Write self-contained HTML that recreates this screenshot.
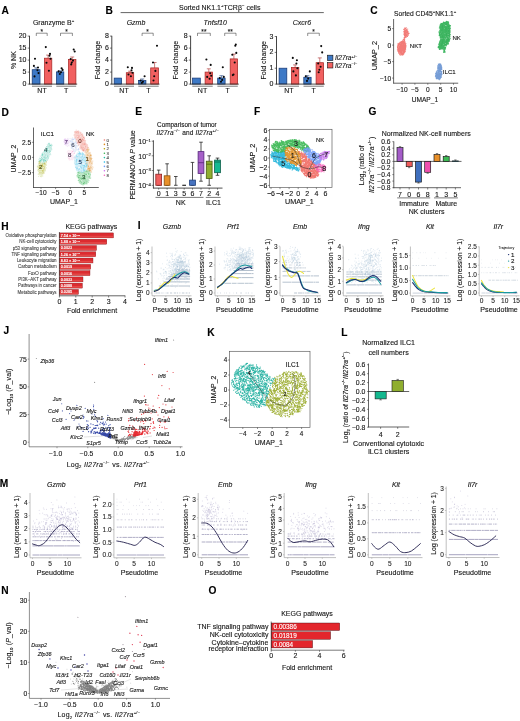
<!DOCTYPE html>
<html lang="en"><head><meta charset="utf-8"><title>Figure</title>
<style>
html,body{margin:0;padding:0;background:#fff;}
body{width:520px;height:721px;overflow:hidden;}
svg{display:block;font-family:"Liberation Sans",sans-serif;filter:blur(0.4px);}
svg text{white-space:pre;}
</style></head><body>
<svg width="520" height="721" viewBox="0 0 520 721">
<rect width="520" height="721" fill="#fff"/>
<g>
<text x="1.5" y="14.2" font-size="10.2" text-anchor="start" fill="#000" stroke="#000" stroke-width="0.12" font-weight="bold">A</text>
<path d="M29.5 35.8L29.5 84.4" stroke="#222" stroke-width="0.85" fill="none"/>
<path d="M27.7 84.1L29.5 84.1" stroke="#222" stroke-width="0.6" fill="none"/>
<text x="26.5" y="86.1" font-size="7.0" text-anchor="end" fill="#161616" stroke="#161616" stroke-width="0.12">0</text>
<path d="M27.7 72.1L29.5 72.1" stroke="#222" stroke-width="0.6" fill="none"/>
<text x="26.5" y="74.1" font-size="7.0" text-anchor="end" fill="#161616" stroke="#161616" stroke-width="0.12">5</text>
<path d="M27.7 60.1L29.5 60.1" stroke="#222" stroke-width="0.6" fill="none"/>
<text x="26.5" y="62.1" font-size="7.0" text-anchor="end" fill="#161616" stroke="#161616" stroke-width="0.12">10</text>
<path d="M27.7 48.1L29.5 48.1" stroke="#222" stroke-width="0.6" fill="none"/>
<text x="26.5" y="50.1" font-size="7.0" text-anchor="end" fill="#161616" stroke="#161616" stroke-width="0.12">15</text>
<path d="M27.7 36.1L29.5 36.1" stroke="#222" stroke-width="0.6" fill="none"/>
<text x="26.5" y="38.1" font-size="7.0" text-anchor="end" fill="#161616" stroke="#161616" stroke-width="0.12">20</text>
<rect x="32.2" y="69.7" width="7.8" height="14.4" fill="#3d79c6" stroke="#173a78" stroke-width="0.75"/>
<path d="M36.1 69.7L36.1 67.8" stroke="#173a78" stroke-width="0.6" fill="none"/>
<path d="M34.1 67.8L38.1 67.8" stroke="#173a78" stroke-width="0.6" fill="none"/>
<path d="M34.5 76.4h0M38.5 73.1h0M37.5 70.2h0M38 67.5h0M33.9 65.9h0M35 58.7h0" stroke="#0a0a0a" stroke-width="2.1" stroke-linecap="round" fill="none"/>
<rect x="44.5" y="58.2" width="7.3" height="25.9" fill="#f16060" stroke="#a82826" stroke-width="0.75"/>
<path d="M48.1 58.2L48.1 55.1" stroke="#a82826" stroke-width="0.6" fill="none"/>
<path d="M46.1 55.1L50.1 55.1" stroke="#a82826" stroke-width="0.6" fill="none"/>
<path d="M48.9 70.7h0M46.5 62.7h0M50.5 58.7h0M49.5 55.8h0M50 53.9h0M45.8 47.1h0" stroke="#0a0a0a" stroke-width="2.1" stroke-linecap="round" fill="none"/>
<rect x="56.5" y="71.9" width="7.3" height="12.2" fill="#3d79c6" stroke="#173a78" stroke-width="0.75"/>
<path d="M60.2 71.9L60.2 70.9" stroke="#173a78" stroke-width="0.6" fill="none"/>
<path d="M58.2 70.9L62.2 70.9" stroke="#173a78" stroke-width="0.6" fill="none"/>
<path d="M59.8 74h0M61 72.3h0M58.6 71.4h0M62.6 69.9h0M61.6 68.3h0" stroke="#0a0a0a" stroke-width="2.1" stroke-linecap="round" fill="none"/>
<rect x="68.5" y="59.6" width="7.4" height="24.5" fill="#f16060" stroke="#a82826" stroke-width="0.75"/>
<path d="M72.2 59.6L72.2 57" stroke="#a82826" stroke-width="0.6" fill="none"/>
<path d="M70.2 57L74.2 57" stroke="#a82826" stroke-width="0.6" fill="none"/>
<path d="M71.2 64.4h0M71.8 62.5h0M73 60.6h0M70.7 59.1h0M74.7 51.5h0M73.7 49.5h0" stroke="#0a0a0a" stroke-width="2.1" stroke-linecap="round" fill="none"/>
<path d="M29.3 84.1L77.2 84.1" stroke="#222" stroke-width="0.8" fill="none"/>
<text x="53.6" y="24.8" font-size="7.0" text-anchor="middle" fill="#161616" stroke="#161616" stroke-width="0.12">Granzyme B<tspan font-size="4.3" dy="-2.6">+</tspan><tspan dy="2.6" font-size="4.3">​</tspan></text>
<text x="13.9" y="62.6" font-size="7.0" text-anchor="middle" fill="#161616" stroke="#161616" stroke-width="0.12" transform="rotate(-90 13.9 60.1)">% NK</text>
<path d="M32 86.2L52 86.2" stroke="#222" stroke-width="0.6" fill="none"/>
<text x="42" y="93" font-size="7.0" text-anchor="middle" fill="#161616" stroke="#161616" stroke-width="0.12">NT</text>
<path d="M56.3 86.2L76.2 86.2" stroke="#222" stroke-width="0.6" fill="none"/>
<text x="66.2" y="93" font-size="7.0" text-anchor="middle" fill="#161616" stroke="#161616" stroke-width="0.12">T</text>
<path d="M36.3 35.6L36.3 33.2L47.2 33.2L47.2 35.6" stroke="#222" stroke-width="0.5" fill="none" stroke-linejoin="round" stroke-linecap="round"/>
<text x="41.8" y="33.9" font-size="6.5" text-anchor="middle" fill="#161616" stroke="#161616" stroke-width="0.12">*</text>
<path d="M60.5 35.6L60.5 33.2L72.4 33.2L72.4 35.6" stroke="#222" stroke-width="0.5" fill="none" stroke-linejoin="round" stroke-linecap="round"/>
<text x="66.5" y="33.9" font-size="6.5" text-anchor="middle" fill="#161616" stroke="#161616" stroke-width="0.12">*</text>
</g>
<g>
<text x="105.4" y="14" font-size="10.2" text-anchor="start" fill="#000" stroke="#000" stroke-width="0.12" font-weight="bold">B</text>
<path d="M120.6 12.6L323.8 12.6" stroke="#222" stroke-width="0.7" fill="none"/>
<text x="219.7" y="9.7" font-size="7.0" text-anchor="middle" fill="#161616" stroke="#161616" stroke-width="0.12">Sorted NK1.1<tspan font-size="4.3" dy="-2.6">+</tspan><tspan dy="2.6" font-size="4.3">​</tspan>TCRβ<tspan font-size="4.3" dy="-2.6">−</tspan><tspan dy="2.6" font-size="4.3">​</tspan> cells</text>
<path d="M111.8 35.8L111.8 84.4" stroke="#222" stroke-width="0.85" fill="none"/>
<path d="M110 84.1L111.8 84.1" stroke="#222" stroke-width="0.6" fill="none"/>
<text x="108.8" y="86.1" font-size="7.0" text-anchor="end" fill="#161616" stroke="#161616" stroke-width="0.12">0</text>
<path d="M110 72.1L111.8 72.1" stroke="#222" stroke-width="0.6" fill="none"/>
<text x="108.8" y="74.1" font-size="7.0" text-anchor="end" fill="#161616" stroke="#161616" stroke-width="0.12">2</text>
<path d="M110 60.1L111.8 60.1" stroke="#222" stroke-width="0.6" fill="none"/>
<text x="108.8" y="62.1" font-size="7.0" text-anchor="end" fill="#161616" stroke="#161616" stroke-width="0.12">4</text>
<path d="M110 48.1L111.8 48.1" stroke="#222" stroke-width="0.6" fill="none"/>
<text x="108.8" y="50.1" font-size="7.0" text-anchor="end" fill="#161616" stroke="#161616" stroke-width="0.12">6</text>
<path d="M110 36.1L111.8 36.1" stroke="#222" stroke-width="0.6" fill="none"/>
<text x="108.8" y="38.1" font-size="7.0" text-anchor="end" fill="#161616" stroke="#161616" stroke-width="0.12">8</text>
<rect x="114.2" y="78.1" width="7.4" height="6" fill="#3d79c6" stroke="#173a78" stroke-width="0.75"/>
<rect x="126.3" y="72.7" width="7.4" height="11.4" fill="#f16060" stroke="#a82826" stroke-width="0.75"/>
<path d="M130.1 72.7L130.1 71.2" stroke="#a82826" stroke-width="0.6" fill="none"/>
<path d="M128.1 71.2L132.1 71.2" stroke="#a82826" stroke-width="0.6" fill="none"/>
<path d="M130.9 76.3h0M128.5 74.5h0M132.5 72.7h0M131.5 70.3h0M132 67.9h0M127.8 67.3h0" stroke="#0a0a0a" stroke-width="2.1" stroke-linecap="round" fill="none"/>
<rect x="138.6" y="80.5" width="7.3" height="3.6" fill="#3d79c6" stroke="#173a78" stroke-width="0.75"/>
<path d="M142.2 80.5L142.2 79" stroke="#173a78" stroke-width="0.6" fill="none"/>
<path d="M140.2 79L144.2 79" stroke="#173a78" stroke-width="0.6" fill="none"/>
<path d="M141.8 82.9h0M143 81.7h0M140.6 80.5h0M144.6 76.3h0" stroke="#0a0a0a" stroke-width="2.1" stroke-linecap="round" fill="none"/>
<rect x="150.7" y="67.9" width="7.8" height="16.2" fill="#f16060" stroke="#a82826" stroke-width="0.75"/>
<path d="M154.6 67.9L154.6 62.5" stroke="#a82826" stroke-width="0.6" fill="none"/>
<path d="M152.6 62.5L156.6 62.5" stroke="#a82826" stroke-width="0.6" fill="none"/>
<path d="M153.5 80.5h0M154.2 76.3h0M155.4 70.9h0M153 62.5h0M157 45.7h0" stroke="#0a0a0a" stroke-width="2.1" stroke-linecap="round" fill="none"/>
<path d="M111.6 84.1L159.5 84.1" stroke="#222" stroke-width="0.8" fill="none"/>
<text x="136" y="24.8" font-size="7.0" text-anchor="middle" fill="#161616" stroke="#161616" stroke-width="0.12" font-style="italic">Gzmb</text>
<text x="97.3" y="62.6" font-size="7.0" text-anchor="middle" fill="#161616" stroke="#161616" stroke-width="0.12" transform="rotate(-90 97.3 60.1)">Fold change</text>
<path d="M114 86.2L134 86.2" stroke="#222" stroke-width="0.6" fill="none"/>
<text x="124" y="93" font-size="7.0" text-anchor="middle" fill="#161616" stroke="#161616" stroke-width="0.12">NT</text>
<path d="M138.3 86.2L158.7 86.2" stroke="#222" stroke-width="0.6" fill="none"/>
<text x="148.5" y="93" font-size="7.0" text-anchor="middle" fill="#161616" stroke="#161616" stroke-width="0.12">T</text>
<path d="M142.1 35.6L142.1 33.2L153.2 33.2L153.2 35.6" stroke="#222" stroke-width="0.5" fill="none" stroke-linejoin="round" stroke-linecap="round"/>
<text x="147.6" y="33.9" font-size="6.5" text-anchor="middle" fill="#161616" stroke="#161616" stroke-width="0.12">*</text>
<path d="M190.6 35.8L190.6 84.4" stroke="#222" stroke-width="0.85" fill="none"/>
<path d="M188.8 84.1L190.6 84.1" stroke="#222" stroke-width="0.6" fill="none"/>
<text x="187.6" y="86.1" font-size="7.0" text-anchor="end" fill="#161616" stroke="#161616" stroke-width="0.12">0</text>
<path d="M188.8 72.1L190.6 72.1" stroke="#222" stroke-width="0.6" fill="none"/>
<text x="187.6" y="74.1" font-size="7.0" text-anchor="end" fill="#161616" stroke="#161616" stroke-width="0.12">2</text>
<path d="M188.8 60.1L190.6 60.1" stroke="#222" stroke-width="0.6" fill="none"/>
<text x="187.6" y="62.1" font-size="7.0" text-anchor="end" fill="#161616" stroke="#161616" stroke-width="0.12">4</text>
<path d="M188.8 48.1L190.6 48.1" stroke="#222" stroke-width="0.6" fill="none"/>
<text x="187.6" y="50.1" font-size="7.0" text-anchor="end" fill="#161616" stroke="#161616" stroke-width="0.12">6</text>
<path d="M188.8 36.1L190.6 36.1" stroke="#222" stroke-width="0.6" fill="none"/>
<text x="187.6" y="38.1" font-size="7.0" text-anchor="end" fill="#161616" stroke="#161616" stroke-width="0.12">8</text>
<rect x="192.6" y="78.1" width="7.7" height="6" fill="#3d79c6" stroke="#173a78" stroke-width="0.75"/>
<rect x="205.1" y="72.1" width="7.4" height="12" fill="#f16060" stroke="#a82826" stroke-width="0.75"/>
<path d="M208.8 72.1L208.8 68.8" stroke="#a82826" stroke-width="0.6" fill="none"/>
<path d="M206.8 68.8L210.8 68.8" stroke="#a82826" stroke-width="0.6" fill="none"/>
<path d="M209.6 78.7h0M207.2 76.9h0M211.2 75.7h0M210.2 73.3h0M210.7 64.9h0M206.4 59.5h0" stroke="#0a0a0a" stroke-width="2.1" stroke-linecap="round" fill="none"/>
<rect x="217.7" y="78.1" width="7.4" height="6" fill="#3d79c6" stroke="#173a78" stroke-width="0.75"/>
<path d="M221.4 78.1L221.4 75.7" stroke="#173a78" stroke-width="0.6" fill="none"/>
<path d="M219.4 75.7L223.4 75.7" stroke="#173a78" stroke-width="0.6" fill="none"/>
<path d="M221 81.7h0M222.2 79.9h0M219.8 78.1h0M223.8 76.9h0M222.8 67.3h0" stroke="#0a0a0a" stroke-width="2.1" stroke-linecap="round" fill="none"/>
<rect x="230.2" y="58.9" width="7.4" height="25.2" fill="#f16060" stroke="#a82826" stroke-width="0.75"/>
<path d="M233.9 58.9L233.9 54.1" stroke="#a82826" stroke-width="0.6" fill="none"/>
<path d="M231.9 54.1L235.9 54.1" stroke="#a82826" stroke-width="0.6" fill="none"/>
<path d="M232.8 75.1h0M233.5 74.5h0M234.7 62.5h0M232.3 54.7h0M236.3 52.9h0M235.3 45.7h0M235.8 44.5h0" stroke="#0a0a0a" stroke-width="2.1" stroke-linecap="round" fill="none"/>
<path d="M190.4 84.1L238.8 84.1" stroke="#222" stroke-width="0.8" fill="none"/>
<text x="215.2" y="24.8" font-size="7.0" text-anchor="middle" fill="#161616" stroke="#161616" stroke-width="0.12" font-style="italic">Tnfsf10</text>
<text x="175.9" y="62.6" font-size="7.0" text-anchor="middle" fill="#161616" stroke="#161616" stroke-width="0.12" transform="rotate(-90 175.9 60.1)">Fold change</text>
<path d="M192.3 86.2L212.7 86.2" stroke="#222" stroke-width="0.6" fill="none"/>
<text x="202.5" y="93" font-size="7.0" text-anchor="middle" fill="#161616" stroke="#161616" stroke-width="0.12">NT</text>
<path d="M217.4 86.2L237.8 86.2" stroke="#222" stroke-width="0.6" fill="none"/>
<text x="227.6" y="93" font-size="7.0" text-anchor="middle" fill="#161616" stroke="#161616" stroke-width="0.12">T</text>
<path d="M197.5 35.6L197.5 33.2L210.3 33.2L210.3 35.6" stroke="#222" stroke-width="0.5" fill="none" stroke-linejoin="round" stroke-linecap="round"/>
<text x="203.9" y="33.9" font-size="6.5" text-anchor="middle" fill="#161616" stroke="#161616" stroke-width="0.12">**</text>
<path d="M224.7 35.6L224.7 33.2L236 33.2L236 35.6" stroke="#222" stroke-width="0.5" fill="none" stroke-linejoin="round" stroke-linecap="round"/>
<text x="230.3" y="33.9" font-size="6.5" text-anchor="middle" fill="#161616" stroke="#161616" stroke-width="0.12">**</text>
<path d="M276.5 36.2L276.5 84.4" stroke="#222" stroke-width="0.85" fill="none"/>
<path d="M274.7 84.1L276.5 84.1" stroke="#222" stroke-width="0.6" fill="none"/>
<text x="273.5" y="86.1" font-size="7.0" text-anchor="end" fill="#161616" stroke="#161616" stroke-width="0.12">0</text>
<path d="M274.7 68.2L276.5 68.2" stroke="#222" stroke-width="0.6" fill="none"/>
<text x="273.5" y="70.3" font-size="7.0" text-anchor="end" fill="#161616" stroke="#161616" stroke-width="0.12">1</text>
<path d="M274.7 52.4L276.5 52.4" stroke="#222" stroke-width="0.6" fill="none"/>
<text x="273.5" y="54.4" font-size="7.0" text-anchor="end" fill="#161616" stroke="#161616" stroke-width="0.12">2</text>
<path d="M274.7 36.5L276.5 36.5" stroke="#222" stroke-width="0.6" fill="none"/>
<text x="273.5" y="38.6" font-size="7.0" text-anchor="end" fill="#161616" stroke="#161616" stroke-width="0.12">3</text>
<rect x="279.1" y="68.2" width="7.7" height="15.8" fill="#3d79c6" stroke="#173a78" stroke-width="0.75"/>
<rect x="291.4" y="67.5" width="7.4" height="16.6" fill="#f16060" stroke="#a82826" stroke-width="0.75"/>
<path d="M295.1 67.5L295.1 64.9" stroke="#a82826" stroke-width="0.6" fill="none"/>
<path d="M293.1 64.9L297.1 64.9" stroke="#a82826" stroke-width="0.6" fill="none"/>
<path d="M295.9 75.4h0M293.4 71.4h0M297.4 68.2h0M296.4 63.5h0M296.9 60.3h0M292.8 57.9h0" stroke="#0a0a0a" stroke-width="2.1" stroke-linecap="round" fill="none"/>
<rect x="303.8" y="77.3" width="7.3" height="6.8" fill="#3d79c6" stroke="#173a78" stroke-width="0.75"/>
<path d="M307.4 77.3L307.4 75.7" stroke="#173a78" stroke-width="0.6" fill="none"/>
<path d="M305.4 75.7L309.4 75.7" stroke="#173a78" stroke-width="0.6" fill="none"/>
<path d="M307 80.9h0M308.2 78.6h0M305.8 76.2h0M309.8 71.4h0" stroke="#0a0a0a" stroke-width="2.1" stroke-linecap="round" fill="none"/>
<rect x="316.1" y="62.7" width="7.5" height="21.4" fill="#f16060" stroke="#a82826" stroke-width="0.75"/>
<path d="M319.8 62.7L319.8 57.9" stroke="#a82826" stroke-width="0.6" fill="none"/>
<path d="M317.8 57.9L321.8 57.9" stroke="#a82826" stroke-width="0.6" fill="none"/>
<path d="M318.7 72.2h0M319.4 69.8h0M320.6 66.7h0M318.2 63.5h0M322.2 52.4h0M321.2 46.1h0" stroke="#0a0a0a" stroke-width="2.1" stroke-linecap="round" fill="none"/>
<path d="M276.3 84.1L324.8 84.1" stroke="#222" stroke-width="0.8" fill="none"/>
<text x="301.9" y="24.8" font-size="7.0" text-anchor="middle" fill="#161616" stroke="#161616" stroke-width="0.12" font-style="italic">Cxcr6</text>
<text x="263.8" y="62.8" font-size="7.0" text-anchor="middle" fill="#161616" stroke="#161616" stroke-width="0.12" transform="rotate(-90 263.8 60.3)">Fold change</text>
<path d="M278.8 86.2L299 86.2" stroke="#222" stroke-width="0.6" fill="none"/>
<text x="288.9" y="93" font-size="7.0" text-anchor="middle" fill="#161616" stroke="#161616" stroke-width="0.12">NT</text>
<path d="M303.5 86.2L323.8 86.2" stroke="#222" stroke-width="0.6" fill="none"/>
<text x="313.6" y="93" font-size="7.0" text-anchor="middle" fill="#161616" stroke="#161616" stroke-width="0.12">T</text>
<path d="M307.7 35.6L307.7 33.2L319.3 33.2L319.3 35.6" stroke="#222" stroke-width="0.5" fill="none" stroke-linejoin="round" stroke-linecap="round"/>
<text x="313.5" y="33.9" font-size="6.5" text-anchor="middle" fill="#161616" stroke="#161616" stroke-width="0.12">*</text>
<rect x="327.5" y="55.2" width="5.4" height="5.4" fill="#3d79c6" stroke="#111" stroke-width="0.6"/>
<rect x="327.5" y="62.6" width="5.4" height="5.4" fill="#f16060" stroke="#111" stroke-width="0.6"/>
<text x="335" y="60.3" font-size="6.6" text-anchor="start" fill="#161616" stroke="#161616" stroke-width="0.12"><tspan font-style="italic">Il27ra</tspan><tspan font-size="4.1" dy="-2.8">+/−</tspan><tspan dy="2.8" font-size="4.1">​</tspan></text>
<text x="335" y="67.7" font-size="6.6" text-anchor="start" fill="#161616" stroke="#161616" stroke-width="0.12"><tspan font-style="italic">Il27ra</tspan><tspan font-size="4.1" dy="-2.8">−/−</tspan><tspan dy="2.8" font-size="4.1">​</tspan></text>
</g>
<g>
<text x="370.3" y="14.1" font-size="10.2" text-anchor="start" fill="#000" stroke="#000" stroke-width="0.12" font-weight="bold">C</text>
<text x="425.2" y="15.6" font-size="6.7" text-anchor="middle" fill="#161616" stroke="#161616" stroke-width="0.12">Sorted CD45<tspan font-size="4.3" dy="-2.6">+</tspan><tspan dy="2.6" font-size="4.3">​</tspan>NK1.1<tspan font-size="4.3" dy="-2.6">+</tspan><tspan dy="2.6" font-size="4.3">​</tspan></text>
<path d="M393.6 19L393.6 83.5" stroke="#222" stroke-width="0.7" fill="none"/>
<path d="M393.3 83.2L458.2 83.2" stroke="#222" stroke-width="0.7" fill="none"/>
<path d="M392 28.6L393.6 28.6" stroke="#222" stroke-width="0.5" fill="none"/>
<text x="391.2" y="31" font-size="6.6" text-anchor="end" fill="#161616" stroke="#161616" stroke-width="0.12">5</text>
<path d="M392 45.1L393.6 45.1" stroke="#222" stroke-width="0.5" fill="none"/>
<text x="391.2" y="47.5" font-size="6.6" text-anchor="end" fill="#161616" stroke="#161616" stroke-width="0.12">0</text>
<path d="M392 61.6L393.6 61.6" stroke="#222" stroke-width="0.5" fill="none"/>
<text x="391.2" y="64" font-size="6.6" text-anchor="end" fill="#161616" stroke="#161616" stroke-width="0.12">−5</text>
<path d="M392 78.1L393.6 78.1" stroke="#222" stroke-width="0.5" fill="none"/>
<text x="391.2" y="80.5" font-size="6.6" text-anchor="end" fill="#161616" stroke="#161616" stroke-width="0.12">−10</text>
<path d="M402.1 83.2L402.1 84.8" stroke="#222" stroke-width="0.5" fill="none"/>
<text x="402.1" y="91.9" font-size="6.6" text-anchor="middle" fill="#161616" stroke="#161616" stroke-width="0.12">−10</text>
<path d="M414.9 83.2L414.9 84.8" stroke="#222" stroke-width="0.5" fill="none"/>
<text x="414.9" y="91.9" font-size="6.6" text-anchor="middle" fill="#161616" stroke="#161616" stroke-width="0.12">−5</text>
<path d="M427.8 83.2L427.8 84.8" stroke="#222" stroke-width="0.5" fill="none"/>
<text x="427.8" y="91.9" font-size="6.6" text-anchor="middle" fill="#161616" stroke="#161616" stroke-width="0.12">0</text>
<path d="M440.7 83.2L440.7 84.8" stroke="#222" stroke-width="0.5" fill="none"/>
<text x="440.7" y="91.9" font-size="6.6" text-anchor="middle" fill="#161616" stroke="#161616" stroke-width="0.12">5</text>
<path d="M453.5 83.2L453.5 84.8" stroke="#222" stroke-width="0.5" fill="none"/>
<text x="453.5" y="91.9" font-size="6.6" text-anchor="middle" fill="#161616" stroke="#161616" stroke-width="0.12">10</text>
<text x="424.9" y="101.6" font-size="6.6" text-anchor="middle" fill="#161616" stroke="#161616" stroke-width="0.12">UMAP_1</text>
<text x="374.6" y="58.2" font-size="7.3" text-anchor="middle" fill="#161616" stroke="#161616" stroke-width="0.12" transform="rotate(-90 374.6 55.6)">UMAP_2</text>
<path d="M402.1 51.1h0M399.9 48.7h0M398.2 43.9h0M397.8 47.5h0M397.5 47.5h0M402.9 45h0M403.3 49.3h0M397.4 49.2h0M399.5 46.8h0M399.9 51.2h0M401.3 43.4h0M402 52.3h0M400 44.2h0M400.2 54.5h0M400.7 42.4h0M403 49h0M400 43.8h0M400.1 47.7h0M400 45.6h0M401 53.6h0M402.8 45h0M399.2 47.9h0M399 43.8h0M402.2 42.4h0M401.8 46.6h0M403.5 51.5h0M403.6 50.9h0M400.7 50.7h0M400.1 49.3h0M400.1 47.3h0M403.4 50.5h0M403.8 47.5h0M402.7 41.6h0M398.9 48.8h0M403.3 49.1h0M403.5 44.5h0M403.4 48h0M404.9 51.9h0M403.2 54.1h0M403 46.6h0M402 44.7h0M398.8 51.8h0M405.3 49.1h0M398.1 48.2h0M401.9 46.9h0M399.3 43.4h0M402.8 43.1h0M401 41.8h0M399 51.8h0M402.5 47.7h0M399.4 50.4h0M405.7 47.4h0M401.9 53.4h0M398.9 44.6h0M403 53.6h0M399.9 42.2h0M405.1 44.9h0M404.3 43.2h0M402.9 53.4h0M404 46.2h0M403.5 43.3h0M399.9 47h0M405.2 43.3h0M405.8 46h0M399.2 43.9h0M403.6 48h0M399.9 52.9h0M405.1 42.5h0M398.9 53h0M404.9 45.2h0M399.5 47.6h0M402.3 42.2h0M404.9 48.8h0M404.5 44.6h0M399.7 54.6h0M403.8 53.5h0M403.7 45.1h0M401.9 43.1h0M404.6 41.8h0M401.7 42h0M405.2 47.1h0M401.6 41.7h0M399 46.8h0M401.8 49.8h0M402.6 46.3h0M403 43.5h0M399.5 52.5h0M398.6 44.1h0M399.5 48h0M401.7 42.9h0M403.6 52.7h0M402.4 51.1h0M401.4 46.4h0M402.5 43h0M399.1 52.4h0M399.4 46.7h0M405.6 45.2h0M398.6 51.5h0M402.3 49.6h0M397.4 46.8h0M403.5 42.2h0M405.5 48.1h0M403.8 50.3h0M401.3 53.5h0M398.6 53.1h0M402.8 47.5h0M403.4 47.2h0M404.4 42.3h0M402 53.6h0M405.7 44.3h0M403.3 47.4h0M404.1 47.6h0M401.9 47.1h0M399.7 53.7h0M403.5 52.3h0M405.5 45.1h0M401.9 49h0M398.5 51.6h0M398.6 49.4h0M402.5 48.2h0M403 52.4h0M402.9 48.7h0M402.9 49h0M402.4 53.6h0M401 48.8h0M403.3 42.1h0M401.1 43h0M398.9 44.4h0M401.9 48.8h0M404.4 48h0M405.1 46.8h0M403.6 48.7h0M403.1 44.9h0M398.3 48.7h0M400.4 51.5h0M402 51.8h0M402.6 54.9h0M400 48.8h0M398 48.9h0M401.1 55.1h0M399.4 51.5h0M402 48.7h0M404.3 49.3h0M401 49.4h0M398.8 45.4h0M399.9 46.8h0M399 49.8h0M402.4 50.6h0M400 45.1h0M404 46.3h0M399.3 47h0M405.8 47.2h0M403.3 47.3h0M405.3 51.3h0M401.5 42.2h0M400.8 47.6h0M399.9 48.5h0M399 47.9h0M402 50.4h0M403.7 51.6h0M400.9 47.4h0M405.1 46.2h0M405.4 48.9h0M399.7 50.2h0M403.1 48.2h0M400.4 47.2h0M397.7 45.1h0M398.7 50.5h0M400.3 48.2h0M403.5 49.6h0M400.5 50.2h0M401.1 48.2h0M400.5 54.9h0M402.5 42.7h0M405.1 49.1h0M401.2 46.3h0M403.9 42.2h0M404.7 48.8h0M400.7 42.6h0M398.8 52.5h0M404.2 41.8h0M401.3 52h0M401.7 53.2h0M400.4 50.3h0M399.5 53.1h0M404.6 49.2h0M400 45.5h0M402.5 42.3h0M401.9 45.1h0M400.3 45.2h0M404.5 43.6h0M399.7 43.5h0M397.4 46.8h0M401.7 47.1h0M404.9 48.9h0M401.9 50.8h0M398 48.5h0M405.5 48.5h0M400.1 51.5h0M404.8 49.6h0M404.9 43.1h0M402.2 51h0M398.7 44.5h0M398 45.2h0M403.8 50.8h0M403.6 50.3h0M404.6 43.4h0M402.1 41.3h0M401.5 52.9h0M401 45.6h0M399.4 46.7h0M404.4 45h0M401.1 51.5h0M403.5 50.8h0M401.5 43.3h0M406.1 46.1h0M400.9 44.4h0M403.3 50.3h0M401.6 51h0M402.1 50.8h0M402.4 44.9h0M405.2 44.9h0M404.5 47.6h0M398.5 52.8h0M402.2 53.8h0M404.3 46.9h0M398.2 45.1h0M399.3 46.7h0M403.6 47.7h0M401.5 42.6h0M400.6 44h0M402.4 51.2h0M402 41.4h0M399.9 44.4h0M399.6 45h0M405.2 51.6h0M400.3 54.7h0M401.6 43.7h0M403.9 44.8h0M404.5 51.9h0M399.8 47.9h0M403.8 50.6h0M401.7 44.1h0M400.5 51h0M401.5 51.3h0M403.3 45.9h0M397.6 50.9h0M400.4 49.1h0M401.2 50.4h0M398.7 51.8h0M404.9 50.4h0M403.9 44.7h0M397.7 45.8h0M398.4 47h0M404.1 45.2h0M405 47.6h0M398.9 50.4h0M401.1 45.4h0M404.1 45.1h0M405.9 43.5h0M400.6 46.6h0M402.8 47.9h0M398.9 49.9h0M404.8 51.8h0M400.4 53.3h0M401.8 42.1h0M403.8 49.1h0M401.4 50.6h0M401.1 41.5h0M405.9 45.3h0M403.8 53.7h0M401 52.6h0M400.1 46.6h0M400.5 44.9h0M402.1 45.8h0M400 46.9h0M403 46.9h0M402.3 46.2h0M402.1 54.3h0M405.1 45.5h0M403.2 43.8h0M400.4 50.7h0M402.7 42.2h0M403.3 49.8h0M398.9 52.4h0M402.7 42.8h0M398.2 49.9h0M399.8 51.5h0M398.8 50.2h0M401.4 48h0M405.2 51.1h0M400.1 50.6h0M399.1 50.8h0M402.4 49.7h0M398.9 50.6h0M401.7 51.5h0M405.7 49.7h0M402.5 44.7h0M403 53.3h0M398.5 49h0M403.1 54.1h0M397.7 47.9h0M403.8 50.1h0M404.9 50.2h0M402.6 49.8h0M402 41.3h0M404.6 51.1h0M403.4 42h0M403.6 46.3h0M404.4 43.4h0M399.9 43.1h0M403.4 47.1h0M400.3 43.7h0M403.4 48.8h0M400.4 45.7h0M397.9 46.9h0M401.9 44.4h0M399.4 49.6h0M405.3 49.3h0M400.4 53.3h0M401.8 49.5h0M403.9 45.3h0M403.1 44.5h0M402.8 44.6h0M404.3 46h0M403.3 53.3h0M404.8 48.2h0M401.7 44.9h0M404.7 52h0M401.9 48.2h0M405.5 48.8h0M404.3 48.7h0M402.3 47.1h0M400.6 47.5h0M400.8 42.8h0M400.3 54.7h0M401.6 54.4h0M400.5 48h0M404.6 50.6h0M399.9 47h0M403.3 47.1h0M399.3 44.2h0M403.6 44h0M398.9 44.8h0M401.4 44.3h0M401.6 53.9h0M402.3 53.6h0M405.6 48.4h0M398.9 52.2h0M402.8 55.1h0M399.5 49.6h0M404.2 49.4h0M403.2 46.5h0M402.3 45.9h0M399.8 43.7h0M398.9 50.2h0M400.2 45.9h0M405.1 41.9h0M405.7 47.3h0M404.4 52.7h0M403.3 41.2h0M403.1 47.7h0M400.2 48.8h0M403.2 46.6h0M400.8 43.9h0M398.4 49.8h0M403.1 49.5h0M403.9 45.6h0M399.7 45h0M404 44.8h0M401.1 45.3h0M403.3 44.3h0M403.8 52.3h0M402 43.7h0M399.9 49.1h0M403.7 43.8h0M403 54.4h0M403.6 54.3h0M405.9 45.2h0M400.5 42.4h0M402.7 47.9h0M404.8 45.4h0M405.1 48.1h0M403.7 42.6h0M399.5 50.7h0M398.3 44.5h0M402.6 46.5h0M400.1 45.8h0M399.9 49h0M402.8 53.1h0M400.5 55h0M400.8 47.5h0M400.5 52.1h0M404.1 47.2h0M400.2 42.2h0M400.2 43.8h0M403.1 52h0M401.7 48h0M400.3 55h0M404.6 46.6h0M402.4 46.5h0M405.6 49.8h0M405.2 49.7h0M398.3 45.5h0M402.6 54.5h0M403 46.1h0M403.4 50.7h0M398.6 46.6h0M403.4 47.1h0M401 45.7h0M404.1 46.4h0M398.1 43.4h0M399.7 44h0M403.1 45.2h0M404.5 51.1h0M402.1 47.8h0M400.5 47.7h0M403.6 41.6h0M399.1 51.5h0M403.3 49.2h0M399.6 43.9h0M401.8 44.3h0M403.6 52.2h0M403.7 49.6h0M405.6 48.6h0M399.5 44.8h0M398.2 49.9h0M404.4 49.8h0M398.5 51h0M403.8 46.3h0M403.4 41.2h0M403.8 39.2h0M404.5 38h0M403.7 41.6h0M404.1 38.5h0M404.6 40.4h0M403.4 41.5h0M403.8 39.3h0M404.8 36.6h0M402.9 40.5h0M404.7 38.3h0M404.2 37.4h0M404.4 38h0M403.8 41.1h0M405.4 36.4h0M402.8 41.3h0M404.2 40.1h0M402.8 40.9h0M404.6 37.1h0M404.7 37.1h0M402.8 41.1h0M404.9 36.9h0M404.7 39.5h0M405.3 37.5h0M404.3 41.4h0M403.1 39.8h0M403.9 39.5h0M404.7 36.9h0M406.1 35.8h0M407.9 32.9h0M406.7 32.2h0M406.2 30.1h0M404.3 29.7h0M405 33.3h0M405.4 32.4h0M408 31.2h0M409.2 33.3h0M405.1 31h0M406.7 34h0M406.1 36.2h0M406.1 35.2h0M408.2 35.3h0M407.7 31h0M408 32.6h0M405.9 30.6h0M406.9 35.5h0M404.7 34.7h0M404.9 33.1h0M407.7 29.1h0M404.5 35.6h0M406.4 34.4h0M405 29h0M405.2 32.4h0M406.2 35.7h0M405.9 30.8h0M406.4 35.3h0M406.1 33.7h0M406.9 32.9h0M405.7 33.2h0M405.2 34.2h0M404.8 31.4h0M404.5 33.7h0M407.1 31.3h0M405.5 36.3h0M406.8 30.4h0M405.9 31.3h0M407.7 35.1h0M408.4 33.1h0M404.6 33.5h0M407.5 32h0M404.8 32.9h0M405.7 31.1h0M404.7 35.4h0M405.2 30.7h0M407.8 34.6h0M406.3 37h0M406 36.8h0M404.3 34.9h0M405.3 29.1h0M407.2 32.5h0M405.4 30.6h0M407.5 35.3h0M408.4 35h0M404.9 29.6h0M406.4 32.5h0M403.9 34.2h0M408.3 33.3h0M408.4 35.1h0M404.2 33.1h0M407.2 30.2h0M407.5 36.5h0M404.7 34.1h0M405.5 34.9h0M405.2 30.2h0M406.7 32.5h0M405.8 34.8h0M403.6 29.3h0M405.3 30.3h0M404.9 31.3h0M406.3 27.7h0M406.6 33.7h0M404.1 32.3h0M405.5 31.8h0M405.9 32.1h0M408 31.8h0M405.6 31.8h0M406.1 37.3h0M404.5 34.7h0M408.1 34h0M404.6 28.5h0M406.9 35.9h0M405.2 31.7h0M407.3 30.9h0M405.1 28.3h0M405.9 28.8h0M404.7 31h0M406.1 34.1h0M405.7 28.2h0M408.6 33.4h0M405.1 32.7h0M406.9 30.1h0M404.6 30.3h0M405 34.2h0M403.7 31.3h0M407.4 31.1h0M406.3 35.8h0M406.5 29.5h0M404.1 33.9h0M406.8 31.3h0M407.1 30.5h0M405.2 29.1h0M405.1 34.1h0M404.9 27.8h0M407.3 35h0M404.2 32.1h0M405.5 35.6h0M405.1 31.9h0M407.1 33.7h0" stroke="#f0645f" stroke-width="1.1" stroke-linecap="round" fill="none" opacity="0.85"/>
<path d="M438.9 45.1h0M440.7 44.5h0M448.5 28.3h0M447.6 32.3h0M439.3 45.5h0M443.7 50.1h0M445.3 40h0M442.4 25.6h0M445.6 32.5h0M446.4 33.4h0M442.5 46.8h0M440.7 27.1h0M440 48.4h0M442.7 29.5h0M445.7 31.7h0M441.2 24.3h0M440.5 32.4h0M444 33.2h0M440.7 27.1h0M442.4 30.1h0M443.2 38.5h0M449.2 30.2h0M440.6 45h0M444.9 24.4h0M449.4 31.3h0M446.9 42.1h0M445.1 33.6h0M440.4 27h0M440 40.8h0M444.7 31h0M441.1 41.2h0M441.4 44.6h0M441.1 39.4h0M446.8 23.5h0M440.6 42.1h0M449.8 26.7h0M442.7 43.5h0M443.5 29.7h0M443.5 43.4h0M442.9 30.2h0M449.1 41.5h0M444.6 43.3h0M443.7 52.4h0M448.7 40.3h0M449.4 25.7h0M440.3 40.7h0M449.7 26.6h0M446.9 40.7h0M447.5 37.4h0M442 41h0M440.6 33h0M440.1 31.4h0M445.7 32.2h0M449 34.7h0M442.9 36.6h0M449.2 29h0M442.1 29.8h0M441.2 31.3h0M449.8 32.4h0M443.5 49.9h0M448.8 36.2h0M445.2 41.2h0M444.7 50h0M443.8 36.2h0M445.8 35.5h0M447.8 41.5h0M439.7 46h0M442.9 35.8h0M440.5 25.5h0M449.3 40.1h0M442.8 32.5h0M441.8 39.7h0M440 48.1h0M440.3 41.1h0M440.9 40h0M444.4 22.6h0M442 42.5h0M449.9 30.6h0M440.5 35.3h0M442.7 26.1h0M443.8 26.9h0M441.2 45.9h0M442.5 36.4h0M442.7 41.5h0M443 48.6h0M441.4 34.2h0M442.4 39.4h0M446.4 42.7h0M443.6 42.1h0M444.5 23.7h0M442.4 43.4h0M442.1 42.7h0M444.5 51.5h0M439.9 46.6h0M441.6 39.4h0M441.8 47h0M439.5 33.4h0M440.1 32.3h0M444 44.2h0M441.1 48.8h0M446.9 41.9h0M446.4 40.5h0M443.3 38.8h0M440.7 32.2h0M446.2 33.5h0M447.8 37.9h0M448.2 30.2h0M443.4 46.9h0M445 52.2h0M448.2 26.8h0M445.3 31.9h0M442.4 39.4h0M446.4 31.9h0M440.5 45.8h0M443.8 45.7h0M446.6 22.1h0M442.7 25.9h0M448.2 42.3h0M450 31h0M449.3 40.7h0M441.7 44.1h0M438.6 47.3h0M446.7 37.1h0M449.1 33.6h0M445.1 36.5h0M447.8 28.7h0M441.5 40.5h0M448.8 36h0M448.1 30.9h0M448.8 24.8h0M448.6 35.1h0M444.1 40.5h0M439.7 43.9h0M445.1 24.4h0M442.8 37.9h0M442.4 36h0M439.7 44.7h0M440.8 46.6h0M449.1 34.3h0M448.9 24.9h0M448.7 23.1h0M440.8 25.9h0M446.4 21.4h0M445.8 33.7h0M445 25.2h0M442.8 27.2h0M450.3 34.6h0M447.5 35.5h0M445.1 28.8h0M439.4 45.1h0M440.3 46.6h0M447.3 27.9h0M442 27.3h0M442.4 40.4h0M440.5 47.7h0M441.4 40.3h0M440.4 41.5h0M447.2 39.4h0M446.8 36.6h0M450.2 38.3h0M444.7 40.4h0M442.8 38.7h0M446.8 25.8h0M440.3 49.2h0M441.5 30.7h0M441.4 39.8h0M446.5 28.5h0M443.7 42.2h0M441 30.1h0M440.4 40.8h0M446.7 34.7h0M445 35.6h0M443 45.7h0M445.3 48.7h0M442.2 26.6h0M447.2 33.9h0M442.2 32.2h0M439.8 30.3h0M443.9 42.5h0M441.6 28.7h0M448 23.6h0M443.3 35.7h0M448.4 21.9h0M448.8 33.7h0M443.9 25.1h0M441.9 25.7h0M440.9 44.7h0M450 30.4h0M440.1 27.2h0M442.5 48.1h0M444.6 37.2h0M446.5 31.7h0M440.6 29.1h0M443.1 26.3h0M447.5 27.7h0M443.6 23.2h0M447.4 23.2h0M440.6 32.4h0M443.4 34.1h0M441.3 44.9h0M444.5 22.5h0M449.3 39.8h0M439.6 46.9h0M445.2 27.6h0M441.2 24.6h0M444.7 25.4h0M444 51.8h0M448.7 33.4h0M446.9 23.4h0M445.6 30.3h0M442.4 23.9h0M446.7 23.8h0M440.8 32.5h0M448 28.5h0M441.6 45.6h0M448.1 23.5h0M443.3 33h0M445.3 34.7h0M440.6 26.6h0M438.8 46.8h0M447.6 39.9h0M447.8 39.1h0M444.7 37.3h0M442.5 26.7h0M447.3 27.7h0M447.2 28.5h0M445.5 32.6h0M447.7 39.8h0M442.8 37.7h0M446.5 22.6h0M444.6 44.8h0M445.1 35.5h0M444.4 24.9h0M444.4 36.9h0M441.2 47.3h0M441 45.8h0M441.5 23.5h0M447.2 39.9h0M443.7 22.5h0M444.2 27.2h0M441.4 40.2h0M445.8 34.4h0M447.1 36.8h0M447.6 37.9h0M443.8 47.4h0M444.1 34.2h0M440.1 34.7h0M439.9 25.8h0M441.8 47.9h0M446.2 34.5h0M448 43h0M443.7 45.5h0M445.4 49h0M444.9 26.6h0M440.3 26.7h0M446.2 29.4h0M444.2 31.6h0M440.7 27.3h0M450.3 25.7h0M443.5 35.7h0M443.7 32.5h0M440.1 27.2h0M448.1 24.9h0M441.4 34.7h0M440.5 29.7h0M446.4 43.5h0M443.4 24.9h0M444.9 48.2h0M440.6 29.4h0M448.8 32.9h0M440.6 39h0M442.2 37.6h0M441.8 37.8h0M446.9 36.5h0M446.4 24h0M443.5 27.6h0M439.8 45.7h0M443.5 36.3h0M446.1 21.9h0M440.4 30.3h0M447.3 25.5h0M445.5 31.3h0M445.2 35.3h0M444.6 24.9h0M448.4 31.1h0M447.2 37.3h0M444.4 48.7h0M449.7 27.3h0M445.7 27.9h0M447.4 32.5h0M443.2 38.2h0M444.3 45.5h0M444.5 25.2h0M442.6 45.3h0M445.1 38.5h0M445.1 38.6h0M441.6 39.1h0M445.6 28.6h0M442.4 27.7h0M442.1 41.6h0M440.7 37.7h0M442 37.2h0M448.3 31.8h0M445.8 24.3h0M445.2 22.9h0M448.4 28.2h0M439.6 48.4h0M443.3 26.6h0M440.7 44.4h0M442.7 37.7h0M443.6 41.3h0M444.6 44.8h0M447.2 22.6h0M447.5 27.5h0M443 42.4h0M444.3 51.3h0M439.1 45.2h0M444.2 38.6h0M444.4 44.9h0M442.2 33.1h0M443.4 40.1h0M443.4 39.9h0M439.9 41.8h0M443 29.4h0M444.9 42.8h0M449.1 40.7h0M442.7 44.3h0M442.3 36h0M444.7 37.3h0M443.7 26.7h0M439.8 42.2h0M447.9 37.2h0M443 35h0M440.6 30.9h0M440.3 29.4h0M446.3 37h0M446.5 37h0M444.6 32.4h0M445.7 37.7h0M444.1 31.9h0M441.6 25.6h0M439.8 34.7h0M448.3 24h0M440 34.8h0M444.8 26h0M442.6 45.4h0M444.2 31.9h0M442 42.8h0M439.9 31.5h0M444.9 45.4h0M439.9 32.6h0M442.2 40.9h0M446.9 44.4h0M449.8 35.8h0M449.3 32.7h0M445.7 32.9h0M448.6 35.3h0M439.7 42.7h0M439.1 32.8h0M442 40.6h0M445.6 30.8h0M440 41h0M441.2 40.6h0M441 37.1h0M442.8 37.5h0M442.1 33.8h0M443.3 23.7h0M443.6 31.9h0M448.5 26.3h0M445.8 23h0M442.7 39.7h0M442.4 40.9h0M439.6 35.3h0M442.7 40.5h0M442.4 45.9h0M445.5 47.3h0M444.7 52.1h0M447.7 40.7h0M442.6 36.5h0M442.1 27h0M444.9 29.9h0M446 29.6h0M446.3 39.1h0M446.8 43.6h0M446.7 37.2h0M443.7 34.3h0M443 43h0M442.7 28.8h0M448.1 43.7h0M440.9 46.1h0M449.8 30h0M449.4 28h0M446.3 31.7h0M443.1 36.1h0M442.6 46.4h0M440 27.5h0M444.9 43.5h0M440.7 28.9h0M444 39.6h0M441 33.2h0M439.3 45.1h0M442.6 43.5h0M445.5 34.7h0M444.1 34.9h0M445.4 31h0M447.5 27.5h0M445.9 23.4h0M443.8 27.4h0M443.7 38.8h0M448 40.3h0M445.2 40.1h0M441.8 30.2h0M443.7 25.8h0M444.1 29.2h0M444.2 30.1h0M448.7 35.6h0M448.5 25.5h0M440.7 43.5h0M444 47.7h0M440.8 48.3h0M438.8 46.6h0M444.5 23.5h0M441.4 40.3h0M449.4 36.5h0M448.8 33.3h0M441.1 42.4h0M447.7 33.2h0M443.3 37.3h0M441.6 37.1h0M441.5 23.9h0M450 31h0M440.1 37.8h0M448.7 31h0M443.8 40.8h0M448.8 41.3h0M445.9 39.9h0M445.8 29.9h0M444 46.9h0M444 40.8h0M441.5 46.7h0M443.9 47.6h0M447.7 22h0M441.1 27h0M447.3 30.4h0M441.6 37.2h0M439.2 43.8h0M449.6 28.5h0M449 24.5h0M443.9 29.9h0M448.9 25.5h0M441.3 32.9h0M446.2 34.9h0M446 28.9h0M443.6 51.8h0M445.1 33.8h0M446.2 35.9h0M440.9 32.8h0M439.1 46.3h0M439.1 48.2h0M443.2 47.4h0M449.6 39.4h0M442 32.4h0M449.2 36.5h0M446.2 43h0M445.9 37.1h0M447.2 24.6h0M446.7 27.8h0M443.8 48.4h0M445.4 28.4h0M450 31.4h0M445.9 26.8h0M447.4 30.1h0M443.8 45.2h0M441 37.1h0M447.9 35.5h0M440.1 31.5h0M441.1 47.9h0M446.6 34.9h0M447.6 33.3h0M444 43.3h0M445.5 44.4h0M440.4 49.2h0M447.6 25.5h0M439.8 46.7h0M443.7 24.8h0M446.5 23.5h0M446.5 45.2h0M443.2 39.7h0M442.7 41.9h0M441.2 42.8h0M442 39.4h0M442.3 42.7h0M444.3 40.7h0M439.4 27.9h0M447.5 21.7h0M450.3 28.6h0M439.8 30.6h0M449.1 35.6h0M445.1 22.3h0M441.5 26.1h0M445.8 27.1h0M448.6 26.9h0M444.7 41.4h0M446.1 33h0M442.2 28.7h0M447.6 27.2h0M443.5 31.8h0M446.7 27h0M439 44.9h0M439.9 35.1h0M446.5 29.3h0M443.3 23.3h0M441.7 33.1h0M445.2 28.2h0M444.2 43.1h0M444.1 46.1h0M449.9 30.2h0M444 25.8h0M447.5 25.1h0M445.5 33.8h0M439.1 45h0M446.2 23.2h0M442.8 31.2h0M446.4 35.7h0M447 36.2h0M444.6 36.3h0M443.6 22.2h0M443.6 42.2h0M440.5 40h0M446.5 29.5h0M440.2 42h0M441.7 45.5h0M440.3 45.6h0M447.5 31.5h0M445.5 42.2h0M441.7 48.3h0M444.4 42h0M440.2 44.4h0M446 27.7h0M441 43.1h0M443.9 22.7h0M440.6 37.5h0M443.3 30.4h0M447.4 34.8h0M443.1 29h0M448 25.2h0M449.1 26.6h0M442.3 34.2h0M441 44.2h0M449 35.8h0M441 36.6h0M448 23.6h0M444.9 45.1h0M445 37.2h0M441.9 33h0M448.4 25.5h0M447.5 25.5h0M441.7 36.4h0M443.4 39h0M442.2 46.2h0M444.1 34.2h0M442.3 40.6h0M447.5 32.3h0M446 27.6h0M444.2 29.5h0M442.5 23.4h0M447.1 31.1h0M445.7 32.9h0M439.8 34.6h0M439.2 47.5h0M444.6 44.1h0M446.4 34.6h0M444.5 50.9h0M446.6 29.6h0M441.2 26.5h0M441 33.9h0M444.8 42.4h0M441.5 46.4h0M444.4 37.4h0M444.3 37.1h0M441.1 39.6h0M449 39.1h0M447.6 28.6h0M439.4 46.1h0M441.8 29h0M441.4 33.2h0M441.5 30.4h0M439.5 41.9h0M441.1 46.9h0M444.4 44.2h0M440.7 36.6h0M447.7 42.4h0M448.7 31.6h0M443.1 43h0M440.2 35.7h0M441.5 23.6h0M441.4 46.8h0M446.6 36h0M440.5 40.1h0M445.1 35.1h0M440.2 29.1h0M445.6 45h0M441.1 24.8h0M440.1 44.1h0M445.3 23.5h0M439.8 26.6h0M447.2 33.5h0M449.3 33.2h0M440.9 42.3h0M442.5 40.7h0M446.6 30.5h0M442.3 31.3h0M443 39.1h0M440.2 29.4h0M442.4 43.3h0M450.1 28.9h0M445 40.8h0M444 27.6h0M449.2 40.6h0M446.9 24.2h0M448.9 28.5h0M445.5 42.4h0M440.9 42.6h0M445.6 47.8h0M447.4 35.5h0M444.9 51.4h0M439.1 43.5h0M441.3 48h0M447.4 33.5h0M449.3 35.6h0M441.8 25.4h0M445 31.9h0M447.8 22.6h0M441.4 37.3h0M448.4 43.9h0M444.6 43.6h0M442 39.4h0M444.8 41.3h0M448 22h0M439 44.8h0M442.2 33.5h0M441.6 40h0M440.8 46.3h0M450.2 25.7h0M440.9 29h0M442.4 41.1h0M444.1 22.4h0M444.2 46.3h0M444.1 30.7h0M445 34.5h0M449.9 36.5h0M444.1 34.7h0M444.5 25.8h0M441.5 43.2h0M443.8 46.7h0M441.3 47.6h0M448.9 38.1h0M444.3 34.5h0M440.4 45.8h0M440.4 34.9h0M442.2 31.6h0M441.5 25.1h0M449.4 37h0M443.3 25.7h0M449.9 32.9h0M445.5 28.7h0M441.8 36.1h0M442.5 44.9h0M441.8 27.5h0M440.7 48.8h0M446 46.1h0M443.9 25.7h0M443.5 34.3h0M439.4 47h0M450.1 32.1h0M440.3 41.4h0M440.7 26.4h0M450.2 28.7h0M449.3 32.8h0M444.5 26.3h0M440.5 27.2h0M444.6 39.7h0M443.9 47.2h0M448 31.2h0M443.5 27.9h0M440.9 36h0M443.6 45.3h0M440.2 41.8h0M442.6 47.2h0M447.1 29.3h0M440.5 34.9h0M447.8 23.5h0M447.5 41.6h0M446.2 26.8h0M439.9 33.3h0M441 37.2h0M440.8 34.6h0M445 30.8h0M448.7 30.7h0M439.9 48.5h0M441.7 45.4h0M439 31.8h0M446.2 44.3h0M443.9 45h0M441.9 48.7h0M447.3 34h0M446.5 27.8h0M444.4 39.7h0M449.6 31h0M444.9 30.8h0M443 33.9h0M441.7 44.4h0M445.6 23.9h0M444.7 31.5h0M447.8 41.8h0M440.4 35h0M442 42.7h0M444.3 31.9h0M441.8 39.6h0M440.1 44h0M448.7 30.6h0M446.1 31.2h0M441.7 38.1h0M449.7 25.4h0M450.1 28h0M441.4 30.3h0M446.8 24.7h0M447 41.2h0M449.2 32.1h0M442.6 23.6h0M449.5 33.7h0M443.4 28.7h0M445.8 27.5h0M448.4 25.2h0M443.8 33h0M446.7 24.3h0M445.7 27.7h0M444.4 51.7h0M443.9 35.8h0M442.5 34.1h0M446.1 22.7h0M444.2 31.4h0M447.8 43.8h0M441.2 34.6h0M440.9 39h0M443.9 32.1h0M443 35.9h0M439.7 47.7h0M444.2 46.3h0M447.8 25h0M440 31.7h0M439.7 42.7h0M441.4 42.3h0M447 32.5h0M444 46.5h0M443.3 30.1h0M444.1 27.8h0M443.3 25h0M446.2 24.4h0M448.8 30.3h0M447.5 26.7h0M442.8 34.2h0M440.7 31.8h0M444.8 48.9h0M440.7 40.7h0M440.2 30.6h0M449.5 30h0M439.6 34.4h0M446.1 42.1h0M441.8 29.7h0M441 48.9h0M439.8 47.5h0M447.3 22.1h0M442.6 28h0M443 23.2h0M443.7 36.8h0M447.8 33.3h0M446.9 35.1h0M440.8 35.9h0M447.9 26.7h0M449.8 36.8h0M449.6 39.2h0M441.5 35.1h0M447.2 44h0M441.5 37.2h0M449.1 35.1h0M440.2 28.2h0M447 30h0M442.1 45.8h0M444.6 49.1h0M444.1 41.7h0M450 26.2h0M443.3 32.3h0M442.2 45.2h0M445.6 35.1h0M441.2 32.7h0M441.8 41h0M445.6 38.1h0M439.7 47.8h0M448.1 22.8h0M441.1 29.6h0M444.7 39.6h0M439.5 44.6h0M446.6 28h0M439.4 49.4h0M447.5 25.3h0M441.8 26.8h0M441.7 34.6h0M449.7 32.7h0M442.9 27.6h0M447.2 32.6h0M443.3 36.5h0M447.8 40h0M446.4 40.5h0M447.1 38.6h0M444.2 44.7h0M446.5 34.3h0M440.4 43.5h0M442.1 28.9h0M446.3 31.5h0M449.6 39.7h0M444.6 29.4h0M447 42.2h0M444.2 48.6h0M445.4 26.5h0M440.2 29.6h0M447.3 36.9h0M438.7 44.5h0M449.2 30.4h0M441.4 33h0M448.8 31.4h0M442.6 35.3h0M447 27h0M446 45.1h0M446.9 33.2h0M441.7 43.1h0M443.1 29.4h0M438.1 47.6h0M445.7 42.5h0M444.8 32.5h0M440.9 46.3h0M443 39.4h0M450.4 28.3h0M440.6 45.3h0M442 42.6h0M440.1 46.7h0M446.7 38.8h0M441 29h0M440.2 48h0M440.1 36.6h0M448.6 31.7h0M448.2 27.7h0M443.5 37.3h0M444.6 30.2h0M444.7 49.4h0M439.2 35.3h0M446.7 41.3h0M443.6 37.5h0M449.2 37.6h0M447 36h0M441.9 34.1h0M441.6 46.4h0M443.5 25.8h0M443.5 25.6h0M441.9 25.2h0M442 43.4h0M441.2 34.1h0M448.3 43.2h0M440.3 27.2h0M447.6 24h0M439.5 47.3h0M448.1 35.1h0M446.9 39.3h0M448.2 23.3h0M447.3 35.5h0M450.3 28h0M441.2 37.4h0M442.4 24.9h0M443.9 47.2h0M449.8 32.3h0M440.6 35.5h0M440.3 24.5h0M441.7 34.9h0M443.2 23.4h0M440.3 26.3h0M444.9 31.3h0M442.1 49.1h0M446.9 30.2h0M447.6 29.4h0M441.8 30.5h0M447.9 31.1h0M443.1 41.2h0M448 43.6h0M444 30.4h0M446.9 33.1h0M443.1 35.4h0M446.2 27.7h0M446.8 30.1h0M447 26.6h0M442.6 24.3h0M448.5 28.9h0M447.2 35.9h0M444.5 26.9h0M441.1 47.7h0M444.5 42.5h0M442.3 31.5h0M441.2 24.6h0M442.1 41h0M447.4 29.6h0M444.6 47.2h0M447.3 36.8h0M440.2 26.8h0M447 43.1h0M447.8 33.4h0M448.8 31.7h0M441.5 39.4h0M440.7 47.9h0M440.7 28h0M441.3 27.8h0M443.8 48.6h0M441 23.4h0M446.9 33.5h0M439.3 43.2h0M443.1 26.5h0M443.2 45.1h0M441.1 29h0M447.6 42.3h0M445.8 26.4h0M444.8 30.2h0M443.8 36h0M441 25.8h0M440 40.8h0M443.3 39.5h0M440.3 33h0M446.9 30.1h0M444.7 39.2h0M446.1 41.2h0M448.2 38.1h0M442.1 46h0M442 28.8h0M438.3 46.5h0M446.8 36.1h0M444.6 34.3h0M446.9 28.1h0M443.2 46.6h0M450.2 25.6h0M448.4 39.5h0M440.5 35h0M449.8 34.6h0M439.4 34.7h0" stroke="#25ad4d" stroke-width="1.2" stroke-linecap="round" fill="none" opacity="0.88"/>
<path d="M442.7 25.1C442.5 26.3 441.9 29.9 441.9 32.3C442 34.7 443.2 37.2 443.1 39.5C443 41.8 441.5 44.9 441.2 46" stroke="#1f9a45" stroke-width="0.5" fill="none" stroke-linecap="round" opacity="0.45"/>
<path d="M446.3 23.7C446.2 24.9 445.9 28.5 446 30.9C446.1 33.3 447.1 35.8 447 38.1C446.9 40.4 445.8 43.5 445.6 44.6" stroke="#1f9a45" stroke-width="0.5" fill="none" stroke-linecap="round" opacity="0.45"/>
<path d="M448.4 26.5C448.5 27.7 448.9 31.4 448.9 33.8C448.8 36.2 448.2 39.8 448 41" stroke="#1f9a45" stroke-width="0.5" fill="none" stroke-linecap="round" opacity="0.45"/>
<path d="M439.1 64.4h0M441.2 66.5h0M439.9 69.3h0M437.7 70.5h0M438.9 67h0M438.5 75.2h0M440 67.1h0M441.3 76.2h0M440 70.4h0M440.2 68.5h0M440.3 64h0M436.9 73.7h0M440.4 68.2h0M439.2 64.9h0M441 71.2h0M437 70.7h0M438.7 75.3h0M439.8 65.9h0M438 69.1h0M440.3 73.5h0M439.9 71.5h0M439.5 75.2h0M440.8 67.9h0M436 74h0M437.6 65.7h0M440.3 77.1h0M440.7 64h0M438.9 70.3h0M440.8 72.9h0M439.6 76.3h0M441.9 67.7h0M441.7 73h0M440.5 74.3h0M440.3 78.2h0M438.2 79.1h0M436.5 77.3h0M441.3 77.5h0M437 78.5h0M440.9 72.1h0M438.9 71.1h0M439.3 70.6h0M438.2 74h0M436.4 74.8h0M438.5 65.5h0M437.3 77.7h0M439.7 63.7h0M437.9 76.4h0M436.2 72.1h0M441.3 69.8h0M436.4 78.7h0M439.3 76.1h0M441.3 65.4h0M438.9 68.8h0M441.4 73.9h0M439.1 69h0M440.6 65h0M439.2 78.1h0M439.8 69.6h0M437.1 76h0M438.7 66.8h0M440.2 65.4h0M438.8 66.6h0M441.9 74.4h0M438.9 67.7h0M439.7 75.9h0M441.6 72.3h0M439.5 72.1h0M436.9 78.3h0M441.8 67.8h0M438.1 68.2h0M440.5 70.1h0M439.7 71.1h0M438.2 74.7h0M439.1 71.6h0M438.4 70.7h0M438.1 70.8h0M437.8 66.9h0M439 73.6h0M439.8 68.2h0M440.1 70.7h0M439.7 69h0M440.4 74.8h0M438.8 77.1h0M439.9 76h0M437.4 77.7h0M436.6 71.6h0M441.5 68.6h0M439.5 70.5h0M439.9 75.3h0M440.9 66.9h0M437.2 73.6h0M438.8 75.1h0M435.9 74.5h0M437.1 72.8h0M435.8 76.4h0M438.1 78h0M438.2 75.8h0M439.1 77.4h0M437.6 77.9h0M440.6 69.2h0M438.3 72.5h0M437.6 74.3h0M438.3 67.5h0M438.6 76.2h0M435.8 74.1h0M438.4 70.9h0M436.5 77.5h0M441.2 68.8h0M436.3 76.7h0M437.2 76.2h0M441 72h0M440.6 67.7h0M436.7 73.7h0M436.9 75.8h0M437.7 72h0M439.8 68.5h0M441 74.1h0M439.2 64.4h0M437.7 68.5h0M439 71h0M440.5 65.2h0M439.5 64.6h0M439.4 72.8h0M440.1 69.2h0M438.1 79h0M442 73.9h0M435.6 73.6h0M439.2 75.5h0M440.1 66.3h0M437.8 75.6h0M438.7 78.2h0M440.5 78.1h0M439.5 74.1h0M440.6 70h0M438.5 76.4h0M436.7 78.8h0M438.7 74.2h0M437.9 71.9h0M440.8 73.2h0M440.2 66.6h0M438.5 64.6h0M438.2 67.6h0M439.2 65.3h0M441.3 67.1h0M439.3 79.8h0M436.4 74.9h0M437.5 76.1h0M438.8 71.9h0M438.1 66h0M440.6 72.8h0M439.1 65.7h0M438.1 78.7h0M440.1 76.5h0M438.3 68.5h0M438.2 78.6h0M438.6 64.5h0M438.7 74.1h0M439.5 76.3h0M438.1 76.4h0M440 75.3h0M441.9 71.6h0M441 66.9h0M438.9 76.6h0M439.8 73.6h0M438.6 76.8h0M439.9 76.4h0M438.6 68.5h0M438.1 69.2h0M440.4 71.4h0M438.3 73.8h0M440.2 67.7h0M440.5 77.3h0M441.7 69.4h0M440.1 64h0M439.8 65.1h0M435.8 74.7h0M440.7 75.6h0M439.4 78.7h0M439.6 68.1h0M435.4 76.2h0M440.6 71.1h0M440.6 69.4h0M436.3 77.9h0M438.4 76.4h0M441 64.9h0M435.9 77.8h0M437.8 69.7h0M438 74.3h0M440.4 66.7h0M436.9 78h0M439.1 65.9h0M439.6 65.4h0M441.9 69.8h0M440.4 71h0M438.6 71.5h0M437.7 74h0M440.6 65.9h0M439.5 67.2h0M439.3 76.4h0M438.2 68.7h0M438.6 75.8h0M440.2 73.8h0M438.5 70h0M437.4 75.3h0M440.1 67h0M437.7 67.9h0M438.8 71.7h0M440.5 68h0M436.1 74.9h0M439.3 67.3h0M437.3 74.8h0M441.1 76.4h0M440.4 65h0M439.8 64.9h0M437 77.7h0M441.1 69.6h0M441.2 69.1h0M439.9 76.1h0M438.2 71.9h0M438.3 74.2h0M438.2 71.6h0M438.6 68.3h0M437.4 75.4h0M437.3 78.1h0M441.8 71.6h0M436.7 71.6h0M437.6 75.1h0M440.4 64.2h0M438.2 77.8h0M441.1 74.4h0M438.3 64.1h0M439 72.7h0M438.9 73.7h0M439.6 67h0M438.6 78.5h0M440.1 74.5h0M439.4 69.5h0M439.5 74.3h0M439.7 73.3h0M439.6 78.7h0M439.3 68.1h0M438.8 77.8h0M438.9 73.4h0M439.9 64.3h0M440.4 70.5h0M438.1 67.1h0M440.9 67.3h0M439.2 77.4h0M438.1 76.1h0M440 71.1h0M440 66.2h0M440.5 74.6h0M439.3 70.3h0M435.9 75.4h0M437.7 73.7h0M440.2 65.1h0M441.2 75.7h0M435.8 75.7h0M439.1 72.1h0M438.6 71.3h0M439 64.4h0M440.2 67.6h0M440.2 77.5h0M439.4 73.5h0M441 74.5h0M437.9 78.2h0M439.1 70h0M439.3 79.2h0M440 74h0M436.8 72.5h0M440 78.9h0M439.5 67.2h0M436.9 78.6h0M435.7 73.2h0M438.3 74.3h0M437.4 76.7h0M438.1 75.5h0M441.6 66.6h0M438.5 76.3h0M437.3 74.5h0M439.5 69.1h0M438.1 65.7h0M437.8 66.8h0M439.8 65.7h0M441.6 68.6h0M436.9 71.9h0M441.7 68.4h0M437.5 72h0M440 66.4h0M440.2 77.5h0M436.5 74.2h0M438.5 78.5h0M440.5 74.2h0M440.3 73.1h0M436.9 72.2h0M439.9 75.4h0M438.9 71.6h0M441.6 72h0M441.1 66.1h0M436.1 75.2h0M440.9 67.4h0M436.6 73h0M437.8 66.1h0M439.2 71.6h0M441 67.7h0M441 65.9h0M440.2 67.5h0M439.5 75.4h0M436.9 71.7h0M438.7 71.3h0M435.5 75.6h0M440.6 70.4h0M436.3 75h0M439.3 71.1h0M436.3 76.8h0M439.8 75.8h0M441.4 67.8h0M438.3 77h0M438.8 70.5h0M439.7 78.7h0M441.4 75.2h0M438 73.6h0M439.7 78.1h0M437.9 74.3h0M438.9 75.6h0M440.7 67.2h0M439 68.6h0M435.9 75.7h0M441 72.2h0M437.9 76.9h0" stroke="#6390d0" stroke-width="1.1" stroke-linecap="round" fill="none" opacity="0.88"/>
<text x="409.8" y="47.8" font-size="6.1" text-anchor="start" fill="#161616" stroke="#161616" stroke-width="0.12">NKT</text>
<text x="452.4" y="40.4" font-size="6.1" text-anchor="start" fill="#161616" stroke="#161616" stroke-width="0.12">NK</text>
<text x="442.8" y="74.3" font-size="6.1" text-anchor="start" fill="#161616" stroke="#161616" stroke-width="0.12">ILC1</text>
</g>
<g>
<text x="1.4" y="116.1" font-size="10.2" text-anchor="start" fill="#000" stroke="#000" stroke-width="0.12" font-weight="bold">D</text>
<path d="M33.5 127.5L33.5 187.8" stroke="#222" stroke-width="0.7" fill="none"/>
<path d="M33.2 187.5L98.8 187.5" stroke="#222" stroke-width="0.7" fill="none"/>
<path d="M31.9 142.3L33.5 142.3" stroke="#222" stroke-width="0.5" fill="none"/>
<text x="31.1" y="144.7" font-size="6.6" text-anchor="end" fill="#161616" stroke="#161616" stroke-width="0.12">2.5</text>
<path d="M31.9 157.4L33.5 157.4" stroke="#222" stroke-width="0.5" fill="none"/>
<text x="31.1" y="159.8" font-size="6.6" text-anchor="end" fill="#161616" stroke="#161616" stroke-width="0.12">0.0</text>
<path d="M31.9 172.6L33.5 172.6" stroke="#222" stroke-width="0.5" fill="none"/>
<text x="31.1" y="175" font-size="6.6" text-anchor="end" fill="#161616" stroke="#161616" stroke-width="0.12">−2.5</text>
<path d="M41 187.5L41 189.1" stroke="#222" stroke-width="0.5" fill="none"/>
<text x="41" y="195.4" font-size="6.6" text-anchor="middle" fill="#161616" stroke="#161616" stroke-width="0.12">−10</text>
<path d="M55.6 187.5L55.6 189.1" stroke="#222" stroke-width="0.5" fill="none"/>
<text x="55.6" y="195.4" font-size="6.6" text-anchor="middle" fill="#161616" stroke="#161616" stroke-width="0.12">−5</text>
<path d="M70.4 187.5L70.4 189.1" stroke="#222" stroke-width="0.5" fill="none"/>
<text x="70.4" y="195.4" font-size="6.6" text-anchor="middle" fill="#161616" stroke="#161616" stroke-width="0.12">0</text>
<path d="M84.4 187.5L84.4 189.1" stroke="#222" stroke-width="0.5" fill="none"/>
<text x="84.4" y="195.4" font-size="6.6" text-anchor="middle" fill="#161616" stroke="#161616" stroke-width="0.12">5</text>
<text x="64" y="204.1" font-size="7.0" text-anchor="middle" fill="#161616" stroke="#161616" stroke-width="0.12">UMAP_1</text>
<text x="13.9" y="161" font-size="7.0" text-anchor="middle" fill="#161616" stroke="#161616" stroke-width="0.12" transform="rotate(-90 13.9 158.5)">UMAP_2</text>
<path d="M44.5 157.6h0M44.8 152.8h0M48.6 144.6h0M49 154.8h0M44.3 160.5h0M48.2 155.6h0M42.3 160.1h0M49.5 154.6h0M46.6 150.5h0M49 144.3h0M42.5 156.9h0M47.3 159.5h0M42.7 158.9h0M51.1 149.7h0M46.7 150.3h0M45.9 155.1h0M48.3 150.9h0M47.1 157.9h0M41.3 158.4h0M42.3 154.3h0M47.6 154.4h0M49.7 149.4h0M43.8 157.3h0M42.2 155.5h0M47.9 159h0M48.6 152.8h0M45.1 156.6h0M44.5 154.8h0M49.3 145.6h0M46.8 149.8h0M51.8 149.7h0M49.8 148.4h0M46.9 147.3h0M48.1 153.7h0M40 162h0M46.6 157.7h0M42.7 158.4h0M38.9 159.3h0M48.5 152.4h0M45.4 161.2h0M46.4 148.8h0M40.7 159.4h0M49.2 147.2h0M42.7 158.6h0M48.4 148.1h0M47.5 154.3h0M47.3 154.9h0M50.2 150.5h0M49.7 146.6h0M46.8 150.4h0M50.7 147.8h0M44.5 156.3h0M43.9 151.4h0M42.3 163.2h0M49 151.8h0M51.5 148.7h0M46.5 154.8h0M43.7 156.7h0M50.1 154.4h0M45.4 159h0M45.3 149.8h0M49.5 146.3h0M50.2 145.6h0M43.1 153.6h0M47.3 144.3h0M49.3 154.5h0M45 150.1h0M43.4 160.8h0M41.3 157.2h0M46.1 160.6h0M47.7 156.3h0M47.6 145.4h0M49.6 151.9h0M44.8 157.4h0M49.8 152.2h0M48.6 155.8h0M44.3 157.4h0M45 161.4h0M49.1 155.8h0M47.5 159.4h0M47.3 160.4h0M51.1 149.5h0M48.1 153.9h0M49.2 152.8h0M48.7 146.3h0M45.6 151.5h0M40.3 161.8h0M41.6 161h0M47.4 149h0M49 156.6h0M48.8 151.1h0M44.3 154.8h0M40.6 161.2h0M52.1 145.5h0M43.5 161.1h0M44.6 151.4h0M47.1 150.7h0M49.9 144.1h0M50.1 145.1h0M48.9 152.2h0M48.8 152.4h0M46.9 147.1h0M46.7 146.9h0M44 155.2h0M45 159.5h0M46.2 159.6h0M42.6 156.5h0M49.8 147.9h0M47.6 158.2h0M47.4 152.8h0M43.9 155.8h0M45.7 151.6h0M48.5 143.4h0M44.4 157.4h0M47 157.4h0M51.2 146.7h0M43.9 160.4h0M46.4 157.8h0M50.8 148.2h0M44.8 159.3h0M47.2 157.8h0M41.5 159.8h0M44.8 160h0M43.9 152.4h0M44.6 159.9h0M39.9 160.7h0M47.8 147.2h0M50.7 147.3h0M47.5 158.5h0M44.8 149.6h0M43.4 163.7h0M44.9 152.1h0M42 161.6h0M49.5 146h0M44.3 154.7h0M46.6 147.1h0M40.6 159h0M48.7 157h0M43.4 159.9h0M49.9 154h0M49.6 146h0M46.1 150.2h0M44.3 158.6h0M43.3 156h0M46.6 152.8h0M50.6 147.8h0M48 151.1h0M39.5 158.2h0M42.8 160.1h0M50.8 150.7h0M50.7 154.7h0M47.4 159.2h0M40.2 156.1h0M43.4 159.5h0M42.2 155.9h0M49.5 152.7h0M49.3 152.1h0M45.9 149.8h0M41.5 161.2h0M47.2 147.9h0M46.6 151.1h0M43.5 162.4h0M51.7 144.4h0M44.9 154.2h0M49.9 148.5h0M41.6 159.8h0M49.5 144.5h0M49.3 150.2h0M47.9 148.1h0M49.4 144.9h0M45.8 156.9h0M44.8 155.8h0M45.9 158.1h0M47.4 146.6h0M43.1 163h0M44.8 157h0M41.4 157.2h0M48.6 145.5h0M42.9 156.7h0M45.5 156h0M50.1 147.2h0M44.6 156.2h0M49.9 145.3h0M47.4 153.6h0M44.9 151.4h0M43.3 159.7h0M48.7 153.9h0M48.5 144h0M43.7 158.9h0M45.7 152.4h0M47.3 154h0M51.6 148.7h0M50.4 153.6h0M44.9 161.6h0M42 161.4h0M48.8 148.2h0M44.8 159.3h0M44.5 162.8h0M48 157.5h0M39.7 161.4h0M48.9 147h0M47.5 152.8h0M43.2 156.1h0M45.9 152.1h0M48.7 146.3h0M49.3 147.3h0M48.6 151.7h0M49.1 150.2h0M45.5 152.4h0M42.7 156.8h0M50.3 146.8h0M49 144.1h0M41.6 158.6h0M46.5 157.9h0M49.4 151.4h0M41.6 157.9h0M42.6 159.6h0M46.4 159.9h0M46.2 161.4h0M44.6 162.7h0M50.7 148.1h0M46.8 151.3h0M44.7 149.7h0M50.5 150.4h0M46.1 155.6h0M49.2 143.2h0M45.3 149.4h0M46.6 152.7h0M47.8 148.8h0M51 148.3h0M43.5 156.8h0M48.4 151h0M50.2 149.2h0M45.5 160.5h0M49.8 145.9h0M46.7 157.4h0M48.3 147.5h0M45.9 158h0M42.5 155.2h0M44.4 160h0M44.5 158.4h0M43.5 156.1h0M50.5 148.2h0M46.9 150.9h0M41.3 160.9h0M40 161.9h0M48.8 156.1h0M44 160.8h0M47 153.4h0M47.8 146.3h0M47.4 151.9h0M46.1 153.7h0M52.2 145.6h0M47.3 153.3h0M51.6 145.2h0M46.8 152.7h0M50.8 147.1h0M39.1 160.9h0M42.3 156.9h0M44.3 151.4h0M48.6 150.8h0M42.8 152.8h0M47 147.2h0M45.7 149.2h0M46.5 153h0M45 158.6h0M47.7 154.9h0M48.6 152.4h0M45.9 155.3h0M45.9 154.4h0M49.2 143.8h0M41.9 155.2h0M48.2 155.4h0M45.2 150.3h0M47.5 149.1h0M43.4 160h0M51.2 144.4h0M46.5 148.6h0M47.8 151h0M43.7 155.7h0M42.9 162.6h0M45.7 151h0M42.1 153.4h0M45.6 161.1h0M44.5 163.1h0M46.7 150.5h0M50.4 145.3h0M44.8 157.6h0M45.7 151.1h0M45.6 150.6h0M44.1 159.3h0M50.8 150.2h0M40.1 159.1h0M44 151.6h0M46.2 155.9h0M45.8 147.6h0M46.4 151.9h0M43.5 161.4h0M44.4 161.9h0M50.5 150h0" stroke="#86d2c4" stroke-width="1.2" stroke-linecap="round" fill="none" opacity="0.42"/>
<path d="M45.4 166.1h0M40.9 164.6h0M46.2 165.5h0M46.5 161.9h0M39.3 161.9h0M44.8 168.5h0M42.3 166.7h0M45.4 166.9h0M44.3 162.9h0M46.5 162.1h0M42 165h0M40.9 168.3h0M38.8 166.2h0M39.1 173.3h0M44.2 170.2h0M43.7 168.5h0M38.3 174.1h0M41.9 168.1h0M41 174.1h0M45 166.6h0M42.3 166.9h0M41.4 174.6h0M39 163.6h0M43.6 168.3h0M45 163.9h0M42.1 170.7h0M39.4 166.8h0M40.3 171.4h0M43.8 170.1h0M45.2 168.9h0M38.4 171.3h0M39.5 162.2h0M40.4 162.8h0M40.4 165.5h0M40.5 169.3h0M38.5 162.1h0M44.6 167.4h0M39.6 172.9h0M42.1 164.7h0M46.2 164.7h0M40.9 170.9h0M45.5 163.8h0M38.3 167.6h0M43.1 167.3h0M41 168.7h0M44.7 162.6h0M42.8 163.9h0M45.2 169.3h0M44.4 167.8h0M42.1 164.1h0M38.4 163.9h0M42 164.3h0M41.1 172.9h0M44.9 163.7h0M40.8 176.3h0M42.7 166.7h0M38.5 163.5h0M45.8 162.9h0M39.1 167h0M42 164.4h0M45.3 164.7h0M40.7 171.7h0M42.4 172.7h0M38.8 171.1h0M38.4 171.6h0M39.2 170.6h0M38.3 171h0M39.4 171.8h0M44.9 164h0M39.6 163.3h0M41.1 169.8h0M41.8 171h0M43.2 172.8h0M42.7 164.4h0M39 166.9h0M42.7 171.1h0M43.6 170.1h0M39.7 174.5h0M40.3 172.3h0M43.5 170.3h0M42.9 167.7h0M40.4 169h0M41.3 173.8h0M41 172.1h0M42.6 170.5h0M39.2 173.5h0M42.5 170.8h0M42.4 173.1h0M42 170h0M43.7 168.7h0M44 165.4h0M40.1 161.7h0M43.4 171.5h0M44.7 166.8h0M39 168.8h0M41.6 167.2h0M41 168.2h0M39.6 163.9h0M45.5 163.1h0M41.1 164.6h0M40.4 168.8h0M41.2 168.9h0M40.9 171.7h0M38 169.2h0M38.9 171.8h0M40.4 169.1h0M41.5 174.8h0M45.9 164.4h0M41 164h0M45.2 163.4h0M39.6 174.8h0M42.5 169.7h0M40.7 164.5h0M45.1 170.9h0M44.6 164.3h0M39.4 171h0M42.2 167.9h0M41.2 176.7h0M42.6 171.1h0M40.8 171.3h0M42.5 163.5h0M42.6 172.5h0M45.2 164.4h0M38.9 165h0M38.6 169.8h0M40.6 162.8h0M38.7 168.1h0M42.2 171.6h0M44.7 165.2h0M42.1 170.4h0M41.7 166.3h0M45 165.1h0M42.2 165.2h0M39.6 162.6h0M43.7 167.9h0M41.2 166.6h0M40.1 171.5h0M42.1 175.8h0M41.6 167.4h0M46 163.9h0M41.2 171h0M39.9 171.5h0M37.9 166h0M41.2 173.6h0M41.7 166.9h0M42.1 169.4h0M42.2 164.5h0M42.6 164.3h0M41.3 169.4h0M38.7 166.1h0M41.3 172.3h0M42.6 163.7h0M43.4 172.9h0M41.4 167h0M38.5 169.8h0M41.1 166.2h0M40.1 168.2h0M44.6 164.3h0M41.3 171.2h0M39.3 173h0M42.9 170.7h0M38.3 169h0M42.7 175.9h0M41 165.6h0M43.5 168.8h0M43.6 171h0M43.5 171.1h0M37.4 166.7h0M40.8 172.6h0M42.3 167.7h0M42.8 165.9h0M40.1 163h0M40.4 168.1h0M39.7 168.1h0M39.9 173.7h0M43.2 166.6h0M39 167.2h0M45.9 162.6h0M38.1 165.3h0M38.8 170.1h0M42.4 174.2h0M43 171.6h0M44.5 165.2h0M41.6 167.5h0M44 171.3h0M42.3 165.6h0M44.9 170.7h0M40.7 167.1h0M38.4 171.3h0M39.8 165.9h0M40.6 172.3h0M38.7 176.3h0M44 172.3h0M44.4 165.8h0M43.6 173.6h0M46.3 167.8h0M44.5 163.2h0M40.5 170.7h0M43.2 166.2h0M40 163.8h0M37.9 170.4h0M39.3 169.7h0M39.7 173.9h0M41.4 175.9h0M40.9 172.1h0M44.1 172.4h0M40 174.3h0M43.3 173.7h0M41.8 162.8h0M42.9 165h0M44 171.6h0M39.7 166.1h0M39.7 162.9h0M40.1 174.9h0M40.2 173.4h0M41.5 171.5h0M40.9 166.4h0M43.4 164.3h0M41.4 172.3h0M43.5 166.2h0M41.1 172.6h0M40.5 166.9h0M43 168.2h0M39.5 162h0M40.5 176.4h0M42.1 173.7h0M42.7 168.1h0M39.5 166.1h0M38.3 170.5h0M41.2 170.5h0M41 168.4h0M41.3 171.3h0M44 170.5h0M42.9 173.6h0M42.6 168.5h0M45.3 166.9h0M39.7 162.8h0M41.1 170h0M41.8 163.5h0M41.2 169.6h0M40.8 173.4h0M43.4 168.7h0M45.5 170.5h0M41.8 173.4h0M38.4 174.4h0M38.2 174h0M40.1 164.2h0M40.1 170.8h0M44.1 168.7h0M41.2 167.4h0M40.3 172.3h0M44.1 164.6h0M39.1 171.5h0M39.9 162h0M39.7 166.8h0M41.2 172.8h0M42.7 173.9h0M40.1 163.3h0M41.6 163.2h0M45.8 164.2h0" stroke="#cdd98a" stroke-width="1.2" stroke-linecap="round" fill="none" opacity="0.5"/>
<path d="M82.1 145.5h0M76.7 135.4h0M81.6 134h0M75.6 132.2h0M79.6 139.4h0M85.5 146h0M81.2 146.9h0M83.1 148.9h0M83.7 143.5h0M82.7 138.2h0M82.6 135.3h0M76.1 135.6h0M83.8 137.6h0M78.3 131.2h0M77.6 134.8h0M82.4 147.4h0M84.4 149.6h0M84.6 139.8h0M76.1 133.1h0M81 132.6h0M77.3 133.1h0M85.7 146.1h0M80 137.6h0M81.3 139.5h0M82.6 134.2h0M83.8 140h0M79.7 142.7h0M85.2 147.8h0M81 136.5h0M83.5 139.6h0M85.3 143.4h0M80.9 134.3h0M75.8 134.1h0M75.7 138.7h0M77.9 139.1h0M76.1 137.3h0M85.3 148.3h0M85.7 151.7h0M81.2 139.5h0M81.6 137.4h0M80.7 135.1h0M83.1 144.6h0M75.7 133.2h0M80 148.9h0M76.6 139.7h0M79 142h0M81.2 147.2h0M86.8 147.3h0M79.5 143.9h0M79.5 135.9h0M77.3 141.1h0M83.5 147.4h0M75.9 131.6h0M76.3 137.6h0M81.4 140.9h0M84.5 147.1h0M80.4 142.8h0M87.7 148h0M83.8 142.3h0M84.2 141.3h0M74.9 136.4h0M82.2 137.6h0M83.7 147.5h0M77.8 140.7h0M86.8 146.6h0M81.4 142.1h0M77.6 142.1h0M80.4 137.9h0M81.5 146.2h0M87.6 145.8h0M83.8 149.4h0M77.3 140.7h0M76.9 139.1h0M77.8 143.2h0M84 144.2h0M82.1 140.1h0M80 139.1h0M85.6 146.7h0M81.6 136h0M82.7 149.9h0M81.8 138.7h0M83.5 149.2h0M83.4 144.2h0M79.5 143.8h0M78.7 145.5h0M82.9 144.2h0M76.6 137.8h0M85.1 146.8h0M85.1 141.3h0M81.2 145.6h0M86.9 147.4h0M82.1 137.9h0M83.7 147.8h0M79.8 147.2h0M82.8 142.5h0M85.4 150.5h0M83.9 150.7h0M78.7 136.1h0M86.2 146.9h0M80.6 140.7h0M87.1 148.3h0M79.5 140.9h0M81.1 138.9h0M78.6 145h0M84.1 141.8h0M77 132.2h0M85.8 149h0M85.6 148.3h0M80.2 134.1h0M75 131.5h0M82.5 136.6h0M86 143.9h0M82.4 148h0M74.4 135.3h0M80.6 132.3h0M83.4 149.7h0M75.9 133.1h0M84.7 140.6h0M85.6 150.8h0M78 142.6h0M80.2 133h0M78.1 131.5h0M79.1 142.8h0M81.3 144.5h0M86.9 145.7h0M81.2 146.3h0M83.3 142.5h0M83 149h0M76 135.6h0M84.9 141.8h0M81.2 145.4h0M82.7 143.5h0M79.4 141h0M82 138.8h0M77.4 133.5h0M74.6 137h0M82.9 142h0M79.4 138.1h0M85.4 147.7h0M78.3 136.9h0M76.1 137.2h0M80.1 143.7h0M83.7 146.9h0M77.4 138.8h0M77.5 135.4h0M84.1 141.5h0M84.1 143h0M82.5 141.6h0M78 138.2h0M76.2 130.2h0M84.5 147.3h0M76.2 131.8h0M82.3 144.1h0M82.6 143.1h0M81.9 142.5h0M75.5 132.8h0M77 132.5h0M78.9 135.6h0M78.2 134.9h0M87.9 147.2h0M80.9 147.8h0M82.2 149.9h0M86.7 149.2h0M76.1 132.5h0M75.6 132.9h0M84.5 142.5h0M77.8 131.5h0M82.5 142.9h0M82.4 146.5h0M77.1 134.1h0M78.2 135.7h0M75.7 132.9h0M80.4 141.7h0M86.1 146.7h0M81 134.2h0M84.5 144.1h0M76.7 133.9h0M79.2 141.7h0M77.6 137.2h0M87.2 148.3h0M84 150.3h0M80.1 137.7h0M78.2 138.7h0M81.5 137.8h0M82.6 139.9h0M82.4 137.6h0M87.3 148.1h0M80.6 148.4h0M77.7 137.7h0M82.5 147.5h0M84.2 147.1h0M76.8 135.5h0M79.6 141.9h0M76.3 141.1h0M82.3 146.7h0M81 139.3h0M84.7 143.2h0M75.3 135.6h0M84.2 141.9h0M78 138.7h0M79.6 143.1h0M76 136.1h0M83 143.8h0M80.7 138.1h0M74.5 131.9h0M77.5 132.7h0M81.3 143.3h0M83.5 151.1h0M78.7 135h0M83.2 140.5h0M80.3 133.9h0M81.8 134.3h0M81.9 142.3h0M74.7 135.5h0M82.8 146.8h0M82.8 135.2h0M80.7 134.9h0M80.2 137.9h0M81.8 146.3h0M81.6 137.1h0M75.7 136.9h0M82.7 148.9h0M82 144.5h0M85 145.8h0M82.2 141.2h0M78 131h0M79.5 140.9h0M81.8 134.6h0M83.9 142.4h0M81.6 145.4h0M87.9 147.8h0M81.5 147.7h0M76.7 137.9h0M82.9 136.1h0M81.6 137.1h0M84 140.9h0M85.1 151.1h0M75.3 133.8h0M85.4 149.9h0M76.5 139.4h0M83.9 144.8h0M81.2 137.8h0M75.5 137.3h0M82.2 149.6h0M79.9 132.1h0M83.7 140.6h0M82.2 134.8h0M83.8 146.7h0M83.7 148.5h0M81.1 141.8h0M80.3 140.1h0M83.8 139h0M78 135.7h0M75.5 136.3h0M77.3 143.3h0M79.1 144.6h0M84.1 150.3h0M76.3 131.8h0M83.4 144.8h0M83 139.6h0M74.7 134.7h0M82.2 140.7h0M86.8 148h0M80.3 139.6h0M80.2 133.1h0M78.8 145.2h0M77.8 140.5h0M82.4 143.3h0M80.5 140.9h0M77.2 140.7h0M75.1 131.8h0M79.7 134.1h0M80.3 139.2h0M75.8 135.6h0M80 139.1h0M86.7 149.1h0M80.9 147.8h0M86.5 145.6h0M75.5 136h0M82.6 137.1h0M84.7 150.8h0M79.2 136.7h0M82.3 140.8h0M81.7 149h0M87.2 147.3h0M81.2 145.8h0M83.9 143.1h0M78.3 137.9h0M83.7 145.7h0M82.6 142.5h0M81.7 148.3h0M82.1 142h0M86.9 149.3h0M83.3 140.4h0M75.9 138h0M80.5 138.6h0M81.5 139.8h0M86.9 148.4h0M83 142.7h0M85.1 140.8h0M77.1 139.6h0M77.7 131.8h0M83.1 149.8h0M78.6 132.8h0M79.3 134.8h0M76.5 133.5h0M81.3 148.9h0M73.9 135h0M79.6 135.3h0M77.6 131.4h0M79.3 143h0M83.9 141.7h0M81.7 142.7h0M78.8 133.7h0M82.9 144.9h0M79.5 136.3h0M80.4 132.6h0M86.8 146.8h0M86.9 147.7h0M77.6 138.9h0M76.8 138.6h0M79 133.9h0M79.2 141.8h0M78.8 140.5h0M78.4 143h0M83.1 145.9h0M75.6 135.3h0M84.3 148.1h0M77.8 140.5h0M81.2 137.3h0M76.3 136h0M79.3 141.2h0M81.9 138.1h0M86.2 147.9h0M82.6 134.8h0M78.1 134.8h0M83.1 137.2h0M78 137h0M80.6 148.3h0M81.3 136.3h0M74.4 134.7h0M85 144.2h0M81 144.5h0M82.2 140.3h0M83.2 145.5h0M82 142.6h0M75.2 135.3h0M76.8 135.8h0M81.2 135.3h0M80.6 138.3h0M75.5 135.5h0M75.1 137.1h0M77.4 138.5h0M80.8 147.4h0M83.8 137.1h0M78.6 132.9h0M77.7 138.2h0M80.2 143.8h0M87.1 148.2h0M82.8 143.2h0M79.6 144h0M78.4 135.6h0M74.7 132.9h0M76.3 136.2h0M82.5 150.6h0M86 143.3h0M78.3 137.1h0M79.1 132.2h0M84.2 137.2h0M85.4 144.3h0M74.9 131.7h0M80.1 135.7h0M86.7 145.2h0M75.3 135.9h0M76.4 133.8h0M81.1 139.3h0M78.6 135.2h0M82.5 139.8h0M81.9 142.1h0M88.3 147.3h0M79.2 143.2h0M80.2 141.4h0M82.5 144.5h0M86.2 150h0M81.1 140.7h0M83.1 140.3h0M78.1 140h0M80.9 137.7h0M82.8 142.5h0M82.2 148.5h0M85.6 140.6h0M81.9 136.7h0M86.8 148.2h0M84.5 138.4h0M87.3 146.9h0M81.3 142.2h0M82.9 136.6h0M80.6 146.9h0M84.8 141.3h0M76.4 136.3h0M83.5 147.4h0M79 133.7h0M85.2 148.2h0M82.9 141h0M75 136.7h0M87.1 144.7h0M84.3 147.9h0M80 142.6h0M80.4 138.6h0M78.5 138.4h0M75.4 134.3h0M78.5 135.3h0M76.9 137.2h0M79.8 135.9h0M77.7 139.5h0M81 141.7h0M84.7 149.3h0M82 141.2h0M82.3 137.8h0M79.6 143.1h0" stroke="#f4a89e" stroke-width="1.2" stroke-linecap="round" fill="none" opacity="0.5"/>
<path d="M91.4 167.7h0M89 152.6h0M88.6 152.5h0M89.1 165.2h0M90 153.5h0M91.1 169.8h0M89.7 152.7h0M86.5 154.8h0M91 165.4h0M88.1 148.7h0M86.6 156.2h0M92.5 162.9h0M88.2 169.9h0M87 158.3h0M91.8 161.7h0M92.7 166.8h0M89 167.2h0M87.4 152.3h0M88.9 163h0M89.6 153.5h0M87.5 161.8h0M90.7 167.1h0M88.7 166.2h0M88.1 150.1h0M86.7 157.7h0M92.1 158.5h0M90.4 163.7h0M89.5 155.6h0M90.4 160.5h0M89.2 159.8h0M87.4 154.4h0M90.9 161.5h0M91.2 156.3h0M91 155.6h0M90.7 163.8h0M88.2 171.4h0M90.1 162.5h0M88.7 170.5h0M90.8 169.7h0M90 154.8h0M86.3 151.6h0M90.9 158.1h0M89 169.5h0M87.9 161h0M89.6 162.4h0M87.9 159.1h0M91.9 161.5h0M91.3 158.7h0M89 170.7h0M90.9 164h0M91.6 172.2h0M88.1 158.5h0M89.1 155.9h0M87.8 165.3h0M90.7 171.4h0M88.3 150.1h0M87.9 149.5h0M88.1 163.4h0M87.8 153.6h0M86.6 150.7h0M86.5 160.6h0M88.1 165.5h0M85.8 155.3h0M90.1 158.2h0M89.5 161.9h0M90.4 165.1h0M86 150.7h0M86.8 160.3h0M89.4 168h0M90 163.6h0M87.5 163h0M88.2 149.1h0M88.6 151.2h0M89.8 168.9h0M89.5 155.6h0M88.1 164.3h0M87 160.2h0M88.7 164h0M88.4 168.5h0M87.5 158.2h0M90.8 170.9h0M91.9 165.9h0M89.5 167.8h0M88.8 168.5h0M90.3 170.6h0M90.7 158.2h0M90.9 155.5h0M87 163.1h0M87.8 163.3h0M89.6 168.3h0M88.5 157.3h0M86.6 153.3h0M87.2 151.9h0M88.1 148.2h0M89.1 161.8h0M86 152.3h0M89.2 164.7h0M89.5 153.4h0M89.1 166.8h0M89.5 160.2h0M88 164.6h0M88.5 166.2h0M90 171.2h0M87.3 150.9h0M89.6 163h0M89.6 159.7h0M87.4 158.3h0M89.9 159.4h0M90.5 163.4h0M90.3 158.3h0M89.5 161.7h0M88.6 168.6h0M86.4 153.3h0M91.2 167.2h0M88.7 155.2h0M89.5 166.8h0M91.1 168.4h0M89.2 149.2h0M89.4 155h0M88.6 151.9h0M88.3 153.7h0M89.4 169.8h0M87.3 153.8h0M90.6 159.8h0M91.4 161.7h0M90.3 160.3h0M88.4 167.6h0M85.3 153.9h0M88.6 163.4h0M91.1 160.6h0M88.4 158.8h0M90.7 162.7h0M87.6 159h0M88.6 149.2h0M90 162h0M90.5 152.9h0M86 150.7h0M89.1 155.7h0M88 157h0M89.4 163.6h0M91.5 165h0M87.8 153h0M91.5 170.9h0M87.9 166.4h0M86.5 155.7h0M90.1 153.5h0M89.7 160.5h0M89.8 161.7h0M89 156.4h0M85.1 152.4h0M88.9 165.3h0M90.2 160h0M92.6 168.2h0M89.1 152.8h0M86.3 161.9h0M88 162.3h0M91.2 158h0M86 157.3h0M89 156.6h0M88.5 161.9h0M87.7 155.9h0M91.8 166h0M91.1 156.5h0M88.7 162.3h0M91.8 163.6h0M86.2 156h0M89.2 154.3h0M89.7 152.9h0M89.7 161.2h0M88 166.5h0M87.7 161.9h0M90.3 155.3h0M90.3 157.3h0M88.3 170.6h0M87.6 162.4h0M88.8 158.2h0M90.9 170.4h0M88.7 158.3h0M87.5 149.7h0M89.4 158.6h0M89.9 167.2h0M86.8 151h0M88.6 168.6h0M89.1 171.1h0M88.9 160.4h0M88.2 147.7h0M88.7 161.2h0M87.8 154.8h0M89.9 169.7h0M88.7 166.9h0M88.1 162.4h0M92.2 168.7h0M91.5 160.8h0M86.7 151.8h0M90.3 158.8h0M89.1 153.8h0M87 163.7h0M88.6 154h0M89.1 159.5h0M90.7 154.7h0M88.4 164.8h0M90.9 157.8h0M87.1 152.8h0M90.6 165.1h0M90.5 155.9h0M91.1 164.7h0M90.5 157.5h0M87.9 170.4h0M90.4 164.7h0M89.2 163.6h0M92.3 164.2h0M90.1 152.4h0M90.6 170.7h0M90.3 156.1h0M90.8 159.3h0M85.8 150.5h0M91.2 165.5h0M88.8 165.8h0M87.7 159.6h0M91 157h0M90.1 170.6h0M86.3 150.1h0M89.1 159.8h0M90.4 155.7h0M87.9 167.3h0M87.8 153.2h0M90.6 161.1h0M88.2 164.2h0M88.1 166.7h0M92 161.1h0M86.3 152.5h0M89.6 163.3h0M86.2 151.9h0M90.7 158.1h0M90.1 154.9h0M86.8 151.1h0M90.2 154.3h0M90.6 165.7h0M87.5 159.1h0M93.1 167.2h0M89 153.1h0M86.6 157h0M90.1 156.5h0M88.1 158.3h0M88.3 159.6h0M88.1 158h0M91.1 162.2h0M90.9 172.1h0M91.2 155.8h0M89.8 157h0M89.7 169.1h0M88.5 159.7h0M92.9 161h0M86.4 154.8h0M87.6 169h0M90 160.8h0M90.8 168h0M90.1 152.9h0M88.3 155.6h0M90.4 160.8h0M88.9 155.8h0M87.9 158.8h0M86.4 152.2h0M87.2 156.2h0M91.2 160.9h0M90.4 162.9h0M90.1 160.7h0M87.4 149.6h0M90.7 157.7h0M89 157.8h0M87.5 149.6h0M87.4 153.2h0M91.3 162.3h0M90.4 168.4h0M88.9 162.6h0M86.9 162.8h0M87.9 152.9h0M88 158.1h0M88 150.5h0M89.7 154.9h0M87 149.6h0M89.9 158.6h0M88.1 166.2h0M89.8 168.1h0M91.1 159.7h0M88 152.6h0M92.2 161.3h0M89.2 149.9h0M91.5 165.7h0M91 156.8h0M86.7 165.5h0M88.6 161.8h0M88 169.9h0M88.3 157.1h0M88 150.2h0M89.3 154.7h0M85 152.4h0M90.9 163.5h0M89 169.1h0M91.5 161.3h0M88.5 157.1h0M92.2 163.3h0M88.5 170.2h0M86.5 154.9h0M87.2 164.4h0M86.2 152.1h0M87.5 149.6h0M87.8 168.4h0M92.4 164.1h0M85.3 155h0M91.1 157.1h0M89.4 153.7h0M89.4 161.6h0M90.2 160.4h0M89.2 159.9h0M91 169.3h0M89.4 152.7h0M90.7 165.4h0M90.3 166.4h0M87.8 163.5h0M90.1 167h0M87.4 169.9h0M91.3 167.2h0M90.9 160.3h0M87.7 167.2h0M88.5 166.6h0M88.1 170.6h0M87.1 149.7h0M87.8 159.1h0M89.1 161.4h0" stroke="#eebf8e" stroke-width="1.2" stroke-linecap="round" fill="none" opacity="0.5"/>
<path d="M82.9 169.1h0M78.2 153.9h0M84.1 169.4h0M79.6 157h0M84.7 161.1h0M80.4 153.7h0M81.9 171.5h0M74 157.6h0M83 165.8h0M78.4 157.1h0M77.3 168.6h0M84.5 161.4h0M85.5 164.8h0M80.8 168.6h0M84.2 167h0M81.1 167.7h0M79.6 158.7h0M76.9 154h0M85.7 157.1h0M84.5 165.6h0M87.1 162h0M84.9 166.5h0M78.1 156.3h0M83.4 168.3h0M86.3 167.5h0M83.1 158.7h0M77.1 158.3h0M74.9 163.6h0M75.1 163.2h0M78.2 170.8h0M75.9 156.9h0M77.6 156.9h0M82.6 166.2h0M83 156.9h0M84.6 165.2h0M76.6 155.6h0M84.2 157.4h0M85.1 169.2h0M81.9 161.3h0M77.5 159.4h0M79.1 159.5h0M85.1 163.4h0M76.4 155h0M80.3 167.6h0M80.3 160h0M74.4 161.1h0M82.1 168.2h0M79.9 159.5h0M82.4 155.9h0M76.8 168.9h0M76.1 162.3h0M75 159.5h0M80.4 156h0M82.5 154.2h0M75.4 156.1h0M74.5 163.1h0M78.4 169h0M80.7 171.9h0M78.5 155.3h0M81.5 154.5h0M78 156.8h0M81.1 154.8h0M76.9 156.7h0M81.9 159.7h0M84.1 166.8h0M84.4 166.1h0M85.2 167.5h0M81 160.8h0M77.3 158.6h0M79.6 157.8h0M82.7 171.1h0M78.3 157.9h0M76.4 169.6h0M74.8 156.3h0M75.3 157.5h0M85.1 160.5h0M76.9 166.2h0M80.8 159.2h0M85.7 163.2h0M82.7 170.4h0M75.1 158.8h0M76.3 160.2h0M82.4 161.9h0M83.7 171.3h0M79.8 161.6h0M81.4 172.1h0M84.6 168.3h0M79.2 166.2h0M81.8 170.4h0M85.3 162.6h0M84.5 162.8h0M74.5 160.1h0M81.4 166.2h0M76.7 167.2h0M83.4 170.6h0M77.8 160.7h0M85.8 158.2h0M79.4 162.3h0M78.6 159.7h0M80 155.7h0M76.4 166h0M77.3 171.1h0M84.6 158.7h0M82.7 154.8h0M78 156.5h0M76.6 157h0M78.5 157.8h0M81.1 155.1h0M81.8 162.7h0M80.6 166.5h0M83.9 162.8h0M83.8 165.7h0M86.3 163.8h0M78.7 159.8h0M75.9 164.2h0M84.4 157h0M84.3 159.6h0M83.2 162.5h0M76.8 162.7h0M81.9 157h0M85.8 158.5h0M85.8 159.9h0M80.3 154.1h0M81.2 165.6h0M86.9 160.5h0M77.7 161.1h0M77.9 160.3h0M77.7 153.1h0M80.3 159.3h0M78 164.6h0M79.8 166.5h0M79 165.9h0M75.3 161.2h0M82.1 160.4h0M84.9 161h0M78.3 170.2h0M83.3 172.1h0M83 158.5h0M83 171.3h0M79.1 170h0M78.9 153.4h0M78.5 164.8h0M82.6 169.3h0M80.4 171.2h0M81 156.6h0M81.7 162.4h0M85.1 159.5h0M83 169.5h0M85 158.3h0M86 159.7h0M85.2 160h0M79 157h0M84 169.1h0M85.7 160.7h0M77.3 158.6h0M76.4 157.1h0M82 160.4h0M80.9 167.9h0M79.6 153.6h0M85.5 158.9h0M86.6 169h0M84.9 170.8h0M84.9 167.9h0M75.4 164.3h0M77.7 166.8h0M83.9 160.4h0M75.6 156.6h0M78.5 169.3h0M83.2 164.5h0M76.3 164.1h0M84.2 168.6h0M79.3 156.5h0M79.1 172.3h0M78.2 158.6h0M80.4 164.7h0M84.4 154.6h0M83.7 162.1h0M85.2 162h0M78.5 159.7h0M87.2 163.1h0M75.9 158.2h0M79.9 171.6h0M82.4 156.3h0M77.4 158.7h0M81.8 164.9h0M74.8 159.8h0M85.5 162.3h0M79.5 159.3h0M81.8 160.4h0M75.3 162.5h0M82.4 167.4h0M82.8 155.2h0M77.2 167.7h0M76.6 170.2h0M76.4 169.8h0M85.5 156.5h0M79.3 157.3h0M83.8 162.6h0M84.9 155.4h0M77.6 170.5h0M86.7 164.3h0M82.1 162.9h0M76.2 160h0M77.2 163.9h0M86 170.4h0M77.3 169.2h0M80.4 159.6h0M78.3 166.4h0M77.1 154.6h0M77.9 166.4h0M78.2 160h0M77.2 155.5h0M81.9 156.8h0M84.7 169.4h0M81.9 168.9h0M84.8 171.6h0M81 167.3h0M75.9 162h0M77.5 167.1h0M75.3 163.9h0M84 158.5h0M84.3 158.8h0M83.8 155.5h0M80 161.1h0M80.7 169.5h0M77.8 158h0M84.2 158.4h0M81.2 164.5h0M81.8 153.3h0M79.7 169.3h0M83.6 163h0M79.1 155.2h0M84.1 168.7h0M79.6 164.8h0M82.5 156.2h0M76.1 161.9h0M78.5 168.4h0M81.8 157.2h0M80 166.5h0M87.3 163.8h0M79.8 155.4h0M77.8 164.8h0M84.7 159h0M78.8 159.6h0M81.6 153.4h0M77.9 168h0M80.6 163.4h0M79.7 157.2h0M77.8 169h0M75.1 159.8h0M80.6 157.1h0M86.8 170.3h0M80.2 156.4h0M86 161.8h0M80.1 157.1h0M83.1 157.3h0M77.1 155.9h0M86.7 166.2h0M80.5 167.3h0M82.1 166.1h0M81.6 170.9h0M82.9 161.6h0M83.2 162.6h0M81.1 161.4h0M79.3 160h0M77.1 166.4h0M80.9 162.2h0M79.7 156.1h0M74.8 164h0M83.7 158.7h0M78 154.4h0M80.3 171h0M81.9 172h0M83.6 158.4h0M79.7 154.1h0M77.4 166.5h0M80.9 170.2h0M77.1 165.3h0M82.4 161.9h0M77.8 165.2h0M76.8 169.6h0M80.2 170.3h0M76.9 158.1h0M78.3 154.7h0M83.5 172h0M82.1 158.5h0M79 165.9h0M84.1 154.5h0M83.8 157.4h0M75.7 166.5h0M80.2 161.5h0M82.1 162.6h0M83.8 172.8h0M83 164.7h0M82.1 172.6h0M77.8 167.4h0M75.8 161.1h0M80.1 163h0M75.7 166.5h0M77 168.7h0M78.5 154.1h0M85.4 157h0M79.5 152.7h0M81.2 170.7h0M79.7 165.7h0M80.7 167.2h0M82.3 155.6h0M76.6 157h0M84.3 158.9h0M84.2 169.4h0M77.5 164.4h0M74.8 159.9h0M75.2 163.7h0M80 158.8h0M86 162.1h0M81.4 161h0M78.8 170h0M82.8 159.2h0M86.4 166.9h0M78.4 156.8h0M76.5 167.5h0M80.8 162.9h0M77.8 170.2h0M82.4 164.6h0M83.3 165.9h0M80.4 156.4h0M85.5 171.5h0M83.8 170h0M78.5 166.1h0M85.4 166.4h0M80.2 164.2h0M81.5 157.6h0M87 167.3h0M78.7 153.7h0M77.2 167.2h0M86.4 163.9h0M82.3 169.6h0M82.5 153h0M82.5 162.7h0M76.4 158h0M85.8 164.8h0M84.4 159.4h0M83.8 156.4h0M78.7 157.2h0M76.7 162.1h0M81.9 166h0M83.4 153.8h0M80.5 165.5h0M76.8 157.1h0M76.6 168.4h0M76 165.8h0M81.2 167.7h0M82.8 168.9h0M84.5 170.4h0M74.5 162.6h0M83.1 161.8h0M78.7 154.7h0M74.4 162.9h0M78 154.4h0M75.1 160.8h0M77.3 155.9h0M84.3 160.5h0M79.5 165.9h0M85.8 161.3h0M78.2 161.6h0M79.2 166.2h0M83.7 167.4h0M84.6 166.8h0M82.6 161.5h0M82.1 168.8h0M82.2 161.1h0M81.9 154.1h0M77.1 166.1h0M75.7 167.2h0M79.9 157.1h0M77.1 157.2h0M86.2 158.2h0M74.9 163.3h0M80.2 152.6h0M79.8 156.6h0M78.4 158.4h0M81.9 169.5h0M82.7 169.9h0M81 157.8h0M80.4 166.1h0M81.7 169h0M85.9 163.7h0M79 163.2h0M76.4 165.6h0M75.2 165.8h0M76.8 155.9h0M75.7 157.6h0M80.1 163.3h0M78.3 162.9h0M79.2 158.1h0M78.3 158.4h0M81.5 158.9h0M87.1 161.2h0M78 163.8h0M74.8 158.2h0M83.1 160.1h0M86.6 166.8h0M78.2 157.8h0M75 159.1h0M75.2 157.3h0M80.9 170.1h0M77.9 153.4h0M82.3 172.6h0M76.4 158.4h0M80.9 154.6h0M78.9 171.6h0M79 169.7h0M81.1 155.1h0M81.5 165.9h0M83.1 160.3h0M79.3 156.2h0M82.8 159.2h0M80.4 164.5h0M80.4 162.4h0M76.9 167.8h0" stroke="#9fdcf0" stroke-width="1.2" stroke-linecap="round" fill="none" opacity="0.5"/>
<path d="M84.2 172.9h0M84.8 173.9h0M84.7 174.3h0M82.7 183.2h0M83.1 174.5h0M81.2 172.9h0M87.2 175.5h0M84.9 178h0M87.5 181.4h0M87.9 177.7h0M90.2 178.4h0M80 174.9h0M87.4 180.6h0M87.9 172.8h0M85.2 174.8h0M88.8 180.2h0M83 179h0M78.8 177.5h0M89 178.1h0M84.8 179.9h0M83.7 173.3h0M81.5 179.5h0M83.8 174.9h0M87 179.4h0M89.5 175.8h0M86 176.9h0M80.3 173.9h0M77.2 173h0M90.3 175.8h0M85.7 183.2h0M84.7 178.7h0M85.9 174.1h0M85.5 174.9h0M85.1 180.6h0M79 180.4h0M86.9 181.1h0M84.9 183h0M78.3 180.5h0M82 180.4h0M88 178.3h0M80.1 174.8h0M77.9 174.6h0M82.8 175h0M82.4 179.4h0M78.4 174.7h0M86.3 175.5h0M86.9 176h0M85.5 181.6h0M88.8 173.3h0M87.8 177.2h0M79 180.2h0M88.6 172.8h0M87.9 177.1h0M89.1 172.9h0M85.6 175.2h0M80 172.9h0M79.2 182.3h0M83.3 177h0M86.4 180.2h0M82 173.4h0M84.9 173.8h0M85.7 182.5h0M85.1 173.4h0M79.8 178.1h0M83.7 178.5h0M82.9 183.2h0M85 178.4h0M82.4 178.5h0M88.1 179.4h0M85.4 182.4h0M83.7 182.4h0M86.5 181.1h0M80.1 175.3h0M79.7 180.8h0M86 182.4h0M90 172.9h0M83.4 183.2h0M84.9 178.1h0M77.8 176.9h0M83.9 181.6h0M80.9 172.7h0M85.9 183.5h0M84.7 171.6h0M89 180.7h0M80.3 177.2h0M89.9 175.2h0M79.8 179.3h0M86.2 176.2h0M85.8 171.6h0M87.9 179h0M89.1 176.9h0M80.5 180h0M83.9 175.3h0M87.1 171h0M86.3 178h0M82.5 182.9h0M81.6 175.3h0M86.9 183.5h0M83.2 183.5h0M79 180.1h0M84.8 180.9h0M79.6 172.3h0M86.7 170.8h0M81.4 178.2h0M90.2 174.5h0M86 180.2h0M84.4 182h0M85.1 172.1h0M83.9 179h0M88.5 177.8h0M80.2 178.4h0M83.5 181.7h0M77 175.4h0M81.1 175.1h0M85.5 178.7h0M82.4 182.9h0M82.2 183.3h0M89.2 173.9h0M87.8 176.5h0M87.8 172.7h0M81.4 175.8h0M87 171.3h0M82.6 182h0M89.8 174.2h0M88.6 180.8h0M89 173h0M82 179.4h0M88.3 182.4h0M84.9 181.5h0M89.5 173.9h0M80.4 178.6h0M82.3 175.2h0M79.2 176.9h0M89.1 172h0M79.9 177.2h0M84.5 182.1h0M83.1 177.2h0M86.6 180.5h0M87.3 170.8h0M83.7 179.1h0M80.3 172.6h0M82.6 180.1h0M79.8 175.8h0M84.4 179.4h0M78.1 172.5h0M81.3 176.5h0M84.3 184h0M81.1 175h0M79.3 172.7h0M87.6 172h0M79.1 171.4h0M85.6 176.3h0M80.5 181.4h0M82.4 174.4h0M79.2 175.6h0M85.6 178.7h0M86.1 175.4h0M89 177.3h0M83 175.1h0M79.7 176.2h0M78.3 177.9h0M87.5 176.9h0M83.8 180.5h0M87.5 179.9h0M85.3 178.6h0M78.3 173.7h0M83.2 176.1h0M83.1 173.1h0M86.2 180.4h0M87.7 171h0M85.4 174.9h0M82.5 174.7h0M85.4 173.3h0M87.1 171.4h0M84.2 179.7h0M83.5 172.4h0M89.7 175h0M80.4 172.3h0M86 173.7h0M86.3 176.1h0M81.7 173.9h0M84 175.9h0M81.4 183.2h0M86.9 175.2h0M80.5 182.6h0M84.1 173h0M80.8 182.5h0M89.6 171.4h0M85.1 184h0M78.4 174.9h0M77.3 176.9h0M84.4 180.8h0M87.1 179.2h0M86.6 182.3h0M83.9 174h0M89.2 175.2h0M86.3 182.2h0M83.1 175.7h0M81.2 184.2h0M85.6 179.9h0M87.1 171.6h0M85.3 176.5h0M85.5 171.6h0M80.1 174.5h0M81.9 182.6h0M83.4 178.2h0M83.7 179.5h0M83.4 180.1h0M78.2 175.1h0M78.5 175.8h0M83 183.7h0M89.6 174h0M77.4 176.6h0M84.7 180.5h0M80.2 176h0M82.3 177.9h0M89.6 170.9h0M87 171.1h0M86 182.8h0M88.8 172.1h0M85.3 182.5h0M82.1 179.2h0M80.6 173.6h0M85.1 179.1h0M79.7 182.4h0M86.9 176.6h0M81.9 181.3h0M81.2 182.9h0M80.2 172.5h0M84.7 183.9h0M86.6 174.4h0M78.9 176.9h0M88.7 176.9h0M80.6 175.3h0M78.9 172h0M82.3 181.8h0M82.1 182.8h0M80.1 182.9h0M87.9 175.9h0M85.7 171.3h0M85.1 183.8h0M86.2 172.6h0M82.6 182.8h0M83.5 176.6h0M77.4 176.6h0M86.4 176.7h0M83 182.9h0M86.9 173h0M82.8 174.1h0M86 170.8h0M82.5 184.3h0M85.4 180.7h0M80.5 174.1h0M80.2 181h0M88.7 171.4h0M86.6 171.8h0M89.8 174.2h0M81.2 176.6h0M81.6 184.5h0M84.1 172.4h0M87.3 175h0M83.7 176.2h0M79.8 181h0M89.7 177.1h0M85 181.8h0M88.5 177.4h0M82.5 184.7h0M77.6 174.3h0M86.9 184h0M81.6 179.3h0M86.2 177.9h0M87.5 181.2h0M81.2 175.4h0M83 175.9h0M82.2 172.7h0M81.9 175.8h0M83.6 180.2h0M83.7 177.6h0M89.8 176.9h0M86 179.4h0M78.8 176.6h0M87.5 182h0M87 179.2h0M78.5 177.6h0M88.2 173.7h0M78.3 174.2h0M77.5 175.2h0M83.8 182.9h0M83.6 175.6h0M84.5 183.1h0M85 179.7h0M85.4 172.7h0M87.7 181.1h0M79 181.1h0M80.9 172.8h0M85 180.8h0M87.4 181.1h0M81.4 173.6h0M86.5 173.3h0M79.1 179.2h0M82.1 183.5h0M77.5 174.7h0M80.9 178.7h0M79.9 173.7h0M80.1 174.5h0M84.4 182.3h0M86.7 180.6h0M82.9 182.8h0M85.1 179.5h0M80.6 179.4h0M84.7 174.9h0M79.7 182.7h0M80.2 183.5h0M83.2 185h0M79.7 178.6h0M81.7 182.2h0M86.3 179.9h0M83.7 184.5h0M84.8 183.3h0M87 177.1h0M81.9 182.5h0M85.4 181.8h0M88.1 180h0M85.9 174.2h0M83.7 183.8h0M77.8 174.9h0M86.6 173.6h0M85.1 177.9h0M90.3 172.8h0M84.4 173.3h0" stroke="#7fcf95" stroke-width="1.2" stroke-linecap="round" fill="none" opacity="0.55"/>
<path d="M73.7 150.7h0M71.4 138.9h0M73.2 144.3h0M76 148.4h0M73.9 144.6h0M75.5 139.5h0M72 147.3h0M75.9 142.3h0M75.3 145.6h0M74.5 142.5h0M73.7 143.9h0M73.2 142h0M75.8 144.7h0M75.5 149.6h0M75.5 148.4h0M76.3 150.1h0M71.5 143.9h0M73 139.5h0M74.7 151.6h0M76 142.3h0M72 148.5h0M77 146.4h0M74 149.2h0M72.6 140.3h0M72.1 140.2h0M71.6 144h0M73.8 151.8h0M76.1 145.3h0M75.3 149.9h0M75.3 147h0M72.8 140.2h0M75.4 151.4h0M74 149.6h0M75 146.9h0M76.5 149h0M72.7 138.8h0M75.5 140.5h0M75.6 145h0M71.9 146.6h0M71.1 145.8h0M73.2 148.6h0M76.6 150h0M74.1 142.4h0M78.6 149h0M72.9 138.5h0M73.3 142.9h0M78.3 150.3h0M72.2 139.4h0M76.3 150h0M78.2 149.8h0M75.4 151.6h0M77.4 142.4h0M72.7 140.8h0M70.4 144.5h0M75.2 146.9h0M73.6 148.7h0M72.4 146.8h0M76.7 146.8h0M77.3 145.9h0M71.1 147.8h0M72.1 143.8h0M76.7 149.5h0M75.4 144.3h0M70 138.6h0M72.5 139.6h0M71.8 147.5h0M74.5 142.9h0M75.7 146.9h0M73.9 143.2h0M75.3 141.1h0M77.7 142.3h0M75 145.6h0M71.4 140.2h0M75.6 144.1h0M73.6 146.1h0M75 145.3h0M73 149.3h0M72.9 138.2h0M75.2 150.6h0M72.1 139.9h0M71.4 142.9h0M75.3 147.2h0M74.2 143.9h0M74.9 144.1h0M72.4 139.2h0M72.2 142h0M71.6 140.6h0M73.9 142.8h0M71.8 148.5h0M76.6 147.9h0M77.7 149.7h0M70.1 144h0M73.6 144.8h0M74.3 149.9h0M76.1 150.2h0M76.1 150h0M78.3 149.5h0M71.5 144.5h0M72 145.5h0M75.4 149.8h0M75.5 140.8h0M72.6 148.3h0M72.1 142.8h0M77.9 145.3h0M76.2 143.7h0M72.5 137.8h0M70.7 141.9h0M74.4 139h0M71.1 140.8h0M70.7 141.2h0" stroke="#a9bde6" stroke-width="1.2" stroke-linecap="round" fill="none" opacity="0.28"/>
<path d="M69.7 157.1h0M71.7 151h0M70.9 154.5h0M73.3 155.2h0M69.1 158.4h0M68.5 152.5h0M69.4 158.2h0M71.8 159.1h0M72.6 156.9h0M70.1 160h0M69.9 154.9h0M69.7 150.8h0M71 154.6h0M68.4 152.3h0M73.3 158.9h0M70.9 154.9h0M72.8 156.6h0M72.7 158.6h0M70.5 154.7h0M69.5 158.7h0M71.7 158h0M72.1 155.7h0M72.9 154.4h0M67.8 151.3h0M70.9 157.5h0M71.2 158.4h0M67.9 153h0M69.7 154h0M69 154.2h0M72.6 157.6h0M69.3 159.9h0M72.4 151.3h0M68.6 154.5h0M73.7 157.1h0M72.1 158.6h0M72.4 159.8h0M73.4 158.5h0M70.6 151.1h0M70.4 154.8h0M69 159.4h0M68 156.3h0M72.9 155.6h0M71.7 152.1h0M74.5 152.6h0M69.4 154.6h0M74 153.7h0M71.4 150.5h0M70.9 159.4h0M73.1 153.7h0M69.7 158.8h0M71.3 159.2h0M68.1 157.4h0M74 157.1h0M72.2 159.7h0M67.6 154h0M75.5 157.5h0M71.7 158.6h0M71 157.8h0M72.6 154h0M69.8 159.6h0M68.5 153.8h0M68.4 156.6h0M69.3 154.1h0M71.2 156.2h0M71.9 157.6h0M74.7 157.5h0M72.5 157.7h0M71.4 159.1h0M69.8 151.4h0M69.8 157.1h0M71.9 159.7h0M71.8 152.4h0M68.4 150.6h0M73.6 151.1h0M67.1 152h0M73.1 149.9h0M70.3 150.5h0M68.8 153.1h0M68.9 158.6h0M73 150.9h0" stroke="#f3a0cf" stroke-width="1.2" stroke-linecap="round" fill="none" opacity="0.22"/>
<path d="M66.6 141.6h0M64.3 142.4h0M67.4 146.2h0M65.6 143.5h0M67 140.6h0M67.4 139.2h0M67.5 141h0M68 140.5h0M66.3 144h0M64.7 139.1h0M66.1 145.6h0M66.1 144.7h0M68.3 139.7h0M66.6 140.1h0M67 139.7h0M68 138.3h0M68.4 145.1h0M66 140.7h0M65.3 143.8h0M67.8 139.2h0M65.2 144.5h0M67.6 140.9h0M66.3 144h0M67.5 142.1h0M65 141h0M68.5 141.1h0M66.7 140.9h0M65.9 139.6h0M65.2 142.3h0M68.2 141.6h0M69.3 142.2h0M64.5 139.9h0M66.4 141h0M68 143.4h0M66.4 142h0M64.5 144.5h0M65.1 142.9h0M69.1 145.8h0M64.2 139.5h0M67.7 141h0M64.8 143.2h0M67.6 143.5h0M66.4 139.7h0M65.6 138.8h0M65 143.4h0M68.1 140.1h0M68 142.5h0M65 139.9h0M66.2 140.5h0M65.9 140.2h0M68.3 143.4h0M67.9 139.2h0M64.4 141.9h0M65.4 140.9h0M64.2 139.9h0M65.7 140.1h0M68.8 142.1h0M63.9 141.5h0M67 144.2h0M67.8 143.7h0" stroke="#d1a5e6" stroke-width="1.2" stroke-linecap="round" fill="none" opacity="0.3"/>
<path d="M82.8 136h0M78.1 132.3h0M78.1 137.6h0M77.9 135.2h0M83.9 140.4h0M80 138.7h0M78.2 144.6h0M82.8 143.4h0M76.7 132.1h0M76.2 131.9h0M82.4 135.9h0M82.9 147.9h0M79.7 139.3h0M78.8 131.2h0M80.4 133.1h0M78.6 142.2h0M81.9 133.9h0M75.6 132.1h0M76.9 132.2h0M86.9 144.6h0M82.4 141.5h0M79.9 135.7h0M84.8 144.4h0M84.7 144.1h0M81.4 134.7h0M82.6 139.4h0M78.1 133.5h0M84.8 145.5h0M83.8 149.5h0M84 143.4h0M80.6 145.3h0M83.3 150.2h0M84.1 149.1h0M82 140.4h0M82.8 139.3h0M81.9 144h0M84.6 144.2h0M76.8 139.5h0M84.2 150.9h0M82.2 148.7h0M86.8 149.4h0M76.8 135.9h0M82.2 149.7h0M77.2 142.3h0M80.9 146.7h0M77.9 137.5h0M85.5 147.9h0M81.2 147.5h0M82.8 139.5h0M84.3 148.6h0M83.8 144.9h0M80.9 138.2h0M85.5 146.4h0M80.1 141.7h0M79.1 137.1h0M83.9 137.1h0M81.8 148h0M83.6 137.5h0M78.4 132.6h0M83.4 150.6h0M78.9 136.7h0M83.4 137.7h0M82.7 138.7h0M85.3 144.6h0M80.5 142.6h0M83.6 140.2h0M77.7 143h0M76.2 134.2h0M85.3 142.2h0M85.8 146h0M77.4 131.4h0M87.6 147.9h0M80.6 139h0M83.3 147.4h0M84.2 138.3h0M85.2 143.3h0M82.7 140h0M80.4 140h0M80.8 145.9h0M82 145.2h0M82 146.9h0M83.6 150.5h0M75.1 137.7h0M78.7 142.8h0M78.2 135.8h0M86.6 150h0M78.1 138.2h0M82.8 149.9h0M79.1 142.4h0M83.1 144.6h0" stroke="#f0766b" stroke-width="0.80" stroke-linecap="round" fill="none" opacity="0.42"/>
<path d="M88.3 168.6h0M90.4 161.2h0M88.3 149.7h0M90.5 155.7h0M89.5 156.9h0M89 153.4h0M87.1 155.8h0M90 157h0M91.3 167.7h0M87.8 159.3h0M87.1 157.7h0M87.8 149.3h0M88.1 155.5h0M89.9 155.3h0M89.4 162.1h0M90.9 158.7h0M90.6 155.2h0M87.7 169.1h0M89 157.9h0M86.7 152.8h0M89.2 160.3h0M91.4 159.3h0M86.6 163.4h0M89.6 163h0M87.7 158.3h0M88.1 166.4h0M90.4 160.8h0M89.3 168.8h0M87.1 154.5h0M88.1 166.7h0M89.6 169.2h0M89.6 170.6h0M87.8 155.4h0M91 157.3h0M88 154.7h0M90 158h0M90.7 166.6h0M86.6 160.3h0M91 158.5h0M89 169.1h0M90 170.7h0M90.5 159.7h0M87.4 151.2h0M90.7 167.5h0M89 160.3h0M88.7 165.7h0M88.2 168.9h0M91.4 163.4h0M87.8 150h0M91.9 162.8h0M90.2 168.5h0M88 167.8h0M90.3 162.1h0M90.9 154.9h0M87.7 151.7h0M88.4 166.7h0M88.1 150.4h0M90.3 170.6h0M91.1 159.2h0M87.1 170h0M90 169.7h0M89.3 168.3h0M89.5 168h0M89.8 170.3h0M92.3 169.6h0M90.9 158.3h0M89.4 158.9h0M91.1 155.3h0M91.1 155.4h0M88.4 168.7h0" stroke="#de8c1d" stroke-width="0.80" stroke-linecap="round" fill="none" opacity="0.42"/>
<path d="M76.8 159.4h0M84.5 170.7h0M81.4 168h0M83.9 167.5h0M87 164.7h0M76.6 168h0M85.6 163.7h0M77 156.7h0M83.5 165.7h0M76.2 161.3h0M79.6 153.6h0M85.1 166.9h0M80.1 153.7h0M82.5 159.8h0M76.3 155.4h0M80.3 153.5h0M81.9 156.8h0M85.9 157.6h0M85.7 168.9h0M79.7 160.1h0M78.5 169.9h0M82.1 172.5h0M82.9 159.8h0M86.8 165.9h0M83.7 169.7h0M75.8 164.2h0M87 164.1h0M85.8 164h0M84.8 156.3h0M83.6 168.1h0M80.2 157.8h0M85 161h0M81.3 171.2h0M81.9 168h0M82 162.9h0M86.5 166.7h0M84.5 165.7h0M76.2 164.4h0M82.3 154.9h0M83.1 154.4h0M84.2 165.9h0M83.7 169.1h0M84.6 165.1h0M83.4 158.1h0M75.6 167.7h0M79.8 152.9h0M81.7 164.4h0M77.1 160.2h0M82.9 165.5h0M85.2 166.2h0M76.4 159.5h0M80.6 166.4h0M80.3 161.8h0M86.3 165.6h0M78.5 153.3h0M79.1 154.4h0M81.9 166.1h0M76.3 160.5h0M81 167.3h0M85.5 161.4h0M82.6 156.1h0M87.3 165.5h0M77 156.6h0M84.1 160.1h0M83.6 171.1h0M79.5 152h0M78.1 163.5h0M79.8 159.7h0M79 156.1h0M82.9 153.2h0M80.1 162.1h0M82.1 157.3h0M78.9 151.6h0M76.6 163.7h0M80.8 154.5h0M79.6 168.4h0M76.3 161.2h0M76.9 162.2h0M81.9 159h0M77.3 164.3h0M79.4 169.2h0M77 168.8h0M84.7 157.5h0M83.2 154h0M78.3 163.6h0M84 166.8h0M77.4 168.1h0M82.2 152.9h0M84 170.5h0M84.8 169.9h0" stroke="#19b6e6" stroke-width="0.80" stroke-linecap="round" fill="none" opacity="0.42"/>
<path d="M82.7 177.7h0M82.1 181.1h0M88.1 173.7h0M86.9 181.4h0M80 175.6h0M80.9 178.5h0M77.9 172.5h0M81.3 182.8h0M90.2 173.9h0M86.1 183.7h0M84.9 178.7h0M90.4 174.8h0M81.6 177.6h0M86 174.4h0M85.1 177.7h0M88.5 174.5h0M79.7 177.6h0M83.4 183.4h0M79.3 179.7h0M81.8 179.1h0M83.4 177.9h0M86.1 182.1h0M84.4 176.9h0M81.9 179.2h0M84.4 178.6h0M78.3 172.5h0M78.1 175.6h0M87.4 171.7h0M79.7 175.7h0M84.4 182.4h0M86.4 171.2h0M83.4 179.3h0M84.8 178.1h0M79.5 175.5h0M79.2 173.5h0M85.2 179h0M78 174.7h0M78.8 178.1h0M78.7 173h0M80.5 177.8h0M88.3 173.3h0M81.4 182.1h0M81 178.4h0M88.4 174.2h0M85.9 180.7h0M77.1 176.3h0M80.4 180.9h0M86.4 174.5h0M84.8 174.2h0M85.5 174.2h0M89.3 178h0M82 177.8h0M83.4 176.8h0M83.3 183.8h0M81.9 178.7h0M87 182.9h0M88.5 176.2h0M84.3 173.3h0M78.9 178.1h0M80.1 181.2h0M83.8 181.4h0M80 181.2h0M84.2 182.9h0M78.3 180.4h0M89.4 176.5h0M86.3 171.6h0M86.4 174.3h0M78.3 177.6h0M90.8 177.9h0M84 183.8h0M78.6 177.1h0M85.5 176.1h0M84.3 182.7h0M89.8 177.2h0M82.5 176.5h0M83.8 179.7h0M84.9 179.6h0M78.6 177.2h0M88.8 170.4h0M83.7 183.4h0" stroke="#32b34c" stroke-width="0.80" stroke-linecap="round" fill="none" opacity="0.42"/>
<path d="M38.9 161.5h0M51.4 145.9h0M47.8 150.5h0M40 160.6h0M41.8 159.5h0M48.1 157.3h0M42.4 154h0M40.1 160.6h0M41.4 159.6h0M43.5 154.3h0M44.1 161.1h0M45.5 155.2h0M46.4 158.1h0M50.5 145.4h0M45.3 160.7h0M44.8 158h0M43.8 160.2h0M50.6 145.6h0M50.5 151.3h0M47.6 149h0M42.1 155h0M41.7 157.5h0M47.5 152h0M44.8 156.9h0M44.8 153.5h0M48.4 158.6h0M43.8 159.9h0M43.6 161.2h0M45.5 158.1h0M43.9 157.5h0M40.8 160.8h0M49 146.7h0M42.5 154.7h0M43.1 159.8h0M47.6 156.2h0M44.1 159.4h0M44.6 151.3h0M49.2 150.7h0M40.4 160.7h0M40.7 162.1h0M44.8 151.3h0M51.2 147.7h0M40.3 158.6h0M47.5 149h0M42.1 154.7h0M49.8 145.5h0M41 160.5h0M50.2 151.7h0M47.7 155.9h0M42.1 155.5h0M45.7 151.4h0M48 150h0M49.6 152.1h0M45.4 160.6h0M44.9 160.2h0M47.6 148.7h0M42.3 158.6h0M49.5 144h0M48.7 143.8h0M46.8 146.5h0" stroke="#1fbf9f" stroke-width="0.80" stroke-linecap="round" fill="none" opacity="0.42"/>
<path d="M43.6 169.8h0M39.4 167.7h0M38 166.9h0M42.8 171.3h0M42.1 164.9h0M40.1 167.8h0M42.3 166.6h0M44.6 167.3h0M39.8 172.8h0M44.1 173.3h0M43.8 170.8h0M45 169h0M46.2 161.9h0M45 164.7h0M42.3 170.7h0M43.3 172.5h0M44.2 163.4h0M44.2 163.9h0M41 170.4h0M43.1 171.1h0M42.4 164.9h0M44.2 163.4h0M39.4 167h0M39.3 163.9h0M43.6 168.7h0M42.5 167h0M39.7 166h0M39.2 167.1h0M42.7 165.9h0M42.2 173.4h0M39.7 170.7h0M40.5 166.9h0M39.8 168.4h0M39.3 163.3h0M41 165.9h0M40.4 167.4h0M39.5 161.4h0M39.4 162.2h0M42.6 170.7h0M42.9 163.3h0M40.3 164.2h0M44.3 168.9h0M41.2 165.5h0M41.9 172.6h0M40.5 168.4h0M40.1 172.8h0M42.5 165.1h0M38.6 169.5h0M41.1 168.1h0M43.4 166.4h0M39.1 167.9h0M41.8 165.2h0M45.1 163.9h0M44.1 166.7h0M42.4 165.6h0" stroke="#b3a100" stroke-width="0.80" stroke-linecap="round" fill="none" opacity="0.42"/>
<path d="M76.4 143.1h0M72.8 139.5h0M70.5 141h0M72 145.3h0M74.8 138.6h0M78.5 149h0M73.5 139.5h0M72.8 142.3h0M75.3 147.4h0M75.4 142.2h0M76.1 145.7h0M78.3 149h0M72.1 147.6h0M71.9 141.6h0" stroke="#6e9bf8" stroke-width="0.80" stroke-linecap="round" fill="none" opacity="0.42"/>
<path d="M69 158.4h0M71.1 156h0M74.3 153.4h0M70.9 153.5h0M72.7 151.6h0M72.4 151.9h0M71.4 152.9h0M69.8 152.8h0" stroke="#f763b9" stroke-width="0.80" stroke-linecap="round" fill="none" opacity="0.42"/>
<path d="M67.5 143.5h0M64.9 139.2h0M65.5 141.8h0M67.2 140.7h0M64.6 142.1h0M65.2 144.4h0M65 139.8h0M69.4 140.7h0" stroke="#d06ff0" stroke-width="0.80" stroke-linecap="round" fill="none" opacity="0.42"/>
<text x="47.4" y="135.6" font-size="6.2" text-anchor="middle" fill="#161616" stroke="#161616" stroke-width="0.12">ILC1</text>
<text x="90.2" y="136" font-size="6.2" text-anchor="middle" fill="#161616" stroke="#161616" stroke-width="0.12">NK</text>
<text x="45.6" y="151.5" font-size="6.1" text-anchor="middle" fill="#1f4a48" stroke="#1f4a48" stroke-width="0.12">4</text>
<text x="40.8" y="169.2" font-size="6.1" text-anchor="middle" fill="#4a4f1a" stroke="#4a4f1a" stroke-width="0.12">2</text>
<text x="66.2" y="144.1" font-size="6.1" text-anchor="middle" fill="#5a3575" stroke="#5a3575" stroke-width="0.12">7</text>
<text x="72.9" y="146.7" font-size="6.1" text-anchor="middle" fill="#39435c" stroke="#39435c" stroke-width="0.12">6</text>
<text x="80" y="143.3" font-size="6.1" text-anchor="middle" fill="#6a2a22" stroke="#6a2a22" stroke-width="0.12">0</text>
<text x="69.6" y="156.7" font-size="6.1" text-anchor="middle" fill="#4a3550" stroke="#4a3550" stroke-width="0.12">8</text>
<text x="87.3" y="160.6" font-size="6.1" text-anchor="middle" fill="#5a4210" stroke="#5a4210" stroke-width="0.12">1</text>
<text x="80.2" y="164.4" font-size="6.1" text-anchor="middle" fill="#1f3560" stroke="#1f3560" stroke-width="0.12">5</text>
<text x="83.8" y="179.2" font-size="6.1" text-anchor="middle" fill="#1a4a25" stroke="#1a4a25" stroke-width="0.12">3</text>
<path d="M104.4 140h0" stroke="#f0766b" stroke-width="1.6" stroke-linecap="round" fill="none" opacity="1"/>
<text x="106.4" y="141.6" font-size="4.4" text-anchor="start" fill="#333" stroke="#333" stroke-width="0.06">0</text>
<path d="M104.4 144.4h0" stroke="#de8c1d" stroke-width="1.6" stroke-linecap="round" fill="none" opacity="1"/>
<text x="106.4" y="146" font-size="4.4" text-anchor="start" fill="#333" stroke="#333" stroke-width="0.06">1</text>
<path d="M104.4 148.8h0" stroke="#b3a100" stroke-width="1.6" stroke-linecap="round" fill="none" opacity="1"/>
<text x="106.4" y="150.4" font-size="4.4" text-anchor="start" fill="#333" stroke="#333" stroke-width="0.06">2</text>
<path d="M104.4 153.2h0" stroke="#32b34c" stroke-width="1.6" stroke-linecap="round" fill="none" opacity="1"/>
<text x="106.4" y="154.8" font-size="4.4" text-anchor="start" fill="#333" stroke="#333" stroke-width="0.06">3</text>
<path d="M104.4 157.6h0" stroke="#1fbf9f" stroke-width="1.6" stroke-linecap="round" fill="none" opacity="1"/>
<text x="106.4" y="159.2" font-size="4.4" text-anchor="start" fill="#333" stroke="#333" stroke-width="0.06">4</text>
<path d="M104.4 162h0" stroke="#19b6e6" stroke-width="1.6" stroke-linecap="round" fill="none" opacity="1"/>
<text x="106.4" y="163.6" font-size="4.4" text-anchor="start" fill="#333" stroke="#333" stroke-width="0.06">5</text>
<path d="M104.4 166.4h0" stroke="#6e9bf8" stroke-width="1.6" stroke-linecap="round" fill="none" opacity="1"/>
<text x="106.4" y="168" font-size="4.4" text-anchor="start" fill="#333" stroke="#333" stroke-width="0.06">6</text>
<path d="M104.4 170.8h0" stroke="#d06ff0" stroke-width="1.6" stroke-linecap="round" fill="none" opacity="1"/>
<text x="106.4" y="172.4" font-size="4.4" text-anchor="start" fill="#333" stroke="#333" stroke-width="0.06">7</text>
<path d="M104.4 175.2h0" stroke="#f763b9" stroke-width="1.6" stroke-linecap="round" fill="none" opacity="1"/>
<text x="106.4" y="176.8" font-size="4.4" text-anchor="start" fill="#333" stroke="#333" stroke-width="0.06">8</text>
</g>
<g>
<text x="135.3" y="114.9" font-size="10.2" text-anchor="start" fill="#000" stroke="#000" stroke-width="0.12" font-weight="bold">E</text>
<text x="186.9" y="126.9" font-size="6.4" text-anchor="middle" fill="#161616" stroke="#161616" stroke-width="0.12">Comparison of tumor</text>
<text x="187.8" y="134.5" font-size="6.5" text-anchor="middle" fill="#161616" stroke="#161616" stroke-width="0.12" textLength="62.5" lengthAdjust="spacing"><tspan font-style="italic">Il27ra</tspan><tspan font-size="4.2" dy="-2.7">−/−</tspan><tspan dy="2.7" font-size="4.2">​</tspan> and <tspan font-style="italic">Il27ra</tspan><tspan font-size="4.2" dy="-2.7">+/−</tspan><tspan dy="2.7" font-size="4.2">​</tspan></text>
<path d="M153.4 140.3L153.4 188.4" stroke="#222" stroke-width="0.8" fill="none"/>
<path d="M153.1 188.1L222.5 188.1" stroke="#222" stroke-width="0.8" fill="none"/>
<path d="M151.7 141.2L153.4 141.2" stroke="#222" stroke-width="0.55" fill="none"/>
<text x="151" y="144.3" font-size="7.0" text-anchor="end" fill="#161616" stroke="#161616" stroke-width="0.12">10<tspan font-size="4.3" dy="-2.8">−1</tspan><tspan dy="2.8" font-size="4.3">​</tspan></text>
<path d="M151.7 155.8L153.4 155.8" stroke="#222" stroke-width="0.55" fill="none"/>
<text x="151" y="158.9" font-size="7.0" text-anchor="end" fill="#161616" stroke="#161616" stroke-width="0.12">10<tspan font-size="4.3" dy="-2.8">−2</tspan><tspan dy="2.8" font-size="4.3">​</tspan></text>
<path d="M151.7 170.5L153.4 170.5" stroke="#222" stroke-width="0.55" fill="none"/>
<text x="151" y="173.6" font-size="7.0" text-anchor="end" fill="#161616" stroke="#161616" stroke-width="0.12">10<tspan font-size="4.3" dy="-2.8">−3</tspan><tspan dy="2.8" font-size="4.3">​</tspan></text>
<path d="M151.7 185.3L153.4 185.3" stroke="#222" stroke-width="0.55" fill="none"/>
<text x="151" y="188.4" font-size="7.0" text-anchor="end" fill="#161616" stroke="#161616" stroke-width="0.12">10<tspan font-size="4.3" dy="-2.8">−4</tspan><tspan dy="2.8" font-size="4.3">​</tspan></text>
<text x="132" y="167.5" font-size="7.0" text-anchor="middle" fill="#161616" stroke="#161616" stroke-width="0.12" transform="rotate(-90 132 165)">PERMANOVA <tspan font-style="italic">P</tspan> value</text>
<path d="M158.7 185.3L158.7 170.1" stroke="#1a1a1a" stroke-width="0.75" fill="none"/>
<path d="M156.9 170.1L160.5 170.1" stroke="#1a1a1a" stroke-width="0.75" fill="none"/>
<path d="M156.9 185.3L160.5 185.3" stroke="#1a1a1a" stroke-width="0.75" fill="none"/>
<rect x="155.8" y="174.2" width="5.8" height="11.1" fill="#f0605f" stroke="#8c2322" stroke-width="0.8"/>
<path d="M167.1 185.3L167.1 163.8" stroke="#1a1a1a" stroke-width="0.75" fill="none"/>
<path d="M165.3 163.8L168.9 163.8" stroke="#1a1a1a" stroke-width="0.75" fill="none"/>
<path d="M165.3 185.3L168.9 185.3" stroke="#1a1a1a" stroke-width="0.75" fill="none"/>
<rect x="164.2" y="175.8" width="5.8" height="9.5" fill="#e8902a" stroke="#8a4f0c" stroke-width="0.8"/>
<path d="M175.8 185.3L175.8 176.5" stroke="#1a1a1a" stroke-width="0.75" fill="none"/>
<path d="M174 176.5L177.6 176.5" stroke="#1a1a1a" stroke-width="0.75" fill="none"/>
<path d="M174 185.3L177.6 185.3" stroke="#1a1a1a" stroke-width="0.75" fill="none"/>
<path d="M184.2 185.3L184.2 185.3" stroke="#1a1a1a" stroke-width="0.75" fill="none"/>
<path d="M182.4 185.3L186 185.3" stroke="#1a1a1a" stroke-width="0.75" fill="none"/>
<path d="M182.4 185.3L186 185.3" stroke="#1a1a1a" stroke-width="0.75" fill="none"/>
<path d="M192.5 185.3L192.5 162.4" stroke="#1a1a1a" stroke-width="0.75" fill="none"/>
<path d="M190.7 162.4L194.3 162.4" stroke="#1a1a1a" stroke-width="0.75" fill="none"/>
<path d="M190.7 185.3L194.3 185.3" stroke="#1a1a1a" stroke-width="0.75" fill="none"/>
<rect x="189.6" y="180.1" width="5.8" height="5.2" fill="#4673c0" stroke="#1f3f7a" stroke-width="0.8"/>
<path d="M201 181.2L201 142.2" stroke="#1a1a1a" stroke-width="0.75" fill="none"/>
<path d="M199.2 142.2L202.8 142.2" stroke="#1a1a1a" stroke-width="0.75" fill="none"/>
<path d="M199.2 181.2L202.8 181.2" stroke="#1a1a1a" stroke-width="0.75" fill="none"/>
<rect x="198.1" y="151.6" width="5.8" height="21.9" fill="#a660c8" stroke="#55277a" stroke-width="0.8"/>
<path d="M198.1 162.7L203.9 162.7" stroke="#55277a" stroke-width="0.8" fill="none"/>
<path d="M209.2 185.3L209.2 155.8" stroke="#1a1a1a" stroke-width="0.75" fill="none"/>
<path d="M207.4 155.8L211 155.8" stroke="#1a1a1a" stroke-width="0.75" fill="none"/>
<path d="M207.4 185.3L211 185.3" stroke="#1a1a1a" stroke-width="0.75" fill="none"/>
<rect x="206.3" y="161.2" width="5.8" height="17.3" fill="#8fae2f" stroke="#4b5e12" stroke-width="0.8"/>
<path d="M206.3 164.2L212.1 164.2" stroke="#4b5e12" stroke-width="0.8" fill="none"/>
<path d="M217.5 175.3L217.5 158.1" stroke="#1a1a1a" stroke-width="0.75" fill="none"/>
<path d="M215.7 158.1L219.3 158.1" stroke="#1a1a1a" stroke-width="0.75" fill="none"/>
<path d="M215.7 175.3L219.3 175.3" stroke="#1a1a1a" stroke-width="0.75" fill="none"/>
<rect x="214.6" y="160.1" width="5.8" height="12.6" fill="#16b992" stroke="#0a5e49" stroke-width="0.8"/>
<path d="M214.6 162L220.4 162" stroke="#0a5e49" stroke-width="0.8" fill="none"/>
<path d="M158.7 188.1L158.7 189.7" stroke="#222" stroke-width="0.55" fill="none"/>
<text x="158.7" y="196.1" font-size="7.0" text-anchor="middle" fill="#161616" stroke="#161616" stroke-width="0.12">0</text>
<path d="M167.1 188.1L167.1 189.7" stroke="#222" stroke-width="0.55" fill="none"/>
<text x="167.1" y="196.1" font-size="7.0" text-anchor="middle" fill="#161616" stroke="#161616" stroke-width="0.12">1</text>
<path d="M175.8 188.1L175.8 189.7" stroke="#222" stroke-width="0.55" fill="none"/>
<text x="175.8" y="196.1" font-size="7.0" text-anchor="middle" fill="#161616" stroke="#161616" stroke-width="0.12">3</text>
<path d="M184.2 188.1L184.2 189.7" stroke="#222" stroke-width="0.55" fill="none"/>
<text x="184.2" y="196.1" font-size="7.0" text-anchor="middle" fill="#161616" stroke="#161616" stroke-width="0.12">5</text>
<path d="M192.5 188.1L192.5 189.7" stroke="#222" stroke-width="0.55" fill="none"/>
<text x="192.5" y="196.1" font-size="7.0" text-anchor="middle" fill="#161616" stroke="#161616" stroke-width="0.12">6</text>
<path d="M201 188.1L201 189.7" stroke="#222" stroke-width="0.55" fill="none"/>
<text x="201" y="196.1" font-size="7.0" text-anchor="middle" fill="#161616" stroke="#161616" stroke-width="0.12">7</text>
<path d="M209.2 188.1L209.2 189.7" stroke="#222" stroke-width="0.55" fill="none"/>
<text x="209.2" y="196.1" font-size="7.0" text-anchor="middle" fill="#161616" stroke="#161616" stroke-width="0.12">2</text>
<path d="M217.5 188.1L217.5 189.7" stroke="#222" stroke-width="0.55" fill="none"/>
<text x="217.5" y="196.1" font-size="7.0" text-anchor="middle" fill="#161616" stroke="#161616" stroke-width="0.12">4</text>
<path d="M155.5 197.4L203.5 197.4" stroke="#222" stroke-width="0.6" fill="none"/>
<path d="M205.8 197.4L220.7 197.4" stroke="#222" stroke-width="0.6" fill="none"/>
<text x="180.7" y="205.4" font-size="7.0" text-anchor="middle" fill="#161616" stroke="#161616" stroke-width="0.12">NK</text>
<text x="213.5" y="205.4" font-size="7.0" text-anchor="middle" fill="#161616" stroke="#161616" stroke-width="0.12">ILC1</text>
</g>
<g>
<text x="254" y="114.9" font-size="10.2" text-anchor="start" fill="#000" stroke="#000" stroke-width="0.12" font-weight="bold">F</text>
<rect x="269.5" y="129.3" width="62.5" height="58.3" fill="none" stroke="#555" stroke-width="0.65"/>
<path d="M268 130.6L269.5 130.6" stroke="#222" stroke-width="0.5" fill="none"/>
<text x="267.3" y="133.2" font-size="7.0" text-anchor="end" fill="#161616" stroke="#161616" stroke-width="0.12">6</text>
<path d="M325.4 187.6L325.4 189.1" stroke="#222" stroke-width="0.5" fill="none"/>
<text x="325.4" y="195.7" font-size="7.0" text-anchor="middle" fill="#161616" stroke="#161616" stroke-width="0.12">6</text>
<path d="M268 139.8L269.5 139.8" stroke="#222" stroke-width="0.5" fill="none"/>
<text x="267.3" y="142.3" font-size="7.0" text-anchor="end" fill="#161616" stroke="#161616" stroke-width="0.12">4</text>
<path d="M316.4 187.6L316.4 189.1" stroke="#222" stroke-width="0.5" fill="none"/>
<text x="316.4" y="195.7" font-size="7.0" text-anchor="middle" fill="#161616" stroke="#161616" stroke-width="0.12">4</text>
<path d="M268 148.9L269.5 148.9" stroke="#222" stroke-width="0.5" fill="none"/>
<text x="267.3" y="151.4" font-size="7.0" text-anchor="end" fill="#161616" stroke="#161616" stroke-width="0.12">2</text>
<path d="M307.3 187.6L307.3 189.1" stroke="#222" stroke-width="0.5" fill="none"/>
<text x="307.3" y="195.7" font-size="7.0" text-anchor="middle" fill="#161616" stroke="#161616" stroke-width="0.12">2</text>
<path d="M268 158L269.5 158" stroke="#222" stroke-width="0.5" fill="none"/>
<text x="267.3" y="160.5" font-size="7.0" text-anchor="end" fill="#161616" stroke="#161616" stroke-width="0.12">0</text>
<path d="M298.2 187.6L298.2 189.1" stroke="#222" stroke-width="0.5" fill="none"/>
<text x="298.2" y="195.7" font-size="7.0" text-anchor="middle" fill="#161616" stroke="#161616" stroke-width="0.12">0</text>
<path d="M268 167.1L269.5 167.1" stroke="#222" stroke-width="0.5" fill="none"/>
<text x="267.3" y="169.6" font-size="7.0" text-anchor="end" fill="#161616" stroke="#161616" stroke-width="0.12">−2</text>
<path d="M289.1 187.6L289.1 189.1" stroke="#222" stroke-width="0.5" fill="none"/>
<text x="289.1" y="195.7" font-size="7.0" text-anchor="middle" fill="#161616" stroke="#161616" stroke-width="0.12">−2</text>
<path d="M268 176.2L269.5 176.2" stroke="#222" stroke-width="0.5" fill="none"/>
<text x="267.3" y="178.8" font-size="7.0" text-anchor="end" fill="#161616" stroke="#161616" stroke-width="0.12">−4</text>
<path d="M280 187.6L280 189.1" stroke="#222" stroke-width="0.5" fill="none"/>
<text x="280" y="195.7" font-size="7.0" text-anchor="middle" fill="#161616" stroke="#161616" stroke-width="0.12">−4</text>
<path d="M268 185.4L269.5 185.4" stroke="#222" stroke-width="0.5" fill="none"/>
<text x="267.3" y="187.9" font-size="7.0" text-anchor="end" fill="#161616" stroke="#161616" stroke-width="0.12">−6</text>
<path d="M271 187.6L271 189.1" stroke="#222" stroke-width="0.5" fill="none"/>
<text x="271" y="195.7" font-size="7.0" text-anchor="middle" fill="#161616" stroke="#161616" stroke-width="0.12">−6</text>
<text x="299.5" y="204" font-size="7.2" text-anchor="middle" fill="#161616" stroke="#161616" stroke-width="0.12">UMAP_1</text>
<text x="252.6" y="160.6" font-size="7.2" text-anchor="middle" fill="#161616" stroke="#161616" stroke-width="0.12" transform="rotate(-90 252.6 158)">UMAP_2</text>
<path d="M285.4 163.3h0M279.9 154.3h0M283.5 154.4h0M282.4 157.3h0M290.2 162.7h0M279.6 156h0M280.7 154.5h0M271.8 155.5h0M291.3 166.9h0M295.6 169.3h0M271.8 153.1h0M274.5 156h0M290.2 167.7h0M298.3 169h0M281.1 152.2h0M286.4 167h0M272.3 155.1h0M281.5 156.5h0M273.4 159.5h0M272.9 155.5h0M283.8 165.3h0M280.9 158.5h0M298 170h0M280.2 152.7h0M286.7 164.6h0M297 169.8h0M293.2 166h0M291.4 166.4h0M282.3 153h0M277.8 155.7h0M272.8 156.2h0M275.4 155.8h0M294.2 167.2h0M284.6 159.2h0M287.9 165.6h0M277.1 159.7h0M284.1 157.9h0M282 160.9h0M274.6 157.5h0M275.2 157.5h0M287.2 164.4h0M287.3 162.9h0M281.2 165.7h0M278.1 153.1h0M275.5 151.9h0M278.8 158.7h0M288.1 166.4h0M285.5 164.3h0M275.1 159.2h0M288.3 166.6h0M282.5 160.8h0M281.3 166.7h0M273.9 155.9h0M284.1 154.5h0M281.4 155.5h0M291.5 167.4h0M279.5 159.8h0M280 158.5h0M275 155.3h0M277.3 158.4h0M279 152.7h0M292.4 167.6h0M275.1 158.3h0M298 170.2h0M281.8 158.1h0M276.8 152.3h0M274.6 157.3h0M284.1 157.4h0M298.6 171h0M293.9 165.6h0M290.1 166h0M285 152.9h0M293 167.6h0M281.8 156.1h0M281.7 164h0M280.5 161.7h0M284.4 152.1h0M279 154.8h0M280.9 156.3h0M297.6 170h0M293.4 168.5h0M282 162.5h0M285.8 164.4h0M279.5 154.7h0M271.3 157.7h0M285.1 160.6h0M291.3 167.9h0M277.6 155.4h0M278.7 151.3h0M279 156.1h0M280.5 164.4h0M286 163.6h0M272.4 155.2h0M273.1 158.1h0M278.5 158.4h0M282.1 164.1h0M285.9 166.5h0M274.3 159.8h0M293.6 166.3h0M286.2 165.4h0M298.6 170.3h0M285.4 154.9h0M282.9 162.6h0M297.3 169.5h0M287.3 167.7h0M283.7 165.7h0M292.8 165.3h0M276.2 158h0M276.9 158.7h0M281.1 156.3h0M287.9 166.3h0M275.8 161.7h0M273.6 153.7h0M283.6 162.6h0M273 158.4h0M288.6 165.5h0M280.9 155.3h0M275.7 161.8h0M281.5 153.8h0M276.2 161.3h0M296.8 169.8h0M293 166.6h0M283.1 153.4h0M280.9 165.1h0M284.2 165.6h0M275.5 159.2h0M283.3 154.9h0M279.7 162.1h0M278.9 164.8h0M281.2 164.8h0M289.4 166.7h0M284.2 153.8h0M273.4 154.3h0M281.6 153.9h0M278.8 164.3h0M279.3 161.5h0M279.5 159.6h0M282.4 163.4h0M275 152.8h0M271.1 155.9h0M294.5 165.5h0M289.6 167.6h0M278.7 161.1h0M277.3 157.5h0M281 163.9h0M282.3 160.9h0M275 156.6h0M284.7 152.2h0M294.1 165h0M289.4 163.1h0M288.6 163.7h0M278.3 159.7h0M289.2 168.1h0M282.9 166.5h0M282 159.6h0M272.7 152.6h0M278.4 153.5h0M288.3 167.6h0M281.6 161.4h0M287.4 167.9h0M279.7 164.3h0M283.2 157.3h0M284.3 159.5h0M276.1 157.7h0M282.6 151.5h0M283.9 162.5h0M283.9 158.7h0M276 159.3h0M272.4 157h0M270.8 154.5h0M278.5 158.1h0M290.5 163.3h0M278.5 152.7h0M280.6 165.5h0M274.6 155.7h0M281.2 155.7h0M278.9 161.9h0M278.3 153.5h0M275.3 152.5h0M287.7 166.5h0M282.2 161.7h0M275.9 155.3h0M284.2 160.4h0M272.2 153.7h0M289.3 164.4h0M276.2 161.8h0M277.1 157h0M284.1 159.3h0M292.8 165.6h0M284.1 156.5h0M283.9 155.5h0M288.5 166.7h0M291.3 167h0M285.4 167.4h0M281.6 154.5h0M276 153.2h0M283.8 155.4h0M294.5 165.9h0M282.9 160.9h0M278.2 162.7h0M288 167.6h0M272.4 153.6h0M276.2 158.5h0M282.9 153.8h0M272.5 153h0M272.4 155.6h0M286.8 161.4h0M276.5 153.9h0M284.7 163.9h0M284.9 162h0M297.7 168h0M287.5 165.6h0M283.4 152.1h0M290.7 168.2h0M271.9 151.7h0M285.8 161.1h0M282.7 160.6h0M282.3 161.2h0M275 154.1h0M290 163.7h0M295 168.1h0M282.7 158.4h0M276.6 152.5h0M273.6 161.1h0M299.7 169.7h0M285.2 165.5h0M273.8 160.3h0M296.3 167.5h0M279.5 152.4h0M295.5 167.6h0M288.5 161.9h0M275.6 155.3h0M291.4 163.5h0M290.1 165h0M282.5 165.7h0M289.4 167.4h0M282.5 155.8h0M299.4 168h0M282.9 160.1h0M278.9 156.9h0M276.8 157.3h0M279.7 156.8h0M273.5 161.1h0M284.9 155.8h0M285 153.5h0M280.1 153.9h0M283.4 152.5h0M289.6 167.2h0M279.7 165.8h0M287.9 167.9h0M279.3 160.5h0M276.5 157.7h0M284.9 161.4h0M288.2 167.2h0M288.1 167.5h0M287 168.2h0M285.3 161.2h0M287.1 166.8h0M284.9 155.1h0M275.2 156.2h0M282.4 154.4h0M293.3 166.3h0M297.1 167.8h0M292.8 168h0M282.4 162.4h0M295.4 167.9h0M281.6 162.5h0M283.6 156.1h0M274.6 161.3h0M290.9 165.7h0M293.9 166h0M284.2 154.5h0M288.7 167.4h0M279 164.1h0M298 168.9h0M278.6 154.8h0M290.2 167h0M286.7 166.8h0M284.5 153.1h0M280.8 153.3h0M271.5 155.1h0M283.2 154.9h0M280.4 161.3h0M284.3 156.4h0M287.6 166.1h0M298 170.8h0M284.4 154.2h0M285.7 166.7h0M280.1 155.6h0M285.9 164.1h0M278 153.1h0M283.6 165.2h0M287.3 165.7h0M278.7 153.6h0M280.9 164.2h0M281.6 154.9h0M278.2 163.7h0M282.3 165.2h0M283.7 159.7h0M282.3 161.9h0M272.8 154.6h0M282.5 160.1h0M275 161.2h0M271.8 156.4h0M282 164.6h0M279.1 164.7h0M294.7 167.4h0M278.3 160.6h0M276.6 153.7h0M281.1 165.6h0M281.5 159.8h0M283.2 163.8h0M274.5 152h0M287.2 162.5h0M288.8 165.5h0M276 154.1h0M278 162.8h0M296.6 167.2h0M289.8 164.8h0M278.1 156.6h0M292.2 169.9h0M292.8 169.2h0M283.8 153.5h0M289.7 164.7h0M294.9 165h0M278.5 160.3h0M277.5 152.4h0M278.6 159.7h0M280.4 163.8h0M288.4 165.5h0M281.6 152.7h0M290.3 168.2h0M286.3 162.1h0M275.6 153.1h0M279.4 157.7h0M287 161.6h0M287.1 166.3h0M283.8 153.2h0M281.4 166.2h0M282.3 164.5h0M283.2 152.7h0M293 166.1h0M280.3 156.2h0M293.1 166.9h0M295.4 167.7h0M295.5 167.9h0M289.6 166.1h0M275 152.6h0M290 168.9h0M283.6 163.5h0M277.9 155.1h0M299.2 167.9h0M282.4 167.3h0M275.2 151.4h0M285.9 157h0M282.7 156.7h0M276.8 155.9h0M282.9 157.3h0M287.2 167.8h0M279.1 163.1h0M282.7 162.4h0M285 164.7h0M279.9 158.7h0M281.3 156.1h0M280.8 159.7h0M283.3 156.7h0M281.2 162.6h0M276.8 154.1h0M282.7 154.6h0M296.6 168.2h0M279.5 155.9h0M284 158.4h0M283.4 155h0M284 151.5h0M292.7 168.6h0M282.3 163.7h0M295.3 169h0M285.4 159.8h0M285.5 157h0M280.8 153.7h0M281.4 163.8h0M296.3 167.5h0M292.4 168.3h0M273.3 153.6h0M294.6 168.4h0M284.6 166.3h0M288.9 167h0M284.3 158.1h0M277.2 159.1h0M289.7 165h0M274.5 156.6h0M290.3 166.5h0M278 155.1h0M284.5 158.3h0M278.6 154.3h0M275.2 155.9h0M271.1 155.4h0M273.5 157.1h0M295.2 168.1h0M282.2 160.2h0M275.9 152.5h0M281.9 154.9h0M276.3 161h0M284.2 161.6h0M274 152.2h0M283.3 159.7h0M278.1 162.8h0M283.7 153.1h0M273.8 155.6h0M276.8 156.2h0M279.9 156.9h0M275.8 152.7h0M272.5 155.6h0M283.8 157.3h0M282.7 160.4h0M283.3 152.5h0M283.1 166.6h0M272.7 154.1h0M271.8 153.7h0M280.6 163.8h0M283.8 156h0M281.8 152.3h0M276.9 162.8h0M284.3 165.2h0M296.7 169.2h0M282.6 152.3h0M297.2 168.9h0M289.5 165.6h0M288.6 163.9h0M284.1 152.8h0M281.1 164.8h0M278.3 160.7h0M277.9 152h0M275 156.6h0M277.9 153.2h0M295.2 167.6h0M273.8 154.3h0M296.3 170.3h0M291.7 164.7h0M294 168.3h0M282.3 163.7h0M280.7 161.1h0M271.7 155.9h0M293.4 164.8h0M280.8 152.9h0M277.9 153.9h0M275.5 160.4h0M293.9 168.7h0M292.1 164.6h0M275.8 159.9h0M273.9 158.2h0M275.4 161h0M283 158.1h0M276.9 155.4h0M279.6 156.6h0M287.6 167.8h0M274.6 156.1h0M280.9 156.6h0M273.4 154.6h0M285.3 163.1h0M281.2 163.2h0M284 158.2h0M274 154.3h0M285.5 161.1h0M283.2 155.9h0M275.8 161.1h0M291.3 166.1h0M277.1 158.9h0M285.2 155.6h0M276.8 162h0M282.1 159.5h0M273.8 153.5h0M297.9 167.9h0M271.7 157h0M282.5 157.1h0M287.5 163.9h0M279.1 155.4h0M275.6 155.7h0M294.2 168.8h0M281.8 158.7h0M294.1 168.1h0M284 166.9h0M282.7 159.5h0M274.1 153.2h0M288.5 168.2h0M273.3 154.8h0M285.8 161.9h0M285.9 161.1h0M283.5 157.4h0M281.3 156.3h0M286.6 167.5h0M288.6 166.7h0M289.9 162.8h0M277.9 157.1h0M273.3 157.3h0M277.8 156.2h0M278.1 163.3h0M275.7 152.8h0M287.2 167.3h0M280.1 163.7h0M294 165.7h0M280.2 159.5h0M283.4 166.5h0M282.4 167.2h0M281.5 152.9h0M293.6 168.1h0M274.6 161.4h0M283.6 165.6h0M271.4 155.1h0M298.1 169.5h0M280.5 163h0M295.3 167.6h0M291.4 164.5h0M286 154.7h0M276.9 152.4h0M272.8 156.3h0M280.2 163.1h0M279.3 153h0M274.3 158.5h0M275.5 159.8h0" stroke="#18b0d8" stroke-width="1.2" stroke-linecap="round" fill="none" opacity="0.88"/>
<path d="M280.2 145.6h0M300.2 144.4h0M273.6 147.9h0M277.1 150.3h0M282 151.3h0M308.3 146.2h0M294.2 144.6h0M282.8 148.1h0M307.7 147.2h0M293.3 145.4h0M305 143.7h0M283.4 146.9h0M291.7 143.7h0M293.7 144.5h0M282.3 151.2h0M307.4 146.1h0M281.1 150h0M282 141.5h0M289.3 143.4h0M290.8 142.7h0M286.2 143.7h0M292.9 146.1h0M275.1 150.1h0M302.9 144.6h0M278.9 148.4h0M281.5 140.8h0M301.5 150.1h0M297.6 143.3h0M290.4 141.3h0M274.5 148.4h0M278.2 151.8h0M288.7 143h0M278.7 143.9h0M286.3 142.2h0M278.6 144.2h0M283.2 143.4h0M278.2 151.7h0M294.5 146.1h0M296.2 146.7h0M283.4 150.4h0M283.2 148h0M295.8 145h0M277.2 147.1h0M287 144.8h0M278 144.9h0M289.1 140.5h0M281.8 141.7h0M297.5 147.6h0M301.2 148.2h0M287.2 148h0M297.2 143h0M277.9 145.4h0M283.9 148.8h0M292.7 140.5h0M290.5 140.2h0M307.7 147.7h0M306.1 151.8h0M280.2 147.8h0M284.3 142.4h0M303.8 150.5h0M293.6 142.3h0M296.8 142.3h0M296.9 140.3h0M286.4 146.8h0M279.1 143.8h0M288.1 145.6h0M294.4 139.9h0M271.8 146.2h0M308.8 147.8h0M305.2 148.6h0M302.4 142.8h0M286.5 148.1h0M297.1 146.7h0M281 150.1h0M286.6 148h0M301.2 148.1h0M283.2 146.8h0M274.1 149.2h0M296.1 145.2h0M299.9 141.1h0M289.6 145.1h0M273.5 147.6h0M282 150.6h0M287.4 142.4h0M294.8 139.9h0M279.8 143.2h0M277.4 142.1h0M289.8 141.2h0M289.1 145.2h0M276.6 145.2h0M285.8 146.5h0M303.7 149.9h0M276.5 145.9h0M284.4 144.7h0M297.1 145.1h0M275.9 145.3h0M279.5 145.5h0M300.9 147.8h0M282.1 145.8h0M283.2 147.2h0M286.1 141.1h0M302.3 148.4h0M273.3 146.5h0M282 149.8h0M276.3 151.3h0M308 150.8h0M285.8 142.9h0M302.2 143.8h0M289 146h0M299.6 144.2h0M283.1 151.2h0M304.4 142.9h0M273 149h0M277.3 143.2h0M282.5 150.4h0M274.9 150h0M308.2 147.7h0M291.2 145.6h0M309 150.7h0M284.3 145.1h0M277.6 151h0M291 140.7h0M299.4 146.5h0M278.7 152.2h0M275.9 150.5h0M290.8 143.4h0M301.6 142h0M296.5 140.6h0M287.2 141.5h0M272.2 146.6h0M277.6 147.3h0M306.5 145.1h0M303.9 149.6h0M295.5 141.4h0M308.6 148.2h0M282.7 147h0M274.7 144.7h0M283.2 142.4h0M292.7 144.2h0M284.4 143.6h0M302.4 149.7h0M275.6 146.2h0M288.5 141.6h0M281.8 151.2h0M284.6 147.6h0M276.8 141.9h0M278.3 147.4h0M308.6 150.6h0M287.3 145.8h0M298 145.1h0M279 145.9h0M300 147.3h0M282.2 141.6h0M306.5 147.2h0M306.7 147.2h0M286.1 142.7h0M290 145.4h0M293.9 142.8h0M273.2 143.5h0M281.3 150.5h0M287.4 146.3h0M274.6 143.9h0M307.4 145.6h0M274.1 147.1h0M308.1 146.4h0M289.3 145.2h0M281.5 145.4h0M290.2 146.6h0M301.3 144.5h0M284.1 149.2h0M305.5 144.3h0M289.2 146h0M279.1 144.7h0M280.7 143.6h0M303.6 146.9h0M280.9 143.1h0M292.1 144.7h0M289.5 143.5h0M284.1 142h0M283 142.8h0M292.1 141.8h0M276.1 142.1h0M298.8 144.6h0M281.3 149.2h0M293.6 146.3h0M284.9 149.8h0M278 150.4h0M299.4 143h0M292.8 145.5h0M293.8 144.2h0M281 148.7h0M281.2 150.5h0M299.9 141.8h0M286.5 146.6h0M294.1 142.1h0M296.9 140.6h0M278.7 145.7h0M300.4 144.3h0M276.2 149.8h0M288.6 142.6h0M278.2 144.3h0M274.8 144.2h0M277.7 150.5h0M302.4 143.5h0M281.9 144.6h0M297.6 144.1h0M287 143.4h0M275.3 149.7h0M304.6 150.4h0M289.6 143.1h0M273.7 150.6h0M294.7 139.9h0M277.7 148.9h0M288.7 142.1h0M307.5 147.5h0M286 143.9h0M277.7 144.4h0M289.2 146.3h0M273.7 144.8h0M303.4 142.9h0M294.1 141.6h0M285.8 143.9h0M275.9 143.6h0M296.2 144.2h0M294.4 146.7h0M303.7 149.9h0M297.3 143.2h0M304.2 150.5h0M290.1 145.5h0M304.7 144.2h0M284.3 144.1h0M299.1 140.9h0M280.5 143.2h0M297.4 147.3h0M279.1 150.9h0M291.6 144.8h0M292.6 142.9h0M293.8 141.3h0M299.1 140.2h0M284.5 151.4h0M298.2 144.3h0M300.9 147.6h0M277.6 151.8h0M293.5 144.3h0M299.1 141.3h0M284.4 148.6h0M303.2 148.5h0M295.8 145.1h0M275.5 141.3h0M304 142.4h0M283 144.7h0M309.7 149h0M294.9 143.9h0M301.2 148h0M273.2 148.7h0M302.8 149.2h0M278.4 148h0M285.4 150.3h0M305.6 150.3h0M307 151.3h0M294.5 144.6h0M275.7 149.3h0M285.4 144.7h0M296.4 146.3h0M299.5 144.1h0M277.8 143.5h0M285.9 142.5h0M277.2 143.4h0M279.4 147.3h0M291.7 144.1h0M308.9 149.1h0M304.4 148.1h0M282.8 141.9h0M307.4 150h0M309.1 148.8h0M287.9 146.4h0M308.1 148.9h0M298.1 141h0M272.7 148h0M304.7 147.9h0M282.1 144.4h0M281.5 151.9h0M280.4 148.6h0M298.9 144.6h0M293 142.2h0M306 144h0M290.8 142.9h0M299.1 145.6h0M298.7 143.6h0M289.9 146.3h0M295.2 142.2h0M299.7 146.7h0M307 145.9h0M282.5 142.4h0M295.3 146.2h0M301.1 145.7h0M281.5 142.6h0M283.3 144.3h0M279.4 150.3h0M287.5 143.6h0M297.7 145.2h0M301.3 142.6h0M293.4 145.1h0M298.7 143.7h0M278 149.8h0M303.4 142.7h0M280.2 145.5h0M302.1 145.5h0M277.5 145.6h0M276.4 143.6h0M284.7 149.4h0M282.8 143.9h0M274.1 150.6h0M279.9 143.4h0M297.3 146.6h0M285.9 144.4h0M305 144.1h0M274.1 147.5h0M279.2 146.1h0M274.3 144.7h0M278.6 146.9h0M293.6 142.6h0M302.6 146.9h0M284.7 150.3h0M275.3 144.2h0M280.2 145.2h0M297 147.8h0M276.7 150.4h0M278.8 145.1h0M307.2 150h0M277.8 150.8h0M308.6 147h0M301 142.5h0M304.2 144.1h0M282.6 144.2h0M281.2 149.1h0M295.9 140.8h0M282.5 142.5h0M283.4 149.7h0M293.8 141h0M295.8 139.8h0M296.5 145.7h0M283 144.6h0M296.8 140.5h0M304.8 147.5h0M288.2 142.2h0M282.9 149.4h0M282.8 142.9h0M300.1 146.2h0M276.9 141.4h0M283.7 150.3h0M289.9 140.5h0M281.8 143.3h0M298.6 146.8h0M280 145.3h0M292.9 139.7h0M278.4 149.6h0M303.1 150.8h0M292.4 141.5h0M277 144.7h0M282.9 147.3h0M284.2 142.1h0M279.8 146.8h0M283.3 147.2h0M287.4 141.9h0M275.5 147.7h0M273.4 148.3h0M301.5 144.1h0M277.1 149.3h0M289.1 142.9h0M290.9 142.3h0M278.5 150.2h0M275 149.5h0M283.4 146.4h0M274.6 146.5h0M289.2 142.8h0M285.6 141.6h0M289.1 144.5h0M286.4 142.7h0M291.4 146.1h0M298.7 148.2h0M294.5 143.8h0M288.7 143.2h0M280.5 143.8h0M281.8 151.6h0M278.1 144.8h0M295.2 143h0M294.3 146.5h0M287.2 143.7h0M278.9 145.2h0M306.6 145.7h0M294.9 139.8h0M275.7 144.3h0M286.9 145.7h0M291.9 139.8h0M274.5 148.3h0M272 147.6h0M284.2 145.3h0M294 142.9h0M277.7 149.9h0M285.4 149h0M281.9 149.7h0M294.6 141.6h0M298.6 142.2h0M290.6 144.6h0M284.2 149.2h0M282.6 144.7h0M303.1 145.4h0M295.8 144.9h0M291.2 141.8h0M302.8 147.8h0M293.6 142.5h0M289.6 142.9h0M303.1 143.7h0M307.2 150.8h0M283.3 147.1h0M276.2 145.1h0M273.3 150.5h0M300.3 149.3h0M286.5 147.6h0M283.5 148.4h0M281.1 151.1h0M290.9 142.9h0M307.2 147.2h0M306.3 150.4h0M277.8 150.5h0M307.9 150.1h0M275.3 142.2h0M307.5 149.6h0M275.2 145.4h0M289 141.9h0M282.9 144.6h0M303.5 147h0M293.8 141.5h0M292 140.3h0M284 143.8h0M274 148.6h0M295.8 146.8h0M305.6 148.2h0M293.4 140.8h0M282.5 147.5h0M279.9 143.4h0M282.5 149.7h0M273.1 147.1h0M295.4 140.7h0M285.8 146.8h0M300.8 145.8h0M299.4 147.3h0M303.4 147.9h0M285.5 147.9h0M290.1 139.8h0M282.5 143.4h0M279.9 144.5h0M307.7 146.7h0M296 142.8h0M281.2 140.5h0M281.8 146.3h0M307.3 146.1h0M307.8 147h0M293.6 144.7h0M291.9 146h0M281.3 147.6h0M307.1 146.9h0M294.7 140.6h0M276.6 145h0M309.1 147.5h0M304.6 145.4h0M303.9 145.6h0M285.4 146.9h0M302.6 149.1h0M278.8 145.1h0M289.1 143.1h0M274.3 150.5h0M295.5 142.4h0M304.6 148.9h0M301.9 149.7h0M302.1 143.7h0M303.5 145.5h0M307 148h0M290.7 143.1h0M285.2 149.5h0M285.1 149h0M278.2 146.5h0M290.6 143.7h0M296.7 142.8h0M305.2 144.6h0M298.3 147.1h0M299.8 143.3h0M304 142.8h0M284.1 146.5h0M297.4 145.9h0M303.2 141.6h0M286.9 141.4h0M274.5 145.7h0M278.2 143.5h0M292 144.8h0M298.6 146h0M274.5 144.4h0M274.3 144.5h0M302 146.5h0M282 141.2h0M276.2 149h0M307.3 145.2h0M285.3 145h0M302.4 147.1h0M281 150.6h0M308.8 151.6h0M287.7 140.6h0M285.1 145.1h0M281.4 150.2h0M293.1 142.4h0M304 151.1h0M298.3 142.8h0M294.9 143.4h0M284.8 147h0M273.4 144.6h0M273.9 144h0M306 144.8h0M282.8 144.2h0M304.4 148.2h0M309.2 151h0M271.6 145h0M282.3 151.5h0M279.4 142.2h0M276.8 147.2h0M274.2 145.6h0M276.6 142.2h0M280.3 143h0M298.2 144h0M303 147.6h0M304.1 147.1h0M297.6 141.1h0M279.8 149.3h0M306.6 146.7h0M300.8 143h0M283.7 147.4h0M278.1 146.4h0M276.9 142.1h0M288.2 140.4h0M299.4 141h0M272.6 147.8h0M280.6 152.1h0M294.3 144.1h0M303.1 148.2h0M275.3 149h0M273.8 145.5h0M281 142.1h0M304.7 144.6h0M287.4 144.7h0M286.1 144.4h0M302.7 143.5h0M281.9 151.9h0M299.8 146.1h0M274.7 150.9h0M280.7 143.6h0M290.8 140.8h0M297.1 146.9h0M283.3 151.3h0M280.8 145.3h0M299.8 147.5h0M292.5 142.7h0M278 142.3h0M280.9 144.6h0M286.8 148.6h0M280.6 144.7h0M276.8 149.5h0M289.2 141.8h0M299.3 141.7h0M282.5 143.4h0M293.2 144.8h0M299.2 143.9h0M286.7 146.7h0M293.7 146.5h0M280 149.7h0M307.7 147.1h0M282.2 147.9h0M282.3 143h0M286.1 147.9h0M302.2 143.3h0M300.4 148.3h0M296.4 146.6h0M275.6 148.9h0M288.1 141.8h0M279.7 146.7h0M282.3 142.1h0M275.1 142.5h0M277.4 142.3h0M277.2 141.8h0M306.6 148.6h0M295.5 147.3h0M286 141.1h0M306.2 147.7h0M300.9 147.6h0M298.4 142.3h0M301.4 147.6h0M297.6 142.7h0M306.7 151.4h0M284.8 146.3h0M274.3 148.6h0M303 148h0M282.5 149.7h0M302.1 143h0M302.1 147.8h0M295.5 142.1h0M296.3 140.5h0M277.8 150.2h0M281 143.2h0M283.2 149.7h0M282.2 150.9h0M308 147.1h0M283.5 143.6h0M301.6 143.8h0M276.8 151.5h0M296.1 142.7h0M280.5 151.5h0M285.5 142.1h0M299.9 144h0M283.7 144.9h0M286.1 147.3h0M272.8 145.3h0M277.4 142.8h0M296.2 139.8h0M293.4 145.9h0M292.5 140.6h0M305.9 151.3h0M274.6 144.8h0M290 141h0M300.1 141.1h0M288.2 145.3h0M291.5 141.1h0M292.4 144.8h0M284.8 150.4h0M283.4 141.7h0M290.3 141.5h0M272 145.9h0M304.2 146.9h0M300.1 142.8h0M303.2 146.6h0M276.7 146.7h0M276.9 144.1h0" stroke="#30b44a" stroke-width="1.2" stroke-linecap="round" fill="none" opacity="0.88"/>
<path d="M321.3 159.3h0M306.6 150.5h0M306.4 155.1h0M314.8 152.9h0M316.7 155.1h0M314.3 153.5h0M309.3 155h0M309.8 152h0M314.5 158.8h0M315.7 155.4h0M308.2 156.6h0M318.5 163.8h0M317.9 158.2h0M306.4 154.7h0M310 157.1h0M309.2 156.4h0M314.7 162.6h0M309.2 158.3h0M307 151.9h0M313 151.5h0M315.4 152.6h0M319.4 162.5h0M308.2 155.3h0M310.9 153.5h0M311.1 158.9h0M316.3 164.4h0M313.8 161.1h0M318.9 155.9h0M307.4 147.6h0M316.4 154.7h0M315.3 157.5h0M304.5 152.8h0M316.7 157.6h0M310.5 155.6h0M315.7 164.2h0M307.4 149.6h0M311.4 159h0M313 159h0M304.7 153.1h0M320.4 157.6h0M305.2 153.5h0M308.1 148.6h0M314.4 159h0M315 162.5h0M308.5 150.2h0M314 163.5h0M312.6 159.6h0M309.1 154.1h0M317.2 166.5h0M312.3 160h0M316.4 156.6h0M316.4 155.3h0M308.6 147.8h0M309.3 149h0M308.3 156.8h0M317.1 164.3h0M312 158.8h0M309.9 148.9h0M310.1 159.9h0M320 156.3h0M314.1 157.9h0M319.4 163.7h0M309 158.2h0M318.3 157.7h0M319.9 155.7h0M313.8 153.7h0M313.1 162.6h0M314.8 155.3h0M310.7 160.2h0M313.9 162.6h0M315.4 159.5h0M318 153.4h0M313.3 158.9h0M306.9 154.1h0M318.8 161h0M313.9 158.6h0M318.7 161.1h0M307.9 156.7h0M308.8 153.4h0M309 154.9h0M308.8 150.1h0M310.3 149.6h0M318.9 163.8h0M318.1 158h0M314 155.6h0M313.6 162.7h0M314.7 158.9h0M315 163.8h0M304.5 150.9h0M313.8 156.6h0M303.6 150.3h0M314.7 156.2h0M311.3 160.4h0M309.4 156.4h0M315.3 160.5h0M312.5 155.5h0M313.6 156.4h0M318.7 162.4h0M311.8 154.1h0M312.3 152.6h0M319.2 163.4h0M309.7 157.5h0M316.4 161.9h0M318.5 165.3h0M311.8 152.7h0M313.1 154.8h0M307.9 151.8h0M318.3 157.6h0M312.1 156.3h0M310.5 158h0M307 154.4h0M319.8 162.1h0M320.5 161.2h0M313.7 153h0M306.5 154.4h0M319 155.8h0M313.6 154.4h0M316.2 163.5h0M313.6 155.5h0M314.4 162.9h0M309 152.2h0M305.3 150.1h0M316.4 155.9h0M315.5 163.6h0M319 161h0M310 156.5h0M316.3 159.3h0M312.5 156.4h0M314.7 164.5h0M313.3 155.8h0M310.9 158.6h0M315.6 158.2h0M317.6 164h0M319.4 156h0M307.5 147.8h0M309.5 150.1h0M304.8 152.3h0M312.6 162.5h0M320.8 156.7h0M319.1 162.7h0M317.3 155.8h0M310.7 151.6h0M312.9 161.5h0M310.8 155.7h0M320.1 156h0M311.4 159.1h0M308.8 149.7h0M312 159.4h0M307 154.5h0M321.3 158.1h0M312.3 161.7h0M319.4 161.5h0M311.2 156.4h0M305.6 149.4h0M309.2 152.2h0M321.5 157.6h0M305.1 154.1h0M315.6 158.5h0M314.9 153.4h0M315 154.5h0M315.6 156.4h0M314.5 154.6h0M310.1 154.9h0M317 163.5h0M307.4 149.5h0M318.5 155h0M317.4 163.2h0M317 161.4h0M313 159.3h0M308.6 156.2h0M311 152.4h0M317.4 160.8h0M309.4 153.6h0M303.6 150.2h0M313.1 156.5h0M309.7 159.6h0M310.6 155h0M315.7 154.9h0M317.1 157.5h0M308.2 156.8h0M321 159.7h0M307.6 156.5h0M320.3 160.6h0M319.5 160.9h0M313.5 157.2h0M317.7 161.2h0M315.2 162.5h0M306.9 150.1h0M305.8 152.6h0M320.7 157.5h0M317.6 163.3h0M320.1 156.9h0M319.3 156.9h0M313.2 153h0M314.6 157.1h0M311.9 157.5h0M314.3 156.8h0M316 161.3h0M312.6 153.1h0M309.9 158.2h0M314.5 164.3h0M306.8 150.5h0M306.5 150.6h0M320.3 157.1h0M313.9 154.2h0M319.2 156.1h0M315.2 153.2h0M309.5 151.2h0M306.7 149.6h0M317.7 163h0M304.4 149.2h0M316 162.7h0M305 152.7h0M305.3 149.6h0M309.7 154.8h0M318.2 162.4h0M319 158.6h0M318.4 160.7h0M310.4 154h0M309.7 155.2h0M313.3 159.7h0M319.1 164.9h0M314.6 160.1h0M317.4 157.9h0M319.2 164.3h0M310 157.8h0M320.1 157.8h0M308 154h0M311.1 160.4h0M314.9 163.4h0M316.3 157.6h0M305.6 151.6h0M316 162.9h0M313.1 160.5h0M314.4 157h0M311.3 161.3h0M315.4 165.5h0M318.2 156.6h0M310.6 154.4h0M313.7 151.4h0M316.7 163.9h0M316 164.1h0M310.5 150.7h0M308.6 150.1h0M314.5 160.1h0M310.8 154.4h0M320.4 160.1h0M307.9 153.2h0M313.2 153.1h0M318.1 158.2h0M315.9 161.5h0M311.2 156h0M315.4 163h0M314.1 156.6h0M310.4 156.1h0M303.9 150.8h0M313.4 159.1h0M319.2 164.7h0M313.3 151.8h0M309.7 152.8h0M312.3 151.2h0M312.9 154.5h0M310.7 152h0M306.4 152.2h0M309.9 151.8h0M311.4 153.5h0M311.2 156.6h0M309 156.8h0M314.1 160.9h0M309.9 148.8h0M313 152.8h0M318.7 164h0M310.6 151.6h0M314.7 156h0M314.4 152h0M317.8 153.9h0M315.6 164.8h0M311.2 156.4h0M314.7 163.4h0M313.4 160.5h0M313.6 156h0M316.2 162.5h0M318.2 158.7h0M311.9 156.4h0M312.3 153.7h0M307.8 157.2h0M309.1 151.9h0M313.7 163.2h0M312 149.7h0M306.4 148.7h0M306.9 148.6h0M312.4 156.8h0M312.1 153.6h0M306.2 153.7h0M308.8 151.1h0M316.7 166h0M317.2 160.8h0M317.9 162.2h0M314.6 156.9h0M310.2 154.7h0M314.7 155.5h0M304.9 151.7h0M316.8 163.1h0M307.7 150.6h0M320.2 161.1h0M313.6 157.9h0M310.7 154.7h0M317.8 163.9h0M314 153.1h0M319.8 160.8h0M317 162.2h0M313.3 160.2h0M320.2 159.7h0M308.3 151.2h0M303.4 150.4h0M313.4 156h0M320.1 164.5h0M314.8 152.6h0M312.1 155.1h0M310.8 154.2h0M313.9 162.1h0M320.3 159.9h0M312.8 158.1h0M305.2 154.2h0M315.9 156.9h0M318.1 165.6h0M309.1 154.1h0M303.6 150.6h0M321 160.4h0M316.5 159.7h0M312.2 156.1h0M308 154.7h0M304.7 148.7h0M319.1 157.2h0M319.2 163.3h0M304.3 150.9h0M306 148.3h0M310.8 160.4h0M304.9 154h0M316.8 159.9h0M312.3 156.1h0M316.2 163.7h0M310.5 150.3h0M315.1 154.3h0M319.3 161.2h0M317.9 159h0M303.8 149.5h0M314.3 163.6h0M320.5 160.6h0M319.5 155h0M317.7 161.9h0M313.5 163.4h0M314 152h0M316.4 153.4h0M314.6 164.5h0M306.3 148.3h0M314.7 151.6h0M319.5 159.8h0M306 152.1h0M311 160.4h0M315.2 166.3h0M318.2 163.9h0M308.7 153.3h0M307.9 149.4h0M314.5 159.5h0M309 154.3h0M305.5 152.1h0M303.9 150.3h0M308.4 157.4h0M314.3 157.7h0M314.3 159.9h0M309.4 156.5h0M305.9 153.8h0M318.5 156.4h0M313.6 160.7h0M308.4 151.4h0M310.5 160.1h0M317.7 158.4h0M320.2 162.2h0M319.9 157.7h0" stroke="#6e9bf8" stroke-width="1.2" stroke-linecap="round" fill="none" opacity="0.88"/>
<path d="M311.3 170.8h0M300.1 159.5h0M305.1 164.1h0M304.3 164.9h0M314.7 169.2h0M308 167.7h0M317.8 170.1h0M307.9 164.4h0M303.5 173.6h0M307.7 173.1h0M308.3 172.8h0M308.8 163.6h0M304.4 165h0M304.7 167.9h0M303.1 156.7h0M299.9 166.2h0M316.8 175.2h0M299.9 153.3h0M308.5 172.5h0M310.8 162.8h0M304 164.8h0M307.7 162.5h0M304.9 171.4h0M310.3 176.3h0M303.6 159.9h0M316.6 172.9h0M314.9 171.3h0M308.4 170.8h0M299 153.2h0M315.1 174.7h0M313.5 168h0M310.6 173.7h0M304.2 166.8h0M305.2 161.7h0M305.4 161.9h0M316.6 169.6h0M311.9 175.6h0M306.1 162.8h0M301.8 171.3h0M308 174.6h0M315.9 168.7h0M317.7 176.3h0M310.9 177.9h0M301 170h0M306.7 175.7h0M304.9 156h0M307.8 163.9h0M307 168.1h0M313.6 173.9h0M307.9 167.7h0M310.9 163h0M304.3 167.3h0M312.3 171.1h0M310 166.6h0M302.9 153.1h0M313.3 166.4h0M312.4 162.8h0M300.5 155.1h0M302.2 155.2h0M306.7 170.6h0M317.8 175.7h0M301.7 171.2h0M311.2 173.3h0M300.2 163.5h0M308.5 175.3h0M317.6 169.7h0M302.5 153.8h0M312.9 174.9h0M306.5 170.5h0M311.2 175.2h0M317.6 169.9h0M303.8 155.4h0M306.6 160h0M319.1 171.2h0M306.2 171.3h0M309 170.9h0M312.8 176.3h0M309.9 177.1h0M313.2 168.1h0M311.3 176.1h0M311.9 166.5h0M316.2 170.2h0M311.9 170.9h0M305.2 175.7h0M304.1 170.3h0M314.3 166.1h0M311.3 167.2h0M305.1 163.3h0M304.7 155.7h0M302.4 172.1h0M316.2 174.1h0M304.1 157.3h0M301.7 168.7h0M316 172.9h0M314.1 168.3h0M305.9 162.8h0M309.4 163.4h0M311.1 175.4h0M308.1 172.2h0M310.9 163.4h0M306.6 175.4h0M302.5 171.7h0M317.1 167.4h0M310.8 177h0M301.6 170.2h0M301.1 156h0M311.8 171.3h0M312 170.2h0M310.5 172h0M314.3 173.6h0M307.5 173.8h0M314.7 175.4h0M302.2 161.4h0M305.4 165.4h0M316.5 172.9h0M314.5 168.3h0M305.2 164.5h0M306 167h0M309.1 174h0M304.6 154.2h0M310.1 164.6h0M312.2 173.9h0M313.2 168.5h0M305.5 166.2h0M300.5 155h0M310.9 175.4h0M303.4 161.1h0M315.8 177.3h0M312.9 169.5h0M301.5 170.5h0M301.5 169.6h0M314.4 172.4h0M307.8 166.4h0M303.3 154.8h0M306.2 159.2h0M317 171.3h0M314.6 175.3h0M311.7 175.4h0M301.2 154.8h0M313.8 165h0M316.5 170h0M307.3 174.5h0M308.3 171.6h0M312.9 166.6h0M314.3 171.6h0M307 173h0M309.5 164.4h0M312.6 173.9h0M305.5 170h0M311.4 176.9h0M300.9 160.3h0M306.4 163.9h0M310.5 163.3h0M314.1 165.2h0M315 174.3h0M304.2 159.2h0M303.5 167.8h0M309 176.7h0M309.8 162.7h0M304.7 156.5h0M305.2 169.2h0M308.9 173h0M308 172.1h0M310.3 169.3h0M300.4 156.5h0M300.2 165.8h0M304.3 161h0M313.7 175.5h0M312.2 163.4h0M317.7 172.9h0M310.1 171.4h0M299.8 165.5h0M305.3 166h0M301.9 165.5h0M304.2 156h0M305.2 162.1h0M310.5 167.8h0M308.4 170.2h0M306 157h0M305.3 167.6h0M307.9 168.6h0M302.3 158.6h0M308.4 176.3h0M316 173.3h0M313 166.4h0M308.5 164.3h0M300.2 163.5h0M306.6 164.5h0M313.9 173.1h0M301.1 160.8h0M304.9 175.5h0M303.1 168.6h0M305.2 170.4h0M300.2 163h0M304.1 160.6h0M301.1 168.1h0M305.2 168.7h0M318.7 174.6h0M304 166.7h0M301.2 158.7h0M306.2 164.8h0M317.5 175.6h0M308.4 162.3h0M303.7 165.1h0M302.2 166.3h0M303.7 161.2h0M302.2 170.6h0M313.7 165.3h0M303.6 157.1h0M301.4 170.4h0M300.6 160.8h0M313.6 176.7h0M312.1 164.6h0M308.6 163.6h0M311.5 177.4h0M317.4 167.3h0M303.5 160.6h0M304.1 168.7h0M306.3 158h0M307.1 174h0M300.7 165.1h0M303 161.1h0M314.6 176.4h0M301.4 168.1h0M301.7 163.8h0M311.2 164.2h0M300.3 158h0M309.8 175.4h0M303.2 154.8h0M310.7 169.7h0M304.5 167.7h0M302.8 168h0M307.3 170.7h0M315.2 166.2h0M306.7 169.8h0M315.3 174.7h0M307.5 165.4h0M300.7 155.2h0M311.2 161.9h0M307.3 162.6h0M313.6 178h0M306.6 173.9h0M306 175.3h0M304.8 160.1h0M301.7 153.8h0M311.2 166.1h0M307.8 169.1h0M306.7 159h0M306.5 172h0M315.4 166.9h0M309.1 165.5h0M300.9 155.8h0M307.8 175.5h0M304.4 157.2h0M316.3 175.8h0M306.6 160.1h0M309.1 161.7h0M302.5 157.4h0M305.1 156.2h0M313.3 171.8h0M308.9 160.2h0M301 154.5h0M301.2 158.3h0M308.6 159h0M306.1 168.4h0M314.5 172.3h0M313.9 173.6h0M300.1 161.2h0M312 176h0M303.4 165.3h0M310.5 175.3h0M314.3 173.5h0M304.3 165.1h0M301.2 165h0M306.6 167.6h0M315.9 173.6h0M305 165h0M307.2 165.9h0M309.7 173.7h0M315.2 170.3h0M304.3 165.6h0M308.1 165.5h0M304.7 169.9h0M314 167.9h0M306.6 166.7h0M309.9 163.6h0M308.1 173.3h0M314 170.5h0M306.8 172.5h0M300.9 155.3h0M309 175h0M305.6 156.3h0M311.8 161.9h0M317.8 172.8h0M314.7 164.7h0M302.4 154.6h0M315.5 175h0M300.8 160.5h0M304.5 166.7h0M314.7 174.2h0M307.4 171.6h0M315.7 171.1h0M299.2 153.3h0M303 168.7h0M306.4 174h0M308.1 161.1h0M300.8 157.7h0M310.7 163.6h0M306.1 168h0M318.1 169.9h0M301.1 163.1h0M305.9 171.8h0M299.3 152.7h0M315.8 166.1h0M307.8 163.1h0M302.1 157h0M316.2 173.9h0M309.5 164.4h0M317.4 172.3h0M305.9 160.6h0M307.5 161.4h0M314.1 169h0M314.8 170.9h0M308.4 159.5h0M313.2 166.7h0M305.1 172.8h0M304.7 172h0M309.4 172.5h0M311.6 177.9h0M305.7 164.2h0M309.1 161.2h0M314.4 173.6h0M309.7 165.2h0M317.3 169.2h0M308.4 167.4h0M314.7 164.6h0M302.4 160.7h0M314 164.7h0M307.8 162.4h0M315.8 175.9h0M312.5 166.8h0M305.6 173.5h0M309.6 170.8h0M315.1 177h0M301.4 166.7h0M317.4 169.9h0M303.1 161.8h0M313.2 167.1h0M310.3 164.1h0M308.8 160.7h0M304.9 156.9h0M306.3 160.8h0M307.6 175.5h0M299.6 153.1h0M316 168.3h0M304.8 171.2h0M304.3 174.4h0M306.7 176.7h0M310.1 176.2h0M313.5 173.2h0M312.7 173.4h0M309.4 171.9h0M300.7 166.3h0M304.6 161.6h0M317.6 167.1h0M303.3 165.7h0M309.3 164.1h0M301.6 161.5h0M304.3 171.8h0M310.2 174.3h0M310.9 165.1h0M307.9 169.3h0M312.9 173.3h0M316.6 168.1h0M302.9 165.3h0M311.5 167h0M304 164.1h0M303.8 173h0M316.4 171.5h0M304.6 154.3h0M301.5 167.5h0M301.2 151.9h0M316.7 168.1h0M300.6 154.6h0M304.1 173.8h0M302.3 155.9h0M315.5 166.2h0M307.4 166.2h0M302.8 154.8h0M305.6 161.7h0M305.5 158.6h0M308.7 165.9h0M304.2 155.5h0M317.7 171h0M314.1 165.1h0M317.6 168.3h0M311.8 175.9h0M311.2 167.2h0M313.5 165.9h0M304.1 159.5h0M312.7 176.9h0M302.4 157.1h0M307.8 166.4h0M310.3 163.6h0M314.6 170.6h0M309.9 161h0M313.3 168.8h0M306.6 156.4h0M312.4 169.7h0M308.5 159.2h0M308.5 171.6h0M311 163.5h0M306.6 158.5h0M306.8 168.6h0M308 173.4h0M313.7 167.5h0M305.1 167.5h0M310.2 174.3h0M313.1 171.3h0M311.5 161.4h0M314.2 169.3h0M303.4 156.5h0M312.4 175.3h0M305.3 153.8h0M312.2 166.9h0M318.7 171h0M310.4 166h0M301.4 169.3h0M300.7 153.6h0M303.3 154.2h0M300.9 167.5h0M303.4 169.3h0M307.5 162.8h0M306.5 176.1h0M307.9 167.4h0M313.7 176.4h0M306.6 157.5h0M314.5 172.8h0M316 171h0M313.6 164.8h0M313.8 177.6h0M311.4 167.8h0M308.3 159.6h0M314.4 175.7h0M310 163.4h0M311.7 173.4h0M314.3 177.6h0M313.5 171.3h0M300.4 167.8h0M312.8 174.2h0M302.9 153.6h0M314.7 174.3h0M309.6 162.3h0M306.8 159.2h0M315.2 172.8h0M305.5 158.5h0M312.6 171.5h0M307.1 172.9h0M313.7 163.7h0M317.1 175h0M312.9 164.4h0M301.3 158.5h0M299.8 163.9h0M318.4 175.6h0M306.6 158.7h0M306.4 165.7h0M308.8 172.1h0M305.1 155.2h0M308.4 172.1h0M309.4 172h0M306.9 163.2h0M311.8 171.7h0M309.9 159.9h0M315.6 176.2h0M313.6 173.5h0M302.1 154.1h0M308.6 175.5h0M311.2 170.3h0M309.1 169.7h0M318.1 171.7h0M309.1 162.7h0M313.3 165.5h0M305.5 175.4h0M301.2 170.1h0M310.1 173.6h0M316.7 172.4h0M308.8 173.7h0M302.9 154.5h0M307.2 172.1h0M307.3 167.7h0M301.4 165.4h0M310.5 161.5h0M309.2 173.5h0M301.9 162.9h0M304.2 155.4h0M314.5 177.6h0M311.4 163.5h0M303 154.4h0M314 177.5h0M310.8 171.9h0M307.9 165.3h0M310.4 178.1h0M314.8 177.1h0M304.7 173.3h0M305.6 161.3h0M315.5 176.9h0M310.6 176.5h0M301.8 154.1h0M306.5 168.6h0M301.8 154.9h0M304.7 170.4h0M313.7 172.1h0M308.9 165.2h0M304.3 164.7h0M302.9 165.8h0M306.1 165.8h0M299.4 151.7h0M314.3 175.7h0M304.3 166.6h0M305.8 159.2h0M311.3 174.5h0M304.3 161.6h0M300.7 154.9h0M313.4 164.8h0M301.2 156.1h0M310 164.6h0M314.7 164.8h0M305 159.1h0M301.6 161h0M307.7 161.3h0M307.8 166.3h0M301.2 165.4h0M300.3 164.7h0M314.1 172.4h0M311.7 176.5h0M303.5 169.2h0M305 155.1h0M309.1 177.1h0M318.2 172.3h0M311.7 178h0M311.2 170.3h0M310.7 171.3h0M306.6 172.6h0M302.3 170h0M313.2 172.9h0M307.1 169.2h0M309.7 175.5h0M300.4 165.7h0M317.3 168.9h0M313.9 164.4h0M307.9 165.6h0M309.4 174.2h0M309.1 174.4h0M298.3 151.5h0M302.6 155.3h0M312.7 175.7h0M302.5 168.2h0M313.7 167.8h0M314.3 165.4h0M310.9 163.2h0M303.5 165.5h0M311.2 174.6h0M306.2 159.7h0M299.8 164.1h0M302.1 155.3h0M309.8 165h0M304.6 164.3h0M317.9 174h0M302.9 170.4h0M306.7 162.9h0M308.6 162.3h0M312.9 169.4h0M315.8 175.2h0M309.3 174h0M308.1 163.9h0M307.3 165.9h0M306.5 170.5h0M301 153.4h0M312.6 174h0M315.2 170.4h0M303.5 168.8h0M314.5 173.6h0M310.1 166.2h0M302.4 160.7h0M309.4 163.2h0M316.9 169.5h0M314.3 169.5h0M311.5 162.3h0M315.8 171.7h0M302 156.3h0M299.8 165.5h0M304.4 155.1h0M307 169.8h0M308.7 175.9h0M314 165.7h0M316.4 165.9h0M309.2 172.3h0M316 171.5h0M305.4 157.6h0M301.1 164.7h0M308.7 175h0M300.8 164.4h0M315.7 167.6h0M306.3 161.9h0M305.5 164.5h0M308.9 165.1h0M303.7 167.8h0M308.2 173.5h0M308.7 175.9h0M312.5 164.2h0M302 164h0M311.5 173.5h0M302.6 157.6h0M305.7 160.2h0M318 171.6h0M312.4 177.9h0M318 173.4h0M308.8 177.2h0M314.3 172.4h0M312.7 172.5h0M302 155.1h0M314.8 176.6h0M303.8 171.6h0M310.8 165.1h0M305 167.2h0M307.7 168h0M312.7 169.4h0M312.1 171.2h0M305.1 174.9h0M308.5 176.5h0M312.9 174.6h0M305 172.1h0M310.1 171h0M311.7 170.2h0M300.5 154.9h0M315.7 177.2h0M310.8 174.3h0M313.7 170.5h0M314 177.8h0M298.8 153.2h0M306.7 156.1h0M309.2 160.1h0M313.1 167.2h0M303.2 152.9h0M307 158.3h0M300.1 162.7h0M305.2 153.9h0M304 161.5h0M317.8 171.6h0M304.4 169.9h0M315.8 173.4h0M308.6 171.3h0M300.3 163.8h0M313.4 168h0M306.7 169h0M309.1 165.8h0M306.6 169.4h0M313.3 172h0M308.2 161.3h0M305.9 160.4h0M306.1 172.7h0M317.8 171.9h0M310.5 163.1h0M307 173.4h0M308.2 168.1h0M305.7 160.7h0M305.7 156.7h0M317.8 173h0M317.3 174.1h0M306.7 166.3h0M304.8 154h0M307 171.2h0M304.9 165.4h0M304.9 171.4h0M310.3 167.9h0M308.9 176.2h0M302.2 155.3h0M309.9 165.8h0M317.4 173h0M299 154h0M309.5 159.1h0M310.7 164.9h0M309.3 164.9h0M309.1 168h0M311.8 168.1h0M308.2 159.9h0M304.3 155.2h0M308.4 165.2h0M312.8 174.2h0M312.8 169.6h0M309.3 173.1h0M312.1 166.1h0M303.4 157.5h0M306.2 173.8h0M305.8 161h0M302.5 166.8h0M313.4 168.2h0M306.3 165.7h0M309.7 173h0M318.2 171.9h0M302.4 160.4h0M301.6 161.5h0M303.1 159.8h0M301.9 161.9h0M312.7 173.4h0M304.6 169.3h0M304 170.9h0M315.8 173h0M307 173.7h0M310.3 163.8h0M314.4 177.2h0M302.7 157.9h0M315.2 176.4h0M305.7 160.5h0M306.6 166.1h0M310.7 169.7h0M309.8 160.6h0M301.8 161.9h0M308.6 166.6h0M306.2 162.6h0M305.1 173.5h0M302.7 157.4h0M318 168.3h0M304.7 167.1h0M302.8 167.6h0M318.1 172.3h0M305.8 163.2h0M307.2 160.9h0M300.2 161.9h0M311.5 160.9h0M299 153.4h0M312.5 164.5h0M310.4 170.9h0M312.4 169.4h0M307.8 167.7h0M309.2 172.1h0M305.7 157.2h0M300.9 153.4h0M303.9 164.2h0M308 167.5h0M316.2 171.2h0M301.6 153h0M318.1 167.4h0M308.6 160.8h0M302.2 166.7h0M303.7 166.6h0M303.1 153.2h0M304.5 174.2h0M306.5 160h0M309.7 177.5h0M302.3 169.9h0M313.2 171.8h0M306.7 166.8h0M308 169.2h0M303.4 163h0M302.6 169.3h0M313.2 170.6h0M305.5 166.7h0M303.8 160.2h0M307.4 174.3h0" stroke="#f0675f" stroke-width="1.2" stroke-linecap="round" fill="none" opacity="0.88"/>
<path d="M291.3 151.4h0M288.9 150.6h0M300.8 161.5h0M293 162.7h0M297.4 150.3h0M297 158.3h0M293.5 149.8h0M287.9 155.5h0M292.9 157.2h0M292.7 152.4h0M294.4 158.7h0M291.9 155.7h0M293.8 156.5h0M296.2 157h0M292.4 152.7h0M299.7 154.3h0M287.5 153.8h0M293.4 150.7h0M286.4 153.5h0M288.8 156.3h0M298.9 156.1h0M300 158h0M288.2 157.6h0M287.8 155.6h0M291.9 155.4h0M299.5 154.4h0M291.2 154.2h0M289.1 149.2h0M291.3 153.9h0M298.1 163.3h0M289.2 158h0M298.2 157.4h0M295.8 153.3h0M296.1 152.9h0M295.5 156.4h0M295.5 157h0M291 158.7h0M285.2 153.6h0M285.2 152.4h0M289.1 157.5h0M296.6 165.8h0M288 156.6h0M289.2 158h0M289.6 158.6h0M288.3 151.3h0M299.6 156.8h0M287.6 150h0M287.5 154.1h0M296.8 160.6h0M291.5 154h0M292.6 153.6h0M296.1 164.1h0M289.3 151.4h0M298.3 152.9h0M288.3 147.2h0M298.9 159.9h0M287.9 153.6h0M291.2 161.9h0M288.9 160.2h0M291.6 147.6h0M300.7 164.2h0M299.8 158.1h0M287.4 149.4h0M291.9 151.6h0M290.9 153.4h0M296.6 161.3h0M299.9 157.1h0M294 163.1h0M290.3 158h0M291.5 154.2h0M290.5 151.8h0M289.2 155.4h0M297.1 154.5h0M292 160.9h0M291 156.6h0M293.8 149.5h0M300.1 162.3h0M298.6 155h0M289.4 154.3h0M292.1 161.9h0M289.1 147.3h0M287.5 149.5h0M293.9 161.1h0M294.4 163.8h0M285.5 152.1h0M298.1 151.7h0M285.7 153.2h0M294 162.3h0M298.1 156.8h0M297.4 149.4h0M286.2 154.2h0M294.8 152h0M290.7 162.3h0M298.9 156.2h0M292.1 150.1h0M295.3 154.2h0M293.3 160.6h0M295.1 152.7h0M294.9 156.2h0M288.3 150.7h0M285.7 148.3h0M295.7 164.4h0M291.6 162.7h0M297.9 160.6h0M298.4 155.9h0M295.9 153.5h0M291.2 150.8h0M298 159.6h0M298.4 156h0M298.6 162.9h0M289.7 158.8h0M286 156h0M291.6 152.7h0M287 161h0M290.1 157.8h0M288.7 157.5h0M293 156.4h0M298.6 155h0M287.3 155.2h0M288.7 155.8h0M286.5 159.3h0M294.2 161.6h0M292 154.9h0M288.2 150.6h0M289.9 154.2h0M300.3 159.8h0M293.1 148.3h0M293.7 163.7h0M286.8 148.8h0M299.3 162.5h0M298.9 160.9h0M300 158h0M289.6 147.9h0M299.1 159.4h0M300.7 159.4h0M299.1 159h0M294.2 154.5h0M292.9 161.4h0M287.7 148.3h0M297.1 156.3h0M294.6 158.7h0M286.6 156h0M291.8 159h0M291.6 154.5h0M297.9 163.2h0M285.7 150.9h0M297.3 162h0M295.6 152h0M286.8 153.4h0M299.5 156.5h0M287.4 156.3h0M296.5 154.6h0M291 155.2h0M295.3 164.5h0M289.3 156.2h0M293.3 159.2h0M289.5 152.7h0M297.8 152.7h0M288.4 157.5h0M285.5 154.1h0M288.1 157.2h0M294.6 158.9h0M299.7 163.8h0M293.7 150.1h0M296 165.4h0M287.5 154.2h0M292.7 150.7h0M294.1 163.2h0M292.4 151.4h0M287.3 157.1h0M290 155.6h0M286 154.8h0M293.4 153.4h0M289.8 154.5h0M286 152.3h0M286.7 155.3h0M297 159.1h0M290.5 154.8h0M290.7 157.6h0M289.7 154.2h0M292.5 148.3h0M287.4 159.5h0M298.4 154.2h0M287.1 159h0M301.1 162.6h0M298.3 154.2h0M295 162.9h0M290.3 162.8h0M287.6 150.2h0M294.8 151.3h0M291.1 156h0M287 147.6h0M299.4 161.6h0M288.1 159.6h0M299.7 156.3h0M297.5 159.3h0M289 153.3h0M291.4 153.6h0M298 153.6h0M295.1 161.4h0M287 156h0M290.7 162h0M298.1 161.8h0M288.2 154.5h0M296.5 164.6h0M298.1 161.8h0M296.3 164.2h0M297.5 161.9h0M295.9 163.1h0M298.4 155h0M297.9 159.7h0M286.5 160.2h0M287.8 152.4h0M285.5 158.6h0M294.9 151.9h0M292.5 156.4h0M284.9 152.3h0M296.4 162.6h0M298.3 163.2h0M297.9 152.5h0M290.4 147h0M296.5 160.8h0M294.9 152.8h0M298.3 153.8h0M295.7 151.4h0M286.8 150.4h0M289 155.2h0M295.9 149.3h0M292.8 152.9h0M298.3 155.8h0M296.7 151.8h0M287.7 161.6h0M288.2 155.8h0M296.8 164.7h0M296.4 149.4h0M292.3 160.8h0M297.6 150.5h0M291.5 151.7h0M295.7 156.3h0M295.3 152.7h0M291.8 152.5h0M294.3 157.9h0M300.3 163.4h0M291.1 155h0M300.2 161.3h0M294.8 148.8h0M284.9 150.6h0M294.1 159.7h0M289 160.1h0M294 147.6h0M293.1 163.4h0M289 157.5h0M289.4 151.9h0M289.1 157.6h0M290.1 161.6h0M294 156.6h0M293.5 159.7h0M301.2 162.2h0M292.8 157.5h0M289 153.3h0M293.8 163h0M299 153.9h0M288.1 154.6h0M290.5 163.2h0M289.5 161.1h0M291.8 157.7h0M290.7 148.9h0M290.2 159.2h0M288.5 154.5h0M294.1 157.4h0M286.3 159.2h0M294.8 150.1h0M296.5 154.5h0M299.7 161.3h0M295.4 153.4h0M296.3 157.1h0M294.8 163.3h0M285.7 151.7h0M299.1 154.7h0M300.1 163.2h0M297.5 163.7h0M293.4 159.8h0M297.6 152h0M291 153.8h0M291.7 158.2h0M292.4 153h0M296.5 151.7h0M293.6 154.5h0M293.8 152.7h0M296.2 157.5h0M287.6 149.6h0M291.6 148.8h0M297 154h0M293.9 151.4h0M297.1 164.2h0M285.5 158.7h0M294.4 152.8h0M299.4 159.9h0M291.9 156.9h0M297.3 162.3h0M298.2 154.6h0M294.7 159.3h0M296 157.9h0M288.2 151.1h0M298.4 158h0M295 157.9h0M300.2 157.9h0M289.9 151.4h0M300.3 160.7h0M295.3 159.5h0M295.7 162.2h0M291.3 157.5h0M290.8 152.2h0M290.8 158.8h0M293.8 157.6h0M291.9 162h0M287.8 148.3h0M291.5 154.7h0M287.4 154.1h0M286.8 157.6h0M290.1 162.2h0M297.7 162.7h0M287.6 152.1h0M296.9 159.2h0M288.3 150.6h0M290.7 152h0M288.8 158.6h0M286.8 149.3h0M294.2 156h0M296.8 163h0M298.8 159.2h0M300 164.1h0M298.5 154.2h0M291.4 160.6h0M291.9 156.4h0M291.1 161.5h0M287.1 153h0M288.7 159.9h0M289.6 157.8h0M297.3 154.2h0M294.7 164.3h0M300.1 159.9h0M296.9 155.8h0M290.6 162.2h0M289.8 157.8h0M287.8 157.2h0M289.5 157.6h0M290.4 161h0M296.1 154.4h0M287.7 160.9h0M294.2 154.8h0M285.3 155.4h0M292.8 158.6h0M286.5 154.3h0M294.2 159.8h0M292.7 149.3h0M292.8 160.4h0M286.4 150.5h0M300.1 154.2h0M293.2 156.9h0M286.3 159.9h0M288.9 148.8h0M300.1 155.4h0M288 153.1h0M294.4 158.2h0M294.8 152.7h0M291.4 158.1h0M291.9 147.7h0M294.6 161.5h0M295.7 152.5h0M295.8 165.2h0M290.3 158.5h0M294.4 153.1h0M290.6 149.2h0M295.5 162.5h0M300.1 161.4h0M291.1 149h0M296.9 161.9h0M287.8 152.9h0M292.3 163.1h0M286.2 154.6h0M293.4 154.8h0M295.4 158.1h0M290.3 151.6h0M291.5 162.8h0M293.7 160.6h0M286.2 158.1h0M300 160.6h0M294.8 148h0M292.3 154.2h0M300 155.5h0M285.6 150.3h0M295.8 158.8h0M293.6 150.5h0M298.3 160h0M291.9 163.4h0M293.9 161.1h0M294 151.7h0M299.9 157.1h0M294.1 158.2h0M285.9 154.1h0M297.8 163.8h0M291.1 149.4h0M290.3 162.2h0M290.9 149.9h0M287 154.3h0M295.3 157.8h0M286 154.6h0M291.4 151.5h0M298.7 153.2h0M285.1 152.4h0M289.7 160.1h0M285.5 159.4h0M291.8 149.6h0M295.2 150h0M291.2 159.2h0M298.5 152.1h0M287.4 156h0M299.9 161.6h0M286.7 152.3h0M295.1 164.3h0M294.3 149h0M293.2 153.2h0M294.7 157.4h0M286.3 153.9h0M297.6 154.3h0M289.5 156.8h0M286.7 147.7h0M301.2 160.8h0M295.4 151h0" stroke="#de8c1d" stroke-width="1.2" stroke-linecap="round" fill="none" opacity="0.88"/>
<path d="M323.4 155.4h0M325.4 153.2h0M325.1 158.3h0M323 154.7h0M323.9 152.5h0M326.3 153.6h0M323 152.2h0M327.3 157.1h0M319.4 154.6h0M326.2 155.4h0M323.8 154.9h0M326.6 158.4h0M321.6 156.8h0M327.6 154.7h0M325.8 157h0M326 155.8h0M323.5 159.7h0M323.9 157h0M325.5 152.4h0M324.9 157.8h0M323.3 154.8h0M319.1 157.8h0M327.9 153h0M325.7 152.5h0M322.1 156.2h0M323.9 156.5h0M319.8 156.8h0M324.6 152.9h0M320.8 156.3h0M327.1 152.7h0M322.3 153.4h0M326.2 157.3h0M323.2 159.2h0M325.8 152.9h0M323.6 154.4h0M320.6 155.3h0M321.5 153.2h0M323.7 159.9h0M321.6 158h0M324.4 151.3h0M327.7 153h0M325.9 151.5h0M323.1 156.7h0M322.5 153.2h0M322.9 154.3h0M325.6 153.5h0M321.8 159.2h0M322.5 153.8h0M320.1 159.1h0M326.8 157.6h0M320.9 155.8h0M326.8 154.1h0M328.6 153.6h0M323.3 157.8h0M323.9 156.6h0M324.3 154.5h0M321.8 155.4h0M323.9 153.2h0M319.1 154.3h0M325.1 157.6h0M323.3 155.7h0M324.7 157.1h0M326.3 151.5h0M324 152.1h0M324.3 158.8h0M320.6 158.9h0M327.2 154.2h0M328.5 152.5h0M324.3 154.6h0M321.5 157.4h0M325.5 154.7h0M322.8 157.5h0M324.1 154.8h0M323.7 159.6h0M320.7 156.7h0M320.4 156.2h0M329.2 153.6h0M326.6 154.4h0M320.8 158.4h0M324.5 157.2h0M328.3 152.3h0M326 155.9h0M319.6 154.6h0M326.8 157.1h0M321.7 155.8h0M321.8 158.6h0M320.5 158h0M328.3 151.7h0M321.9 156.6h0M320.3 156h0M321.8 154.9h0M321.9 159.2h0M323.6 159.3h0M327.1 156.4h0M329.6 152h0M319.8 154.3h0M324.9 158.7h0M327.7 151.6h0M322.2 155.1h0M326.9 152.6h0M327 152.5h0M319.4 154.8h0M325.5 151.5h0M324.4 156.8h0M329.3 151.4h0M327.9 155.8h0M323 157.9h0M323.3 153.6h0M325.3 158.6h0M319.5 155.3h0M326.7 156.4h0M325.6 152.4h0M325.8 152.1h0M326.4 157.2h0M321.9 158.5h0M325.6 152.5h0M323 152.9h0M321.2 159h0M326.7 152.7h0M319.6 157.3h0M327.2 152.6h0M321 153.4h0M326.8 154.5h0M320.5 155.9h0M325.4 158.3h0M320.5 153.6h0M322.9 153.1h0M325.9 152.5h0M329 153.6h0M325.2 155.8h0" stroke="#c574ea" stroke-width="1.2" stroke-linecap="round" fill="none" opacity="0.88"/>
<path d="M315.9 166.5h0M317.8 167.6h0M322.7 171.3h0M316.8 167.3h0M319.9 164.9h0M317.3 166.4h0M319.1 169.9h0M316.6 168.1h0M317.1 170.1h0M324.2 170.2h0M316.8 167.7h0M316.4 167.1h0M318 169.6h0M325.2 169.5h0M323.5 165h0M319.9 169.5h0M324.5 165.4h0M322.3 168.3h0M324 171.8h0M319.8 165.7h0M320.6 166.4h0M319.8 171.7h0M322.3 169.7h0M324.7 166.3h0M322.4 167.3h0M323.9 166.5h0M320.8 166.2h0M324.8 168.2h0M321.7 171h0M324.1 166.4h0M319.5 167h0M318.7 166.3h0M324.3 166.6h0M323.4 170.3h0M323.1 167.7h0M319.4 168.8h0M322.2 167.7h0M320.4 166.1h0M322.5 170.7h0M324.2 166.9h0M318 167.8h0M317.8 169.4h0M321.8 169.9h0M315.4 167.2h0M318.5 166.2h0M317.8 168.2h0M321.4 166.8h0M322.9 168.7h0M322.9 165.6h0M314.6 166.5h0M324.4 165.9h0M325.2 168.4h0M322.4 168.4h0M323 166.6h0M320.9 168h0M322.2 168.7h0M320.6 165.1h0M320.9 164.2h0M316 169.5h0M325.2 169.1h0M325.3 166.4h0M320.3 165.7h0M317.2 164.9h0M317.9 166.8h0M322.7 169.4h0M318.2 166h0M321.2 171.8h0M320.5 165.9h0M318.8 166.6h0M316.9 168.2h0M317.1 170.3h0M315.5 165.1h0M322.6 168h0M321.6 170h0M320.1 169.8h0M317.4 170.7h0M322.7 168.7h0M318.6 164.2h0M321.6 168.4h0M319.9 164.2h0M325 169.7h0M321.7 170.7h0M322 166.2h0M321.3 169h0M318.4 169.6h0M316.5 167.9h0M318.1 169.7h0M322.7 168.8h0M317.2 169h0M320.9 170.8h0M322.9 164.6h0M325.1 166.2h0M323.7 169.9h0M325.3 169.7h0M315 166.7h0M317.5 168.1h0M322 169.4h0M321 166.8h0M324.5 168.9h0M318.8 171.7h0M315.3 165.7h0M321.2 169.4h0M325.8 167.7h0M322 169.7h0M325.6 167h0M321.8 165.4h0M319.3 169.1h0M323.6 167h0M318.4 170h0M322.4 166.2h0" stroke="#f763b9" stroke-width="1.2" stroke-linecap="round" fill="none" opacity="0.88"/>
<path d="M273.1 156.2C274.6 156.5 279.4 157.3 282.5 158C285.6 158.6 288.8 158.8 291.9 160.3C295.1 161.7 298.4 165.3 301.3 166.7C304.3 168.2 308.1 168.5 309.4 168.9" stroke="#222" stroke-width="0.5" fill="none" stroke-linecap="round"/>
<path d="M287.6 145.2C288.7 146 292.3 148.2 293.9 149.9C295.6 151.6 296.5 153.4 297.3 155.3C298.1 157.1 298.2 159.2 298.9 161.1C299.6 163 300.9 165.8 301.3 166.7" stroke="#222" stroke-width="0.5" fill="none" stroke-linecap="round"/>
<path d="M309.4 168.9C310.4 168.7 313.5 168.2 315.1 167.8C316.6 167.4 317.5 166.7 318.8 166.7C320.2 166.8 322.4 167.8 323.1 168.1" stroke="#222" stroke-width="0.5" fill="none" stroke-linecap="round"/>
<path d="M309.4 168.9C309.9 168 311.4 165.1 312.4 163.4C313.4 161.6 314.1 159.7 315.5 158.4C316.9 157 318.9 156.1 320.9 155.3C322.8 154.4 325.9 153.6 326.9 153.3" stroke="#222" stroke-width="0.5" fill="none" stroke-linecap="round"/>
<text x="320" y="142.3" font-size="5.9" text-anchor="middle" fill="#161616" stroke="#161616" stroke-width="0.12">NK</text>
<text x="296" y="145.8" font-size="7" text-anchor="middle" fill="#161616" stroke="#161616" stroke-width="0.12">3</text>
<text x="292.6" y="158.3" font-size="7" text-anchor="middle" fill="#161616" stroke="#161616" stroke-width="0.12">1</text>
<text x="283.2" y="165.9" font-size="7" text-anchor="middle" fill="#161616" stroke="#161616" stroke-width="0.12">5</text>
<text x="309.4" y="177.1" font-size="7" text-anchor="middle" fill="#161616" stroke="#161616" stroke-width="0.12">0</text>
<text x="314" y="157.5" font-size="7" text-anchor="middle" fill="#161616" stroke="#161616" stroke-width="0.12">6</text>
<text x="326.2" y="156.5" font-size="7" text-anchor="middle" fill="#161616" stroke="#161616" stroke-width="0.12">7</text>
<text x="324.2" y="171.3" font-size="7" text-anchor="middle" fill="#161616" stroke="#161616" stroke-width="0.12">8</text>
</g>
<g>
<text x="368.5" y="114.6" font-size="10.2" text-anchor="start" fill="#000" stroke="#000" stroke-width="0.12" font-weight="bold">G</text>
<text x="426.2" y="135.9" font-size="7.0" text-anchor="middle" fill="#161616" stroke="#161616" stroke-width="0.12">Normalized NK-cell numbers</text>
<path d="M393.8 141.4L393.8 188.2" stroke="#222" stroke-width="0.7" fill="none"/>
<path d="M392.3 141.7L393.8 141.7" stroke="#222" stroke-width="0.5" fill="none"/>
<text x="390.5" y="144.1" font-size="6.7" text-anchor="end" fill="#161616" stroke="#161616" stroke-width="0.12">0.6</text>
<path d="M392.3 148.2L393.8 148.2" stroke="#222" stroke-width="0.5" fill="none"/>
<text x="390.5" y="150.7" font-size="6.7" text-anchor="end" fill="#161616" stroke="#161616" stroke-width="0.12">0.4</text>
<path d="M392.3 154.8L393.8 154.8" stroke="#222" stroke-width="0.5" fill="none"/>
<text x="390.5" y="157.2" font-size="6.7" text-anchor="end" fill="#161616" stroke="#161616" stroke-width="0.12">0.2</text>
<path d="M392.3 161.4L393.8 161.4" stroke="#222" stroke-width="0.5" fill="none"/>
<text x="390.5" y="163.8" font-size="6.7" text-anchor="end" fill="#161616" stroke="#161616" stroke-width="0.12">0.0</text>
<path d="M392.3 168L393.8 168" stroke="#222" stroke-width="0.5" fill="none"/>
<text x="390.5" y="170.4" font-size="6.7" text-anchor="end" fill="#161616" stroke="#161616" stroke-width="0.12">−0.2</text>
<path d="M392.3 174.6L393.8 174.6" stroke="#222" stroke-width="0.5" fill="none"/>
<text x="390.5" y="177" font-size="6.7" text-anchor="end" fill="#161616" stroke="#161616" stroke-width="0.12">−0.4</text>
<path d="M392.3 181.1L393.8 181.1" stroke="#222" stroke-width="0.5" fill="none"/>
<text x="390.5" y="183.6" font-size="6.7" text-anchor="end" fill="#161616" stroke="#161616" stroke-width="0.12">−0.6</text>
<path d="M392.3 187.7L393.8 187.7" stroke="#222" stroke-width="0.5" fill="none"/>
<text x="390.5" y="190.1" font-size="6.7" text-anchor="end" fill="#161616" stroke="#161616" stroke-width="0.12">−0.8</text>
<path d="M393.8 161.4L461.5 161.4" stroke="#222" stroke-width="0.7" fill="none"/>
<rect x="397" y="147.6" width="6" height="13.8" fill="#a45cc8" stroke="#151515" stroke-width="0.65"/>
<path d="M400 147.6L400 146.6" stroke="#222" stroke-width="0.5" fill="none"/>
<path d="M398.8 146.6L401.2 146.6" stroke="#222" stroke-width="0.5" fill="none"/>
<text x="400" y="196.8" font-size="7.0" text-anchor="middle" fill="#161616" stroke="#161616" stroke-width="0.12">7</text>
<rect x="406.2" y="161.4" width="6" height="5.3" fill="#ee5b5b" stroke="#151515" stroke-width="0.65"/>
<path d="M409.2 166.7L409.2 167.7" stroke="#222" stroke-width="0.5" fill="none"/>
<path d="M408 167.7L410.4 167.7" stroke="#222" stroke-width="0.5" fill="none"/>
<text x="409.2" y="196.8" font-size="7.0" text-anchor="middle" fill="#161616" stroke="#161616" stroke-width="0.12">0</text>
<rect x="415.5" y="161.4" width="6" height="20.7" fill="#3f6fbe" stroke="#151515" stroke-width="0.65"/>
<path d="M418.5 182.1L418.5 183.1" stroke="#222" stroke-width="0.5" fill="none"/>
<path d="M417.3 183.1L419.7 183.1" stroke="#222" stroke-width="0.5" fill="none"/>
<text x="418.5" y="196.8" font-size="7.0" text-anchor="middle" fill="#161616" stroke="#161616" stroke-width="0.12">6</text>
<rect x="424.7" y="161.4" width="6" height="10.9" fill="#ee4fae" stroke="#151515" stroke-width="0.65"/>
<path d="M427.7 172.3L427.7 173.3" stroke="#222" stroke-width="0.5" fill="none"/>
<path d="M426.5 173.3L428.9 173.3" stroke="#222" stroke-width="0.5" fill="none"/>
<text x="427.7" y="196.8" font-size="7.0" text-anchor="middle" fill="#161616" stroke="#161616" stroke-width="0.12">8</text>
<rect x="434" y="154.5" width="6" height="6.9" fill="#e8902a" stroke="#151515" stroke-width="0.65"/>
<path d="M437 154.5L437 153.5" stroke="#222" stroke-width="0.5" fill="none"/>
<path d="M435.8 153.5L438.2 153.5" stroke="#222" stroke-width="0.5" fill="none"/>
<text x="437" y="196.8" font-size="7.0" text-anchor="middle" fill="#161616" stroke="#161616" stroke-width="0.12">1</text>
<rect x="443.2" y="156.5" width="6" height="4.9" fill="#3cba54" stroke="#151515" stroke-width="0.65"/>
<path d="M446.2 156.5L446.2 155.5" stroke="#222" stroke-width="0.5" fill="none"/>
<path d="M445 155.5L447.4 155.5" stroke="#222" stroke-width="0.5" fill="none"/>
<text x="446.2" y="196.8" font-size="7.0" text-anchor="middle" fill="#161616" stroke="#161616" stroke-width="0.12">3</text>
<rect x="452.4" y="160.9" width="6" height="0.5" fill="#18b0d8" stroke="#151515" stroke-width="0.65"/>
<path d="M455.4 160.9L455.4 159.9" stroke="#222" stroke-width="0.5" fill="none"/>
<path d="M454.2 159.9L456.6 159.9" stroke="#222" stroke-width="0.5" fill="none"/>
<text x="455.4" y="196.8" font-size="7.0" text-anchor="middle" fill="#161616" stroke="#161616" stroke-width="0.12">5</text>
<path d="M393.5 187.7L461 187.7" stroke="#222" stroke-width="0.7" fill="none"/>
<path d="M400 187.7L400 189.5" stroke="#222" stroke-width="0.55" fill="none"/>
<path d="M409.2 187.7L409.2 189.5" stroke="#222" stroke-width="0.55" fill="none"/>
<path d="M418.5 187.7L418.5 189.5" stroke="#222" stroke-width="0.55" fill="none"/>
<path d="M427.7 187.7L427.7 189.5" stroke="#222" stroke-width="0.55" fill="none"/>
<path d="M437 187.7L437 189.5" stroke="#222" stroke-width="0.55" fill="none"/>
<path d="M446.2 187.7L446.2 189.5" stroke="#222" stroke-width="0.55" fill="none"/>
<path d="M455.4 187.7L455.4 189.5" stroke="#222" stroke-width="0.55" fill="none"/>
<path d="M397.2 197.9L430.2 197.9" stroke="#222" stroke-width="0.6" fill="none"/>
<path d="M434 197.9L457.9 197.9" stroke="#222" stroke-width="0.6" fill="none"/>
<text x="414.1" y="205.7" font-size="7.0" text-anchor="middle" fill="#161616" stroke="#161616" stroke-width="0.12">Immature</text>
<text x="446.3" y="205.7" font-size="7.0" text-anchor="middle" fill="#161616" stroke="#161616" stroke-width="0.12">Mature</text>
<text x="426.6" y="213.7" font-size="7.0" text-anchor="middle" fill="#161616" stroke="#161616" stroke-width="0.12">NK clusters</text>
<text x="361.5" y="167.8" font-size="7.0" text-anchor="middle" fill="#161616" stroke="#161616" stroke-width="0.12" transform="rotate(-90 361.5 165.3)">Log<tspan font-size="4.4" dy="1.7">2</tspan><tspan dy="-1.7" font-size="4.4">​</tspan> (ratio of</text>
<text x="371.2" y="167.3" font-size="7.0" text-anchor="middle" fill="#161616" stroke="#161616" stroke-width="0.12" transform="rotate(-90 371.2 164.8)" textLength="56.5" lengthAdjust="spacing"><tspan font-style="italic">Il27ra</tspan><tspan font-size="4.4" dy="-2.9">−/−</tspan><tspan dy="2.9" font-size="4.4">​</tspan>/<tspan font-style="italic">Il27ra</tspan><tspan font-size="4.4" dy="-2.9">+/−</tspan><tspan dy="2.9" font-size="4.4">​</tspan>)</text>
</g>
<g>
<text x="1.3" y="229.9" font-size="10.2" text-anchor="start" fill="#000" stroke="#000" stroke-width="0.12" font-weight="bold">H</text>
<text x="91.3" y="228.8" font-size="7.0" text-anchor="middle" fill="#161616" stroke="#161616" stroke-width="0.12">KEGG pathways</text>
<rect x="59.4" y="232.9" width="54.1" height="5" fill="#dc2b30" stroke="#7a1518" stroke-width="0.35"/>
<rect x="59.7" y="235.8" width="53.5" height="1.8" fill="#ea5a55" opacity="0.6"/>
<text x="56.6" y="237" font-size="4.45" text-anchor="end" fill="#333" stroke="#333" stroke-width="0.06">Oxidative phosphorylation</text>
<text x="60.8" y="236.8" font-size="3.7" text-anchor="start" fill="#fff" stroke="#fff" stroke-width="0.06" font-weight="bold">7.54 × 10<tspan font-size="2.2" dy="-1.3">−22</tspan><tspan dy="1.3" font-size="2.2">​</tspan></text>
<rect x="59.4" y="239.2" width="47.4" height="5" fill="#dc2b30" stroke="#7a1518" stroke-width="0.35"/>
<rect x="59.7" y="242.1" width="46.8" height="1.8" fill="#ea5a55" opacity="0.6"/>
<text x="56.6" y="243.3" font-size="4.45" text-anchor="end" fill="#333" stroke="#333" stroke-width="0.06">NK-cell cytotoxicity</text>
<text x="60.8" y="243.1" font-size="3.7" text-anchor="start" fill="#fff" stroke="#fff" stroke-width="0.06" font-weight="bold">1.88 × 10<tspan font-size="2.2" dy="-1.3">−13</tspan><tspan dy="1.3" font-size="2.2">​</tspan></text>
<rect x="59.4" y="245.5" width="37.1" height="5" fill="#dc2b30" stroke="#7a1518" stroke-width="0.35"/>
<rect x="59.7" y="248.4" width="36.5" height="1.8" fill="#ea5a55" opacity="0.6"/>
<text x="56.6" y="249.6" font-size="4.45" text-anchor="end" fill="#333" stroke="#333" stroke-width="0.06">p53 signaling pathway</text>
<text x="60.8" y="249.4" font-size="3.7" text-anchor="start" fill="#fff" stroke="#fff" stroke-width="0.06" font-weight="bold">0.0023</text>
<rect x="59.4" y="251.7" width="36.4" height="5" fill="#dc2b30" stroke="#7a1518" stroke-width="0.35"/>
<rect x="59.7" y="254.6" width="35.8" height="1.8" fill="#ea5a55" opacity="0.6"/>
<text x="56.6" y="255.8" font-size="4.45" text-anchor="end" fill="#333" stroke="#333" stroke-width="0.06">TNF signaling pathway</text>
<text x="60.8" y="255.7" font-size="3.7" text-anchor="start" fill="#fff" stroke="#fff" stroke-width="0.06" font-weight="bold">1.26 × 10<tspan font-size="2.2" dy="-1.3">−11</tspan><tspan dy="1.3" font-size="2.2">​</tspan></text>
<rect x="59.4" y="258" width="33.6" height="5" fill="#dc2b30" stroke="#7a1518" stroke-width="0.35"/>
<rect x="59.7" y="260.9" width="33" height="1.8" fill="#ea5a55" opacity="0.6"/>
<text x="56.6" y="262.1" font-size="4.45" text-anchor="end" fill="#333" stroke="#333" stroke-width="0.06">Leukocyte migration</text>
<text x="60.8" y="262" font-size="3.7" text-anchor="start" fill="#fff" stroke="#fff" stroke-width="0.06" font-weight="bold">8.83 × 10<tspan font-size="2.2" dy="-1.3">−13</tspan><tspan dy="1.3" font-size="2.2">​</tspan></text>
<rect x="59.4" y="264.3" width="31.3" height="5" fill="#dc2b30" stroke="#7a1518" stroke-width="0.35"/>
<rect x="59.7" y="267.2" width="30.7" height="1.8" fill="#ea5a55" opacity="0.6"/>
<text x="56.6" y="268.4" font-size="4.45" text-anchor="end" fill="#333" stroke="#333" stroke-width="0.06">Carbon metabolism</text>
<text x="60.8" y="268.2" font-size="3.7" text-anchor="start" fill="#fff" stroke="#fff" stroke-width="0.06" font-weight="bold">0.0019</text>
<rect x="59.4" y="270.6" width="30.6" height="5" fill="#dc2b30" stroke="#7a1518" stroke-width="0.35"/>
<rect x="59.7" y="273.5" width="30" height="1.8" fill="#ea5a55" opacity="0.6"/>
<text x="56.6" y="274.7" font-size="4.45" text-anchor="end" fill="#333" stroke="#333" stroke-width="0.06">FoxO pathway</text>
<text x="60.8" y="274.5" font-size="3.7" text-anchor="start" fill="#fff" stroke="#fff" stroke-width="0.06" font-weight="bold">0.0016</text>
<rect x="59.4" y="276.9" width="23.6" height="5" fill="#dc2b30" stroke="#7a1518" stroke-width="0.35"/>
<rect x="59.7" y="279.8" width="23" height="1.8" fill="#ea5a55" opacity="0.6"/>
<text x="56.6" y="281" font-size="4.45" text-anchor="end" fill="#333" stroke="#333" stroke-width="0.06">PI3K–AKT pathway</text>
<text x="60.8" y="280.8" font-size="3.7" text-anchor="start" fill="#fff" stroke="#fff" stroke-width="0.06" font-weight="bold">0.0033</text>
<rect x="59.4" y="283.1" width="23" height="5" fill="#dc2b30" stroke="#7a1518" stroke-width="0.35"/>
<rect x="59.7" y="286" width="22.4" height="1.8" fill="#ea5a55" opacity="0.6"/>
<text x="56.6" y="287.2" font-size="4.45" text-anchor="end" fill="#333" stroke="#333" stroke-width="0.06">Pathways in cancer</text>
<text x="60.8" y="287.1" font-size="3.7" text-anchor="start" fill="#fff" stroke="#fff" stroke-width="0.06" font-weight="bold">0.0088</text>
<rect x="59.4" y="289.4" width="19.1" height="5" fill="#dc2b30" stroke="#7a1518" stroke-width="0.35"/>
<rect x="59.7" y="292.3" width="18.5" height="1.8" fill="#ea5a55" opacity="0.6"/>
<text x="56.6" y="293.5" font-size="4.45" text-anchor="end" fill="#333" stroke="#333" stroke-width="0.06">Metabolic pathways</text>
<text x="60.8" y="293.4" font-size="3.7" text-anchor="start" fill="#fff" stroke="#fff" stroke-width="0.06" font-weight="bold">0.0285</text>
<path d="M59.4 232L59.4 295.8" stroke="#222" stroke-width="0.6" fill="none"/>
<path d="M59.1 295.8L125.3 295.8" stroke="#222" stroke-width="0.7" fill="none"/>
<path d="M59.4 295.8L59.4 297.5" stroke="#222" stroke-width="0.55" fill="none"/>
<text x="59.4" y="304.1" font-size="7.0" text-anchor="middle" fill="#161616" stroke="#161616" stroke-width="0.12">0</text>
<path d="M75.8 295.8L75.8 297.5" stroke="#222" stroke-width="0.55" fill="none"/>
<text x="75.8" y="304.1" font-size="7.0" text-anchor="middle" fill="#161616" stroke="#161616" stroke-width="0.12">1</text>
<path d="M92.2 295.8L92.2 297.5" stroke="#222" stroke-width="0.55" fill="none"/>
<text x="92.2" y="304.1" font-size="7.0" text-anchor="middle" fill="#161616" stroke="#161616" stroke-width="0.12">2</text>
<path d="M108.6 295.8L108.6 297.5" stroke="#222" stroke-width="0.55" fill="none"/>
<text x="108.6" y="304.1" font-size="7.0" text-anchor="middle" fill="#161616" stroke="#161616" stroke-width="0.12">3</text>
<path d="M125 295.8L125 297.5" stroke="#222" stroke-width="0.55" fill="none"/>
<text x="125" y="304.1" font-size="7.0" text-anchor="middle" fill="#161616" stroke="#161616" stroke-width="0.12">4</text>
<text x="92" y="313.1" font-size="7.0" text-anchor="middle" fill="#161616" stroke="#161616" stroke-width="0.12">Fold enrichment</text>
</g>
<g>
<text x="137.8" y="229.1" font-size="10.2" text-anchor="start" fill="#000" stroke="#000" stroke-width="0.12" font-weight="bold">I</text>
<path d="M154.3 293H190" stroke="#8d9fb3" stroke-width="0.73" stroke-dasharray="0.5 0.7 2.1 0.3 0.9 0.3 1.1 1.2 1.1 1.1 0.6 1.5 0.7 0.5 1.6 1.5 2.2 1.6 2.2 0.8 1.3 1.3 1.0 1.5 2.5 1.3 1.6 0.5" opacity="0.75" fill="none"/>
<path d="M158.9 286H190" stroke="#8d9fb3" stroke-width="0.88" stroke-dasharray="5.0 0.3 5.4 0.3 8.7 0.3 12.7 0.3 13.4 0.3 9.8 0.3 6.3 0.3 12.8 0.3 14.2 0.3 13.1 0.4 12.5 0.4 11.1 0.3 5.1 0.4 2.5 0.3" opacity="0.75" fill="none"/>
<path d="M163.5 281.9H190" stroke="#8d9fb3" stroke-width="0.90" stroke-dasharray="5.6 0.3 20.2 0.3 18.4 0.3 15.3 0.3 18.7 0.3 16.9 0.3 19.7 0.3 4.2 0.3 19.4 0.3 8.9 0.3 14.6 0.3 20.5 0.3 19.6 0.3 8.8 0.3" opacity="0.75" fill="none"/>
<path d="M165.8 279H190" stroke="#8d9fb3" stroke-width="0.90" stroke-dasharray="13.2 0.3 12.2 0.3 21.3 0.3 5.1 0.3 7.2 0.3 21.1 0.3 17.9 0.3 11.8 0.3 15.9 0.3 1.5 0.3 13.9 0.3 3.8 0.3 3.8 0.3 22.3 0.3" opacity="0.75" fill="none"/>
<path d="M168.1 276.7H190" stroke="#8d9fb3" stroke-width="0.88" stroke-dasharray="11.0 0.3 14.5 0.3 0.4 0.3 9.3 0.3 7.1 0.3 4.8 0.3 11.4 0.3 12.1 0.3 11.7 0.3 5.5 0.3 14.2 0.4 9.9 0.3 2.5 0.3 2.2 0.3" opacity="0.75" fill="none"/>
<path d="M170.4 274.9H190" stroke="#8d9fb3" stroke-width="0.85" stroke-dasharray="2.9 0.3 2.2 0.3 6.9 0.3 5.5 0.3 1.3 0.3 2.8 0.3 1.0 0.5 5.2 0.3 8.2 0.3 2.3 0.3 6.9 0.3 3.0 0.5 5.6 0.5 9.1 0.3" opacity="0.75" fill="none"/>
<path d="M172.7 273.3H190" stroke="#8d9fb3" stroke-width="0.83" stroke-dasharray="4.0 0.3 6.9 0.6 4.8 0.3 6.9 0.3 3.2 0.7 2.5 0.6 6.9 0.6 2.4 0.7 3.1 0.7 1.3 0.7 5.5 0.3 4.8 0.4 3.9 0.5 1.1 0.6" opacity="0.75" fill="none"/>
<path d="M175 272H190" stroke="#8d9fb3" stroke-width="0.80" stroke-dasharray="5.1 0.6 2.4 0.7 2.3 0.6 2.5 0.4 4.6 0.5 0.9 0.3 2.6 0.3 3.8 0.3 0.4 0.3 4.3 0.7 4.6 0.8 1.5 0.6 3.0 0.4 2.2 0.4" opacity="0.75" fill="none"/>
<path d="M176.2 270.8H190" stroke="#8d9fb3" stroke-width="0.76" stroke-dasharray="0.7 1.1 2.7 0.3 1.1 0.5 2.9 0.8 1.8 0.5 2.3 1.2 3.5 0.3 2.0 0.3 3.0 0.9 1.6 0.6 0.6 1.2 3.2 1.3 3.3 0.3 3.1 0.3" opacity="0.75" fill="none"/>
<path d="M177.3 269.7H190" stroke="#8d9fb3" stroke-width="0.73" stroke-dasharray="2.7 1.3 2.5 1.3 2.5 1.3 2.5 0.3 2.0 1.5 2.5 0.3 1.5 1.1 0.9 0.9 2.3 1.7 2.0 1.6 0.7 0.9 0.6 0.5 1.6 1.2 1.0 1.2" opacity="0.75" fill="none"/>
<path d="M182.6 271.3h0M183.5 269.9h0M184 257.4h0M186.7 265.4h0M172.2 259.4h0M179.6 264.2h0M181.2 267.3h0M180.2 260.6h0M179.2 262.7h0M179 258.1h0M187.9 255.7h0M178.4 262.8h0M184.8 262.8h0M184.6 259.1h0M178.8 269.4h0M181.5 267.9h0M167.6 260h0M177.4 274.4h0M186.8 278.2h0M177.3 272.8h0M169.4 262h0M186.1 264.6h0M173.6 267h0M188.2 266.6h0M180.6 273.5h0M173.6 266.7h0M176.9 271.1h0M189.4 259.9h0M181.8 266.6h0M180.3 261.8h0M181.6 263.2h0M179.8 267.3h0M177.2 269.5h0M184.2 270.7h0M188.9 262.4h0M181.2 262.1h0M189.5 273.2h0M186.9 269h0M172.4 264.6h0M184.6 266.2h0M188.1 259.9h0M169.6 265.4h0M177.6 257.2h0M183.3 271.2h0M175.8 262.8h0M180.7 268.6h0M178.8 272.9h0M175.3 287.3h0M179.6 268.9h0M177.9 266.6h0M179.9 263.9h0M180 258.7h0M176.3 264.5h0M175.6 268.9h0M176.7 273.3h0M182.7 270.3h0M174.4 264.8h0M187.5 278.6h0M175.1 276h0M178.7 257.1h0M177.5 266.2h0M177.1 261.5h0M182.7 268.9h0M181 274.9h0M175.1 270.9h0M181.2 263.2h0M182.8 270.8h0M181.3 267h0M187.5 265.4h0M166.5 253.2h0M179.1 257.2h0M176.8 279.7h0M182.9 276h0M172.8 267.6h0M175.8 263.7h0M179.2 262.4h0M185.7 259.1h0M186.3 282.7h0M176.6 274.3h0M185.3 283.1h0M180.3 257h0M186.3 266.7h0M181.2 270h0M183.8 267h0M180.9 261.4h0M175.9 265.8h0M175.6 277.8h0M183.5 263.4h0M176.8 258.9h0M175.3 270h0M179.6 265.3h0M183.4 274.1h0M184.3 255.4h0M176.9 275.1h0M179.9 270.2h0M183.9 266.5h0M177.2 265.7h0M186.1 264h0M181.7 275.8h0M175.3 263.9h0M184.3 271.8h0M179.2 267.4h0M189.5 264.8h0M179.9 272.6h0M189.2 286.8h0M184.1 268.4h0M183.8 272.8h0M178.9 257.3h0M181.6 257.3h0M185.4 265.9h0M187.8 264.1h0M176.5 270.2h0M188.1 270h0M177.1 259.9h0M187.6 272.8h0M183.8 265.4h0M174.2 263.4h0M184.4 268.7h0M177.2 264h0M176.8 257.6h0M180.2 266.6h0M171.9 258.1h0M181.2 265.7h0M182.9 261.3h0M185.7 267.4h0M177.5 266.9h0M178.1 276.2h0M188.2 265h0M171.5 272.9h0M183.8 272.5h0M186.3 272.5h0M176.9 259.3h0M186.2 275.4h0M179.4 267h0M178.6 264.8h0M174 261.6h0M188.2 263.6h0M175.2 264.7h0M162.6 263.8h0M172.5 254.7h0M176.2 276.5h0M172.9 278h0M188.3 266.9h0M174.8 266.3h0M177.4 261h0M180.3 267.1h0M183.6 259.7h0M172.2 281h0M170 271.5h0M174.6 263.5h0M183 269.6h0M178.3 262.4h0M183.3 270h0M175.8 270.3h0M185.5 261.5h0M181.7 262.1h0M180.5 268.5h0M183.1 257h0M182.1 269.9h0M181.6 264.7h0M172.1 284.6h0M182.1 261.6h0M179.7 257h0M183 262.9h0M181.9 272h0M178.3 260h0M183.1 265.6h0M189.1 272.6h0M183.7 273.5h0M181 263.8h0M181.6 272.7h0M186.5 272h0M177.2 259.5h0M181 261.6h0M178.8 258.9h0M172.8 270.5h0M185 263.7h0M185.9 252.6h0M179.2 268.5h0M180.1 271h0M184.3 261.9h0M180.6 276.3h0M188.6 260.6h0M170.8 276.3h0M180.4 279h0M183.8 271.6h0M179.6 266.3h0M186.8 266.4h0M183 262.9h0M184 274h0M179.8 256.1h0M171.3 254h0M183 263.3h0M175.1 269.6h0M185.4 270.2h0M182.2 264.3h0M183 265.5h0M171.1 271.3h0M183.8 271.1h0M187.5 274.1h0M188.8 274.6h0M175.9 277.1h0M175.5 261.3h0M185.5 277.1h0M175.2 269.4h0M170.9 266.3h0M177.2 263.4h0M179.8 269.8h0M184.5 261.6h0M178.3 269.6h0M177.1 269.4h0M183.1 271h0M181.5 274.9h0M185.1 270.8h0M174 268.5h0M174.5 255.2h0M186.8 278.6h0M186 270.9h0M176.7 273.4h0M180.5 262.4h0M178.1 260.7h0M184.5 269.7h0M186.2 272.6h0M181 260.9h0M182.2 266.8h0M177.2 278.9h0M185 272h0M184.7 266.3h0M179.8 273.5h0M175.7 248.7h0M186.7 273.8h0M176 268.4h0M178.2 266.1h0M176.9 265.8h0M182.6 273.9h0M180.8 270.7h0M173.9 265.2h0M178.3 262.7h0M177.7 262.6h0M186 266.6h0M189.8 276.4h0M178.6 274.8h0M179.2 263.1h0M174.8 270.8h0M186.9 269.5h0M182.6 262.2h0M176.3 269.9h0M184.1 271.1h0M181.1 259h0M186.6 270.9h0M180.1 278.4h0M178 271.5h0M181.3 266.5h0M180.8 255.8h0M186.1 266.1h0M179.6 261.8h0M178.8 275.4h0M182 261.6h0M174.5 280.8h0M178.3 260.2h0M185.1 262.4h0M176 251.6h0M186.8 265.3h0M177.7 262.4h0M179.6 268.3h0M183.8 272h0M181.5 265.5h0M174 259.5h0M172.1 275.6h0M182 262.9h0M175.5 255h0M179 276.4h0M184.1 279.5h0M179.5 274.4h0M177.7 281.1h0M174.6 259.9h0M181.4 269h0M175.6 279.4h0M172.8 261.5h0M178.5 270.5h0M187.3 266.9h0M179.2 265.4h0M180.1 254.8h0M180.3 271h0M181.6 258.5h0M175.6 258.4h0M173.8 265.1h0M180.6 255.5h0M171.5 264.5h0M179.3 256.8h0M179.2 255.2h0M178.3 259.9h0M181.5 259.1h0M177.1 278.5h0M185.2 265.3h0M176.3 264.9h0M172.9 269.4h0M179.6 275.6h0M184 270.3h0M179.7 268.4h0M190 270.9h0M172.3 253.3h0M185.8 260.1h0M188.7 266.6h0M180.5 262h0M185.9 277.5h0M179.2 271.8h0M178.2 256.5h0M179.9 272.7h0M184.7 267.7h0M170.7 256.4h0M188.7 261.7h0M179.6 269.9h0M177.7 271.5h0M187.3 269.1h0M182.1 261.1h0M174.8 264.6h0M179.8 261.2h0M178.3 263.2h0M188.4 266.2h0M176.7 278.1h0M172.9 261.8h0M166.9 256.7h0M172.2 259.4h0M180.8 267h0M176.2 271.3h0M187.3 271.9h0M171.9 268.8h0M179.8 274.1h0M172.5 279.3h0M179.3 282.1h0M176 273.4h0M177.4 266.7h0M169.6 260.7h0M185.1 253h0M176.2 262h0M177.2 262.4h0M176.8 252.2h0M177.1 269.7h0M186.8 254.3h0M185.9 257.4h0M181 267.4h0M174.1 263h0M180.7 265.4h0M177.4 266.9h0M167.1 260.3h0M176.2 265.5h0M180.7 262.4h0M175.8 264.8h0M177.8 266.7h0M185.1 272.7h0M185.6 258.5h0M169.5 262.7h0M182 261.8h0M180.7 273.1h0M182.1 260.5h0M177 261.1h0M181.2 251.5h0M168.1 263.9h0M177.9 274.3h0M183.9 261.6h0M172.7 276.8h0M176.9 262.5h0M175.7 254h0M180.8 263.8h0M186 274.6h0M177.2 262.2h0M176.7 270.2h0M184.6 277.5h0M182.9 268.4h0M173.3 264.8h0M174.7 259.9h0M180.1 261.1h0M173.7 266.4h0M171.8 262.7h0M178.2 259.4h0M171.4 267.1h0M179 269.3h0M177.1 267.2h0M182.7 274.7h0M185.6 261.9h0M170.1 253.3h0M177.7 271.5h0M183.9 264.5h0M180 276.2h0M180.9 259.1h0M176.4 267.8h0M177.6 268.8h0M182.6 268.3h0M184.6 270h0M172.4 256.3h0M171.9 265.9h0M172.4 270.6h0M179.5 265.2h0M183.8 264.4h0M175.2 262.9h0M189.9 267.3h0M175.5 267.5h0M181.2 276.7h0M178.3 272.7h0M173.4 278.9h0M177.2 267.1h0M178.7 261.7h0M171.5 255.5h0M178.7 274.7h0M173.7 270.9h0M184.6 255.8h0M173 269.2h0M172.9 264.6h0M174 266h0M181.3 275.4h0M186.6 269.1h0M172.5 255.8h0M182.9 261.8h0M183.5 254h0M177.3 264.5h0M183.2 272.8h0M182.6 263.9h0M176.6 268.4h0M168.1 265.2h0M180 258.1h0M177.2 250.7h0M180.3 264.6h0M182.5 270.4h0M177.8 264.7h0M185.2 267.4h0M181 269.9h0M176.9 269.4h0M174.5 269.5h0M172.1 275.3h0M168.5 262.2h0M182.2 264.1h0M182.8 265.8h0M175.5 281.8h0M184.3 268.7h0M180.5 258.7h0M179.6 262.9h0M175.2 272.9h0M175.9 268.6h0M183.9 262.5h0M182.5 269.4h0M178.8 262.6h0M184.9 277.8h0M182.6 265.6h0M172.9 261.9h0M188.1 279.3h0M179.7 262.4h0M175.9 271h0M168.6 271.1h0M184 268.5h0M179.2 270h0M181.7 272.6h0M186.3 266.5h0M184.9 266.7h0M178 284.2h0M177 260.6h0M173.5 263.6h0M174.8 269.8h0M180.1 265.6h0M183.5 254.7h0M189.4 268.1h0M182.3 262h0M181.9 271.9h0M183.4 262.7h0M180.2 274.5h0M189.6 264h0M177.2 274h0M179.2 280.4h0M172.9 272.1h0M173.2 271.2h0M183.2 274.7h0M186.4 265.6h0M185.9 270.8h0M186.1 255.6h0M175.6 269.8h0M183.8 265h0M179 274.1h0M180.9 262.3h0M176.1 259.9h0M176.8 266.5h0M182.3 261h0M178.7 264.5h0M181.9 278.9h0M181.9 261.6h0M172 286.5h0M188 266.7h0M177 280.3h0M183.5 272.5h0M186.3 277h0M181 265.2h0M182.1 269.3h0M160.4 283.6h0M160.1 273.4h0M163.8 273.6h0M174.3 274.8h0M166.5 272h0M171.2 272.7h0M173 273.5h0M169.1 267.4h0M166.7 278h0M170.3 272.4h0M172.4 277.1h0M172.1 279.7h0M161.1 268.6h0M164 272.4h0M165.7 271.5h0M175.1 268.4h0M170.5 268.4h0M163.4 276.9h0M168.5 285.4h0M171.3 274.4h0M169.6 277.7h0M170.6 277.2h0M169.2 265.3h0M169.7 276h0M163 275.7h0M171.9 270.1h0M169.1 274.1h0M170.3 277.8h0M170.9 263.8h0M172.2 279.6h0M173.2 271.2h0M156.9 271.9h0M177 266.4h0M158.3 278.9h0M163.8 273.2h0M174.5 275.2h0M170.3 281.3h0M173.1 274.4h0M174.5 275.6h0M166.1 272.2h0M175.3 276h0M166.3 275.4h0M165.6 267.5h0M166.7 264.2h0M164 269.4h0M165.5 271.7h0M163.1 280.5h0M167 277.6h0M163.7 269.3h0M163.1 269.9h0M171.6 274.1h0M169 268.3h0M163 278.7h0M178.9 279.2h0M165.9 279.7h0M170 270.8h0M175.1 274.4h0M165.8 273.6h0M156.5 271.1h0M174.6 271h0M181.2 282.2h0M171.9 273h0M161.1 267.8h0M173.5 273.1h0M168.9 273.2h0M170.4 262.1h0M164.6 278.2h0M160.9 274.2h0M164.6 275.6h0M165.9 272.1h0M169.4 277.1h0M160.8 274h0M161.3 275.8h0M167.1 268.8h0M170.4 270.5h0M169.9 266.6h0M165.1 271.2h0M167.7 277.3h0M169.3 273.6h0M166.7 273.8h0" stroke="#a9c2d6" stroke-width="0.80" stroke-linecap="round" fill="none" opacity="0.5"/>
<path d="M152 246.5L152 295.8" stroke="#8c8c8c" stroke-width="0.55" fill="none"/>
<path d="M152 295.8L191.5 295.8" stroke="#8c8c8c" stroke-width="0.55" fill="none"/>
<path d="M150.7 293L152 293" stroke="#8c8c8c" stroke-width="0.45" fill="none"/>
<text x="149.7" y="295.3" font-size="6.5" text-anchor="end" fill="#222" stroke="#222" stroke-width="0.08">0</text>
<path d="M150.7 282.9L152 282.9" stroke="#8c8c8c" stroke-width="0.45" fill="none"/>
<text x="149.7" y="285.2" font-size="6.5" text-anchor="end" fill="#222" stroke="#222" stroke-width="0.08">1</text>
<path d="M150.7 272.8L152 272.8" stroke="#8c8c8c" stroke-width="0.45" fill="none"/>
<text x="149.7" y="275.1" font-size="6.5" text-anchor="end" fill="#222" stroke="#222" stroke-width="0.08">2</text>
<path d="M150.7 262.7L152 262.7" stroke="#8c8c8c" stroke-width="0.45" fill="none"/>
<text x="149.7" y="265" font-size="6.5" text-anchor="end" fill="#222" stroke="#222" stroke-width="0.08">3</text>
<path d="M150.7 252.6L152 252.6" stroke="#8c8c8c" stroke-width="0.45" fill="none"/>
<text x="149.7" y="254.9" font-size="6.5" text-anchor="end" fill="#222" stroke="#222" stroke-width="0.08">4</text>
<path d="M154.3 295.8L154.3 297.1" stroke="#8c8c8c" stroke-width="0.45" fill="none"/>
<text x="154.3" y="302.6" font-size="6.6" text-anchor="middle" fill="#222" stroke="#222" stroke-width="0.08">0</text>
<path d="M165.8 295.8L165.8 297.1" stroke="#8c8c8c" stroke-width="0.45" fill="none"/>
<text x="165.8" y="302.6" font-size="6.6" text-anchor="middle" fill="#222" stroke="#222" stroke-width="0.08">5</text>
<path d="M177.3 295.8L177.3 297.1" stroke="#8c8c8c" stroke-width="0.45" fill="none"/>
<text x="177.3" y="302.6" font-size="6.6" text-anchor="middle" fill="#222" stroke="#222" stroke-width="0.08">10</text>
<path d="M188.8 295.8L188.8 297.1" stroke="#8c8c8c" stroke-width="0.45" fill="none"/>
<text x="188.8" y="302.6" font-size="6.6" text-anchor="middle" fill="#222" stroke="#222" stroke-width="0.08">15</text>
<text x="172" y="228.8" font-size="6.9" text-anchor="middle" fill="#161616" stroke="#161616" stroke-width="0.12" font-style="italic">Gzmb</text>
<text x="171.5" y="312.2" font-size="7.1" text-anchor="middle" fill="#161616" stroke="#161616" stroke-width="0.12">Pseudotime</text>
<text x="139" y="272.4" font-size="6.85" text-anchor="middle" fill="#161616" stroke="#161616" stroke-width="0.12" transform="rotate(-90 139 269.9)">Log (expression + 1)</text>
<path d="M154.3 290.5C155.1 290.3 157.4 289.9 158.9 289.2C160.4 288.4 162 287.1 163.5 285.9C165 284.8 166.6 283.7 168.1 282.4C169.6 281.1 171.2 279.6 172.7 278.4C174.2 277.1 175.8 275.8 177.3 274.8C178.8 273.8 180.6 272.8 181.9 272.3C183.2 271.8 184.2 271.5 185.4 271.8C186.5 272 188.2 273.5 188.8 273.8" stroke="#1a9aa0" stroke-width="1.05" fill="none" stroke-linecap="round"/>
<path d="M154.3 291.2C154.9 291 156.6 290.8 157.8 290C158.9 289.1 160.1 287.2 161.2 285.9C162.4 284.7 163.5 282.8 164.7 282.4C165.8 282 167 284 168.1 283.4C169.3 282.8 170.4 280.4 171.6 278.9C172.7 277.3 174.4 275.1 175 274.3" stroke="#ece43c" stroke-width="1.05" fill="none" stroke-linecap="round"/>
<path d="M154.3 291.5C155.1 291.1 157.4 290.5 158.9 289.5C160.4 288.5 162 286.7 163.5 285.4C165 284.2 166.6 283.2 168.1 281.9C169.6 280.6 171.5 278.6 172.7 277.9C173.9 277.1 174.6 277.6 175.5 277.6C176.3 277.6 177.1 278.3 178 277.9C178.9 277.4 179.7 275.7 180.8 274.8C181.8 274 182.9 272.9 184.2 272.8C185.5 272.7 188 274.1 188.8 274.3" stroke="#1d2f6f" stroke-width="1.05" fill="none" stroke-linecap="round"/>
<path d="M217.5 293H253.5" stroke="#8d9fb3" stroke-width="0.64" stroke-dasharray="0.6 2.0 0.8 3.3 0.5 1.5 0.6 2.7 0.6 3.2 0.4 2.3 1.1 2.9 0.6 0.3 1.0 3.7 1.0 1.3 1.0 2.7 0.7 2.5 0.8 2.3 1.0 0.7" opacity="0.75" fill="none"/>
<path d="M224.4 283.3H253.5" stroke="#8d9fb3" stroke-width="0.83" stroke-dasharray="6.6 0.7 4.9 0.6 0.6 0.3 6.3 0.6 3.8 0.3 3.6 0.5 2.5 0.3 3.3 0.3 0.7 0.6 6.1 0.3 1.3 0.5 1.7 0.6 4.5 0.4 7.0 0.6" opacity="0.75" fill="none"/>
<path d="M228.9 277.6H253.5" stroke="#8d9fb3" stroke-width="0.88" stroke-dasharray="3.8 0.3 8.7 0.3 14.4 0.3 5.2 0.3 11.7 0.4 11.8 0.3 13.6 0.3 5.9 0.4 14.8 0.3 10.7 0.3 9.1 0.3 2.8 0.3 9.2 0.3 8.2 0.3" opacity="0.75" fill="none"/>
<path d="M231.2 273.6H253.5" stroke="#8d9fb3" stroke-width="0.90" stroke-dasharray="20.2 0.3 19.7 0.3 16.0 0.3 15.1 0.3 11.7 0.3 10.3 0.3 18.4 0.3 1.7 0.3 10.5 0.3 8.5 0.3 19.9 0.3 19.0 0.3 16.2 0.3 9.3 0.3" opacity="0.75" fill="none"/>
<path d="M233.5 270.5H253.5" stroke="#8d9fb3" stroke-width="0.90" stroke-dasharray="4.2 0.3 16.8 0.3 6.4 0.3 10.1 0.3 13.1 0.3 19.9 0.3 12.5 0.3 1.5 0.3 5.1 0.3 9.3 0.3 15.0 0.3 14.1 0.3 3.0 0.3 10.5 0.3" opacity="0.75" fill="none"/>
<path d="M233.5 267.9H253.5" stroke="#8d9fb3" stroke-width="0.88" stroke-dasharray="13.6 0.3 12.9 0.3 7.4 0.3 13.2 0.3 0.8 0.3 14.3 0.3 7.6 0.3 8.7 0.3 1.2 0.4 7.0 0.4 6.2 0.3 4.6 0.3 8.2 0.4 8.2 0.3" opacity="0.75" fill="none"/>
<path d="M235.8 265.8H253.5" stroke="#8d9fb3" stroke-width="0.84" stroke-dasharray="1.9 0.3 4.8 0.4 7.3 0.4 2.5 0.6 6.8 0.3 2.9 0.3 6.4 0.3 3.2 0.5 7.1 0.5 3.6 0.5 3.5 0.5 1.9 0.6 7.1 0.4 2.2 0.3" opacity="0.75" fill="none"/>
<path d="M235.8 263.9H253.5" stroke="#8d9fb3" stroke-width="0.80" stroke-dasharray="3.0 0.6 0.6 0.6 5.2 0.8 3.3 0.8 4.2 0.5 2.3 0.7 0.9 0.4 0.8 0.9 4.3 0.5 1.3 0.3 3.7 0.5 5.0 0.6 1.1 0.7 0.6 0.6" opacity="0.75" fill="none"/>
<path d="M241 254.2h0M251.3 264.1h0M248.4 253.5h0M242.3 253.8h0M245.8 262.6h0M243.6 250.8h0M241 259.9h0M248.9 256.1h0M239.9 263.5h0M235.3 252.4h0M236.1 249.6h0M244.9 253h0M246.8 258.3h0M241.6 263.2h0M246.8 260h0M233.2 252.9h0M246.5 255.8h0M231.7 259.7h0M247.7 262.4h0M249.7 258.7h0M246 252.8h0M252.6 263.5h0M245.1 258.9h0M237.3 258.9h0M240.5 262.3h0M251.3 263.7h0M228.2 256h0M245 252.4h0M234.2 259.7h0M232.2 258.3h0M226.6 260.3h0M249 257.1h0M248.5 264.7h0M237 254.3h0M240.8 261.6h0M232.3 252.8h0M240.4 259.2h0M247.6 261.7h0M243.8 260.2h0M241.3 256h0M237.5 256.1h0M249.8 253.4h0M252.6 262.5h0M233.3 260h0M244.1 270.4h0M237 260.9h0M240.5 256h0M246 262.3h0M245.4 261.8h0M243.3 258.8h0M239.7 264.3h0M247.5 252.8h0M231.7 253.7h0M248.4 257h0M249.7 248.2h0M236.7 255.6h0M237.9 263.9h0M249.1 254.5h0M240 249.5h0M238.5 261h0M249.4 253.4h0M245.9 262.1h0M234.2 259.7h0M232.6 261.7h0M244.9 260.3h0M233.2 260.8h0M234.2 256.5h0M241.5 264.7h0M239.9 249.1h0M246.1 254.3h0M234.4 266.4h0M233.5 263.9h0M243.7 254.9h0M251 263.7h0M231.4 266.8h0M242.8 255.5h0M244.6 260.1h0M247.4 259.8h0M246.4 254.9h0M239.2 247.1h0M237.9 259.5h0M227.6 255.3h0M232.1 252.8h0M250.9 266h0M230.9 260.6h0M234.3 266.7h0M239 254.3h0M238 263.7h0M236.7 249.6h0M235.7 252.6h0M238.7 263h0M253.4 255.3h0M248.2 256.6h0M244.1 261.1h0M238.1 258.7h0M244 257.3h0M245.1 268.1h0M237 251.2h0M235 261.4h0M244.9 262.4h0M237.8 254.3h0M237.5 263.4h0M242.7 248.6h0M242.4 251.3h0M235.8 257.5h0M245.1 248.7h0M241.6 259.7h0M248.1 268h0M252.8 266.2h0M243 261.3h0M224.6 252.8h0M234.1 253.8h0M242.3 257.5h0M252.9 258.3h0M246.5 253.2h0M240.9 263.5h0M248.8 260.8h0M238.4 256.8h0M249.9 251.4h0M231.8 270.2h0M241.8 263.4h0M249 251.5h0M241.3 258.4h0M233 265.1h0M241.4 262.2h0M244.6 258.2h0M243.8 260.1h0M245.8 265.8h0M238.9 263.6h0M230.9 250.3h0M239.7 248.8h0M241.5 254.6h0M240.8 260h0M243.3 263.9h0M239.1 249.5h0M247.3 260.3h0M247 265.4h0M247.8 259.6h0M245.6 258.4h0M248.3 251.4h0M249.6 258.7h0M243.7 250h0M227.5 253h0M238.6 256.7h0M227.7 270.3h0M243.9 257.5h0M238.9 253.9h0M245.9 267.6h0M241.2 253.9h0M243.3 254.4h0M231.3 252.1h0M248.3 258.8h0M236.8 258h0M239.2 255.6h0M247.2 251.4h0M238.4 262.7h0M237.3 260.8h0M249.3 262.7h0M242.4 257.7h0M246.2 272.6h0M249.9 250h0M237.6 257.3h0M250 259.5h0M236.1 260.3h0M234.3 261.9h0M244.3 259h0M241.6 269.9h0M241.9 257.4h0M241 256.7h0M246.1 265.3h0M237.9 258.9h0M243.2 267.8h0M239.4 265.5h0M243.1 253.6h0M240.7 254.7h0M253.1 254.2h0M250.3 254.5h0M239.5 264.4h0M253 254.8h0M238.8 260.5h0M244.6 253.3h0M247.7 260h0M241.1 255.1h0M238.4 263.1h0M245.9 250.6h0M249.3 259h0M242.6 256.7h0M248.6 250.6h0M239.9 253.2h0M248.8 249.6h0M241.5 263.7h0M246.9 255.2h0M248.3 258.9h0M247.3 260.3h0M245.1 261h0M247.2 251.6h0M241.7 265.4h0M233.2 263.7h0M239.6 263.4h0M244.4 254.8h0M225.6 264.5h0M245.7 268.6h0M246.2 257.4h0M251.2 252.4h0M246.1 263.1h0M251.1 257.5h0M243.4 261.9h0M240.3 257.8h0M247.1 256.7h0M236.1 270.1h0M252.6 249.5h0M235.1 260.1h0M253.4 253.6h0M239.2 254.2h0M239.8 265.3h0M235.7 250.1h0M241.6 261.5h0M243.8 264.5h0M232.6 256.2h0M242.7 250.1h0M232.6 272.6h0M247.2 261.2h0M251 258.4h0M239.1 262h0M242.6 262.4h0M235.3 265.3h0M246 257.9h0M239.2 265h0M242.4 257.9h0M252.5 250.4h0M242.6 252.4h0M235.4 266.1h0M239 261h0M243.1 258.3h0M245.2 266.1h0M245.3 250h0M240.5 252.4h0M241.9 258.9h0M228.1 267.4h0M241.7 248.3h0M230.5 258.6h0M237.4 267.3h0M243.2 251h0M238.5 257.5h0M227 251.3h0M239.8 256.4h0M243.9 267.9h0M242.8 267.9h0M245.6 259.4h0M237.8 267.4h0M247.4 257.7h0M238.8 252.3h0M240.8 255.6h0M249.7 249.8h0M252.8 252.7h0M248.6 255.7h0M235 260.6h0M240.5 262.9h0M239.4 260.1h0M243.4 258.3h0M250.8 260h0M234.5 263.7h0M245.2 264.3h0M244.6 264.7h0M238.2 263.7h0M240.2 247.2h0M251 251.9h0M241.8 257.1h0M241.8 255.2h0M239.8 259.9h0M219.4 264.2h0M243.7 266.3h0M249.3 257.4h0M236.2 261.8h0M243 255.1h0M239.3 265.1h0M245.1 256.8h0M235.7 260.3h0M245 256.2h0M247.6 267.7h0M247.4 258h0M245.8 259.1h0M250.2 261.1h0M241.5 252.5h0M240.1 255.2h0M242.6 254.1h0M241 249.3h0M245.7 263.7h0M250.4 253.5h0M242.2 268.7h0M231 259.3h0M231.4 265.3h0M245.9 263.1h0M247.1 256h0M246.6 252.7h0M224.7 254.9h0M248.4 252.6h0M242.8 259h0M241.4 254.9h0M250.8 259.5h0M238 263.9h0M235.7 252.4h0M251.3 260.3h0M236.4 268h0M247.7 267.5h0M239.3 256.4h0M240.8 258.8h0M236.7 260.4h0M246.5 256.8h0M242.6 260.7h0M241.9 261h0M239.9 265.1h0M239 256.3h0M250.6 250.9h0M248.7 263.7h0M249.7 263h0M234.9 255.3h0M245.9 255.1h0M231.3 254.4h0M252.7 261.9h0M246.3 257h0M246.9 265.5h0M241.8 257.1h0M237.2 266.7h0M249 247.5h0M250.1 267.2h0M239.9 258.1h0M233.1 251.4h0M238.9 259.5h0M239.8 255.2h0M237.8 264.6h0M229.7 253.4h0M232.1 251.3h0M242.6 251.8h0M232.3 250.3h0M243.5 256.2h0M240.1 257.9h0M244.6 262h0M242.8 254h0M250.1 255.4h0M242.7 261.3h0M237.6 262.8h0M243.8 258.2h0M243.1 266.5h0M248.2 253h0M246.4 253.5h0M246.5 252.2h0M242.6 260.4h0M240.5 255.7h0M243.8 249.7h0M250.8 253.8h0M252.9 252h0M238.2 262.3h0M241.1 250.3h0M242.3 260.6h0M236.5 258.9h0M243.2 249.7h0M226.3 253.5h0M245.1 256.2h0M236.1 264.1h0M242.5 251.6h0M249 256.2h0M233.1 262.5h0M226.4 254.4h0M245.4 261.2h0M238.2 263.7h0M246.2 257.3h0M253 256.5h0M235.7 264.6h0M233.4 248.2h0M236.4 261.6h0M230.4 255.7h0M236.8 261.4h0M250 261.9h0M236.7 260.3h0M232 263h0M245.3 259.5h0M246.2 256.6h0M227.8 265.4h0M243.1 255.1h0M239 254.4h0M245.3 259.8h0M237 254.9h0M239.4 255.5h0M234.7 253h0M246.6 260.6h0M248 261.8h0M247.9 259.5h0M243.8 258.9h0M252.1 254.3h0M246.9 262.2h0M249.4 260.5h0M239.3 263.5h0M240 265.5h0M232.8 266.5h0M239.4 258h0M239.6 256.9h0M235.1 256.7h0M248.7 259.7h0M239 257.3h0M243.8 255.8h0M241.4 258h0M237.6 254.4h0M237.7 260.6h0M250.3 257.1h0M245.8 256.7h0M236.5 262.9h0M248.4 259.7h0M237.6 262.8h0M241.6 256.2h0M252.7 257.7h0M251.8 264.3h0M243.3 257.1h0M242.8 257h0M244.8 258.1h0M241.8 260.2h0M243.3 254.1h0M251.7 257.4h0M245.9 257.4h0M244.9 257.5h0M241.9 261.3h0M249.7 259.1h0M239.9 258.1h0M246.5 261.8h0M235.5 254.4h0M240.8 264.7h0M245.2 254.6h0M238.8 261.4h0M244.8 262.6h0M243.7 258.5h0M239.7 259.7h0M247.5 254h0M244.8 263.4h0M240 263.9h0M244.1 257.5h0M248.9 248.8h0M235.9 264.5h0M234.3 251.8h0M235.9 260.8h0M238.6 251.2h0M227.1 258.5h0M240.4 260.7h0M243.8 260h0M232.3 260h0M244.6 263.5h0M233.2 258.4h0M239.2 261.5h0M250.1 247.6h0M253 250.5h0M241.1 258.4h0M250.9 258.5h0M237.6 252.8h0M231.1 248.9h0M245.3 253.9h0M240.3 248.3h0M235 266.9h0M240.6 266.7h0M239.7 255.7h0M241.1 262.4h0M246.7 257.7h0M236.7 259.1h0M236.9 256.9h0M241.8 256.1h0M238.3 259.8h0M241.6 260.2h0M233.5 253h0M230.9 262.4h0M229.9 266.7h0M229.8 255.9h0M227.6 264.1h0M226.3 261.6h0M237.8 267.2h0M225.4 267.3h0M232 268.3h0M231 269.8h0M230.4 260.4h0M233.1 262.2h0M243.4 268h0M239.3 264.7h0M230 264.7h0M224 268.2h0M232.4 265.2h0M230.5 269.2h0M227.2 265.4h0M234.7 262.8h0M229.8 266.5h0M229.1 260.7h0M239.3 262.8h0M235.8 271.5h0M230.2 264.4h0M238.2 266.3h0M232.4 266.9h0M229.1 271h0M228.8 262.3h0M229.5 269.5h0M229.8 262.5h0M227.1 263.2h0M229.1 260.8h0M224.8 267.4h0M224.6 261.1h0M232.6 269.1h0M233.9 259.1h0M230.4 264h0M225.7 265.6h0M229.6 264.9h0M224.5 262h0M225 268.9h0M227.7 265.1h0M232.7 267.8h0M240 265.4h0M233.6 268.5h0M228.6 265.1h0M226.1 261.8h0M233.1 268.9h0M234.8 265.5h0M228.9 261.1h0M234.9 263.9h0M235.6 260.8h0M230.3 270.6h0M230.5 268.8h0M226.8 265.1h0M224 260.8h0M229.7 267.5h0M230.7 261.3h0M227.7 269h0M227.9 259.2h0" stroke="#a9c2d6" stroke-width="0.80" stroke-linecap="round" fill="none" opacity="0.5"/>
<path d="M215 246.5L215 295.8" stroke="#8c8c8c" stroke-width="0.55" fill="none"/>
<path d="M215 295.8L255 295.8" stroke="#8c8c8c" stroke-width="0.55" fill="none"/>
<path d="M213.7 293L215 293" stroke="#8c8c8c" stroke-width="0.45" fill="none"/>
<text x="212.7" y="295.3" font-size="6.5" text-anchor="end" fill="#222" stroke="#222" stroke-width="0.08">0</text>
<path d="M213.7 279L215 279" stroke="#8c8c8c" stroke-width="0.45" fill="none"/>
<text x="212.7" y="281.3" font-size="6.5" text-anchor="end" fill="#222" stroke="#222" stroke-width="0.08">1</text>
<path d="M213.7 265L215 265" stroke="#8c8c8c" stroke-width="0.45" fill="none"/>
<text x="212.7" y="267.3" font-size="6.5" text-anchor="end" fill="#222" stroke="#222" stroke-width="0.08">2</text>
<path d="M213.7 251L215 251" stroke="#8c8c8c" stroke-width="0.45" fill="none"/>
<text x="212.7" y="253.3" font-size="6.5" text-anchor="end" fill="#222" stroke="#222" stroke-width="0.08">3</text>
<path d="M217.5 295.8L217.5 297.1" stroke="#8c8c8c" stroke-width="0.45" fill="none"/>
<text x="217.5" y="302.6" font-size="6.6" text-anchor="middle" fill="#222" stroke="#222" stroke-width="0.08">0</text>
<path d="M228.9 295.8L228.9 297.1" stroke="#8c8c8c" stroke-width="0.45" fill="none"/>
<text x="228.9" y="302.6" font-size="6.6" text-anchor="middle" fill="#222" stroke="#222" stroke-width="0.08">5</text>
<path d="M240.4 295.8L240.4 297.1" stroke="#8c8c8c" stroke-width="0.45" fill="none"/>
<text x="240.4" y="302.6" font-size="6.6" text-anchor="middle" fill="#222" stroke="#222" stroke-width="0.08">10</text>
<path d="M251.8 295.8L251.8 297.1" stroke="#8c8c8c" stroke-width="0.45" fill="none"/>
<text x="251.8" y="302.6" font-size="6.6" text-anchor="middle" fill="#222" stroke="#222" stroke-width="0.08">15</text>
<text x="233.3" y="228.8" font-size="6.9" text-anchor="middle" fill="#161616" stroke="#161616" stroke-width="0.12" font-style="italic">Prf1</text>
<text x="234.8" y="312.2" font-size="7.1" text-anchor="middle" fill="#161616" stroke="#161616" stroke-width="0.12">Pseudotime</text>
<text x="202" y="272.4" font-size="6.85" text-anchor="middle" fill="#161616" stroke="#161616" stroke-width="0.12" transform="rotate(-90 202 269.9)">Log (expression + 1)</text>
<path d="M217.5 287.1C218.3 286.7 220.6 285.6 222.1 284.3C223.6 283 225.1 280.9 226.7 279.3C228.2 277.7 229.7 276.2 231.2 274.8C232.8 273.4 234.3 272 235.8 270.6C237.3 269.2 238.9 267.3 240.4 266.4C241.9 265.5 243.6 265.1 245 265C246.3 264.9 247.3 265.5 248.4 265.7C249.6 265.9 251.3 266.3 251.8 266.4" stroke="#1a9aa0" stroke-width="1.05" fill="none" stroke-linecap="round"/>
<path d="M217.5 288.1C218.1 287.5 219.8 285.8 220.9 284.6C222.1 283.4 223 282.5 224.4 281.1C225.7 279.7 227.4 276.9 228.9 276.2C230.5 275.5 232 276.5 233.5 276.9C235.1 277.2 237.3 278.1 238.1 278.3" stroke="#ece43c" stroke-width="1.05" fill="none" stroke-linecap="round"/>
<path d="M217.5 287.4C218.3 286.8 220.6 285.3 222.1 283.9C223.6 282.5 225.1 280.5 226.7 279C228.2 277.5 229.7 276.1 231.2 274.8C232.8 273.5 234.3 272.4 235.8 271.3C237.3 270.2 239.3 268.9 240.4 268.5C241.5 268.1 241.7 269.3 242.7 269.2C243.6 269.1 245 268.1 246.1 267.8C247.3 267.5 248.6 267 249.6 267.1C250.5 267.2 251.5 268.3 251.8 268.5" stroke="#1d2f6f" stroke-width="1.05" fill="none" stroke-linecap="round"/>
<path d="M294.1 293H319" stroke="#8d9fb3" stroke-width="0.80" stroke-dasharray="2.9 0.9 4.1 0.4 1.5 0.7 1.2 0.5 3.4 0.5 0.4 0.8 4.7 0.4 3.3 0.9 4.5 0.3 1.8 0.4 4.4 0.7 0.9 0.3 5.0 0.3 2.4 0.5" opacity="0.75" fill="none"/>
<path d="M282.5 282.2H319" stroke="#8d9fb3" stroke-width="0.85" stroke-dasharray="8.8 0.4 8.4 0.4 1.6 0.4 1.7 0.3 8.5 0.4 2.0 0.4 6.1 0.5 6.8 0.4 2.1 0.3 5.3 0.4 5.1 0.5 9.1 0.4 8.4 0.5 2.6 0.3" opacity="0.75" fill="none"/>
<path d="M282.5 275.9H319" stroke="#8d9fb3" stroke-width="0.84" stroke-dasharray="4.1 0.6 1.6 0.3 7.7 0.3 7.7 0.3 5.3 0.6 2.4 0.4 8.2 0.3 2.0 0.5 7.2 0.4 1.2 0.5 1.1 0.3 3.2 0.6 6.8 0.4 1.1 0.3" opacity="0.75" fill="none"/>
<path d="M282.5 271.4H310.5" stroke="#8d9fb3" stroke-width="0.81" stroke-dasharray="3.4 0.5 3.3 0.3 4.9 0.6 4.7 0.5 0.8 0.6 2.9 0.3 0.7 0.5 5.4 0.5 4.1 0.6 1.8 0.4 0.4 0.3 3.4 0.6 1.2 0.6 3.8 0.8" opacity="0.75" fill="none"/>
<path d="M282.5 267.9H305.8" stroke="#8d9fb3" stroke-width="0.76" stroke-dasharray="3.0 0.8 2.3 0.3 3.4 1.2 2.1 0.6 2.4 0.7 2.4 0.7 1.3 0.7 3.0 1.1 1.3 0.6 1.9 0.7 1.4 0.8 0.7 0.3 1.0 1.3 2.8 0.8" opacity="0.75" fill="none"/>
<path d="M282.5 265H303.5" stroke="#8d9fb3" stroke-width="0.70" stroke-dasharray="0.6 2.2 1.9 2.1 1.4 0.8 0.7 1.7 0.7 1.4 1.7 1.3 1.8 2.0 0.5 0.5 0.6 0.8 1.3 1.1 1.2 1.6 0.7 0.5 0.6 1.9 1.0 1.4" opacity="0.75" fill="none"/>
<path d="M282.5 262.6H301.1" stroke="#8d9fb3" stroke-width="0.67" stroke-dasharray="1.5 0.7 0.5 0.9 0.9 1.6 0.7 2.2 1.2 2.3 0.6 0.9 1.2 1.3 1.6 2.2 0.6 0.6 0.8 2.3 1.1 0.8 0.4 1.6 1.6 1.7 1.6 1.5" opacity="0.75" fill="none"/>
<path d="M295.3 258.9h0M296.1 263.7h0M293.7 260.5h0M297.7 251.4h0M295.8 255h0M294.4 258.9h0M295.9 257.8h0M294.6 263h0M294.7 252.4h0M296.9 261.3h0M298 265.4h0M290.4 261.6h0M294.7 257.8h0M295.6 247.4h0M291.9 258.1h0M296.6 260.8h0M293.7 258h0M290 248.6h0M290.9 254.5h0M295.6 253.2h0M300.7 265.7h0M294.1 255.3h0M289 261.2h0M299.1 265.7h0M295.8 255.3h0M298.9 259.2h0M293.4 257.3h0M297.9 251.1h0M296.4 273.6h0M291.5 256.2h0M294.2 269.2h0M295.7 270.2h0M292.7 258.5h0M298.9 261.8h0M294.1 274.4h0M298 259.3h0M294.6 257.4h0M297.3 250.1h0M297 251.5h0M289.5 259h0M294.6 269.3h0M297.5 260h0M294.3 255.6h0M299.9 253.8h0M299.3 251.9h0M293 257.3h0M295.9 255.5h0M297.1 261.9h0M293.3 260.6h0M300.4 254.4h0M297.8 251.7h0M295.6 266.4h0M293 261.2h0M292.8 259.5h0M293.1 253.4h0M297.8 257.8h0M298.1 256.5h0M302.4 262.6h0M291.3 259h0M293.4 261.2h0M298.8 258.5h0M296.2 255.4h0M292.7 247.4h0M295.2 247.9h0M295.2 253.6h0M297.6 264.8h0M292.7 254.2h0M294.5 263h0M294.9 258.3h0M296.4 254.3h0M294.7 257.8h0M291.4 257.4h0M299 259.9h0M293.9 259.2h0M295.7 251.1h0M295.4 268.9h0M296.5 260.9h0M299.5 265.5h0M295.5 259.8h0M297.8 270.1h0M296.9 260.1h0M296.2 251.8h0M292 263.4h0M294 250.7h0M298.2 263h0M294.4 259.4h0M294.3 266.3h0M294.5 254.5h0M291.7 254.9h0M292.9 257.1h0M296 251.8h0M292.7 261.4h0M297.5 256.9h0M297.8 263.7h0M295.1 260.1h0M292.3 258.4h0M298.3 266.3h0M296.6 265.4h0M290.6 246.7h0M292.4 254.4h0M290.9 251h0M299.1 252.8h0M299.6 263h0M288.8 251.6h0M296.9 262.4h0M294.7 249.3h0M296 252.9h0M297.6 249.3h0M297.7 263.1h0M295.1 269.5h0M293.4 255h0M297 252h0M300.5 256.8h0M291.2 259.9h0M292.8 259.8h0M283.8 259.7h0M286.1 250.1h0M284.1 254.2h0M286.2 252.5h0M284.7 264.4h0M283.6 256.2h0M283.7 260.1h0M285.7 250.5h0M286.5 275.9h0M289.7 267h0M285.6 260.3h0M284.6 256.5h0M282.9 259.8h0M286.4 253.2h0M285.6 264.6h0M284.1 267.8h0M288.8 256.8h0M287.2 258.5h0M283.5 267.5h0M283.5 265.4h0M286.1 262.8h0M284.4 269.3h0M287.1 269.5h0M286.4 260.2h0M283.6 250.9h0M284.8 253h0M283 250.8h0M286.1 260.9h0M285.3 261.8h0M284.5 256.9h0M286.2 251.6h0M284.9 264.1h0M286 261h0M284.3 261.3h0M284.9 270.7h0M284.5 255.8h0M283.6 262.3h0M283.4 262.3h0M285.1 260.8h0M284.6 263.9h0M288.2 260.7h0M282.7 251.1h0M288.2 260.1h0M287.2 256.8h0" stroke="#a9c2d6" stroke-width="0.80" stroke-linecap="round" fill="none" opacity="0.5"/>
<path d="M280 246.5L280 295.8" stroke="#8c8c8c" stroke-width="0.55" fill="none"/>
<path d="M280 295.8L320.5 295.8" stroke="#8c8c8c" stroke-width="0.55" fill="none"/>
<path d="M278.7 293L280 293" stroke="#8c8c8c" stroke-width="0.45" fill="none"/>
<text x="277.7" y="295.3" font-size="6.5" text-anchor="end" fill="#222" stroke="#222" stroke-width="0.08">0</text>
<path d="M278.7 277.4L280 277.4" stroke="#8c8c8c" stroke-width="0.45" fill="none"/>
<text x="277.7" y="279.7" font-size="6.5" text-anchor="end" fill="#222" stroke="#222" stroke-width="0.08">1</text>
<path d="M278.7 261.8L280 261.8" stroke="#8c8c8c" stroke-width="0.45" fill="none"/>
<text x="277.7" y="264.1" font-size="6.5" text-anchor="end" fill="#222" stroke="#222" stroke-width="0.08">2</text>
<path d="M278.7 246.2L280 246.2" stroke="#8c8c8c" stroke-width="0.45" fill="none"/>
<text x="277.7" y="248.5" font-size="6.5" text-anchor="end" fill="#222" stroke="#222" stroke-width="0.08">3</text>
<path d="M282.5 295.8L282.5 297.1" stroke="#8c8c8c" stroke-width="0.45" fill="none"/>
<text x="282.5" y="302.6" font-size="6.6" text-anchor="middle" fill="#222" stroke="#222" stroke-width="0.08">0</text>
<path d="M294.1 295.8L294.1 297.1" stroke="#8c8c8c" stroke-width="0.45" fill="none"/>
<text x="294.1" y="302.6" font-size="6.6" text-anchor="middle" fill="#222" stroke="#222" stroke-width="0.08">5</text>
<path d="M305.8 295.8L305.8 297.1" stroke="#8c8c8c" stroke-width="0.45" fill="none"/>
<text x="305.8" y="302.6" font-size="6.6" text-anchor="middle" fill="#222" stroke="#222" stroke-width="0.08">10</text>
<path d="M317.4 295.8L317.4 297.1" stroke="#8c8c8c" stroke-width="0.45" fill="none"/>
<text x="317.4" y="302.6" font-size="6.6" text-anchor="middle" fill="#222" stroke="#222" stroke-width="0.08">15</text>
<text x="300" y="228.8" font-size="6.9" text-anchor="middle" fill="#161616" stroke="#161616" stroke-width="0.12" font-style="italic">Emb</text>
<text x="300" y="312.2" font-size="7.1" text-anchor="middle" fill="#161616" stroke="#161616" stroke-width="0.12">Pseudotime</text>
<text x="267.7" y="272.4" font-size="6.85" text-anchor="middle" fill="#161616" stroke="#161616" stroke-width="0.12" transform="rotate(-90 267.7 269.9)">Log (expression + 1)</text>
<path d="M282.5 265.7C282.9 266 283.7 266.5 284.8 267.3C286 268 287.9 269.5 289.5 270.4C291 271.2 292.8 272 294.1 272.4C295.5 272.8 296.5 271.1 297.6 272.7C298.8 274.3 300.2 279.6 301.1 282.1C302.1 284.5 302.3 286.1 303.5 287.5C304.6 289 306.6 290 308.1 290.7C309.7 291.4 311.2 291.4 312.8 291.8C314.3 292.1 316.7 292.4 317.4 292.5" stroke="#1a9aa0" stroke-width="1.05" fill="none" stroke-linecap="round"/>
<path d="M282.5 256.3C282.9 257.8 283.9 261.9 284.8 264.9C285.8 267.9 287.2 272.2 288.3 274.3C289.5 276.4 290.5 277.7 291.8 277.4C293.2 277.1 295.1 273.8 296.5 272.7C297.8 271.7 298.8 271 300 271.2C301.1 271.3 302.9 273.1 303.5 273.5" stroke="#ece43c" stroke-width="1.05" fill="none" stroke-linecap="round"/>
<path d="M282.5 264.9C282.9 265.4 283.7 267 284.8 268C286 269.1 287.9 270.4 289.5 271.2C291 271.9 292.8 272.3 294.1 272.7C295.5 273.1 296.5 271.7 297.6 273.5C298.8 275.3 300.2 281.2 301.1 283.6C302.1 286.1 302.3 287.3 303.5 288.3C304.6 289.4 306.6 289.4 308.1 289.9C309.7 290.4 311.2 291.1 312.8 291.4C314.3 291.8 316.7 292.1 317.4 292.2" stroke="#1d2f6f" stroke-width="1.05" fill="none" stroke-linecap="round"/>
<path d="M346.3 293H382" stroke="#8d9fb3" stroke-width="0.90" stroke-dasharray="21.9 0.3 22.8 0.3 8.5 0.3 22.7 0.3 3.5 0.3 7.6 0.3 16.3 0.3 12.4 0.3 15.4 0.3 12.5 0.3 19.3 0.3 14.5 0.3 22.1 0.3 21.5 0.3" opacity="0.75" fill="none"/>
<path d="M346.3 284.9H382" stroke="#8d9fb3" stroke-width="0.88" stroke-dasharray="9.8 0.3 7.9 0.4 13.3 0.3 12.0 0.3 13.4 0.3 13.6 0.3 6.6 0.3 2.6 0.3 6.8 0.3 14.8 0.3 11.7 0.4 14.5 0.3 15.3 0.4 11.1 0.3" opacity="0.75" fill="none"/>
<path d="M346.3 280.1H382" stroke="#8d9fb3" stroke-width="0.88" stroke-dasharray="9.2 0.4 9.0 0.3 8.7 0.4 2.1 0.3 15.0 0.3 7.2 0.3 9.6 0.3 4.6 0.4 14.0 0.3 10.5 0.4 12.6 0.3 12.4 0.4 6.0 0.3 5.7 0.3" opacity="0.75" fill="none"/>
<path d="M346.3 276.8H382" stroke="#8d9fb3" stroke-width="0.85" stroke-dasharray="2.0 0.4 1.0 0.5 1.3 0.3 5.0 0.4 7.8 0.3 7.0 0.3 6.3 0.4 2.4 0.3 7.9 0.4 5.4 0.5 6.6 0.4 4.9 0.3 2.9 0.3 9.4 0.4" opacity="0.75" fill="none"/>
<path d="M346.3 274.2H382" stroke="#8d9fb3" stroke-width="0.80" stroke-dasharray="3.5 0.5 0.9 0.5 2.7 0.3 4.4 0.4 3.6 0.4 3.0 0.7 3.9 0.7 3.2 0.5 4.1 0.3 4.8 0.5 3.5 0.8 1.3 0.6 3.1 0.9 4.4 0.7" opacity="0.75" fill="none"/>
<path d="M346.3 272H382" stroke="#8d9fb3" stroke-width="0.74" stroke-dasharray="2.3 0.6 2.8 0.3 1.5 1.2 2.9 0.4 1.9 0.8 2.4 1.3 0.5 0.9 2.0 0.3 0.5 1.0 2.4 0.3 3.0 0.3 1.9 0.4 1.3 0.7 1.4 0.7" opacity="0.75" fill="none"/>
<path d="M374.9 254h0M367.1 259.8h0M375.8 281.5h0M373.6 274.6h0M381.4 267.8h0M375.6 259.5h0M375.9 254.7h0M368.2 261.2h0M361.1 267.5h0M375.1 254.8h0M378.1 248.4h0M369.1 274.9h0M368.4 267.9h0M369.1 262.5h0M367.4 263.3h0M378.2 261.2h0M370.6 254.7h0M375.8 263.6h0M373.4 271.6h0M366.4 254.6h0M370.3 257.1h0M367 281.3h0M379.7 269.8h0M369.5 276h0M365.7 279.6h0M363 263.8h0M365.9 255.1h0M373.9 275.4h0M366.3 266.2h0M377.4 262.2h0M369 263.7h0M376.4 257.3h0M372.4 260.8h0M372.1 264.2h0M370.7 248.9h0M371.5 252.3h0M368.7 267.7h0M370.6 262.8h0M372.9 251.2h0M379.6 255.7h0M379.8 264.9h0M374.8 259.2h0M378.7 271.8h0M374.4 266.1h0M371.8 255.4h0M370.2 265.2h0M367.8 259.8h0M366.7 254.2h0M371.7 248.5h0M371.9 281.2h0M377 271.1h0M355.1 254.2h0M373.6 254.6h0M373.1 270h0M372.2 278.7h0M368.3 257.9h0M369.3 261.3h0M377.9 271.3h0M379.8 261.8h0M375.6 256.5h0M372.7 274.3h0M372.2 276.7h0M370.4 260.8h0M365.1 257.6h0M367 267.5h0M361.4 250.4h0M370.8 260.1h0M368.9 260.2h0M369.8 258.3h0M369.8 255.9h0M364.1 267.3h0M368.2 262.4h0M367.8 262.6h0M362 278.5h0M373.4 249.5h0M376.2 260.9h0M370.2 274.2h0M370.1 259.4h0M370.9 277.1h0M372.6 270.4h0M364.7 264.6h0M370.9 255.4h0M368.6 255.3h0M365.2 262.4h0M370.1 261.7h0M365.9 265.7h0M368.9 253.6h0M375.8 260.3h0M381.1 260.9h0M368.4 264.4h0M364.1 266.1h0M378.1 255.7h0M365.3 260.5h0M373.2 265.2h0M371.7 276h0M372.5 260.2h0M369.7 255.8h0M363.8 273.7h0M375.4 283.7h0M370.1 260.9h0M365.8 264.1h0M372.3 262.9h0M367 259.1h0M374.6 272.2h0M366.2 269.1h0M370.5 276.4h0M367.6 260.3h0M366.1 265.7h0M366.3 268.8h0M369.6 263h0M373 280.7h0M371.2 260.8h0M369.4 259.6h0M373.4 254.3h0M377.2 249.5h0M368.4 258.2h0M379.2 270h0M379.9 268.2h0M365.9 252.1h0M372.1 281.6h0M370.3 258.8h0M374.5 262.5h0M380.6 264.8h0M376.9 277.8h0M367.2 282.5h0M374.9 250.8h0M372.3 256.8h0M369.7 272.8h0M372.6 268h0M371.5 263.3h0M365 263.9h0M368.4 268.6h0M367.1 272.8h0M365.6 273.5h0M364.9 254.4h0M372.6 257h0M372.1 255.5h0M379.4 255.4h0M366.3 252.3h0M368.2 269.4h0M368.8 254.5h0M381 270.1h0M370.3 263.2h0M379.5 253h0M355.5 258.2h0M366.4 265.3h0M368.3 256.8h0M377 274.2h0M366.8 265.1h0M363.8 280.8h0M374.4 276h0M372.7 266.7h0M372.4 271.7h0M367.4 254.3h0M371 268.7h0M378.7 264h0M379.3 250.4h0M368 251h0M375.5 264.3h0M372.9 257.4h0M365 261.3h0M370.4 250.2h0M370 263.5h0M370.2 259.9h0M375.7 262.9h0M361.1 262.5h0M372.8 270.3h0M368 273.4h0M363.8 267h0M368.4 259h0M370.4 276h0M371.4 271.9h0M365.3 266.6h0M372.6 275.7h0M370 253.8h0M363.5 258.1h0M371.1 257.2h0M373 270.7h0M365.4 273.2h0M379.2 269.7h0M381.3 260.6h0M357.5 270.8h0M370.9 257h0M364.6 261.8h0M363.1 256.4h0M376.5 265h0M370 256.9h0M369.2 256.2h0M374.3 253h0M369.6 272.9h0M362.8 276.7h0M368.8 270.8h0M378.7 252.7h0M371.4 265.7h0M375.4 253.9h0M370.4 261.2h0M362.1 256.5h0M363.4 253.3h0M374.9 269.7h0M374.3 265.6h0M377.6 258.2h0M371 274.3h0M378.3 255.2h0M358.6 279h0M367 264.5h0M367.9 264.9h0M358.2 255.1h0M371.8 255.5h0M365 261.3h0M370.9 252.7h0M376.5 261.4h0M365.9 274.7h0M368.6 269.8h0M375.5 255.4h0M364.3 258.9h0M378.9 259h0M371.3 254.9h0M361.9 261.1h0M369.6 275.3h0M378.3 254.3h0M376.5 253h0M367.6 271h0M365.8 270.1h0M372.1 275.5h0M378 258.8h0M366.2 261.2h0M361.8 271.2h0M374.1 258.9h0M375.5 268.7h0M373.4 260.7h0M375.9 256.1h0M370.8 275.6h0M369.5 276.8h0M380.4 266.5h0M370.1 255.5h0M372.6 271.9h0M374.8 270.2h0M377.4 255h0M366.6 260.7h0M369.5 269.9h0M366.9 269.2h0M380.6 252.7h0M368.8 250.1h0M378 278.7h0M369.9 267.8h0M373.8 282.2h0M381 271.8h0M378.9 266.8h0M381.5 258.1h0M367.6 249.7h0M368.5 273.1h0M372.8 270.2h0M374.1 264.9h0M363.7 250.8h0M371 275.5h0M380.5 271.7h0M372.3 261.3h0M369.4 271.7h0M363.8 256.8h0M378.2 270.7h0M376.1 255h0M361.5 269.7h0M375.8 264.2h0M376.5 267.9h0M378.5 257h0M361.8 265h0M379.5 250.9h0M378.7 260h0M372 272h0M370 256.9h0M366.6 276.9h0M360.4 270.7h0M376.9 264.9h0M355.4 281.4h0M370.9 259.9h0M375.6 272.1h0M371.8 265.3h0M376.1 274.7h0M371 252.2h0M366.8 271.4h0M367.8 274h0M364.8 255.5h0M369.9 269.8h0M366.3 277h0M377.5 267.2h0M364.5 255h0M370.7 265.9h0M373.8 270h0M373.1 267h0M377.5 269.5h0M362.6 275.8h0M364.8 250.8h0M365.8 266.3h0M376.9 255.8h0M371.1 257.2h0M369.5 273.1h0M376.3 263.8h0M373.6 266.4h0M362.3 267.9h0M371.2 262h0M373 272.1h0M380.6 281.3h0M374.7 257h0M373.5 266.5h0M373.1 268.3h0M365.5 274.5h0M362.4 269.5h0M365.7 253.8h0M379.5 273.9h0M371 255.6h0M370.6 257.7h0M369.5 263.6h0M369 260h0M364.4 280.8h0M366.6 260.8h0M375.5 255.9h0M369.8 253.4h0M363.3 251.8h0M368.8 262.9h0M370.4 258.6h0M367.9 274.9h0M372.1 273.7h0M361.6 267.4h0M358.7 264h0M360.9 271.6h0M362 272.8h0M353.5 268.3h0M364.1 266h0M350.2 271.1h0M359.6 267.6h0M363.5 278.5h0M351.2 272.2h0M352.3 266h0M358.4 266h0M355.9 263h0M373 280.9h0M368.1 274.1h0M350.1 273.6h0M367.3 271.7h0M357.3 272.1h0M361.8 263.5h0M355.2 268.1h0M363.2 268.2h0M378.4 262.8h0M355.6 266.2h0M360.1 266.9h0M353.5 274.1h0M361.6 264.1h0M360.6 272.3h0M356.2 275.7h0M359.1 264.4h0M373.1 260.9h0M358.3 285.8h0M348.8 259.7h0M361.3 278h0M354.9 274.3h0M357.1 268.4h0M351.2 267.8h0M366.9 272.2h0M361.5 271.7h0M350.2 272h0M360.3 268.6h0M354.9 261.1h0M357.7 272.8h0M356 268.7h0M349.1 270h0M362.4 273.9h0M356.1 268.1h0M356 258.3h0M364.4 274.2h0M363.5 264.6h0M349.6 268.8h0M365.4 271.3h0M372.9 277h0M352.2 271.6h0M362.6 278.5h0M371.7 270.9h0M353.2 273.7h0M356.7 270.9h0M358.9 261.1h0M354.9 264.7h0M364.4 277.6h0M354.5 284.2h0M365.6 273.6h0M359.1 263.5h0M358.4 258.3h0M366.1 257.1h0M354.2 267.3h0M365.3 273.2h0M362.6 258.3h0M363 269.3h0M352.6 271.7h0M369.1 266h0M350.9 275.1h0M348.1 282.3h0M348.1 271.7h0M361.1 269.6h0M365.5 273.8h0M364.8 271h0M360.1 277h0M356.4 267.6h0M351.5 282.6h0M365.5 272.3h0M366.2 271.8h0M357.8 264h0M357.1 280.4h0M357.3 275.2h0M359.3 274.1h0M366.1 268.9h0M354.8 273.6h0M355.9 269.7h0M351.5 265.3h0M365.3 275.2h0M356.5 262.2h0M359.1 271.8h0M373.9 260h0M359.9 273.8h0M362.2 283.6h0M366.9 275h0M357.2 265.9h0M364.4 268.3h0M368 261.7h0M355.5 265.5h0M359.9 263.2h0M361 269.9h0M367.8 263h0M359.3 281.3h0M371.5 265.3h0M361.2 272.6h0M372.8 260.1h0M352.7 269.3h0M360.5 267.1h0M352.7 281.8h0M362.8 265.3h0M357.2 267.4h0M371.2 273.1h0" stroke="#a9c2d6" stroke-width="0.80" stroke-linecap="round" fill="none" opacity="0.5"/>
<path d="M343.3 246.5L343.3 295.8" stroke="#8c8c8c" stroke-width="0.55" fill="none"/>
<path d="M343.3 295.8L383.5 295.8" stroke="#8c8c8c" stroke-width="0.55" fill="none"/>
<path d="M342 293L343.3 293" stroke="#8c8c8c" stroke-width="0.45" fill="none"/>
<text x="341" y="295.3" font-size="6.5" text-anchor="end" fill="#222" stroke="#222" stroke-width="0.08">0</text>
<path d="M342 281.3L343.3 281.3" stroke="#8c8c8c" stroke-width="0.45" fill="none"/>
<text x="341" y="283.6" font-size="6.5" text-anchor="end" fill="#222" stroke="#222" stroke-width="0.08">1</text>
<path d="M342 269.6L343.3 269.6" stroke="#8c8c8c" stroke-width="0.45" fill="none"/>
<text x="341" y="271.9" font-size="6.5" text-anchor="end" fill="#222" stroke="#222" stroke-width="0.08">2</text>
<path d="M342 257.9L343.3 257.9" stroke="#8c8c8c" stroke-width="0.45" fill="none"/>
<text x="341" y="260.2" font-size="6.5" text-anchor="end" fill="#222" stroke="#222" stroke-width="0.08">3</text>
<path d="M342 246.2L343.3 246.2" stroke="#8c8c8c" stroke-width="0.45" fill="none"/>
<text x="341" y="248.5" font-size="6.5" text-anchor="end" fill="#222" stroke="#222" stroke-width="0.08">4</text>
<path d="M346.3 295.8L346.3 297.1" stroke="#8c8c8c" stroke-width="0.45" fill="none"/>
<text x="346.3" y="302.6" font-size="6.6" text-anchor="middle" fill="#222" stroke="#222" stroke-width="0.08">0</text>
<path d="M357.8 295.8L357.8 297.1" stroke="#8c8c8c" stroke-width="0.45" fill="none"/>
<text x="357.8" y="302.6" font-size="6.6" text-anchor="middle" fill="#222" stroke="#222" stroke-width="0.08">5</text>
<path d="M369.3 295.8L369.3 297.1" stroke="#8c8c8c" stroke-width="0.45" fill="none"/>
<text x="369.3" y="302.6" font-size="6.6" text-anchor="middle" fill="#222" stroke="#222" stroke-width="0.08">10</text>
<path d="M380.8 295.8L380.8 297.1" stroke="#8c8c8c" stroke-width="0.45" fill="none"/>
<text x="380.8" y="302.6" font-size="6.6" text-anchor="middle" fill="#222" stroke="#222" stroke-width="0.08">15</text>
<text x="363.8" y="228.8" font-size="6.9" text-anchor="middle" fill="#161616" stroke="#161616" stroke-width="0.12" font-style="italic">Ifng</text>
<text x="363.1" y="312.2" font-size="7.1" text-anchor="middle" fill="#161616" stroke="#161616" stroke-width="0.12">Pseudotime</text>
<text x="330.2" y="272.4" font-size="6.85" text-anchor="middle" fill="#161616" stroke="#161616" stroke-width="0.12" transform="rotate(-90 330.2 269.9)">Log (expression + 1)</text>
<path d="M346.3 283.1C347.1 282.7 349.4 281.4 350.9 280.7C352.4 280 354 278.9 355.5 279C357 279.1 358.6 280.9 360.1 281.3C361.6 281.7 363.2 281.8 364.7 281.3C366.2 280.8 367.8 279.1 369.3 278.4C370.8 277.7 372.6 277 373.9 277.2C375.2 277.4 376.2 278.4 377.4 279.5C378.5 280.7 380.2 283.4 380.8 284.2" stroke="#1a9aa0" stroke-width="1.05" fill="none" stroke-linecap="round"/>
<path d="M346.3 280.1C347.1 279.8 349.4 278.6 350.9 278.4C352.4 278.2 354 278.7 355.5 279C357 279.3 358.6 280 360.1 280.1C361.6 280.2 363.4 279.9 364.7 279.5C366 279.2 367.6 278.1 368.2 277.8" stroke="#ece43c" stroke-width="1.05" fill="none" stroke-linecap="round"/>
<path d="M346.3 282.5C347.1 282.1 349.4 280.6 350.9 280.1C352.4 279.6 354 279.4 355.5 279.5C357 279.7 358.6 281.1 360.1 281.3C361.6 281.5 363.2 281.4 364.7 280.7C366.2 280 368 278.1 369.3 277.2C370.6 276.3 371.6 275.5 372.8 275.4C373.9 275.4 374.9 275.6 376.2 276.6C377.5 277.6 380 280.5 380.8 281.3" stroke="#1d2f6f" stroke-width="1.05" fill="none" stroke-linecap="round"/>
<path d="M412.6 293.1H448.8" stroke="#8d9fb3" stroke-width="0.87" stroke-dasharray="10.8 0.4 3.7 0.3 5.3 0.3 8.6 0.3 7.1 0.3 5.2 0.3 5.8 0.4 2.3 0.4 4.3 0.4 4.8 0.4 6.2 0.4 5.0 0.4 6.6 0.4 0.8 0.4" opacity="0.55" fill="none"/>
<path d="M412.6 275.7H448.8" stroke="#8d9fb3" stroke-width="0.80" stroke-dasharray="2.4 0.5 1.8 0.8 3.7 0.5 1.8 0.6 3.1 0.7 4.4 0.8 0.8 0.7 1.9 0.6 5.1 0.8 1.8 0.6 0.8 0.7 1.0 0.8 0.8 0.5 3.7 0.6" opacity="0.55" fill="none"/>
<path d="M412.6 265.5H435.7" stroke="#8d9fb3" stroke-width="0.67" stroke-dasharray="1.2 1.8 1.3 1.3 0.9 2.4 1.3 0.5 1.4 1.4 0.9 2.6 1.1 0.9 0.4 0.8 1.1 0.7 1.4 2.3 0.6 2.2 0.8 1.5 0.7 2.6 1.3 2.0" opacity="0.55" fill="none"/>
<path d="M412.6 258.3H448.8" stroke="#8d9fb3" stroke-width="0.59" stroke-dasharray="0.4 5.7 0.4 7.0 0.4 4.9 0.4 6.7 0.4 6.8 0.6 4.3 0.4 7.9 0.4 4.1 0.6 1.0 0.5 7.6 0.5 1.8 0.5 6.5 0.6 6.5 0.5 6.7" opacity="0.55" fill="none"/>
<path d="M412.6 252.7H448.8" stroke="#8d9fb3" stroke-width="0.57" stroke-dasharray="0.5 3.5 0.5 2.7 0.4 0.3 0.4 2.4 0.4 1.5 0.4 8.5 0.4 0.4 0.5 10.4 0.5 3.7 0.5 1.9 0.5 1.6 0.4 6.1 0.4 9.1 0.5 6.2" opacity="0.55" fill="none"/>
<path d="M410.4 246.5L410.4 295.9" stroke="#8c8c8c" stroke-width="0.55" fill="none"/>
<path d="M410.4 295.9L450.3 295.9" stroke="#8c8c8c" stroke-width="0.55" fill="none"/>
<path d="M409.1 293.1L410.4 293.1" stroke="#8c8c8c" stroke-width="0.45" fill="none"/>
<text x="408.1" y="295.4" font-size="6.5" text-anchor="end" fill="#222" stroke="#222" stroke-width="0.08">0.0</text>
<path d="M409.1 280.6L410.4 280.6" stroke="#8c8c8c" stroke-width="0.45" fill="none"/>
<text x="408.1" y="282.9" font-size="6.5" text-anchor="end" fill="#222" stroke="#222" stroke-width="0.08">0.5</text>
<path d="M409.1 268L410.4 268" stroke="#8c8c8c" stroke-width="0.45" fill="none"/>
<text x="408.1" y="270.3" font-size="6.5" text-anchor="end" fill="#222" stroke="#222" stroke-width="0.08">1.0</text>
<path d="M409.1 255.5L410.4 255.5" stroke="#8c8c8c" stroke-width="0.45" fill="none"/>
<text x="408.1" y="257.8" font-size="6.5" text-anchor="end" fill="#222" stroke="#222" stroke-width="0.08">1.5</text>
<path d="M412.6 295.9L412.6 297.2" stroke="#8c8c8c" stroke-width="0.45" fill="none"/>
<text x="412.6" y="302.6" font-size="6.6" text-anchor="middle" fill="#222" stroke="#222" stroke-width="0.08">0</text>
<path d="M424.2 295.9L424.2 297.2" stroke="#8c8c8c" stroke-width="0.45" fill="none"/>
<text x="424.2" y="302.6" font-size="6.6" text-anchor="middle" fill="#222" stroke="#222" stroke-width="0.08">5</text>
<path d="M435.7 295.9L435.7 297.2" stroke="#8c8c8c" stroke-width="0.45" fill="none"/>
<text x="435.7" y="302.6" font-size="6.6" text-anchor="middle" fill="#222" stroke="#222" stroke-width="0.08">10</text>
<path d="M447.2 295.9L447.2 297.2" stroke="#8c8c8c" stroke-width="0.45" fill="none"/>
<text x="447.2" y="302.6" font-size="6.6" text-anchor="middle" fill="#222" stroke="#222" stroke-width="0.08">15</text>
<text x="430" y="228.8" font-size="6.9" text-anchor="middle" fill="#161616" stroke="#161616" stroke-width="0.12" font-style="italic">Kit</text>
<text x="430.1" y="312.2" font-size="7.1" text-anchor="middle" fill="#161616" stroke="#161616" stroke-width="0.12">Pseudotime</text>
<text x="394" y="272.5" font-size="6.85" text-anchor="middle" fill="#161616" stroke="#161616" stroke-width="0.12" transform="rotate(-90 394 270)">Log (expression + 1)</text>
<path d="M412.6 282.6C413 283.1 413.9 284.4 414.9 285.6C415.9 286.7 416.8 288.3 418.4 289.3C419.9 290.4 422 291.3 424.2 291.8C426.3 292.3 427.2 292.1 431.1 292.3C434.9 292.6 444.6 293 447.2 293.1" stroke="#1d2f6f" stroke-width="1.05" fill="none" stroke-linecap="round"/>
<path d="M412.6 275.5C413 276.4 413.9 278.7 414.9 280.6C415.9 282.4 416.8 285.1 418.4 286.8C419.9 288.6 422.4 290.3 424.2 291.1C425.9 291.9 427 292.1 428.8 291.6C430.5 291.1 433.6 288.7 434.5 288.1" stroke="#ece43c" stroke-width="1.05" fill="none" stroke-linecap="round"/>
<path d="M412.6 279.3C413 279.9 413.9 281.6 414.9 283.1C415.9 284.5 416.8 286.7 418.4 288.1C419.9 289.5 422 290.7 424.2 291.3C426.3 292 428.8 291.6 431.1 291.8C433.4 292.1 435.3 292.5 438 292.6C440.7 292.7 445.7 292.6 447.2 292.6" stroke="#1a9aa0" stroke-width="1.05" fill="none" stroke-linecap="round"/>
<path d="M481.5 293H518" stroke="#8d9fb3" stroke-width="0.87" stroke-dasharray="4.1 0.4 9.6 0.4 10.8 0.3 3.6 0.3 9.3 0.3 2.6 0.4 3.8 0.4 3.6 0.3 11.9 0.4 7.2 0.3 8.2 0.4 12.3 0.3 12.1 0.4 9.0 0.3" opacity="0.5" fill="none"/>
<path d="M488.5 280.2H518" stroke="#8d9fb3" stroke-width="0.77" stroke-dasharray="2.6 0.9 2.7 1.1 3.6 0.8 1.5 0.9 1.4 0.4 2.5 0.6 2.4 1.0 0.7 0.6 3.9 1.1 3.9 0.3 3.6 1.0 1.3 0.3 1.1 0.9 3.8 1.0" opacity="0.5" fill="none"/>
<path d="M481.5 272.7H518" stroke="#8d9fb3" stroke-width="0.67" stroke-dasharray="0.6 1.6 0.5 1.6 0.6 0.8 0.5 1.9 1.6 1.6 0.8 1.6 1.6 1.9 0.8 2.8 1.4 0.4 1.6 1.2 0.7 1.1 1.2 1.5 0.7 2.7 0.9 0.9" opacity="0.5" fill="none"/>
<path d="M481.5 267.4H518" stroke="#8d9fb3" stroke-width="0.63" stroke-dasharray="1.0 2.2 0.9 2.2 0.9 0.5 0.4 1.5 0.8 0.3 0.7 3.1 1.0 1.3 0.5 3.8 0.8 0.3 0.6 3.5 0.6 1.5 0.5 1.1 0.6 3.0 0.6 2.4" opacity="0.5" fill="none"/>
<path d="M481.5 263.2H518" stroke="#8d9fb3" stroke-width="0.58" stroke-dasharray="0.5 8.3 0.5 8.5 0.6 4.2 0.5 7.4 0.5 5.9 0.5 7.0 0.6 1.5 0.4 6.7 0.4 5.4 0.5 1.1 0.5 0.8 0.5 4.2 0.4 4.7 0.4 1.0" opacity="0.5" fill="none"/>
<path d="M481.5 259.8H518" stroke="#8d9fb3" stroke-width="0.57" stroke-dasharray="0.4 10.5 0.4 2.3 0.5 1.8 0.5 3.5 0.4 6.5 0.4 2.2 0.4 10.9 0.4 1.2 0.5 10.5 0.5 10.6 0.5 9.1 0.5 11.2 0.5 1.4 0.5 4.0" opacity="0.5" fill="none"/>
<path d="M479.2 246.5L479.2 295.8" stroke="#8c8c8c" stroke-width="0.55" fill="none"/>
<path d="M479.2 295.8L519.5 295.8" stroke="#8c8c8c" stroke-width="0.55" fill="none"/>
<path d="M477.9 293L479.2 293" stroke="#8c8c8c" stroke-width="0.45" fill="none"/>
<text x="476.9" y="295.3" font-size="6.5" text-anchor="end" fill="#222" stroke="#222" stroke-width="0.08">0.0</text>
<path d="M477.9 283.8L479.2 283.8" stroke="#8c8c8c" stroke-width="0.45" fill="none"/>
<text x="476.9" y="286.1" font-size="6.5" text-anchor="end" fill="#222" stroke="#222" stroke-width="0.08">0.5</text>
<path d="M477.9 274.5L479.2 274.5" stroke="#8c8c8c" stroke-width="0.45" fill="none"/>
<text x="476.9" y="276.8" font-size="6.5" text-anchor="end" fill="#222" stroke="#222" stroke-width="0.08">1.0</text>
<path d="M477.9 265.2L479.2 265.2" stroke="#8c8c8c" stroke-width="0.45" fill="none"/>
<text x="476.9" y="267.6" font-size="6.5" text-anchor="end" fill="#222" stroke="#222" stroke-width="0.08">1.5</text>
<path d="M477.9 256L479.2 256" stroke="#8c8c8c" stroke-width="0.45" fill="none"/>
<text x="476.9" y="258.3" font-size="6.5" text-anchor="end" fill="#222" stroke="#222" stroke-width="0.08">2.0</text>
<path d="M477.9 246.8L479.2 246.8" stroke="#8c8c8c" stroke-width="0.45" fill="none"/>
<text x="476.9" y="249.1" font-size="6.5" text-anchor="end" fill="#222" stroke="#222" stroke-width="0.08">2.5</text>
<path d="M481.5 295.8L481.5 297.1" stroke="#8c8c8c" stroke-width="0.45" fill="none"/>
<text x="481.5" y="302.6" font-size="6.6" text-anchor="middle" fill="#222" stroke="#222" stroke-width="0.08">0</text>
<path d="M493.1 295.8L493.1 297.1" stroke="#8c8c8c" stroke-width="0.45" fill="none"/>
<text x="493.1" y="302.6" font-size="6.6" text-anchor="middle" fill="#222" stroke="#222" stroke-width="0.08">5</text>
<path d="M504.7 295.8L504.7 297.1" stroke="#8c8c8c" stroke-width="0.45" fill="none"/>
<text x="504.7" y="302.6" font-size="6.6" text-anchor="middle" fill="#222" stroke="#222" stroke-width="0.08">10</text>
<path d="M516.3 295.8L516.3 297.1" stroke="#8c8c8c" stroke-width="0.45" fill="none"/>
<text x="516.3" y="302.6" font-size="6.6" text-anchor="middle" fill="#222" stroke="#222" stroke-width="0.08">15</text>
<text x="498.3" y="228.8" font-size="6.9" text-anchor="middle" fill="#161616" stroke="#161616" stroke-width="0.12" font-style="italic">Il7r</text>
<text x="499.1" y="312.2" font-size="7.1" text-anchor="middle" fill="#161616" stroke="#161616" stroke-width="0.12">Pseudotime</text>
<text x="459.4" y="272.4" font-size="6.85" text-anchor="middle" fill="#161616" stroke="#161616" stroke-width="0.12" transform="rotate(-90 459.4 269.9)">Log (expression + 1)</text>
<path d="M481.5 283.8C481.9 284.2 482.9 285.5 483.8 286.5C484.8 287.5 485.8 288.8 487.3 289.7C488.8 290.6 491 291.4 493.1 291.9C495.2 292.4 496.2 292.3 500.1 292.4C503.9 292.6 513.6 292.6 516.3 292.6" stroke="#1d2f6f" stroke-width="1.05" fill="none" stroke-linecap="round"/>
<path d="M481.5 280.4C481.9 281.1 482.9 283.3 483.8 284.7C484.8 286.1 485.8 287.9 487.3 288.9C488.8 290 491.4 290.7 493.1 291.1C494.8 291.6 496 291.4 497.7 291.5C499.5 291.6 502.6 291.8 503.5 291.9" stroke="#ece43c" stroke-width="1.05" fill="none" stroke-linecap="round"/>
<path d="M481.5 282.8C481.9 283.3 482.9 284.6 483.8 285.6C484.8 286.6 485.8 287.9 487.3 288.9C488.8 289.9 491 291 493.1 291.5C495.2 292.1 497.7 292.1 500.1 292.3C502.4 292.4 504.3 292.7 507 292.6C509.7 292.6 514.8 292.2 516.3 292.1" stroke="#1a9aa0" stroke-width="1.05" fill="none" stroke-linecap="round"/>
<text x="506.3" y="248.9" font-size="3.6" text-anchor="middle" fill="#161616" stroke="#161616" stroke-width="0.06">Trajectory</text>
<path d="M508.6 254.6h0" stroke="#1d2f6f" stroke-width="1.4" stroke-linecap="round" fill="none"/>
<text x="511" y="256.8" font-size="6.2" text-anchor="start" fill="#161616" stroke="#161616" stroke-width="0.12">1</text>
<path d="M508.6 261.1h0" stroke="#1a9aa0" stroke-width="1.4" stroke-linecap="round" fill="none"/>
<text x="511" y="263.3" font-size="6.2" text-anchor="start" fill="#161616" stroke="#161616" stroke-width="0.12">2</text>
<path d="M508.6 267.6h0" stroke="#ece43c" stroke-width="1.4" stroke-linecap="round" fill="none"/>
<text x="511" y="269.8" font-size="6.2" text-anchor="start" fill="#161616" stroke="#161616" stroke-width="0.12">3</text>
</g>
<g>
<text x="3.6" y="333.5" font-size="10.2" text-anchor="start" fill="#000" stroke="#000" stroke-width="0.12" font-weight="bold">J</text>
<path d="M29.1 334L29.1 446.8" stroke="#333" stroke-width="0.55" fill="none"/>
<path d="M29.1 446.8L182.5 446.8" stroke="#333" stroke-width="0.55" fill="none"/>
<path d="M27.7 359.1L29.1 359.1" stroke="#333" stroke-width="0.45" fill="none"/>
<text x="26.9" y="361.5" font-size="6.8" text-anchor="end" fill="#161616" stroke="#161616" stroke-width="0.12">75</text>
<path d="M27.7 386.9L29.1 386.9" stroke="#333" stroke-width="0.45" fill="none"/>
<text x="26.9" y="389.3" font-size="6.8" text-anchor="end" fill="#161616" stroke="#161616" stroke-width="0.12">50</text>
<path d="M27.7 414.6L29.1 414.6" stroke="#333" stroke-width="0.45" fill="none"/>
<text x="26.9" y="417" font-size="6.8" text-anchor="end" fill="#161616" stroke="#161616" stroke-width="0.12">25</text>
<path d="M27.7 442.2L29.1 442.2" stroke="#333" stroke-width="0.45" fill="none"/>
<text x="26.9" y="444.6" font-size="6.8" text-anchor="end" fill="#161616" stroke="#161616" stroke-width="0.12">0</text>
<path d="M57 446.8L57 448.2" stroke="#333" stroke-width="0.45" fill="none"/>
<text x="55.7" y="456" font-size="6.8" text-anchor="middle" fill="#161616" stroke="#161616" stroke-width="0.12">−1.0</text>
<path d="M87.8 446.8L87.8 448.2" stroke="#333" stroke-width="0.45" fill="none"/>
<text x="86.5" y="456" font-size="6.8" text-anchor="middle" fill="#161616" stroke="#161616" stroke-width="0.12">−0.5</text>
<path d="M118.2 446.8L118.2 448.2" stroke="#333" stroke-width="0.45" fill="none"/>
<text x="118.2" y="456" font-size="6.8" text-anchor="middle" fill="#161616" stroke="#161616" stroke-width="0.12">0.0</text>
<path d="M149.2 446.8L149.2 448.2" stroke="#333" stroke-width="0.45" fill="none"/>
<text x="149.2" y="456" font-size="6.8" text-anchor="middle" fill="#161616" stroke="#161616" stroke-width="0.12">0.5</text>
<path d="M180.4 446.8L180.4 448.2" stroke="#333" stroke-width="0.45" fill="none"/>
<text x="180.4" y="456" font-size="6.8" text-anchor="middle" fill="#161616" stroke="#161616" stroke-width="0.12">1.0</text>
<text x="8.8" y="394.4" font-size="7" text-anchor="middle" fill="#161616" stroke="#161616" stroke-width="0.12" transform="rotate(-90 8.8 391.9)" textLength="46.3" lengthAdjust="spacing">−Log<tspan font-size="4.2" dy="1.6">10</tspan><tspan dy="-1.6" font-size="4.2">​</tspan> (<tspan font-style="italic">P</tspan>_val)</text>
<text x="108.2" y="466.7" font-size="7" text-anchor="middle" fill="#161616" stroke="#161616" stroke-width="0.12" textLength="83" lengthAdjust="spacing">Log<tspan font-size="4.2" dy="1.6">2</tspan><tspan dy="-1.6" font-size="4.2">​</tspan> <tspan font-style="italic">Il27ra</tspan><tspan font-size="4.2" dy="-2.9">−/−</tspan><tspan dy="2.9" font-size="4.2">​</tspan> vs. <tspan font-style="italic">Il27ra</tspan><tspan font-size="4.2" dy="-2.9">+/−</tspan><tspan dy="2.9" font-size="4.2">​</tspan></text>
<path d="M116 438.7h0M117.8 441h0M112.4 436.6h0M117.8 440.7h0M117.2 439.8h0M113 438h0M116.6 440.9h0M112.4 436.5h0M110.3 436.5h0M114.6 437.9h0M115.3 438.3h0M115.8 439.7h0M116.6 438.4h0M115.5 437.5h0M114.1 438.4h0M117.6 439.5h0M112.1 437.3h0M115.5 436.5h0M111.8 436.2h0M114.8 438.1h0M113 438.5h0M111.9 438h0M114.6 437.1h0M114.8 438.3h0M116.2 439.2h0M114.4 437.3h0M115 437.2h0M113.2 436.7h0M117.3 440.1h0M111.8 436.5h0M117.5 439.8h0M117.1 439.4h0M115.4 439.4h0M112.7 436.2h0M109.6 436h0M115.8 438h0M113.2 436.1h0M110.7 435.3h0M111.4 437.6h0M116.3 438.2h0M115.2 439h0M112 435.8h0M115.1 438.7h0M114.2 436.3h0M116.1 439.7h0M115.8 438.5h0M111.1 436.4h0M110.7 437.9h0M117 440.2h0M115.8 438.8h0M113.7 437.7h0M110.4 436h0M113 436h0M112.2 436.4h0M115.8 437.8h0M115.8 439.5h0M116.9 439.4h0M112.5 437.7h0M110.1 437h0M112.3 437.1h0M110.8 436.7h0M110.3 436h0M111.2 437h0M111 436.8h0M118 441.9h0M116.1 438.7h0M115.9 439.7h0M114.9 437.3h0M114.1 437.4h0M115.4 438.4h0M114.4 438.4h0M113.4 437.5h0M114.8 437.4h0M113.2 438.7h0M114.9 438.1h0M116.4 439.9h0M115.1 436.6h0M112.1 437.4h0M111.8 437.2h0M112.3 437h0M117.3 439.5h0M116.6 440.7h0M113.8 437.4h0M110.8 437.1h0M117.9 441.4h0M116.5 438.3h0M111 436.2h0M111.6 436.5h0M113.7 437.3h0M110.4 435.7h0M114.4 438.6h0M114 436.8h0M114 436.8h0M116.9 439.6h0M113.3 436.9h0M113.6 438h0M110.6 435.3h0M117.1 440h0M117.7 439.1h0M115.3 438.5h0M112.6 435.8h0M115.2 437.8h0M115.1 438.1h0M115.4 438.3h0M116.7 439.9h0M115.3 438.6h0M113.3 436.6h0M112.2 436.5h0M111.2 437.5h0M115.2 437.4h0M111.6 436.8h0M115.3 438.4h0M116 437.6h0M112.6 437.8h0M114.7 437.9h0M117.5 439.3h0M113.1 437.7h0M115.8 438.3h0M116.3 439.9h0M116.6 439.3h0M109.7 436.1h0M117.4 439.6h0M114.7 438h0M117.1 440.3h0M117.8 440.3h0M112.1 437.3h0M110.8 436.3h0M111.5 436h0M111.6 436h0M112.4 437.2h0M119.8 440.4h0M129.4 437h0M135.1 434.6h0M120.2 440h0M120.9 440.9h0M128.9 439.2h0M118.5 440h0M128.2 436.1h0M118.8 440.9h0M122.7 438.8h0M123.4 437.8h0M119.2 440.4h0M124.7 436.6h0M125.8 438.7h0M122.3 438.6h0M135.5 436.2h0M131.4 436.6h0M126.1 438.7h0M127.1 438.6h0M122.1 439.1h0M131.1 436.3h0M133.2 435.2h0M118.8 442h0M129.4 436.7h0M134.1 437.3h0M121.5 439.3h0M119.5 439.7h0M134.1 436.4h0M127.6 439.4h0M129.1 438.3h0M130.5 437.6h0M131.2 437.6h0M129.4 437.6h0M120.4 440.2h0M131.4 437.9h0M118.5 442h0M118.3 440.7h0M135 435.2h0M128.4 439.3h0M132.7 436.6h0M119.8 439.6h0M125.3 438.7h0M128.3 438.2h0M135.6 435.2h0M125.1 439.2h0M129.1 436.9h0M119.8 440.4h0M130.6 435.4h0M131.2 436.4h0M133.4 436.8h0M131.4 436.5h0M130.7 436.3h0M120.8 439.3h0M127 437.8h0M124.3 440.3h0M135.2 436.8h0M121.8 438.9h0M132 436.3h0M122.7 439.8h0M133.2 437.1h0M126 438.8h0M135 436.1h0M130 438.5h0M118.7 442h0M120.6 439.8h0M134.2 437.1h0M123.3 438.8h0M121.9 438.4h0M131.3 436.9h0M134 437h0M120 440.5h0M122.5 439.5h0M122.1 438.9h0M128 437.9h0M130.6 438.8h0M123.6 439.5h0M118.6 441.1h0M134.6 436h0M127.7 437.2h0M129 437h0M133 438h0M135.4 435.7h0M133.3 438.3h0M126.7 438.1h0M130.1 438.2h0M120.2 439.8h0M127.6 437.7h0M132.3 437.3h0M131.8 437.2h0M133.3 436.9h0M129.9 436.6h0M124.8 439.1h0M118.6 442h0M135 437.4h0M133.8 436.1h0M122 440.5h0M118.7 442h0M134.5 436.1h0M122.2 439h0M130.9 436.6h0M120.7 441.6h0M133.4 435.7h0M127.9 437.6h0M135.1 436.4h0M118.8 441.9h0M133.2 436.7h0M130.3 436.1h0M120.3 440.8h0M124.1 439.5h0M124 438.7h0M123.7 438.2h0M126.7 438.2h0M127.4 439h0M127.9 436.6h0M123.4 439.3h0M132.1 437.4h0M134.3 436.3h0M131 437.2h0M129.1 438.5h0M122.8 440.7h0M125.4 439.5h0M118.5 440.6h0M121.4 440h0M135.7 436.2h0M130.3 436.9h0M119.2 441.4h0M130.4 437.3h0M131.3 436.7h0M122.6 439.7h0M132.4 438.1h0" stroke="#7c7c7c" stroke-width="1.1" stroke-linecap="round" fill="none" opacity="0.85"/>
<path d="M102.5 434.1h0M110.6 436.8h0M91.3 430.9h0M110 436.3h0M104.5 433.9h0M109 433.2h0M109.8 434.8h0M109.5 434.8h0M99.1 433.1h0M109.7 435.9h0M103.1 433.9h0M103.4 434.7h0M110.6 435.2h0M104.2 435h0M109.7 437.4h0M99.2 433h0M108.8 435.3h0M109.5 434.7h0M105.6 435.2h0M108.4 434.6h0M104.9 433.6h0M108.4 436h0M109.4 437.3h0M104.3 433.7h0M103.4 433.9h0M110.3 437.1h0M102.8 434.3h0M95.2 432.1h0M109 436.1h0M83.1 431.4h0M102.4 434h0M102.1 433.6h0M104.5 434.2h0M110.4 435.8h0M101.8 434.7h0M108.3 435.7h0M110.3 436.3h0M105.9 434.4h0M107 436.6h0M110.7 437.2h0M105.7 433.8h0M108.3 435.7h0M110 435.1h0M102.4 434h0M109.2 436.8h0M107.1 435h0M107.2 436.4h0M109.3 435.2h0M109.6 435.1h0M108.4 435.5h0M109.7 436.4h0M108.1 437h0M109 435.9h0M105.7 434.1h0M107.6 434.4h0M108 435h0M110.8 437.7h0M107.6 436.2h0M107.1 434.5h0M107.4 435.6h0M109.6 434.1h0M97 431.9h0M104.3 433.2h0M105 434.4h0M103.4 432.9h0M95.1 433.6h0M102 435.1h0M109.9 436.7h0M106.4 434.6h0M99.4 433.4h0M97.4 432.7h0M91.7 432h0M107.3 435.8h0M103.8 434.9h0M109.7 435h0M106.2 436h0M109.7 435.2h0M110.1 438.2h0M107.4 434.5h0M107.8 435.7h0M106.9 435.4h0M96.9 432.3h0M110.7 435.7h0M93.5 433.2h0M109.7 435.7h0M104.3 434.2h0M110.3 434h0M109.8 436.7h0M94.2 431.6h0M109.6 436.1h0M106.4 435.5h0M106.5 435.8h0M110.3 435.8h0M103.7 433.7h0M105.1 435.1h0M110.1 436.1h0M109.5 435.5h0M103.8 433.8h0M110.1 436h0M105.3 436.1h0M90.9 431.7h0M88.6 431.7h0M110 436.9h0M105.6 435.1h0M109.6 436h0M110.6 437.3h0M91 432.9h0M101.3 433.3h0M109.2 434.1h0M98.1 433h0M105.1 433.8h0M107.1 434.7h0M107.1 434.6h0M108.1 435.9h0M109.5 435.8h0M108.1 436.4h0M108.5 435.4h0M100 433.2h0M95.7 433.1h0M104.9 435.3h0M104.8 433.6h0M108.2 435.2h0M104.2 434.9h0M104.4 434.3h0M105 434.7h0M99.8 433.1h0M109.9 435.8h0M107.3 435h0M106.4 434.4h0M104 434.7h0M98.7 433.2h0M104.2 434.4h0M106 433.5h0M110 436.5h0M105 434.7h0M104.3 434.3h0M101.4 433.7h0M101.7 433.9h0M103.1 433.9h0M109.8 435.7h0M108.2 434.7h0M95.8 432.9h0M108 435.9h0M109.7 435.6h0M105.5 433.3h0M106.8 436.1h0M109.7 435.5h0M104.5 434.7h0M104.1 435.6h0M104.1 432.7h0M107.4 434.9h0M109 435.8h0M107.8 436.1h0M105.9 435.1h0M107.5 435.4h0M106.4 435h0M104.8 433.3h0M110.7 437.1h0M95 433.1h0M100.7 434.1h0M110.1 437.7h0M99.6 432.4h0M109 437.3h0M95.3 433h0M106.2 434.6h0M109.3 434.9h0M106.8 434.6h0M97.5 432h0M106.7 434.2h0M108.5 436.7h0M109.8 434.2h0M107.1 434.4h0M102.5 434.9h0M110.3 436.6h0M110.6 435.7h0M106 434.1h0M109.1 436.1h0M109.4 435.7h0M99.8 432.1h0M108.1 435.7h0M106 435.1h0M110.8 437.4h0M109.8 435.9h0M110.5 437.2h0M105.5 435.2h0M106.6 435.2h0M109.2 435.8h0M108.2 436.3h0M96.6 432.5h0M108.2 435.7h0M108 436.3h0M100.5 433.3h0M110.5 436.5h0M109.1 435.5h0M92.5 430.1h0M103.4 435.2h0M107.7 434.8h0M109.1 436.3h0M110.1 434.9h0M109.9 436.4h0M104.2 432.9h0M102.4 432.6h0M107.7 435.9h0M102.5 434.4h0M108.5 435.5h0M102.9 434.8h0M102.2 433.5h0M107.2 434.2h0M108.9 435.2h0M101.7 434.8h0M110.2 427.9h0M81.9 427.6h0M103.1 423.8h0M79.4 417.3h0M83.3 418.2h0M87.7 429.6h0M86.5 428.4h0M110.1 430.3h0M103.9 429.9h0M108.8 425.6h0M97.6 421.6h0M79.8 426h0M104.4 430.5h0M97 420.3h0M77.5 427.1h0M105.9 427.3h0M95.6 416.4h0M97.4 421.8h0M110.2 433h0M86.8 427.7h0M84.1 417h0M103.3 428.3h0M94.8 428h0M93.5 406.7h0M76.9 405.3h0M93.8 428.8h0M101 430.7h0M96 428.5h0M103.5 428.3h0M97.7 425.2h0M95 412.6h0M100.3 430.3h0M105.3 433.1h0M109.4 434.3h0M109.6 428.8h0M106.2 424.1h0M109.9 428.2h0M108.8 427.3h0M105.5 422h0M87.3 424.6h0M107.9 415.3h0M90.1 427.3h0M110 433.1h0M108.8 432.5h0M90.9 423.9h0M109.6 429h0M88.1 425.9h0M109.7 430.2h0M107.4 428.2h0M92.3 429.5h0M103.8 425.1h0M95.2 425.5h0M95.9 427.6h0M100.7 431.9h0M93.6 428.1h0M94.9 428.4h0M86.7 420.9h0M103.7 431.1h0M88.3 425.4h0M109.8 433.9h0M103.1 430.6h0M99.9 424.2h0M100.7 422.3h0M102.1 423.3h0M104.4 424.2h0M104.1 431.5h0M81.4 427.6h0M103.2 422.2h0M109.6 431.5h0M74.6 419h0M93.6 405h0M94.6 414.8h0M96.3 425.3h0M108.8 433.4h0M98.7 428.2h0M107.7 433.7h0M80.6 418.6h0M93.8 409.3h0M102.4 429.2h0M93.1 424.6h0M97.4 425.6h0M102.5 423.7h0M103.1 418.7h0M106.4 430.7h0M103.4 430.6h0M103.9 428.3h0M109.8 432.8h0M88.4 428.2h0M109.8 429.9h0M83.5 416.6h0M110.1 424.6h0M108.7 434h0M102 430.3h0" stroke="#2438a0" stroke-width="1.2" stroke-linecap="round" fill="none" opacity="0.92"/>
<path d="M134.8 434.5h0M141.2 434.2h0M139.7 433.9h0M138.2 434.9h0M134.3 433.3h0M134.3 435.7h0M142.3 434.5h0M134.1 433.2h0M134.9 435.4h0M133.8 435.9h0M134.9 434h0M133.6 435.8h0M134.4 435h0M137.3 435h0M135 434.9h0M147.8 433.7h0M136.5 434.4h0M134.8 434.6h0M136.6 434.7h0M136.6 435.6h0M136.4 435.6h0M141.5 433.4h0M136.2 432.3h0M142.2 432.8h0M134.8 433.5h0M137 435.2h0M133.7 434.8h0M134.1 435.4h0M139.7 431.6h0M142.7 431.1h0M137.6 434.2h0M134.8 435.6h0M138.8 434.6h0M135 435.8h0M137.8 435.2h0M135.6 435.4h0M135.2 435.8h0M135.6 433.1h0M142.4 433.5h0M136.2 435.6h0M137.6 431.9h0M137.5 435.3h0M154.1 430.5h0M136.9 434.4h0M135 435.1h0M134.4 434h0M138.7 433.8h0M134.2 435.6h0M137.3 434.4h0M134.1 433.5h0M133.8 436.2h0M133.6 436.1h0M134.8 432.4h0M137.3 433.8h0M144.2 431.2h0M134.8 435.9h0M134.3 433.6h0M141.9 433.6h0M136 434.9h0M133.6 436h0M135.2 433.7h0M150.1 432.9h0M139.1 435h0M135.9 435h0M134.8 435.8h0M134.2 433.1h0M137.2 433.3h0M135.9 433.9h0M137.3 432.9h0M135.2 433.5h0M135.6 434.3h0M136.3 434.8h0M145 434h0M137.5 433.6h0M133.8 435.2h0M137.3 434.8h0M134.8 434.9h0M136.3 434.6h0M134.1 434.5h0M134.3 433.7h0M135.7 433.5h0M147.2 432.7h0M134.1 435.8h0M138.7 435.2h0M134.3 434.9h0M135.9 434.6h0M139.1 435.1h0M138.9 433h0M134 435.6h0M135 431.4h0M135.8 434.5h0M135.1 434.1h0M136.7 432.6h0M134.6 433.7h0M134.1 434.5h0M141.3 434.6h0M136.3 433.5h0M134.8 433.8h0M135.9 433.1h0M141.8 434h0M134.1 435.5h0M138.6 433.7h0M144.8 431.2h0M133.8 436.2h0M137.1 435.5h0M136.8 434.7h0M134.1 436.1h0M138.8 434.7h0M137.3 433.3h0M133.9 435.6h0M134 435.5h0M135.5 434.7h0M137.1 434.5h0M134.3 435.2h0M134.8 435.8h0M133.8 436.1h0M137.4 434.7h0M133.8 436.2h0M139.5 431.4h0M133.6 435h0M143 431.7h0M133.9 432.5h0M137.6 435.4h0M147.7 433.2h0M139.1 434.4h0M140.1 433.9h0M133.7 433.2h0M139.8 434.7h0M137.2 434.5h0M133.6 436.1h0M138.2 432h0M136.3 434.7h0M139 432.5h0M146.8 432.9h0M135.2 434.8h0M136.1 433.9h0M134.8 435.6h0M133.7 434.8h0M136.4 432.8h0M135.4 433h0M135.5 433.2h0M140.7 434.4h0M134.5 435.4h0M136.6 431.5h0M148 431.6h0M139 432.6h0M142.4 431.9h0M133.6 436h0M134.6 435.5h0M135.4 434.8h0M134.5 434.2h0M134 434.8h0M135.5 434.7h0M136.2 434.6h0M136 433.7h0M135.3 435.5h0M134.2 432.2h0M134.3 436h0M136.7 434.6h0M135.3 434.7h0M135.5 435.3h0M134 435.2h0M136.1 434.6h0M137.4 434.9h0M136.4 434.7h0M136.2 435h0M138.7 434.2h0M135.6 431.8h0M135.6 433.8h0M136 432.9h0M135 434.7h0M135.2 432.5h0M133.9 435.3h0M142.6 432.6h0M136.2 434.4h0M133.8 433.1h0M135.6 434.6h0M133.8 434.6h0M138.2 434.2h0M134.8 435.6h0M135.4 435.7h0M136 431.4h0M134.7 435.2h0M137.6 432.6h0M138.8 433.9h0M134.4 434.6h0M143 432.8h0M144.7 434.1h0M133.6 435.1h0M134.6 434.6h0M136.9 432.8h0M135.8 434.8h0M134.5 434.7h0M141.9 432.3h0M135.9 434.6h0M137.4 435.2h0M134 433.3h0M134.5 435.7h0M133.7 434.7h0M165.2 421.5h0M153.2 406h0M141.6 414.3h0M155 427.8h0M134.7 432.2h0M143.8 428.6h0M128.5 420.7h0M142.2 429.6h0M153.3 422.4h0M142.2 420.7h0M165 428.7h0M162.1 427.4h0M146.2 431.9h0M165.5 421.9h0M160.4 422.2h0M140.7 421.8h0M143.5 429h0M128.1 431.4h0M168.5 417.2h0M153.6 423.5h0M128.8 432.5h0M128.9 418.6h0M132.7 426h0M149.6 429h0M148.8 408h0M147.9 412.4h0M145.1 428.6h0M145.3 412.5h0M128.2 431.6h0M145.7 420.9h0M164.3 422h0M153.3 421.5h0M128.6 435.7h0M152.2 418.8h0M157.8 398h0M158.7 395.4h0M145 411.8h0M139.9 426.1h0M153.3 409.5h0M130.2 435.3h0M129.3 434.3h0M131.2 434.2h0M131.8 429.2h0M140 432.4h0M164.5 427h0M128.7 430h0M149.9 428.7h0M148.2 431.1h0M135.2 430.1h0M153 428.4h0M132.7 434.8h0M128.9 427.5h0M133.8 427.7h0M144.4 396.1h0M136.5 429.3h0M145.1 420.4h0M132.1 431.7h0M143.7 413.6h0M154.1 427.1h0M138.1 429.7h0M148 405h0M142.7 427.6h0M137.9 420.3h0M145.8 404.5h0M151 423.6h0M145.4 430.9h0M159.5 427.5h0M143.8 423.6h0M159.4 420.1h0M163.9 416.8h0M129.8 435h0M135.5 429.2h0M134.4 420.7h0M147.2 430h0M133.7 434.3h0M150.4 426.4h0M128.6 420.8h0M144.6 431h0M151.1 413h0M129.9 434.5h0M165.9 404.8h0M159.7 425.3h0M143.3 421.4h0M129.1 427.4h0M156.6 412.2h0M166.9 428.5h0M150.1 420.5h0M159.3 407.6h0M136.5 417.9h0M133.6 428.9h0M144.6 429.6h0M129.8 425.4h0M145.1 429.2h0" stroke="#e41c24" stroke-width="1.2" stroke-linecap="round" fill="none" opacity="0.92"/>
<path d="M144.6 364.4h0M152.4 374.6h0M167.2 371.4h0M173.1 372.5h0M161.9 385.6h0M169.3 388.8h0M163 404h0M165 410h0M158 415h0M172 407h0M150 409h0M146 405h0" stroke="#e0242c" stroke-width="1.2" stroke-linecap="round" fill="none" opacity="0.85"/>
<path d="M36.4 358.5h0M94.6 382.4h0M173.6 340.1h0" stroke="#9a9a9a" stroke-width="1.2" stroke-linecap="round" fill="none"/>
<path d="M61.7 403.8h0M62.4 410.9h0M69.6 413.6h0M85.2 408.4h0M66.1 419.4h0M74 420.5h0M79 424h0M88 421h0M92 414h0M83 415h0M71 411h0" stroke="#2a3f9e" stroke-width="1.1" stroke-linecap="round" fill="none" opacity="0.85"/>
<text x="47.4" y="362.5" font-size="5.45" text-anchor="middle" fill="#1a1a1a" stroke="#1a1a1a" stroke-width="0.12" font-style="italic">Zfp36</text>
<text x="57.2" y="401.4" font-size="5.45" text-anchor="middle" fill="#1a1a1a" stroke="#1a1a1a" stroke-width="0.12" font-style="italic">Jun</text>
<text x="53.4" y="412.9" font-size="5.45" text-anchor="middle" fill="#1a1a1a" stroke="#1a1a1a" stroke-width="0.12" font-style="italic">Ccl4</text>
<text x="73.8" y="409.7" font-size="5.45" text-anchor="middle" fill="#1a1a1a" stroke="#1a1a1a" stroke-width="0.12" font-style="italic">Dusp2</text>
<text x="91.5" y="413" font-size="5.45" text-anchor="middle" fill="#1a1a1a" stroke="#1a1a1a" stroke-width="0.12" font-style="italic">Myc</text>
<text x="57.2" y="421.8" font-size="5.45" text-anchor="middle" fill="#1a1a1a" stroke="#1a1a1a" stroke-width="0.12" font-style="italic">Ccl3</text>
<text x="76.9" y="419" font-size="5.45" text-anchor="middle" fill="#1a1a1a" stroke="#1a1a1a" stroke-width="0.12" font-style="italic">Car2</text>
<text x="97" y="420.2" font-size="5.45" text-anchor="middle" fill="#1a1a1a" stroke="#1a1a1a" stroke-width="0.12" font-style="italic">Klre1</text>
<text x="65.5" y="430.1" font-size="5.45" text-anchor="middle" fill="#1a1a1a" stroke="#1a1a1a" stroke-width="0.12" font-style="italic">Atf3</text>
<text x="82.1" y="430.1" font-size="5.45" text-anchor="middle" fill="#1a1a1a" stroke="#1a1a1a" stroke-width="0.12" font-style="italic">Klrc1</text>
<text x="76.5" y="438.8" font-size="5.45" text-anchor="middle" fill="#1a1a1a" stroke="#1a1a1a" stroke-width="0.12" font-style="italic">Klrc2</text>
<text x="93.6" y="444.7" font-size="5.45" text-anchor="middle" fill="#1a1a1a" stroke="#1a1a1a" stroke-width="0.12" font-style="italic">S1pr5</text>
<text x="161.5" y="341.5" font-size="5.45" text-anchor="middle" fill="#1a1a1a" stroke="#1a1a1a" stroke-width="0.12" font-style="italic">Ifitm1</text>
<text x="161.9" y="378" font-size="5.45" text-anchor="middle" fill="#1a1a1a" stroke="#1a1a1a" stroke-width="0.12" font-style="italic">Irf8</text>
<text x="169.3" y="402.4" font-size="5.45" text-anchor="middle" fill="#1a1a1a" stroke="#1a1a1a" stroke-width="0.12" font-style="italic">Litaf</text>
<text x="140.1" y="403.4" font-size="5.45" text-anchor="middle" fill="#1a1a1a" stroke="#1a1a1a" stroke-width="0.12" font-style="italic">Ifngr1</text>
<text x="127.7" y="413.4" font-size="5.45" text-anchor="middle" fill="#1a1a1a" stroke="#1a1a1a" stroke-width="0.12" font-style="italic">Nfil3</text>
<text x="147.5" y="413.4" font-size="5.45" text-anchor="middle" fill="#1a1a1a" stroke="#1a1a1a" stroke-width="0.12" font-style="italic">Tubb4b</text>
<text x="168.3" y="413.4" font-size="5.45" text-anchor="middle" fill="#1a1a1a" stroke="#1a1a1a" stroke-width="0.12" font-style="italic">Dgat1</text>
<text x="114.3" y="421.4" font-size="5.45" text-anchor="middle" fill="#1a1a1a" stroke="#1a1a1a" stroke-width="0.12" font-style="italic">Runx3</text>
<text x="140.1" y="421.4" font-size="5.45" text-anchor="middle" fill="#1a1a1a" stroke="#1a1a1a" stroke-width="0.12" font-style="italic">Serpinb9</text>
<text x="164" y="421.9" font-size="5.45" text-anchor="middle" fill="#1a1a1a" stroke="#1a1a1a" stroke-width="0.12" font-style="italic">Orai1</text>
<text x="127.7" y="430.3" font-size="5.45" text-anchor="middle" fill="#1a1a1a" stroke="#1a1a1a" stroke-width="0.12" font-style="italic">Gzmb</text>
<text x="144" y="430.3" font-size="5.45" text-anchor="middle" fill="#1a1a1a" stroke="#1a1a1a" stroke-width="0.12" font-style="italic">Ifi47</text>
<text x="163" y="435.8" font-size="5.45" text-anchor="middle" fill="#1a1a1a" stroke="#1a1a1a" stroke-width="0.12" font-style="italic">Malt1</text>
<text x="141.8" y="444.3" font-size="5.45" text-anchor="middle" fill="#1a1a1a" stroke="#1a1a1a" stroke-width="0.12" font-style="italic">Ccr5</text>
<text x="162" y="444.3" font-size="5.45" text-anchor="middle" fill="#1a1a1a" stroke="#1a1a1a" stroke-width="0.12" font-style="italic">Tubb2a</text>
<text x="121.3" y="444.3" font-size="5.45" text-anchor="middle" fill="#1a1a1a" stroke="#1a1a1a" stroke-width="0.12" font-style="italic">Txnip</text>
<text x="113.3" y="437.9" font-size="5.45" text-anchor="middle" fill="#1a1a1a" stroke="#1a1a1a" stroke-width="0.12" font-style="italic">Prf1</text>
<text x="107" y="430.6" font-size="5.45" text-anchor="middle" fill="#1a1a1a" stroke="#1a1a1a" stroke-width="0.12" font-style="italic">Rpl23</text>
<path d="M84 437L103 436" stroke="#999" stroke-width="0.3" fill="none"/>
<path d="M131 440L138 437" stroke="#999" stroke-width="0.3" fill="none"/>
<path d="M152 436L143 437.5" stroke="#999" stroke-width="0.3" fill="none"/>
<path d="M126 441.5L130 438" stroke="#999" stroke-width="0.3" fill="none"/>
</g>
<g>
<text x="207.3" y="335.7" font-size="10.2" text-anchor="start" fill="#000" stroke="#000" stroke-width="0.12" font-weight="bold">K</text>
<rect x="229.5" y="351.3" width="80.5" height="76.2" fill="none" stroke="#555" stroke-width="0.65"/>
<path d="M228 360L229.5 360" stroke="#222" stroke-width="0.5" fill="none"/>
<text x="227.3" y="362.3" font-size="6.3" text-anchor="end" fill="#161616" stroke="#161616" stroke-width="0.12">4</text>
<path d="M301.6 427.5L301.6 429" stroke="#222" stroke-width="0.5" fill="none"/>
<text x="301.6" y="436" font-size="6.3" text-anchor="middle" fill="#161616" stroke="#161616" stroke-width="0.12">4</text>
<path d="M228 375L229.5 375" stroke="#222" stroke-width="0.5" fill="none"/>
<text x="227.3" y="377.3" font-size="6.3" text-anchor="end" fill="#161616" stroke="#161616" stroke-width="0.12">2</text>
<path d="M286.9 427.5L286.9 429" stroke="#222" stroke-width="0.5" fill="none"/>
<text x="286.9" y="436" font-size="6.3" text-anchor="middle" fill="#161616" stroke="#161616" stroke-width="0.12">2</text>
<path d="M228 390L229.5 390" stroke="#222" stroke-width="0.5" fill="none"/>
<text x="227.3" y="392.3" font-size="6.3" text-anchor="end" fill="#161616" stroke="#161616" stroke-width="0.12">0</text>
<path d="M272.2 427.5L272.2 429" stroke="#222" stroke-width="0.5" fill="none"/>
<text x="272.2" y="436" font-size="6.3" text-anchor="middle" fill="#161616" stroke="#161616" stroke-width="0.12">0</text>
<path d="M228 405L229.5 405" stroke="#222" stroke-width="0.5" fill="none"/>
<text x="227.3" y="407.3" font-size="6.3" text-anchor="end" fill="#161616" stroke="#161616" stroke-width="0.12">−2</text>
<path d="M257.5 427.5L257.5 429" stroke="#222" stroke-width="0.5" fill="none"/>
<text x="257.5" y="436" font-size="6.3" text-anchor="middle" fill="#161616" stroke="#161616" stroke-width="0.12">−2</text>
<path d="M228 420L229.5 420" stroke="#222" stroke-width="0.5" fill="none"/>
<text x="227.3" y="422.3" font-size="6.3" text-anchor="end" fill="#161616" stroke="#161616" stroke-width="0.12">−4</text>
<path d="M242.8 427.5L242.8 429" stroke="#222" stroke-width="0.5" fill="none"/>
<text x="242.8" y="436" font-size="6.3" text-anchor="middle" fill="#161616" stroke="#161616" stroke-width="0.12">−4</text>
<text x="268.8" y="445.1" font-size="7.0" text-anchor="middle" fill="#161616" stroke="#161616" stroke-width="0.12">UMAP_1</text>
<text x="213.9" y="392" font-size="7.0" text-anchor="middle" fill="#161616" stroke="#161616" stroke-width="0.12" transform="rotate(-90 213.9 389.5)">UMAP_2</text>
<path d="M253.4 368.8h0M237.7 372.6h0M249.8 374.3h0M235.2 378.6h0M261.1 388.2h0M255.6 394.1h0M247.1 393.4h0M266.9 383.9h0M255.4 404.9h0M260.3 401h0M246.6 382.8h0M258.1 385.4h0M253.2 382.1h0M261.8 395.1h0M259.4 391h0M251.3 365.3h0M237.3 378.2h0M252.8 394.4h0M265.5 374.8h0M247.6 372.9h0M244.5 383h0M252.9 381.3h0M240.8 372.9h0M241.6 395.9h0M249.1 389.2h0M252.3 382.6h0M263.5 387.8h0M241.1 368.4h0M258.5 384.8h0M239.1 368.1h0M255.2 375.7h0M235.9 384.6h0M252.2 366.8h0M265.4 397.2h0M242.2 366.8h0M267.4 387.1h0M242.8 387.6h0M244.7 398.7h0M253.3 403h0M241.3 386.8h0M252 398.6h0M266.4 380.7h0M260.8 403.5h0M255.1 404.9h0M243.9 378.6h0M262.7 394.8h0M262.9 402h0M262.3 393.5h0M268.6 391.6h0M244.4 399.8h0M241.5 395.3h0M253.8 380.2h0M261.1 383.5h0M260.9 376.1h0M256.6 384.2h0M260.8 383.8h0M237.3 385.1h0M263.6 379.1h0M256.5 365.1h0M258.6 393h0M248.1 369.2h0M249.6 396.3h0M257.1 402.3h0M256.9 370.8h0M263.9 371.8h0M270.7 383.8h0M249.5 369.8h0M261.5 392.7h0M262.5 396.9h0M260.4 403.6h0M247.4 403h0M243.5 379.9h0M244.3 392.6h0M245 379.3h0M254.7 387.5h0M245 381.4h0M242.5 372.3h0M251.3 368.5h0M271.5 380h0M265.2 404h0M260.5 375.9h0M268.4 378.4h0M255.4 375.6h0M265.5 378.1h0M236.3 383h0M242.3 396.1h0M244.8 375.9h0M243.5 374.3h0M265.9 376h0M262.6 393.4h0M254.3 393.2h0M239.6 383.4h0M259.4 406.2h0M247.4 397.7h0M257.1 389.1h0M236 373.2h0M234.6 385.3h0M246.3 372.2h0M247.3 385.9h0M262.6 389.1h0M259 389.1h0M247.5 376.4h0M256.1 395.6h0M255.2 399.4h0M239.4 394.1h0M267.7 377h0M241.9 395.9h0M248.7 377.9h0M264.5 383h0M262.7 372.7h0M267.4 394.6h0M253.6 398.7h0M244.8 394.7h0M258.3 400.5h0M249.4 382.8h0M234.9 372.9h0M254 386.8h0M262.7 376.1h0M236 371.5h0M250.5 370.8h0M257 404h0M256.6 392.7h0M259 404.9h0M268.3 379.3h0M267.3 374.1h0M254.2 391h0M241.3 375.8h0M267.5 388.4h0M255.4 369.5h0M239.1 388.7h0M258.9 371.4h0M266.1 398.3h0M254.1 390.3h0M258.5 392.3h0M240.1 376.8h0M262.1 374.7h0M256.9 402.4h0M250.6 381.2h0M243.1 384.4h0M249.7 390.6h0M252.7 387.7h0M273.3 379.6h0M254.1 372h0M232.6 386.1h0M241.4 385.2h0M266.8 393.8h0M250.8 393.4h0M245.8 390.7h0M250.2 364.3h0M250.2 388.7h0M251.4 405.2h0M258.6 377.9h0M254.1 368.4h0M257.7 369h0M257.1 399.8h0M250.3 365.7h0M241.8 387.4h0M257.5 405h0M254.3 406.9h0M235 378.7h0M265.2 387.6h0M267.2 396.4h0M246.7 379.9h0M249.8 400.4h0M247.8 384.8h0M249.2 398.5h0M246 363.7h0M262.3 401h0M257.6 375.3h0M247.9 388.4h0M262.9 399.9h0M243 393.4h0M244.8 391.5h0M232 380.2h0M269.3 379.8h0M243.5 387.3h0M244.3 373.6h0M234.7 378.7h0M260.2 401.2h0M252 373.3h0M265 371.6h0M248 390.8h0M259.5 384.4h0M259.3 371.9h0M252.4 376.8h0M240.3 381.1h0M260.7 375.4h0M265.7 383.5h0M245.2 368.8h0M256.7 388.2h0M260.6 401.5h0M251.1 405.1h0M254.9 389.8h0M263.7 379h0M237.8 393.4h0M258.5 386.7h0M245.1 380.2h0M236 374.2h0M245.7 394h0M250 391h0M259.9 386.6h0M259.7 393.3h0M260.8 381.1h0M240.7 370.7h0M234.9 373.3h0M249.7 365.2h0M248.8 384.9h0M234.4 385.7h0M263.1 375.6h0M252 365.1h0M258.3 393.7h0M231.8 384.7h0M249.7 385.2h0M252.9 405.1h0M259.6 395.6h0M256.9 386.3h0M256.9 386.4h0M248.6 385.8h0M253.8 404.7h0M242.2 376.7h0M258.3 389.8h0M238.3 370.6h0M249.2 385.5h0M246.2 393.2h0M237.8 385.6h0M261.1 370.3h0M271.8 380.6h0M250 367.4h0M233.7 390.3h0M255 378.6h0M260.9 373.1h0M253.9 404.6h0M248.2 387.6h0M244.9 376.9h0M249.8 373.9h0M265 386.6h0M261.9 383.5h0M242.5 376.8h0M241 365.8h0M262.6 386.4h0M242.8 366.4h0M247.7 392.7h0M246.1 381.4h0M252.5 382.6h0M250.5 379.9h0M247.4 393.5h0M263.6 377.9h0M265 384.6h0M250.8 404.1h0M255.4 392.5h0M241.3 378.4h0M253.6 390.2h0M263 400.1h0M262.3 389.5h0M252.5 381.4h0M265.2 384.9h0M239.9 374h0M262.4 389.9h0M248.1 394.7h0M255.1 377.8h0M274.7 378.6h0M262.3 384.6h0M256.9 375.3h0M258.8 401.2h0M249.3 386.8h0M261 388.9h0M267.3 393.2h0M259.2 390.6h0M262.7 372.5h0M252 389.7h0M233.4 387h0M256.5 366.7h0M239.6 379.4h0M258.2 378.9h0M255.1 387h0M244.6 378.9h0M271 379.1h0M265.2 382.7h0M258.5 401.2h0M246.1 369.4h0M250.9 395.3h0M239 381.3h0M251.4 401.8h0M242.4 386.9h0M240.7 379.5h0M264 385.6h0M248.6 380.8h0M241.7 370.1h0M237.5 389.9h0M252.9 367.9h0M261.4 399h0M247.7 367.9h0M247.9 380.5h0M254.1 383.3h0M266.6 396.6h0M261.2 403.7h0M236.8 372.2h0M253 367.2h0M247.1 376.7h0M265.7 386.5h0M265.1 404.4h0M266.4 392.9h0M253.9 397.2h0M249.4 398.7h0M256.2 380.7h0M268.5 385.6h0M243.2 386.2h0M261.5 390.9h0M257 397.1h0M242.9 399.7h0M246.8 373.4h0M264.4 387h0M260 381.7h0M248.3 402.9h0M260 374.8h0M258.9 381.7h0M260.9 375.4h0M261.8 383.4h0M255.3 371.2h0M260.7 375.2h0M260.9 392.1h0M257.1 367.8h0M261.1 390.1h0M253 375.1h0M257.1 394.9h0M247.6 394.2h0M264.1 405.8h0M261.5 402.4h0M234.3 387.6h0M238.8 372.7h0M242.4 367.2h0M256.3 402.3h0M266.3 389.2h0M263.3 398.9h0M233.7 383.3h0M244.3 384.9h0M264.4 389h0M248 395.6h0M256.7 402.1h0M239.2 383.1h0M258.5 378h0M256.6 364.8h0M236.4 384.6h0M261 394.1h0M258.3 407.1h0M267 388.5h0M265.4 388.9h0M249 373.6h0M257.9 367.6h0M264.5 377.6h0M246.4 398.2h0M259.3 383.7h0M251 387.7h0M248.9 373.2h0M248.9 390.1h0M246 379.5h0M268.3 393.4h0M240.4 377.5h0M235.6 386.6h0M251.7 395.2h0M249.5 389.7h0M241.3 372.2h0M232.5 379.9h0M272.3 380.9h0M238.5 380.8h0M246.7 367.1h0M236.6 393.5h0M254 372.9h0M232.1 382.4h0M255.1 401.5h0M258.9 406.4h0M260.5 400.4h0M265.9 373.8h0M239.5 377.2h0M252.4 369.9h0M239.9 378.7h0M260.7 392.3h0M248.3 397h0M256.6 382.2h0M239.1 368.2h0M262.8 394.9h0M252.9 382.5h0M239.4 386.2h0M263.3 383.3h0M258.8 382.7h0M239.5 395.1h0M265.4 385h0M263.1 399.9h0M264.5 402.6h0M254.1 380.2h0M235.7 381.3h0M254.1 395.1h0M245 382.8h0M244.5 384.9h0M242.9 375.8h0M262.1 404.3h0M255.1 370.4h0M266.1 391.4h0M253.1 388.2h0M260.9 403.7h0M246.8 388.8h0M242.8 375.3h0M245.7 377.3h0M239.1 377.2h0M263.3 389.9h0M232.3 380.3h0M262.3 391.3h0M243.3 373.3h0M251.7 399.2h0M241.5 384.7h0M248.2 391.1h0M252.5 383.2h0M261.6 379.8h0M250.6 381.4h0M249.8 403h0M243.2 390h0M266.7 395.3h0M246.7 391.1h0M268.6 386.5h0M239 371.8h0M246.2 364.3h0M260.7 370.9h0M249.2 368.7h0M255.5 383.4h0M268.1 382.5h0M257.8 387.1h0M239.9 385.6h0M267.2 391h0M264.4 393.3h0M244.4 395.2h0M246.6 363.4h0M248.6 388.6h0M255.7 400.8h0M244.9 392.3h0M248 378.6h0M254.9 367.1h0M254.7 387.9h0M240.6 373.5h0M234.7 387.3h0M239.1 371.2h0M240.3 392.6h0M247.9 374.5h0M238.9 382.2h0M242.9 367.3h0M245 397.3h0M236.3 383.6h0M266.5 390.4h0M242.9 372.3h0M265.3 386.6h0M234.4 374.6h0M263.1 395.8h0M242 370.3h0M249 373.6h0M252.6 365.1h0M250.2 378.7h0M249 369.7h0M266.5 376.2h0M255.4 403.8h0M261.4 406.3h0M236.2 391.7h0M231.8 380.2h0M236.7 375.7h0M238.7 383.4h0M266.5 390.8h0M260.1 388.3h0M249.6 365.7h0M259.1 393.6h0M249.7 385.1h0M263.4 371.1h0M260.3 385.9h0M243.3 385.8h0M264 397h0M245.4 385.2h0M250.1 375h0M266.1 389.3h0M270 388.7h0M265.9 385.9h0M245.1 365h0M260.4 374.7h0M267.2 380.4h0M261.8 381.9h0M248.4 390.3h0M242.6 398.4h0M254.1 403.3h0M261.8 370.6h0M262.3 397.9h0M256.5 406.6h0M244 386.8h0M252.2 379.5h0M264.4 389.3h0M248.7 396.9h0M243.4 390.8h0M233.5 384.4h0M243.4 380.8h0M250.9 384.6h0M266.2 383.3h0M247.5 363.4h0M241.9 373.4h0M260 368.4h0M250.9 373h0M250.6 378.1h0M250.8 376.3h0M257.3 400.4h0M253 387.2h0M248.7 391.3h0M243.6 378.9h0M256.3 381.7h0M260.7 392h0M259.5 407.5h0M260.5 400.3h0M259.6 394.6h0M242.5 383.7h0M266.2 393.6h0M237.8 388.4h0M262.9 402h0M263 389.7h0M256.9 387.4h0M252.9 402.4h0M260.1 386.6h0M243.6 366.4h0M245.6 385h0M250.6 398.7h0M243.1 374.6h0M259 380.1h0M259 368.4h0M238.1 375.3h0M262.4 395.3h0M262.1 377.2h0M253.2 405.6h0M252.6 377.4h0M234.4 378.7h0M251.6 400.4h0M243.1 379.9h0M242.4 380.2h0M247.7 366h0M246.6 393.3h0M257.1 367.3h0M269.9 376.4h0M263.3 388.7h0M253.5 393.1h0M261.3 392.3h0M255.4 368.6h0M250.9 386.6h0M238.6 369.8h0M235.6 392.3h0M248.1 366.2h0M258.4 387.6h0M259 405.9h0M261.2 383.2h0M260.4 374.2h0M254 392h0M255 372.6h0M242.1 389.6h0M255.5 386.9h0M240.6 378.2h0M248 376h0M252.9 395.2h0M252.7 370.8h0M248 385.5h0M260.3 379.4h0M249.9 401.1h0M237.2 390.8h0M255.8 371.7h0M244.7 390.2h0M261.9 391.1h0M241.3 380.3h0M245.8 393.1h0M258.8 376.9h0M273.1 381.2h0M264.2 373.3h0M239.4 367.2h0M235.5 378.6h0M242.8 389.6h0M250.4 386h0M265.5 399.7h0M253.7 391.3h0M257.8 397.8h0M246.7 398.9h0M273.6 378.7h0M262 392.3h0M260.8 385.8h0M254.5 402h0M237.4 373.4h0M257.4 399.5h0M266.4 378.6h0M261.8 376.5h0M265.6 397.7h0M237.3 388.1h0M249.5 367.2h0M247.3 368.6h0M247.4 373.5h0M246.3 388.6h0M241.6 374.3h0M238.1 389.9h0M237.6 374.2h0M251.9 387.6h0M240.4 395.2h0M246.9 372.5h0M243.7 389.5h0M251.5 380.3h0M255.4 390.1h0M235.6 371.9h0M242.2 370.4h0M249.2 400.4h0M245 388.9h0M253.6 384.4h0M239.8 376.1h0M244.5 379.1h0M234.9 386.2h0M267.2 377.3h0M254.4 384.7h0M237.6 383.3h0M259.8 398.1h0M251.3 403.3h0M236.3 383.3h0M255.7 404.7h0M249.7 389.9h0M238.6 389.3h0M261.4 373.7h0M266.3 380.4h0M239.2 382.3h0M238.3 392.9h0M248.5 388.1h0M245.2 396h0M247.6 387.4h0M235.6 377.1h0M251.2 385.7h0M259.9 378.1h0M255.1 396.5h0M246.6 377.3h0M250.5 384.8h0M246.9 402.4h0M245.8 364.7h0M251.5 381.1h0M256.6 381.7h0M265.3 387.6h0M249.5 378.4h0M267.2 379.5h0M250 366.7h0M260.9 374.9h0M242.9 399.3h0M248.2 392.5h0M249.6 381.1h0M246.6 376.1h0M252.5 403.8h0M239.6 394.1h0M270.1 387.8h0M257.6 372h0M253.7 383.7h0M236.6 374.2h0M252.7 394.9h0M237 373.4h0M256.8 384.9h0M243 393.3h0M258.7 405.9h0M252.9 388.9h0M254.8 386h0M257.8 382.6h0M269.8 383h0M239.6 389.4h0M266.4 390.9h0M245.1 384.9h0M246.7 401.1h0M243.1 389.2h0M255.5 372.8h0M235.2 373.2h0M257.7 369.9h0M251.4 399.2h0M233.5 381.4h0M238.8 379h0M258 386.3h0M261.1 401.3h0M263.2 374.3h0M269.2 380.9h0M244.7 369.7h0M249.2 368.6h0M244.1 381.6h0M264.7 380.3h0M234.2 378.2h0M246.5 372.8h0M264.7 374.6h0M243.5 372.8h0M259.8 392.1h0M234.9 380h0M252.7 401.1h0M250.2 378.4h0M242.8 381.2h0M260.2 377.9h0M246.5 382.5h0M262.5 380.8h0M261 374.6h0M260.3 371.4h0M252.1 368.8h0M270.5 383.1h0M247.5 388.2h0M261.8 400.8h0M238.8 369.3h0M240.4 370.7h0M252.9 403.5h0M236.7 387.4h0M268 390.8h0M255.2 389.6h0M260.1 390.8h0M242.5 375.8h0M257.9 395.4h0M272.3 382.4h0M268 376.2h0M266.7 388.7h0M258.9 405.3h0M234.7 384.8h0M246 380.3h0M235 375.4h0M243.5 371.7h0M245 381.6h0M259.4 392.3h0M263.1 370.4h0M252.2 385.1h0M264.7 380.8h0M244.5 391.4h0M253.6 370.4h0M254.2 403.4h0M250.5 387.1h0M253.5 367.1h0M260.4 404.1h0M259.6 402.4h0M262.2 390.5h0M246.9 391h0M262.4 371.4h0M250.8 400.5h0M261.1 399.3h0M238.1 369.8h0M246.3 364.6h0M255.7 396.8h0M242.1 392.7h0M251.3 380.2h0M258.7 393h0M249.7 385.7h0M248.6 395.7h0M241.7 384.9h0M250.3 400.5h0M255.2 399.9h0M249.5 388.4h0M241.1 381.7h0M264.5 372.5h0M249.6 381.3h0M237.4 371.8h0M263.3 392.6h0M261.1 370.1h0M244.7 366.9h0M271 383.4h0M251.4 376.4h0M250.8 378.8h0M253.5 388.7h0M260.2 380.9h0M263.4 371.5h0M235.8 378.1h0M250.6 371.6h0M235.3 374.9h0M247.9 374.8h0M253.7 398.2h0M242.5 388.2h0M253.8 394.3h0M247.4 373.1h0M261.4 378.7h0M243.2 378.8h0M266.4 395.6h0M242.3 386.4h0M238.6 371.9h0M242.8 372.1h0M255.5 380.4h0M263.3 389.9h0M250 384.2h0M260.3 389.6h0M245.1 400.6h0M234.6 374.7h0M235.9 385.8h0M251.4 381.3h0M241.4 370.8h0M236.6 380.3h0M251.3 374.8h0M269.2 378.1h0M265.3 383.4h0M246.6 395h0M259.8 385.9h0M253.6 391.2h0M261.3 400.7h0M253.5 387.1h0M243.3 395.8h0M246.5 396.1h0M258.1 371.7h0M244.4 392.4h0M263.1 372.6h0M261.4 373.9h0M254.3 383.6h0M253.5 365h0M258.2 398.2h0M249.1 365.1h0M250.1 398.3h0M252.6 391.6h0M250.2 389.8h0M247.5 367.5h0M253.6 377.7h0M252 384.4h0M249.1 371.7h0M254.8 380.6h0M236.6 387.7h0M251.9 369.3h0M246.8 390.7h0M263.5 393.4h0M250.5 381.8h0M242 390h0M259.7 384.9h0M261.6 401.5h0M253.3 378.1h0M252.3 367.2h0M248.9 386.9h0M246.9 378.3h0M254.3 373.5h0M240 386.7h0M266 401.5h0M257 399.4h0M244.3 372h0M235.5 392h0M251.4 367.6h0M262.1 376.7h0M264 384.5h0M259.8 405.2h0M259.7 402.3h0M264.6 384.3h0M235.4 386.6h0M257.2 366.6h0M258.5 377.7h0M267.1 384.7h0M251.6 396.4h0M255.2 389.2h0M265.4 405.6h0M238.8 373.9h0M243.1 383.8h0M267.2 380.7h0M244 397.6h0M245 374.4h0M251.6 388.6h0M251.4 374.1h0M249.9 369h0M260 387.3h0M263.3 403.1h0M262.1 392.8h0M254.3 379.9h0M263.8 404.5h0M236 378.4h0M262.7 402.3h0M262.8 375.6h0M245.2 385.1h0M261.2 388.4h0M253.4 374.6h0M257.3 384.3h0M239.5 384.4h0M253.4 374.4h0M254.2 367.9h0M262.5 382.1h0M246.3 389h0M250.1 392.9h0M246.5 368.4h0M237.9 387.2h0M248.9 367.1h0M245.7 399.8h0M259.4 401.4h0M233.7 382.5h0M249.5 399.8h0M270 377.6h0M259.2 372.1h0M265.7 398.9h0M264.6 400.1h0M262.6 401.9h0M249.2 397.5h0M262.8 377.9h0M253.9 398.3h0M250.2 370.8h0M239.6 388.1h0M248.1 372.2h0M246.6 401.8h0M272.1 383.2h0M260.1 405.8h0M254.7 384.1h0M248 377.6h0M248.4 392.9h0M246.6 396.6h0M263 404.4h0M259.5 370.8h0M255.9 389.5h0M264.4 382.7h0M247 389.4h0M253.8 378.3h0M243.3 366.4h0M237.7 369.7h0M256.9 386.5h0M260.2 367.1h0M238.2 373.8h0M243.6 388.5h0M254.3 398.9h0M261.1 377h0M254.1 401.6h0M257.4 376.6h0M243.9 399.1h0M248.8 365.6h0M243.3 385h0M240.6 381.6h0M250.5 384.1h0M231.5 383.1h0M252.9 390.1h0M243.3 378.4h0M250.5 404.8h0M254.9 371.6h0M257 393.3h0M244.1 386.9h0M264.2 404.6h0M241.3 373.8h0M266.2 384.9h0M240.6 388.8h0M262.8 373.1h0M266.9 374.4h0M238.2 392.4h0M254.7 375.7h0M251.5 369.1h0M253 399h0M258.8 375.7h0M258.1 372.9h0M253.9 372h0M252.4 390.3h0M245.2 368.2h0M240.9 371.7h0M239.7 378.9h0M261.4 372.3h0M267.5 395h0M255.5 405h0M251.7 378.6h0M263 372h0M257 407.1h0M247.1 390.4h0M245.7 374.4h0M268.8 392h0M243.4 375.8h0M239.1 375.5h0M246.7 398.7h0M263 402.9h0M259.7 370.1h0M264.5 402.6h0M263.6 379.6h0M264.5 386.6h0M242.9 381.8h0M269.2 379h0M267.3 389.1h0M240.8 397.3h0M263.7 386.3h0M261.7 398.2h0M252 368.4h0M247 383.6h0M243.9 394.9h0M252.7 386.4h0M272.7 378.3h0M244 365.3h0M264.4 389.2h0M249.2 396.6h0M265.1 400.5h0M248.2 369.1h0M240.3 391h0M256.7 400h0M245.1 374.7h0M267.5 375.4h0M239.8 371.5h0M237 370.7h0M260.5 402.7h0M252.3 381.6h0M242 382.7h0M254.9 377h0M236.4 388.7h0M255.1 385.4h0M262.9 370.8h0M253.1 398.3h0M256 379.8h0M268.1 391.6h0M240.6 374.6h0M257.1 378.9h0M256.5 398.7h0M253.1 393.2h0M235.6 381.3h0M256.7 393.4h0M266.7 375.4h0M258 375.9h0M256.2 371.4h0M243.7 386h0M251.4 381.1h0M263 386h0M253.7 390.3h0M232.3 381.7h0M258.6 400.5h0M237.1 391h0M241.8 367.9h0M238.7 388h0M266.1 384.7h0M234.7 376.4h0M265.2 392.2h0M270.6 385.2h0M265.7 376h0M247.9 400.4h0M264.1 392h0M262.1 400.3h0M241.8 396.7h0M241.1 366.3h0M235.3 386.9h0M233.1 381h0M263.8 391.7h0M258.8 395.8h0M266.2 387.4h0M242.9 366.4h0M259.2 385.7h0M235.9 385.9h0M254.5 399.6h0M246.7 370.5h0M253.3 372.6h0M235 389.1h0M236.1 371h0M254.5 398.8h0M261.5 386.3h0M234.4 374.9h0M253.6 401.8h0M256.6 368.4h0M249.4 373.7h0M236 388.7h0M254.3 372.5h0M250.4 376h0M261.7 402.7h0M247.7 398.9h0M266.2 383.1h0M240.8 391.9h0M236.9 374.2h0M245.5 389.2h0M266 384.9h0M242.2 393.6h0M270.8 380.5h0M254.6 387.6h0M250.9 391.3h0M259.1 373.6h0M246.4 372.8h0M247.4 388.3h0M267.1 381.3h0M263.2 370.9h0M263.2 375h0M265.3 394.1h0M250 369.9h0M258.6 392.2h0M256 387.1h0M246.7 373.3h0M242.7 392.8h0M239.6 388h0M245.1 397.3h0M261.6 370.8h0M259.1 404.6h0M251.7 401.9h0M260.4 392.2h0M262.3 374.6h0M267 394.7h0M254.6 371.1h0M241.3 376.2h0M263.2 402.7h0M236.9 380.4h0M248.1 389.9h0M262.9 381.6h0M244 385.2h0M258.3 380.5h0M242.5 396.1h0M239.1 371.5h0M239.6 387.8h0M261.7 399.6h0M261.5 378.2h0M253.8 370h0M250.2 379.6h0M261.3 400.3h0M253.3 376.8h0M263.9 377.8h0M245.5 379.7h0M240.3 381.7h0M263.8 393h0M256.5 404.9h0M257.8 376h0M249.8 387.7h0M252.9 398.4h0M241.8 379.2h0M261.6 385.9h0M240.2 380.1h0M256.9 389.3h0M238.4 374.9h0M250.8 395.6h0M260.1 403.7h0M250.6 373.4h0M251.9 382.5h0M251.7 389.9h0M236.7 369.7h0M253.2 370h0M263.4 390.6h0" stroke="#19ad9c" stroke-width="1.1" stroke-linecap="round" fill="none" opacity="0.9"/>
<path d="M292.1 401.2h0M279.4 399.7h0M294.1 403.8h0M295.8 400.6h0M281.8 396.9h0M298.7 406.9h0M293.6 395h0M301.3 384.4h0M273 394.1h0M275.6 394.3h0M270.9 389.9h0M281.5 404.8h0M294.1 410h0M297.9 372.9h0M295.7 396.5h0M290.7 413.3h0M274.1 380h0M280.9 415.9h0M303.2 401.1h0M281.1 413.6h0M292.4 393.2h0M275.2 383.4h0M279.8 382h0M297 376h0M286.6 410.9h0M275.4 409.2h0M288.2 406.1h0M272.3 397h0M291.8 412.3h0M287.1 378.6h0M286.2 410.3h0M298.9 398.7h0M289.6 416.5h0M271.9 393.2h0M287.6 372.8h0M282.6 392.6h0M300.5 378.4h0M277.8 384.6h0M281.5 400.8h0M280.2 405.7h0M280.3 394.8h0M288.1 396.4h0M294.6 411.7h0M300.6 383.7h0M283.1 393h0M295.6 381.7h0M295.9 378.1h0M290.9 413.7h0M300.8 406.8h0M281.3 409.1h0M292.6 390.5h0M272.8 382.8h0M305 403.6h0M305.4 378.7h0M296.6 378.2h0M275.9 398.4h0M293.9 372.1h0M276.3 400.1h0M281.7 400.7h0M284.1 415.2h0M303.9 378.7h0M291.4 404.4h0M289.2 408.7h0M306 394.5h0M281 414.7h0M275.2 386.6h0M291.5 409.4h0M293.2 410.8h0M293.8 407.1h0M294.6 375.3h0M278.7 405.3h0M297.7 399.2h0M293.3 402.5h0M288.6 402.9h0M301.2 392.1h0M306.3 392.9h0M290.9 374.5h0M304.3 382.2h0M283.2 396.1h0M303.6 399.2h0M289.9 382.3h0M279.5 404.5h0M294.7 376h0M281.4 382.9h0M292.1 393.7h0M299.9 380h0M285.7 413.5h0M288.6 394h0M283.1 406.4h0M275.6 381.8h0M280 414h0M302.2 392.5h0M275 400.3h0M297.7 385.4h0M287.9 415.8h0M297.8 390.9h0M272.7 407.1h0M302.5 378.5h0M296.8 407.8h0M270.1 400.9h0M288.6 377h0M275.4 380h0M278.6 413.7h0M286.3 395.7h0M303.5 403.3h0M279.3 407.6h0M301.4 396.2h0M285.7 379.9h0M271.7 404.8h0M302 390.6h0M272.2 401.9h0M296 403.6h0M274.6 411.2h0M288 389.6h0M277.7 407.7h0M303.5 387.9h0M304.7 387.9h0M276.1 398.3h0M296.5 396.7h0M298.6 412h0M276.6 382.5h0M277.6 385.4h0M287.4 403.5h0M285.1 388.1h0M283.6 382h0M275.4 402.6h0M274.2 383.5h0M300.8 375.4h0M297.6 386.7h0M269.5 408.8h0M283.7 393.4h0M286.6 378.8h0M289.6 381.7h0M273.5 404.1h0M302.4 394h0M298.2 381.8h0M296.2 399.7h0M295.2 411.2h0M284 391.5h0M268.4 406.3h0M277.2 403.3h0M269.6 389.3h0M282.9 400.9h0M294.4 395.2h0M268.3 399.5h0M292.1 391.9h0M286.9 374.1h0M287 405.5h0M296.9 386.8h0M304.2 397.4h0M279.8 382h0M295 372.3h0M299 382.7h0M297.7 405.1h0M300.2 385.3h0M303.9 385.2h0M280.4 383.5h0M282.8 393.7h0M280.9 387.4h0M305.3 394h0M289 393.6h0M297 388.3h0M291.2 391h0M290.5 399.9h0M285.7 406.2h0M301.4 404.1h0M306.1 383.7h0M274.6 397.9h0M287.4 393.8h0M288 374.3h0M307 397.2h0M271.7 393.9h0M300.5 386.4h0M302.9 376.1h0M290.9 382.2h0M282.5 412.7h0M306.2 383.7h0M290.6 407.3h0M282.6 401.8h0M284.7 386.4h0M297.4 382.9h0M290.5 402.9h0M299.7 385.4h0M285.5 381h0M295.3 387.7h0M278.7 399h0M304.5 397h0M281.4 392.2h0M267.2 400.3h0M304.3 395.1h0M301.9 393.6h0M277.2 407.7h0M304.6 382.7h0M307 393h0M268.7 402.1h0M299.4 402.2h0M275.9 380.8h0M299.4 384.3h0M285.6 394.2h0M298.7 380h0M304.5 400.8h0M299.6 390.5h0M296.4 409.6h0M298.6 403.7h0M286.3 376.7h0M285.1 395.9h0M284.2 400.8h0M286.7 404.8h0M271.4 392.4h0M273.1 400.6h0M283.2 393.3h0M304.5 388.8h0M295.6 384h0M284.9 406.8h0M299.1 395.3h0M293 382.6h0M289.4 387.6h0M305.8 382.4h0M280.3 381.4h0M278.2 411.3h0M298.5 401.8h0M292.6 393.4h0M285.9 409h0M277.3 411.2h0M300.7 393h0M292.7 413.9h0M281.8 404.5h0M295.6 393.6h0M274.7 389.3h0M280.7 402.6h0M275.3 402.2h0M292.2 394h0M303.1 376.2h0M306.2 387.3h0M289 402.6h0M296.6 386.1h0M282.2 386.3h0M301.5 386.2h0M297.8 409.1h0M296.9 385h0M277.3 389h0M301.2 392.9h0M290.7 396.3h0M268.2 400h0M282.1 416.8h0M277.7 388.9h0M295.1 405.6h0M270.3 400.8h0M297.3 411.1h0M284 401h0M302.3 404h0M299 387.4h0M292.3 409.6h0M270.3 406.1h0M294 392.7h0M301.1 399.2h0M268.7 403.1h0M276.6 400.3h0M297.1 385.9h0M306.3 401.5h0M300.9 410h0M285.6 387.5h0M277.9 387.8h0M288.2 408.7h0M269.7 390.2h0M285.8 389.1h0M302.4 377h0M288.2 384h0M291.4 391.3h0M279.8 388.1h0M275.4 398.7h0M283 390.4h0M291.1 405.3h0M291.4 381.4h0M300 393.1h0M286 381.5h0M279.1 380h0M291.4 395.9h0M274.3 391.2h0M283.6 390h0M293 390h0M297.6 374.1h0M279.5 382.9h0M276.4 395.9h0M287.5 395.3h0M266.3 403.7h0M280.9 407.1h0M272.8 405.4h0M274 388.7h0M283.6 385.9h0M287.5 391.3h0M279.8 398.7h0M292.4 394.7h0M297.8 403h0M295.7 386h0M291.9 407.2h0M282.8 382.4h0M298.2 381.2h0M305.3 385.7h0M277.4 388.1h0M282.5 398h0M291.7 403.6h0M290.7 402.3h0M296.9 399.9h0M276.6 398.4h0M275.9 413.7h0M273.3 385.6h0M292.2 384.6h0M272.1 407.3h0M278.3 399h0M289.4 410.3h0M291.9 391.2h0M272.1 392.2h0M277 379.4h0M274.6 413.2h0M302.8 394.6h0M280.4 404.5h0M267.2 397.3h0M290.9 376.4h0M299.7 408.7h0M296.5 402.9h0M307.8 394.8h0M292.4 399.9h0M297.7 406.6h0M302 399h0M303.4 405.8h0M300.2 376.1h0M279.2 384.9h0M274 410.7h0M296.8 405.6h0M285.4 411.2h0M288.8 390.9h0M295.7 399.6h0M282.2 414.1h0M292.9 387h0M273.4 411.3h0M284.8 401h0M293.8 399.8h0M304.6 387.4h0M294.9 412.3h0M272 390.6h0M274.7 389.9h0M284.3 390.3h0M284.7 381.9h0M287.2 390.1h0M290.4 410.7h0M277 405.7h0M279.5 391.2h0M293.6 403.1h0M281.7 396.5h0M305.5 402.7h0M291 380.1h0M296.8 394.7h0M276.8 410.3h0M289.6 414.5h0M287.2 413.4h0M301.7 392.5h0M302.4 388.6h0M287.9 409.8h0M300.7 392.8h0M267.9 402.2h0M279 413.1h0M302.9 406h0M302.1 406.4h0M279.8 375.1h0M287.2 410.9h0M274.3 410.8h0M272.4 400.5h0M294.7 404.5h0M277.1 399.3h0M290.1 377.8h0M281 411h0M280.1 407h0M285.7 411.3h0M298.8 406.4h0M305 401.9h0M288.1 398.2h0M272.4 411h0M305.3 398.8h0M275.5 379.4h0M273.3 409.2h0M299.1 405.7h0M273.6 397.7h0M293 377.1h0M298.6 376.4h0M286.2 382.3h0M270 397.9h0M279.6 379h0M273 407.5h0M295.3 406.5h0M300.5 407.9h0M281 411.8h0M273 406.5h0M273.5 411.4h0M300.5 395.9h0M307.2 389.7h0M278.1 400.4h0M272.4 408.6h0M294 385.5h0M300.9 400.5h0M304.3 405.5h0M283.1 411h0M290.2 374.5h0M292.1 377.9h0M292.5 387.1h0M290.4 398h0M287.7 389.3h0M276.2 395.9h0M277.9 376.7h0M293.4 374.8h0M287.5 398.7h0M301 393.5h0M292.6 382.8h0M292.2 404.7h0M298.4 393.2h0M280 393.6h0M297.7 389.1h0M289.3 411.3h0M281.9 403.1h0M293.7 399.9h0M275.2 414h0M283.2 408.1h0M275.7 392.7h0M298 398.7h0M305.2 401.2h0M276.7 406.6h0M286.8 388.2h0M293.2 410.7h0M283 383.8h0M294.1 383.1h0M278.1 414.5h0M276.2 385.2h0M272.6 402.8h0M293.7 380.4h0M295.2 387.6h0M274.7 384.2h0M267.6 402.8h0M283.7 402.3h0M300.6 373.3h0M303.5 378.8h0M270.1 400h0M281.7 388.2h0M271.5 394.4h0M304.6 398.6h0M298.9 379.7h0M272.7 403.7h0M280.4 408.4h0M272.8 385.7h0M292.1 413.8h0M292.7 383.6h0M290.3 376.4h0M300 385.2h0M275 398.4h0M292.7 374.9h0M279.2 407.4h0M300.6 374.6h0M298.3 392.7h0M279.4 415.1h0M286.3 406.8h0M287.2 381.5h0M296.3 379.7h0M280.1 378.1h0M283.7 377.3h0M284.7 400.9h0M272.9 393.7h0M302.7 391.9h0M292.7 402.8h0M294.3 404.9h0M273.5 402.2h0M307.8 397.7h0M266.8 401.1h0M274.3 390.4h0M275.2 390.7h0M297.3 410.1h0M289.5 400h0M306.3 381.5h0M301.6 386.8h0M282.3 388.2h0M301.1 395.1h0M298 385.3h0M290 394.3h0M277.3 398h0M303.5 378.8h0M287 379.8h0M287.7 392h0M274.9 383.6h0M293.1 374.1h0M292.3 383.3h0M277.6 389.2h0M290.8 372.5h0M304 379.5h0M289 380.9h0M301.8 381.3h0M283.7 404h0M284.5 384.1h0M272.1 410.1h0M289.9 391.6h0M305.4 389h0M272.4 395.1h0M270.2 403.2h0M272.1 407.9h0M269.3 405.6h0M290.2 374.4h0M303.8 385h0M270.5 396.3h0M289 383.5h0M287.2 384.6h0M281.1 387.1h0M286.8 398.1h0M279 407.7h0M297.9 388.1h0M285.2 373.1h0M278.7 404.4h0M275.9 404.2h0M275.3 399.8h0M273.5 391.7h0M305.4 389.2h0M306.9 384.9h0M294 410.7h0M284.4 372.9h0M292.4 376.5h0M296.5 387.6h0M280.8 391.3h0M270.4 404.8h0M297.7 405.9h0M274.5 384.2h0M297.1 397.3h0M296.7 388.8h0M294.7 373.4h0M300.3 395.7h0M304 386h0M296.8 397.6h0M297.2 396.5h0M278.8 409.9h0M301.9 408.5h0M297.4 391.8h0M277.2 411.2h0M281.6 393.2h0M286.8 376.1h0M288 391.5h0M295.9 376.2h0M307.5 392.8h0M272.6 410.5h0M272.2 408.7h0M279.6 414.3h0M305.5 402.8h0M297.9 395.8h0M276.9 408.8h0M273.5 390.4h0M266.8 400.8h0M270.6 410.1h0M287.3 376.4h0M277.1 408.6h0M284.4 411.3h0M285.7 392.4h0M268.8 407.3h0M301.4 396.3h0M292.1 371.6h0M286.2 404.9h0M282.9 375h0M293.5 382.2h0M279.9 398h0M286.7 411h0M285.3 416.6h0M295.3 411h0M286.9 378.6h0M275.8 395.6h0M296.6 372.8h0M275.7 390.6h0M300.7 381.8h0M274.1 398.3h0M277.8 389.7h0M278.9 397.1h0M297.9 380.8h0M296.6 386.8h0M287.9 389.8h0M294 401.4h0M282.1 374.3h0M294.4 409.2h0M292.7 379.9h0M289.7 397.3h0M277.7 404.5h0M292.3 398.2h0M274.5 402.6h0M297.9 411.4h0M283.8 395.8h0M266.7 401.6h0M277.6 400.9h0M292.1 414.2h0M297.3 407h0M267 403h0M290.2 402h0M301.4 382.1h0M287.8 405.6h0M300.6 374.7h0M270.3 410h0M305.4 400.1h0M277.4 397.6h0M283.9 392h0M296.3 375.9h0M278.8 399.2h0M277.8 411.6h0M270.4 399.4h0M273.8 398.5h0M275.9 398.1h0M302.6 406.3h0M308.1 391.5h0M302.6 394.4h0M274.9 409.2h0M295 387.1h0M285.6 374.7h0M305.8 392.3h0M281.9 381.3h0M276.9 404.6h0M302.7 390.6h0M303.8 399.7h0M267.4 404.9h0M283.6 380.3h0M283.2 393.4h0M287.9 383.4h0M305.9 385.6h0M294.9 398.5h0M295.1 381.6h0M294.8 389.8h0M285.6 411.1h0M277.9 382.2h0M295.5 402.5h0M295.9 400.8h0M277.6 406.1h0M303.7 379.3h0M275 382.8h0M280.9 397.4h0M296.7 409.5h0M282.3 376.6h0M300.5 386.4h0M299.6 386.5h0M306.7 388.2h0M288.7 393.3h0M292.3 395.2h0M304.7 382.9h0M300.4 384h0M296.9 406.3h0M287.2 393.7h0M295.1 397.2h0M274.6 390.7h0M304.6 382.6h0M282.9 374.4h0M285.3 384.6h0M299 403.1h0M285.4 411.2h0M289.3 376.2h0M293.6 397h0M284.1 407.6h0M271 389.6h0M283.4 387.2h0M285.9 374.9h0M293.6 377.5h0M296.7 387.3h0M273.5 401.8h0M274.4 402.5h0M272 412.5h0M284.6 411.1h0M280.3 387.8h0M303.9 402.2h0M268.6 394.2h0M287 395.6h0M289.3 375.5h0M287.9 378.1h0M304.7 378h0M289.2 401.5h0M267.2 402.1h0M286.2 379.8h0M294.5 392.6h0M286.2 384.4h0M288.2 406.4h0M295.6 405.5h0M285.4 415.9h0M280.7 416.4h0M287.8 403.6h0M293.4 409h0M292.6 402.2h0M297.3 388.7h0M280.4 390.8h0M267.5 404.9h0M286.9 382.2h0M298.4 409.5h0M279.1 376.1h0M268.6 402.7h0M302.6 404.5h0M283.6 410.8h0M285.2 393.6h0M297.7 389.1h0M294.9 397.5h0M303.2 398.6h0M271 410.1h0M284.7 386.4h0M295.5 375.5h0M289.1 393.7h0M289.7 407.5h0M281.9 378.4h0M277.8 398.4h0M299.2 404.8h0M282.7 390.3h0M275.4 387.1h0M299.3 374.4h0M289.7 402.3h0M283.8 391.9h0M286.6 388.6h0M277.2 384.7h0M303.6 397.1h0M291.5 392.8h0M293 410.1h0M296.8 400h0M278.3 392.8h0M297.9 388.9h0M295.6 381.7h0M290.2 414.2h0M280.6 400.5h0M273.2 405h0M275.7 378.6h0M285.2 401.1h0M270.2 395.7h0M297.6 384.2h0M299.9 403.8h0M301.5 374.1h0M274.1 405.1h0M291 399.6h0M297.5 378.1h0M302.7 382.7h0M280.5 404.5h0M302 405.4h0M268.4 401.7h0M298.6 375.3h0M271.7 400.4h0M298 377.7h0M273.9 383.8h0M276.8 376.3h0M276.2 390.5h0M273.6 389.8h0M299.4 407h0M284.1 378h0M274 408.9h0M283.1 373.6h0M276.8 412.8h0M302 404.6h0M300.6 383.8h0M273.9 408.5h0M294.4 405h0M281.5 415.6h0M294 376.2h0M283.2 409.1h0M309.1 391.6h0M285.6 398.3h0M275.6 378.9h0M295.4 392.4h0M271.7 408.3h0M287.9 409.3h0M269.8 404.3h0M277.4 379.4h0M279.8 408.5h0M290.6 398.5h0M296.5 376.8h0M283.5 391.4h0M270 405.2h0M279.5 391.5h0M269.2 407.7h0M299.7 397.3h0M299.7 399.7h0M293.1 400.4h0M282.7 395.8h0M305.5 399.1h0M270.8 396.8h0M285.3 382.6h0M288 380.5h0M290.7 414.6h0M285.6 403.8h0M290.5 383.6h0M299.4 385.5h0M277.7 387h0M297.5 392.7h0M299.8 408.7h0M281.2 408.2h0M289 391.6h0M286.4 389.9h0M300.2 383.4h0M293.8 382.8h0M283.6 409.4h0M296.3 395.3h0M283.2 388.2h0M274.6 388.6h0M300.1 378.2h0M303.5 390.2h0M279.3 378.7h0M284.5 406h0M280.1 386.9h0M286.2 373.7h0M275.3 391.4h0M290.9 378.2h0M284.3 411.4h0M299.1 383.6h0M288.5 401.1h0M275.9 395.7h0M283.8 390.6h0M301.9 386.6h0M289.9 393.8h0M286.2 394.8h0M298.8 409.1h0M266 402.5h0M286.5 405.5h0M286.2 374.4h0M277.6 391.8h0M268.8 405h0M296.1 371.9h0M272.2 406.3h0M302.5 375.7h0M279.3 382h0M271.3 391.6h0M305.2 395.6h0M272.3 408.7h0M290.8 403.1h0M284.4 409.5h0M300.4 398.8h0M284.6 391.7h0M300.2 403h0M293.2 372.5h0M281.8 396.7h0M285.1 405.9h0M277.1 378h0M287.6 393.3h0M281.1 409.8h0M292.5 412.7h0M279.5 398.5h0M297.2 390.9h0M280.5 390h0M290.8 390.7h0M292 373.8h0M293 378.5h0M279.1 412.1h0M275.6 384h0M288.9 393.9h0M284.3 384h0M284.7 398.5h0M294.5 406.1h0M297.1 412.5h0M300.9 394.3h0M292.4 388.7h0M286.4 395.5h0M276.2 399.3h0M277.9 407.8h0M279.5 390.9h0M271.5 391.6h0M307.2 392.3h0M296.3 388h0M269.8 390.5h0M295.7 391.4h0M284.5 410.1h0M291.2 406.8h0M297.8 378.5h0M276.5 407.3h0M272.4 402.3h0M281.8 384.7h0M289 371.2h0M303.2 397h0M297.9 394.5h0M278.7 398.3h0M277 385.7h0M296.3 375.5h0M273.9 399.7h0M292.4 383.4h0M284.6 384.8h0M295.7 388.4h0M295.9 371.6h0M281.9 384.7h0M285 410.8h0M277.9 409.5h0M270.7 400.6h0M281.5 379.3h0M290.8 412.8h0M290.9 393.5h0M282.7 411.2h0M283.7 381.4h0M288.5 391.2h0M294.2 394.4h0M299.3 410h0M280.3 375.9h0M298.6 409.9h0M292.3 390.1h0M266.5 404.9h0M279.8 399.3h0M274.9 380.8h0M281.5 377.4h0M270.4 391.2h0M301.3 404.8h0M292.3 380.1h0M272.5 398.3h0M287.1 380.3h0M301.4 376.3h0M281 391.5h0M274.9 408.4h0M299.5 406.2h0M290.3 398.5h0M301.3 373.3h0M277.4 386.3h0M296.5 388.3h0M279.1 404.3h0M281.7 380.9h0M277.3 381.1h0M293 414.7h0M304.2 376.2h0M278.2 406.2h0M293.3 413.2h0M299.8 407.5h0M287 382.8h0M283.1 373.2h0M299.7 399.4h0M292.2 387.7h0M297.3 407.4h0M304.8 402.2h0M275.8 412.3h0M290 372.6h0M285.8 380.5h0M273.7 397.6h0M302.4 384.8h0M270.4 393.2h0M284.4 394.7h0M291.6 391.9h0M269.2 407h0M284.5 397h0M297.5 397.1h0M281 388.1h0M270 397.1h0M285.4 410.1h0M276.5 390.6h0M271.4 397h0M295.6 383.6h0M304.5 388.8h0M297.1 411.4h0M297.5 379.1h0M275.7 413.7h0M286.9 388.4h0M280 392h0M282.4 383.2h0M281.4 380.7h0M300.8 383.9h0M289.8 406h0M275.8 401.5h0M304.3 379.3h0M275.7 397.2h0M272.9 393.4h0M305.9 385h0M269.2 394.1h0M300.7 373.1h0M296.8 380.1h0M304.9 388.6h0M283.8 406.7h0M295 407.3h0M271.5 400.9h0M284.9 402.3h0M272.5 386.4h0M266.7 400.6h0M276.9 414.5h0M299.6 391.7h0M283.4 376.1h0M299.4 401.4h0M274.4 393.6h0M288.5 372h0M304.4 395.2h0M273.2 400h0M274.9 413.6h0M281 397.7h0M292.1 377.3h0M270.6 390.2h0M273 406.7h0M284.2 413.3h0M299.1 385.8h0M279 384h0M281.4 412.1h0M281.2 413.7h0M269.9 391h0M300.8 401.2h0M271.3 407.5h0M304.2 379.6h0M273 387.6h0M298.8 409.8h0M288.7 407.2h0M286.2 371.9h0M285.4 378h0M283.7 375.5h0M288.6 396.6h0M293.7 395.5h0M274.8 390.8h0M284.4 372.3h0M278.6 398.5h0M275.6 404.4h0M283.6 381.4h0M282.9 403.8h0M287.1 385.1h0M304.7 392.1h0M280.1 410.6h0M298.6 411.6h0M289.6 389h0M280.2 395.4h0M277.7 400.2h0M276.5 395.7h0M304.1 398h0M297.9 404.7h0M287.5 415.2h0M266.7 403h0M304.8 396.9h0M292.2 411.4h0M293.2 373.7h0M274.3 392.9h0M302.8 404.1h0M291 399.2h0M274.4 397.5h0M271.6 407h0M295.9 381.6h0M278 398.5h0M283.6 374.3h0M278.4 403.5h0M283.7 410.4h0M289.4 412.6h0M305.1 380.5h0M302.9 398.8h0M288.4 382.1h0M295.6 405.7h0M290.9 382.1h0M280.4 412.7h0M280.9 386.5h0M297.8 410.7h0M276.2 400.5h0M289.8 391.9h0M279.5 405.1h0M300.1 411.7h0M283 385.5h0M292.5 389.4h0M274.7 413.1h0M275.6 386.7h0M269.7 392.6h0M302.1 380.3h0M279.8 380.4h0M282.8 404.7h0M298.4 400.5h0M275.6 386.5h0M286.9 375.3h0M299.2 374h0M276 381.7h0M267.5 401.6h0M289.1 417h0M268.7 400.7h0M274.8 377.4h0M273.6 401.8h0M288.7 408.3h0M290.5 399.3h0M273.1 394.3h0M277.2 401.7h0M278.1 389.5h0M296.4 394.4h0M285.6 389.1h0M274.1 409.2h0M305.8 402.2h0M279.3 388.7h0M285.9 387.9h0M274.8 411.1h0M305.6 382.4h0M298.3 410.9h0M294.4 395h0M267.5 400.6h0M298.5 402.3h0M271.1 399.1h0M296.6 378.5h0M290.7 374.2h0M275.2 381.9h0M294 401.3h0M280.3 411.2h0M273.3 400h0M276 386h0M274.5 382.9h0M285.2 399.2h0M267.2 405.8h0M293.8 386.6h0M273.2 412.2h0M286.3 387.1h0M304.8 380.3h0M290.2 372.8h0M306.3 389.9h0M300 395.1h0M303.7 380h0M307.8 390.4h0M292 411.6h0M289.4 404.6h0M303.6 384.7h0M285.6 413.7h0M298.9 398.1h0M283.4 373.3h0M272 400.2h0M279.2 388.5h0M291.8 382.6h0M297.6 381h0M293.8 375.3h0M302.5 376.3h0M286.5 396.4h0M284 409.3h0M298.3 380.3h0M304.5 398.1h0M276.1 383.3h0M299.1 411.4h0M281.1 392.7h0M301.4 375.1h0M290.3 394.9h0M282.4 404.8h0M295 385.6h0M303.1 394.4h0M285.5 374.2h0M284.1 390.1h0M279.1 407.9h0M304.7 386.5h0M272.4 384.1h0M266.6 398.9h0M305 396.6h0M290.5 410.7h0M276.6 389.4h0M297.5 407.3h0M278.9 389.7h0M288 378.1h0M306.3 389.4h0M272.3 404.6h0M293.1 408.1h0M283.3 384.7h0M298.9 392.1h0M283.5 399.3h0M274.8 392h0M304.9 386.2h0M303.6 400.3h0M296.7 372h0M294.9 384.3h0M285.8 379.3h0M296.9 411.7h0M277.8 392.3h0M282.1 404.8h0M272.3 412.5h0M277.8 399.2h0M271.3 404.5h0M272.1 410h0M304.4 384.4h0M290.4 410.8h0M272.8 407.9h0M281.5 406.7h0M271.1 409.9h0M279.5 386.7h0M297.3 402.9h0M279.9 388.5h0M303.3 391.6h0M293.3 408.2h0M306.2 391.4h0M298.8 397.3h0M296 396.9h0M292.1 406.5h0M287.1 410.2h0M287.2 415.3h0M303.9 382.4h0M287.7 415.3h0M298.7 409.2h0M287.7 381.2h0M270.7 389.6h0M295.8 377.5h0M289.1 396h0M278.9 402.3h0M276.9 394.4h0M301.9 392h0M303.2 381.7h0M288.1 385.8h0M285 385.5h0M291.6 393.1h0M303.1 389.2h0M298.1 407.9h0M295.3 394.2h0M292.5 388.2h0M294.7 381h0M282.1 395.5h0M298.3 379h0M283.8 412.5h0M271.5 405.8h0M303.2 392h0M283.8 372.3h0M285 391.8h0M299.9 377h0M303.2 375.6h0M275.2 406h0M271.4 400h0M271.1 399.6h0M288.2 400.6h0M299.4 384.3h0M306.4 391.6h0M303.2 401.6h0M280.9 379.1h0M270.8 405.7h0M268.8 405.9h0M286 377.1h0M297.3 399.8h0M305.5 388.8h0M291.9 385.7h0M306 386.6h0M303 401.5h0M279.6 388.4h0M272.5 386.4h0M285.5 395.7h0M287.5 373.7h0M287.5 404.7h0M307 393.4h0M290.1 406.8h0M299.9 396.6h0M292.1 373.5h0M305.8 402.9h0M269.6 402h0M286.2 382.2h0M300 406.5h0M294.2 409.2h0M301.2 372.9h0M297.3 380.3h0M273.5 396.1h0M274.4 384h0M299 382.3h0M301.7 384.4h0M298.7 377.7h0M276.3 388.4h0M280.8 405.6h0M290.2 383.4h0M281.7 382.9h0M282.6 410.6h0M289.2 416.4h0M288.1 402.4h0M267.7 397.7h0M277.5 399.1h0M275.4 385.4h0M269.6 390.2h0M279.7 382.4h0M268.4 406.5h0M282.2 382.6h0M273.5 382.9h0M299.8 376.3h0M269.7 395.1h0M267.8 405.3h0M280.6 378.6h0M283.2 405.4h0M271.6 405.3h0M281.4 402.9h0M282.1 386.4h0M277.8 400.6h0M286.1 409h0" stroke="#97a826" stroke-width="1.1" stroke-linecap="round" fill="none" opacity="0.9"/>
<path d="M248.8 372.5C249.8 374.1 252.7 378.7 255 382C257.3 385.3 260.2 389.6 262.5 392.5C264.8 395.4 266.6 397.6 269 399.5C271.4 401.4 274.2 403.1 277 404C279.8 404.9 283.4 406 286 405C288.6 404 291 401.2 292.5 398C294 394.8 294.8 389.7 295 386C295.2 382.3 294.4 378 294 376C293.6 374 292.8 374.2 292.5 373.8" stroke="#333" stroke-width="0.5" fill="none" stroke-linecap="round"/>
<text x="292.5" y="366.9" font-size="6.5" text-anchor="middle" fill="#161616" stroke="#161616" stroke-width="0.12">ILC1</text>
<text x="249.3" y="374.9" font-size="5.2" text-anchor="middle" fill="#161616" stroke="#161616" stroke-width="0.12">4</text>
<text x="285" y="395.7" font-size="5.2" text-anchor="middle" fill="#161616" stroke="#161616" stroke-width="0.12">2</text>
</g>
<g>
<text x="341.3" y="336.1" font-size="10.2" text-anchor="start" fill="#000" stroke="#000" stroke-width="0.12" font-weight="bold">L</text>
<text x="388.6" y="345.4" font-size="7.1" text-anchor="middle" fill="#161616" stroke="#161616" stroke-width="0.12">Normalized ILC1</text>
<text x="388.6" y="354.5" font-size="7.1" text-anchor="middle" fill="#161616" stroke="#161616" stroke-width="0.12">cell numbers</text>
<path d="M368.5 363.5L368.5 427.3" stroke="#222" stroke-width="0.7" fill="none"/>
<path d="M368.2 427L409.2 427" stroke="#222" stroke-width="0.7" fill="none"/>
<path d="M367 364.7L368.5 364.7" stroke="#222" stroke-width="0.5" fill="none"/>
<text x="365.4" y="367.2" font-size="6.9" text-anchor="end" fill="#161616" stroke="#161616" stroke-width="0.12">0.6</text>
<path d="M367 373.7L368.5 373.7" stroke="#222" stroke-width="0.5" fill="none"/>
<text x="365.4" y="376.1" font-size="6.9" text-anchor="end" fill="#161616" stroke="#161616" stroke-width="0.12">0.4</text>
<path d="M367 382.6L368.5 382.6" stroke="#222" stroke-width="0.5" fill="none"/>
<text x="365.4" y="385.1" font-size="6.9" text-anchor="end" fill="#161616" stroke="#161616" stroke-width="0.12">0.2</text>
<path d="M367 391.5L368.5 391.5" stroke="#222" stroke-width="0.5" fill="none"/>
<text x="365.4" y="394" font-size="6.9" text-anchor="end" fill="#161616" stroke="#161616" stroke-width="0.12">0.0</text>
<path d="M367 400.4L368.5 400.4" stroke="#222" stroke-width="0.5" fill="none"/>
<text x="365.4" y="402.9" font-size="6.9" text-anchor="end" fill="#161616" stroke="#161616" stroke-width="0.12">−0.2</text>
<path d="M367 409.3L368.5 409.3" stroke="#222" stroke-width="0.5" fill="none"/>
<text x="365.4" y="411.8" font-size="6.9" text-anchor="end" fill="#161616" stroke="#161616" stroke-width="0.12">−0.4</text>
<path d="M367 418.3L368.5 418.3" stroke="#222" stroke-width="0.5" fill="none"/>
<text x="365.4" y="420.7" font-size="6.9" text-anchor="end" fill="#161616" stroke="#161616" stroke-width="0.12">−0.6</text>
<path d="M367 427.2L368.5 427.2" stroke="#222" stroke-width="0.5" fill="none"/>
<text x="365.4" y="429.7" font-size="6.9" text-anchor="end" fill="#161616" stroke="#161616" stroke-width="0.12">−0.8</text>
<path d="M368.5 391.5L409.2 391.5" stroke="#222" stroke-width="0.7" fill="none"/>
<rect x="375.1" y="391.5" width="11.1" height="7.4" fill="#14b88f" stroke="#1c1c1c" stroke-width="0.6"/>
<path d="M380.6 398.9L380.6 399.9" stroke="#222" stroke-width="0.5" fill="none"/>
<path d="M379.3 399.9L381.9 399.9" stroke="#222" stroke-width="0.5" fill="none"/>
<path d="M380.6 427L380.6 428.8" stroke="#222" stroke-width="0.55" fill="none"/>
<text x="380.6" y="437" font-size="7.0" text-anchor="middle" fill="#161616" stroke="#161616" stroke-width="0.12">4</text>
<rect x="392" y="380.4" width="11.4" height="11.1" fill="#8fae2f" stroke="#1c1c1c" stroke-width="0.6"/>
<path d="M397.7 380.4L397.7 379.4" stroke="#222" stroke-width="0.5" fill="none"/>
<path d="M396.4 379.4L399 379.4" stroke="#222" stroke-width="0.5" fill="none"/>
<path d="M397.7 427L397.7 428.8" stroke="#222" stroke-width="0.55" fill="none"/>
<text x="397.7" y="437" font-size="7.0" text-anchor="middle" fill="#161616" stroke="#161616" stroke-width="0.12">2</text>
<text x="388.6" y="445.6" font-size="7.1" text-anchor="middle" fill="#161616" stroke="#161616" stroke-width="0.12">Conventional cytotoxic</text>
<text x="388.6" y="454.2" font-size="7.1" text-anchor="middle" fill="#161616" stroke="#161616" stroke-width="0.12">ILC1 clusters</text>
<text x="345.6" y="399.6" font-size="6.8" text-anchor="middle" fill="#161616" stroke="#161616" stroke-width="0.12" transform="rotate(-90 345.6 397.2)" textLength="91.5" lengthAdjust="spacing">Log<tspan font-size="4.2" dy="1.6">2</tspan><tspan dy="-1.6" font-size="4.2">​</tspan> (ratio of <tspan font-style="italic">Il27ra</tspan><tspan font-size="4.2" dy="-2.9">−/−</tspan><tspan dy="2.9" font-size="4.2">​</tspan>/<tspan font-style="italic">Il27ra</tspan><tspan font-size="4.2" dy="-2.9">+/−</tspan><tspan dy="2.9" font-size="4.2">​</tspan>)</text>
</g>
<g>
<text x="-0.2" y="486.7" font-size="10.2" text-anchor="start" fill="#000" stroke="#000" stroke-width="0.12" font-weight="bold">M</text>
<path d="M32.5 555H80" stroke="#6d6896" stroke-width="0.71" stroke-dasharray="6.8 0.3 17.6 0.3 5.1 0.3 20.7 0.3 2.1 0.3 2.4 0.3 15.4 0.3 1.4 0.3 10.4 0.3 7.1 0.3 6.7 0.3 9.5 0.3 11.7 0.3 8.0 0.3" opacity="0.85" fill="none"/>
<path d="M32.5 545.9H80" stroke="#6d6896" stroke-width="0.71" stroke-dasharray="4.5 0.3 15.9 0.3 10.7 0.3 2.3 0.3 12.1 0.3 2.4 0.3 7.6 0.3 19.0 0.3 10.9 0.3 6.7 0.3 3.7 0.3 7.2 0.3 0.6 0.3 16.5 0.3" opacity="0.85" fill="none"/>
<path d="M32.5 540.6H80" stroke="#6d6896" stroke-width="0.64" stroke-dasharray="1.3 0.4 4.7 0.4 2.6 0.7 5.3 0.7 2.7 0.5 3.5 0.5 5.3 0.7 0.8 0.4 2.8 0.6 4.0 0.5 2.4 0.3 0.6 0.7 1.4 0.5 5.1 0.5" opacity="0.85" fill="none"/>
<path d="M32.5 536.8H80" stroke="#6d6896" stroke-width="0.59" stroke-dasharray="2.1 0.3 1.7 0.7 1.4 0.9 1.1 0.4 1.6 0.9 1.5 0.8 2.8 1.0 3.2 1.1 1.5 1.3 3.2 0.8 2.2 0.8 1.4 0.3 1.3 0.3 1.4 0.4" opacity="0.85" fill="none"/>
<path d="M32.5 533.9H80" stroke="#6d6896" stroke-width="0.56" stroke-dasharray="2.0 1.7 2.2 1.8 1.3 1.0 2.4 0.8 1.4 0.6 1.2 1.2 1.0 1.9 2.4 0.5 0.9 1.0 0.5 0.5 0.8 1.6 0.5 1.4 1.4 1.2 1.2 1.6" opacity="0.85" fill="none"/>
<path d="M32.5 531.5H80" stroke="#6d6896" stroke-width="0.54" stroke-dasharray="1.7 0.8 1.4 0.8 1.5 0.7 1.5 2.4 0.4 0.6 1.8 0.8 0.9 1.5 1.1 0.4 1.4 0.6 1.8 0.4 0.6 2.0 1.1 2.4 1.6 0.8 1.7 1.1" opacity="0.85" fill="none"/>
<path d="M32.5 529.5H80" stroke="#6d6896" stroke-width="0.52" stroke-dasharray="0.6 0.8 1.4 0.5 0.9 0.4 0.9 1.2 0.5 0.9 0.7 0.3 0.9 0.9 1.4 2.0 1.3 1.0 0.6 2.6 0.7 1.8 1.0 0.8 0.6 0.4 0.5 2.6" opacity="0.85" fill="none"/>
<path d="M32.5 527.8H80" stroke="#6d6896" stroke-width="0.50" stroke-dasharray="1.0 2.1 0.8 0.9 0.7 1.6 0.7 3.9 0.9 1.8 0.7 1.8 1.1 3.0 0.5 0.6 0.5 2.3 0.7 3.8 1.1 2.8 1.0 3.8 0.8 3.6 0.5 1.4" opacity="0.85" fill="none"/>
<path d="M32.5 526.2H80" stroke="#6d6896" stroke-width="0.49" stroke-dasharray="0.9 1.9 0.5 3.2 0.5 3.3 0.5 4.4 0.8 2.5 0.8 2.1 0.9 1.2 1.0 1.3 0.4 4.4 0.8 1.8 0.8 0.3 0.9 1.4 0.7 3.5 0.5 1.4" opacity="0.85" fill="none"/>
<path d="M55.9 512.3h0M75.6 512.3h0M70.6 529.8h0M57.3 519.3h0M63.1 517.9h0M78.5 517.4h0M63.3 528.8h0M59.1 522.5h0M64.7 517.3h0M64.6 507.6h0M75.3 523.6h0M76.5 513.9h0M73.3 519.1h0M55.8 517.3h0M55.7 528.7h0M57.5 516h0M65.6 512.9h0M54.9 527.2h0M68.3 508.8h0M52.9 526.3h0M61 506.2h0M61.9 531.3h0M68.2 516h0M52.5 509.6h0M62.6 517.8h0M74.2 512.1h0M69.2 517.8h0M47.9 534h0M69.7 514.2h0M73.7 519.7h0M55 512.6h0M47.3 529h0M56.8 533.2h0M66.5 518.2h0M44.3 527h0M61.5 512.5h0M78.1 520.8h0M56.6 512.1h0M67 527h0M68.2 526.8h0M58.7 507.8h0M43.2 536.9h0M66.5 521.8h0M62.6 514.8h0M72 521.6h0M53 530.8h0M71.3 508.6h0M67.9 519.2h0M59.7 517.1h0M67.9 521h0M55.6 514.8h0M73.1 536.7h0M69.6 530.6h0M70.1 510.9h0M65.1 527.2h0M60.2 511.2h0M51.5 525.6h0M66.3 533.1h0M67.5 525.8h0M66.6 522.6h0M60.6 518.9h0M76.1 521.7h0M51.7 522.5h0M70.7 519.8h0M63.4 511.2h0M57.3 527.5h0M46.3 529.8h0M53.2 512.7h0M58.5 521.5h0M59.1 519.6h0M73.7 527.2h0M58.9 520.4h0M74.9 497h0M52.3 510.8h0M60.2 518.8h0M67.7 516.5h0M69.8 519.7h0M56.8 523.1h0M48.6 532h0M43.6 521.7h0M46.9 518.7h0M57.1 518.9h0M67.6 518.4h0M73.6 518.4h0M64.1 526.4h0M78.8 513.1h0M53.1 508.6h0M56.8 519.3h0M71 529.3h0M62.4 524.7h0M51.6 514.9h0M39.8 523h0M63.4 532.1h0M58.9 507.6h0M62.6 514.6h0M47.7 515.9h0M72.1 528.5h0M68.2 518.7h0M61.2 518.5h0M45.9 514.9h0M59.9 523.4h0M75.1 522.6h0M69.5 509h0M53 504.8h0M67 520.6h0M75.3 507.6h0M69.9 523.8h0M58.3 522.5h0M51 516h0M64 517.6h0M60.2 531.7h0M73.5 519.3h0M45.1 519h0M46.6 509.4h0M69.5 526.8h0M74 512.4h0M76 515.2h0M51.2 522.4h0M50.5 524.4h0M75.8 519.3h0M50.3 522.1h0M70.2 520.4h0M59.7 525.8h0M54.5 530.3h0M44.7 526.3h0M68.7 519.2h0M66.2 533.3h0M63.3 521.5h0M58.3 531.1h0M47.3 528.5h0M69 512h0M50 534.7h0M72.6 513.2h0M51.9 516.3h0M60.2 518.2h0M61.6 513.3h0M70.7 514.5h0M72.1 528.3h0M65.8 520h0M56 521.1h0M69.3 528.6h0M51.1 530.8h0M71 524.9h0M72.3 528.4h0M53.6 534.1h0M73 513.8h0M55.6 523.2h0M51 508.7h0M69.6 528.7h0M72.1 532.5h0M55.9 532.2h0M46.2 520.4h0M38.9 526.9h0M60.1 520.1h0M67.4 511.1h0M76.5 514.7h0M55.2 515.5h0M45.8 522.9h0M61.4 538.5h0M61.8 512h0M63.4 512.2h0M56.9 519.2h0M62.5 522.3h0M39.6 535.9h0M58.8 516.8h0M57.4 528.5h0M56.9 500h0M64.8 518.1h0M54.3 516.4h0M48.6 518.7h0M51.6 526.8h0M63 526.7h0M60.7 521.3h0M59.5 529.5h0M55.9 531h0M71.1 517.4h0M77.6 530.7h0M43.3 508h0M56.8 518.4h0M61.4 518.1h0M56.6 525h0M49.1 517.2h0M59.5 525.2h0M53.8 525.8h0M52.7 529.5h0M65.8 524.3h0M73.7 529.3h0M65.7 518.9h0M71.6 513h0M54.1 532.6h0M68.1 531.8h0M62.3 525.1h0M62 524.2h0M62.1 507.9h0M71.6 523.6h0M51.1 520.5h0M59.7 520.7h0M60.9 507.5h0M55.9 530.9h0M75.9 517.9h0M50.7 524.5h0M51.2 516h0M78.1 525.6h0M63.3 525.6h0M66.2 527.2h0M75.8 513.1h0M68.5 517h0M61.6 519.7h0M63.3 519.9h0M70.8 521.4h0M47 514.6h0M63.8 509.1h0M50.1 517.5h0M60.3 522.6h0M51.3 502.5h0M79.4 522.2h0M59.4 530.2h0M72.8 528.2h0M62.1 537h0M61 532.8h0M61.2 518.4h0M45.8 524.6h0M73.9 518.8h0M75.6 513.7h0M66.1 534.3h0M67.2 509.2h0M65.3 513.3h0M69.8 512.4h0M64.3 540.4h0M68 521.4h0M53.2 519.1h0M61.9 531.4h0M56 526.1h0M65.6 524h0M65.9 516.3h0M58.5 506.1h0M77.5 524.2h0M59.5 513.6h0M58.7 524.2h0M61 514.6h0M72 536h0M63.3 534.4h0M65.3 524.6h0M73.4 541.5h0M52.8 514.7h0M41.7 521.9h0M55.3 536.9h0M59.3 525.1h0M71.1 511.8h0M69.8 525.6h0M56.9 517.5h0M56.2 518h0M64 528.4h0M44.1 509.3h0M76.5 514.8h0M54 523.1h0M60 532.6h0M51.8 518.6h0M57.7 512.9h0M61.8 514.9h0M63.2 517h0M76.2 518.8h0M74.6 503.7h0M74.6 521h0M62.8 526.5h0M66.6 527.9h0M56.9 539.2h0M62.1 525.8h0M47.1 520.2h0M57.1 516.5h0M61.6 506.9h0M62.8 523.9h0M63.3 519h0M49.4 525h0M67.1 509.3h0M63.1 527h0M75.6 522.1h0M51.6 515.4h0M64.5 528.1h0M67.9 520.9h0M65.4 515h0M70.9 513.8h0M52.4 512.1h0M77.6 510.6h0M66.4 503h0M57.5 519.4h0M63.6 524.8h0M70.4 524.5h0M53.2 521h0M73 520.5h0M66.4 517.6h0M53 533.8h0M46.8 522.8h0M45.4 522.9h0M34.5 535.4h0M57.6 529h0M34.7 523.7h0M44.2 514.6h0M44.5 528.7h0M46.2 523.7h0M33.4 521h0M53.6 522.7h0M39.8 513.7h0M35 522.7h0M45.7 524.2h0M50.9 529.9h0M36.6 530.4h0M58.8 525.6h0M39 531h0M55.4 539h0M45.1 534.5h0M52.5 532.7h0M52.5 508.6h0M43 528.2h0M49.4 526.4h0M42.5 534.3h0M55.4 527.3h0M43.3 525.5h0M47.9 531.3h0M46.3 522.4h0M42.7 513.2h0M35 542.9h0M38.9 523.3h0M52.3 534.6h0M52.6 520.7h0M35.1 532.5h0M36.8 519.4h0M40.4 537.6h0M52.2 520.5h0M47.8 516h0M40.6 527.8h0M50.5 533.3h0M39.2 510.4h0M54.4 525.1h0M45.7 532.1h0M44 519h0M38.6 524.3h0M50.6 529.2h0M39.2 522.2h0" stroke="#8f86b8" stroke-width="0.80" stroke-linecap="round" fill="none" opacity="0.42"/>
<path d="M30 493L30 557.8" stroke="#8c8c8c" stroke-width="0.55" fill="none"/>
<path d="M30 557.8L81.5 557.8" stroke="#8c8c8c" stroke-width="0.55" fill="none"/>
<path d="M28.7 555L30 555" stroke="#8c8c8c" stroke-width="0.45" fill="none"/>
<text x="27.7" y="557.3" font-size="6.5" text-anchor="end" fill="#222" stroke="#222" stroke-width="0.08">0</text>
<path d="M28.7 541.9L30 541.9" stroke="#8c8c8c" stroke-width="0.45" fill="none"/>
<text x="27.7" y="544.2" font-size="6.5" text-anchor="end" fill="#222" stroke="#222" stroke-width="0.08">1</text>
<path d="M28.7 528.8L30 528.8" stroke="#8c8c8c" stroke-width="0.45" fill="none"/>
<text x="27.7" y="531.1" font-size="6.5" text-anchor="end" fill="#222" stroke="#222" stroke-width="0.08">2</text>
<path d="M28.7 515.7L30 515.7" stroke="#8c8c8c" stroke-width="0.45" fill="none"/>
<text x="27.7" y="518" font-size="6.5" text-anchor="end" fill="#222" stroke="#222" stroke-width="0.08">3</text>
<path d="M28.7 502.6L30 502.6" stroke="#8c8c8c" stroke-width="0.45" fill="none"/>
<text x="27.7" y="504.9" font-size="6.5" text-anchor="end" fill="#222" stroke="#222" stroke-width="0.08">4</text>
<path d="M32.5 557.8L32.5 559.1" stroke="#8c8c8c" stroke-width="0.45" fill="none"/>
<text x="32.5" y="565.6" font-size="6.6" text-anchor="middle" fill="#222" stroke="#222" stroke-width="0.08">0</text>
<path d="M50 557.8L50 559.1" stroke="#8c8c8c" stroke-width="0.45" fill="none"/>
<text x="50" y="565.6" font-size="6.6" text-anchor="middle" fill="#222" stroke="#222" stroke-width="0.08">5</text>
<path d="M67.5 557.8L67.5 559.1" stroke="#8c8c8c" stroke-width="0.45" fill="none"/>
<text x="67.5" y="565.6" font-size="6.6" text-anchor="middle" fill="#222" stroke="#222" stroke-width="0.08">10</text>
<text x="56.3" y="486.9" font-size="6.9" text-anchor="middle" fill="#161616" stroke="#161616" stroke-width="0.12" font-style="italic">Gzmb</text>
<text x="55.5" y="574.5" font-size="7.1" text-anchor="middle" fill="#161616" stroke="#161616" stroke-width="0.12">Pseudotime</text>
<text x="16.9" y="529.3" font-size="6.85" text-anchor="middle" fill="#161616" stroke="#161616" stroke-width="0.12" transform="rotate(-90 16.9 526.8)">Log (expression + 1)</text>
<path d="M32.5 543.9C33.1 544.1 34.8 544.8 36 545C37.2 545.3 38 546 39.5 545.6C41 545.2 43 544.1 44.8 542.6C46.5 541 48.2 538.2 50 536C51.8 533.8 53.4 531.3 55.2 529.5C57.1 527.6 59.4 525.3 61.2 524.9C62.9 524.4 64.1 525.5 65.8 526.8C67.4 528.1 69.2 530.7 71 532.7C72.8 534.8 74.8 537.6 76.2 539.3C77.7 540.9 79.2 542 79.8 542.6" stroke="#2d2a55" stroke-width="0.95" fill="none" stroke-linecap="round"/>
<path d="M116.8 555H164" stroke="#6d6896" stroke-width="0.71" stroke-dasharray="19.6 0.3 12.8 0.3 16.9 0.3 2.7 0.3 14.0 0.3 2.5 0.3 15.2 0.3 12.7 0.3 13.6 0.3 13.0 0.3 20.8 0.3 20.6 0.3 10.5 0.3 4.0 0.3" opacity="0.85" fill="none"/>
<path d="M116.8 537.4H164" stroke="#6d6896" stroke-width="0.64" stroke-dasharray="1.3 0.7 0.6 0.5 1.3 0.4 0.7 0.4 4.2 0.7 4.4 0.4 3.2 0.5 2.1 0.5 6.0 0.5 2.7 0.6 5.3 0.3 2.0 0.7 3.0 0.3 2.8 0.4" opacity="0.85" fill="none"/>
<path d="M116.8 527.1H164" stroke="#6d6896" stroke-width="0.57" stroke-dasharray="1.8 0.7 2.7 1.1 0.7 1.0 1.2 0.3 0.6 1.4 1.4 0.5 1.8 1.2 1.0 0.4 1.5 0.8 1.3 0.8 1.1 1.0 1.4 1.4 2.0 1.4 1.1 0.6" opacity="0.85" fill="none"/>
<path d="M116.8 519.8H164" stroke="#6d6896" stroke-width="0.51" stroke-dasharray="0.8 0.7 0.5 1.1 0.4 1.1 0.9 2.5 0.8 2.9 1.1 1.6 1.1 3.4 0.9 2.6 0.6 1.6 0.5 1.0 1.0 2.3 0.9 3.7 0.5 0.7 0.7 1.0" opacity="0.85" fill="none"/>
<path d="M116.8 514.1H164" stroke="#6d6896" stroke-width="0.48" stroke-dasharray="0.6 4.9 0.7 1.3 0.6 1.8 0.7 1.7 0.7 1.8 0.4 5.5 0.6 4.4 0.7 5.8 0.5 2.6 0.6 4.1 0.7 0.5 0.7 5.6 0.8 1.4 0.7 2.6" opacity="0.85" fill="none"/>
<path d="M116.8 509.5H164" stroke="#6d6896" stroke-width="0.46" stroke-dasharray="0.5 0.6 0.4 4.4 0.5 5.0 0.4 7.6 0.4 6.5 0.6 4.9 0.6 0.3 0.4 2.0 0.5 6.9 0.5 3.6 0.5 5.9 0.5 6.7 0.4 0.7 0.5 4.1" opacity="0.85" fill="none"/>
<path d="M116.8 505.6H164" stroke="#6d6896" stroke-width="0.45" stroke-dasharray="0.5 6.0 0.4 9.7 0.4 2.7 0.4 2.2 0.5 6.1 0.5 2.0 0.5 8.9 0.5 9.3 0.4 3.2 0.4 9.1 0.5 3.9 0.5 8.8 0.4 2.3 0.4 6.0" opacity="0.85" fill="none"/>
<path d="M116.8 502.2H164" stroke="#6d6896" stroke-width="0.45" stroke-dasharray="0.4 2.6 0.5 1.2 0.4 7.0 0.4 11.5 0.4 1.1 0.5 7.3 0.5 10.3 0.5 7.3 0.4 10.0 0.4 3.8 0.4 3.1 0.5 3.3 0.4 10.8 0.4 2.7" opacity="0.85" fill="none"/>
<path d="M116.8 499.2H164" stroke="#6d6896" stroke-width="0.45" stroke-dasharray="0.4 9.3 0.4 12.2 0.5 8.3 0.4 7.7 0.4 12.7 0.5 7.5 0.5 11.0 0.4 3.3 0.5 10.3 0.4 8.3 0.5 9.9 0.5 10.4 0.4 12.5 0.4 2.0" opacity="0.85" fill="none"/>
<path d="M113.9 493L113.9 557.8" stroke="#8c8c8c" stroke-width="0.55" fill="none"/>
<path d="M113.9 557.8L165.5 557.8" stroke="#8c8c8c" stroke-width="0.55" fill="none"/>
<path d="M112.6 555L113.9 555" stroke="#8c8c8c" stroke-width="0.45" fill="none"/>
<text x="111.6" y="557.3" font-size="6.5" text-anchor="end" fill="#222" stroke="#222" stroke-width="0.08">0.0</text>
<path d="M112.6 542.3L113.9 542.3" stroke="#8c8c8c" stroke-width="0.45" fill="none"/>
<text x="111.6" y="544.6" font-size="6.5" text-anchor="end" fill="#222" stroke="#222" stroke-width="0.08">0.5</text>
<path d="M112.6 529.6L113.9 529.6" stroke="#8c8c8c" stroke-width="0.45" fill="none"/>
<text x="111.6" y="531.9" font-size="6.5" text-anchor="end" fill="#222" stroke="#222" stroke-width="0.08">1.0</text>
<path d="M112.6 516.9L113.9 516.9" stroke="#8c8c8c" stroke-width="0.45" fill="none"/>
<text x="111.6" y="519.2" font-size="6.5" text-anchor="end" fill="#222" stroke="#222" stroke-width="0.08">1.5</text>
<path d="M112.6 504.2L113.9 504.2" stroke="#8c8c8c" stroke-width="0.45" fill="none"/>
<text x="111.6" y="506.5" font-size="6.5" text-anchor="end" fill="#222" stroke="#222" stroke-width="0.08">2.0</text>
<path d="M116.8 557.8L116.8 559.1" stroke="#8c8c8c" stroke-width="0.45" fill="none"/>
<text x="116.8" y="565.6" font-size="6.6" text-anchor="middle" fill="#222" stroke="#222" stroke-width="0.08">0</text>
<path d="M134.2 557.8L134.2 559.1" stroke="#8c8c8c" stroke-width="0.45" fill="none"/>
<text x="134.2" y="565.6" font-size="6.6" text-anchor="middle" fill="#222" stroke="#222" stroke-width="0.08">5</text>
<path d="M151.5 557.8L151.5 559.1" stroke="#8c8c8c" stroke-width="0.45" fill="none"/>
<text x="151.5" y="565.6" font-size="6.6" text-anchor="middle" fill="#222" stroke="#222" stroke-width="0.08">10</text>
<text x="140.4" y="486.9" font-size="6.9" text-anchor="middle" fill="#161616" stroke="#161616" stroke-width="0.12" font-style="italic">Prf1</text>
<text x="139.4" y="574.5" font-size="7.1" text-anchor="middle" fill="#161616" stroke="#161616" stroke-width="0.12">Pseudotime</text>
<text x="95.2" y="529.3" font-size="6.85" text-anchor="middle" fill="#161616" stroke="#161616" stroke-width="0.12" transform="rotate(-90 95.2 526.8)">Log (expression + 1)</text>
<path d="M116.8 541C118 541.2 121.4 541.7 123.7 542.3C126.1 542.9 128.8 543.8 130.7 544.3C132.6 544.8 133.7 545.7 135.2 545.3C136.6 545 137.8 543.7 139.4 542.3C140.9 540.9 142.8 537.7 144.6 537.2C146.3 536.7 148 538.4 149.8 539.3C151.5 540.1 153.2 541.5 155 542.3C156.7 543.1 158.7 543.6 160.2 544.3C161.6 545.1 163.1 546.2 163.6 546.6" stroke="#2d2a55" stroke-width="0.95" fill="none" stroke-linecap="round"/>
<path d="M201.7 554.8H248" stroke="#6d6896" stroke-width="0.71" stroke-dasharray="6.0 0.3 9.6 0.3 19.9 0.3 0.8 0.3 15.6 0.3 22.0 0.3 2.2 0.3 4.1 0.3 20.1 0.3 9.4 0.3 16.5 0.3 14.3 0.3 4.9 0.3 21.7 0.3" opacity="0.85" fill="none"/>
<path d="M201.7 542H248" stroke="#6d6896" stroke-width="0.64" stroke-dasharray="3.8 0.6 5.9 0.7 3.4 0.4 2.4 0.3 3.6 0.3 2.1 0.7 2.5 0.4 4.4 0.3 3.1 0.6 4.8 0.4 2.1 0.3 3.8 0.3 5.0 0.5 0.7 0.5" opacity="0.85" fill="none"/>
<path d="M201.7 534.5H248" stroke="#6d6896" stroke-width="0.59" stroke-dasharray="2.3 0.5 1.7 0.3 2.7 0.7 1.5 0.7 0.5 0.7 3.2 0.4 3.0 0.5 2.8 1.1 3.2 1.3 1.7 1.0 1.4 1.1 1.8 0.8 2.8 0.4 1.8 1.2" opacity="0.85" fill="none"/>
<path d="M201.7 529.2H248" stroke="#6d6896" stroke-width="0.57" stroke-dasharray="2.0 0.7 1.4 1.1 2.6 1.1 2.7 0.5 0.9 1.1 1.9 1.6 2.5 0.8 1.2 1.5 1.3 1.2 1.4 1.1 2.2 1.6 1.3 1.2 2.3 1.3 2.3 0.6" opacity="0.85" fill="none"/>
<path d="M201.7 525H248" stroke="#6d6896" stroke-width="0.54" stroke-dasharray="0.9 0.6 1.6 2.2 1.6 1.9 1.2 1.5 1.2 2.5 1.8 1.4 1.5 2.3 1.4 1.2 0.6 1.7 1.5 0.8 0.6 1.9 0.8 0.8 0.7 2.2 1.2 0.8" opacity="0.85" fill="none"/>
<path d="M201.7 521.6H248" stroke="#6d6896" stroke-width="0.52" stroke-dasharray="0.9 1.5 1.0 2.4 0.9 1.4 0.5 0.4 0.6 0.3 1.1 1.1 1.3 0.7 1.2 2.0 1.2 2.7 0.8 0.8 0.7 1.5 1.3 3.1 1.0 2.7 1.0 1.3" opacity="0.85" fill="none"/>
<path d="M201.7 518.8H248" stroke="#6d6896" stroke-width="0.50" stroke-dasharray="0.9 1.2 0.5 1.7 0.6 2.0 0.6 2.1 1.0 0.5 0.5 3.0 0.9 0.8 0.7 2.0 0.7 2.7 0.8 0.9 0.5 0.5 0.5 3.6 0.8 1.7 0.7 4.3" opacity="0.85" fill="none"/>
<path d="M207.7 515.9h0M213.6 503.5h0M215.8 511.4h0M209.2 512.4h0M208.9 511.6h0M212.6 499.1h0M218 506h0M201.7 517.2h0M207.6 503.4h0M211.9 509.8h0M207.7 523.3h0M215.7 502.3h0M220.1 520.4h0M208.9 518.4h0M212.7 506.2h0M212 504.9h0M215.4 509.8h0M208.6 510.6h0M207.8 512.3h0M207.2 510.6h0M209.2 513.6h0M214.3 516.1h0M202.3 501h0M212.9 511.6h0M207.7 500h0M206.7 497.9h0M203.1 506.1h0M214.3 518h0M205.1 516.1h0M217 516.5h0M203 515.2h0M209.8 520.1h0M202.4 505.7h0M211.1 502.1h0M214.1 506.5h0M211 503.2h0M208.5 530h0M202.9 510.4h0M211.3 507.5h0M211.2 509.1h0M207 508.9h0M207.6 511.3h0M205.1 512.5h0M209.7 511.1h0M208.9 503h0M207.4 518.6h0M211 513.2h0M212 504.4h0M210.6 512.3h0M208.9 511.2h0M207.3 519.2h0M213.5 517.2h0M208.9 509.1h0M214.9 527.9h0M211.9 518.4h0M218.3 509.1h0M208.7 509.7h0M208.5 509.4h0M211.4 506.8h0M211 524.1h0M208.8 524.1h0M209.5 514h0M212.7 521.1h0M209.2 525h0M204.1 508.7h0M217.5 507.4h0M205.3 511.4h0M208.1 514.9h0M207.2 499.3h0M207.2 514.4h0M208.7 515.1h0M214.8 515h0M209.1 512.5h0M206.4 512.9h0M209.3 509.4h0M212 516.6h0M218 505h0M201.8 506.2h0M210.4 510.6h0M216.8 513.2h0M213.9 497.9h0M215.5 509.7h0M212.6 498.4h0M207 495.5h0M220.9 523.9h0M229.3 502.5h0M213.3 508.6h0M211.4 516.7h0M210.7 504.9h0M210.6 504.7h0M209.8 507.3h0M215.9 503.7h0M206.5 510.3h0M218.5 509.9h0M205.2 497.4h0M201.9 506.7h0M207 516.8h0M210 526.5h0M207.4 515.1h0M210.4 521.1h0M206.8 517.3h0M205.6 507h0M207.2 514h0M203 514.8h0M205 512.8h0M206.6 497.1h0M217.7 509.1h0M207.2 507.8h0M211.1 520h0M209.1 521h0M214.9 512.1h0M210.4 516.4h0M206.1 514.8h0M210.7 511.6h0M214 511.9h0M217.3 507.5h0M208.2 518.4h0M213.6 511.7h0M209.6 510.1h0M202.2 506h0M204.5 520.1h0M202.6 528.7h0M209.3 524.3h0M212.6 514.8h0M211.2 513.1h0M203.7 511.5h0M206.8 521.5h0M206.4 515.5h0M207.4 516.6h0M205.1 510.3h0M218.5 507.8h0M230.3 516h0M227.1 520h0M234.9 520.2h0M215.3 515.5h0M223 509.1h0M218.4 512.9h0M222.3 534h0M221.6 518.3h0M229.4 500.5h0M232.1 513.5h0M232.2 512.9h0M222.7 512.4h0M231.6 520.4h0M220.8 529.1h0M229.2 508.6h0M242.3 530h0M243.8 511.2h0M232.7 515.8h0M216.6 515h0M233 526.1h0M247.7 513.4h0M237.9 522.9h0M234.5 523.2h0M231.1 521.7h0M227.2 517.2h0M216.7 520.4h0M225.9 515.2h0M219.4 507h0" stroke="#8f86b8" stroke-width="0.80" stroke-linecap="round" fill="none" opacity="0.42"/>
<path d="M198.2 493L198.2 557.6" stroke="#8c8c8c" stroke-width="0.55" fill="none"/>
<path d="M198.2 557.6L249.5 557.6" stroke="#8c8c8c" stroke-width="0.55" fill="none"/>
<path d="M196.9 554.8L198.2 554.8" stroke="#8c8c8c" stroke-width="0.45" fill="none"/>
<text x="195.9" y="557.1" font-size="6.5" text-anchor="end" fill="#222" stroke="#222" stroke-width="0.08">0</text>
<path d="M196.9 536.3L198.2 536.3" stroke="#8c8c8c" stroke-width="0.45" fill="none"/>
<text x="195.9" y="538.6" font-size="6.5" text-anchor="end" fill="#222" stroke="#222" stroke-width="0.08">1</text>
<path d="M196.9 517.8L198.2 517.8" stroke="#8c8c8c" stroke-width="0.45" fill="none"/>
<text x="195.9" y="520.1" font-size="6.5" text-anchor="end" fill="#222" stroke="#222" stroke-width="0.08">2</text>
<path d="M196.9 499.3L198.2 499.3" stroke="#8c8c8c" stroke-width="0.45" fill="none"/>
<text x="195.9" y="501.6" font-size="6.5" text-anchor="end" fill="#222" stroke="#222" stroke-width="0.08">3</text>
<path d="M201.7 557.6L201.7 558.9" stroke="#8c8c8c" stroke-width="0.45" fill="none"/>
<text x="201.7" y="565.6" font-size="6.6" text-anchor="middle" fill="#222" stroke="#222" stroke-width="0.08">0</text>
<path d="M219 557.6L219 558.9" stroke="#8c8c8c" stroke-width="0.45" fill="none"/>
<text x="219" y="565.6" font-size="6.6" text-anchor="middle" fill="#222" stroke="#222" stroke-width="0.08">5</text>
<path d="M236.3 557.6L236.3 558.9" stroke="#8c8c8c" stroke-width="0.45" fill="none"/>
<text x="236.3" y="565.6" font-size="6.6" text-anchor="middle" fill="#222" stroke="#222" stroke-width="0.08">10</text>
<text x="225.2" y="486.9" font-size="6.9" text-anchor="middle" fill="#161616" stroke="#161616" stroke-width="0.12" font-style="italic">Emb</text>
<text x="223.6" y="574.5" font-size="7.1" text-anchor="middle" fill="#161616" stroke="#161616" stroke-width="0.12">Pseudotime</text>
<text x="186" y="529.2" font-size="6.85" text-anchor="middle" fill="#161616" stroke="#161616" stroke-width="0.12" transform="rotate(-90 186 526.7)">Log (expression + 1)</text>
<path d="M201.7 523C202.6 523 205.2 522.7 206.9 523.3C208.6 524 210.3 525.2 212.1 527C213.8 528.9 215.5 531.7 217.3 534.4C219 537.2 220.7 541.1 222.5 543.7C224.2 546.3 225.9 548.6 227.6 550.2C229.4 551.7 231.1 552.6 232.8 552.9C234.6 553.3 236.3 552.9 238 552C239.8 551.1 241.6 549.3 243.2 547.4C244.8 545.5 247 541.5 247.7 540.4" stroke="#2d2a55" stroke-width="0.95" fill="none" stroke-linecap="round"/>
<path d="M287.7 554.8H334.5" stroke="#6d6896" stroke-width="0.71" stroke-dasharray="1.3 0.3 2.5 0.3 0.7 0.3 9.9 0.3 4.7 0.3 0.7 0.3 19.9 0.3 18.5 0.3 6.5 0.3 6.7 0.3 16.4 0.3 12.9 0.3 21.5 0.3 20.9 0.3" opacity="0.85" fill="none"/>
<path d="M287.7 546.8H334.5" stroke="#6d6896" stroke-width="0.70" stroke-dasharray="9.5 0.3 4.0 0.3 18.8 0.3 17.6 0.3 17.3 0.3 16.8 0.3 7.7 0.3 20.7 0.3 6.1 0.3 13.7 0.3 16.9 0.3 2.0 0.3 12.0 0.3 5.4 0.3" opacity="0.85" fill="none"/>
<path d="M287.7 542.1H334.5" stroke="#6d6896" stroke-width="0.62" stroke-dasharray="3.1 0.9 1.2 0.9 0.7 0.7 3.9 0.5 2.4 0.4 4.4 0.3 4.0 0.9 4.4 0.3 4.4 0.3 0.6 0.8 4.0 1.0 3.0 0.5 2.4 0.9 4.3 0.4" opacity="0.85" fill="none"/>
<path d="M287.7 538.7H334.5" stroke="#6d6896" stroke-width="0.57" stroke-dasharray="1.8 0.3 0.6 1.5 2.7 1.5 1.8 0.6 1.6 1.6 0.8 1.4 1.8 1.1 1.5 0.6 2.3 1.6 1.3 1.5 1.9 0.3 1.6 1.3 2.3 0.9 2.5 1.7" opacity="0.85" fill="none"/>
<path d="M287.7 536.1H334.5" stroke="#6d6896" stroke-width="0.54" stroke-dasharray="1.8 1.2 1.8 1.0 1.4 1.2 1.4 1.5 0.4 2.4 0.5 1.0 0.4 0.6 0.6 0.4 0.5 1.3 0.7 0.8 0.4 0.5 0.7 0.5 1.7 1.9 0.7 0.3" opacity="0.85" fill="none"/>
<path d="M287.7 534H334.5" stroke="#6d6896" stroke-width="0.51" stroke-dasharray="0.5 0.3 1.0 0.4 1.0 3.3 0.4 3.7 1.1 1.9 1.2 1.2 1.1 3.8 0.6 1.8 0.9 2.6 1.1 1.8 0.4 2.0 1.0 1.2 0.4 0.5 0.5 3.5" opacity="0.85" fill="none"/>
<path d="M298.3 515.2h0M312 531h0M291.4 521h0M310.9 527.2h0M289.7 538.5h0M314 521.3h0M310 540.3h0M311.2 531h0M297.3 524.7h0M321.1 518.4h0M313.5 523.6h0M296.5 524.7h0M309.9 531h0M294.6 532.9h0M304.2 532.4h0M314 526.5h0M323.1 524.8h0M318.8 531.8h0M305.7 526.5h0M297.5 527.8h0M307 528.1h0M308.9 520.7h0M299 529.2h0M301.8 520.2h0M325.2 512.9h0M319.2 527.9h0M310.7 530.8h0M297.5 521.2h0M304.6 529h0M317.4 531.1h0M307.3 524h0M325.5 521h0M310.5 526.5h0M307 538.4h0M315.7 533.2h0M327 523h0M305.3 519.5h0M318.6 519h0M309.3 534.7h0M331.7 526.6h0M321.1 526.5h0M306 527.9h0M321.7 517.6h0M320.7 525.8h0M313.5 531.1h0M318.2 527.1h0M329.3 524.5h0M326.9 513.8h0M311.9 519.2h0M332 526.6h0M319.7 525.1h0M315.5 514.7h0M311.5 526.8h0M293.7 514.2h0M308.5 537.8h0M309.5 521.1h0M291.9 525.4h0M318.2 523.4h0M334 528.8h0M298.2 512.8h0M292.5 522.6h0M291.5 519.4h0M307.3 522.7h0M295.4 526.4h0M300.7 528.1h0M307.8 526h0M318.7 537.4h0M299.7 524.9h0M316.3 532.7h0M326.3 516.7h0M288.3 524.1h0M304.6 530h0M302.3 534.7h0M332.7 521.8h0M318.8 527.4h0M324.5 531.5h0M325.2 534.2h0M321.7 539.4h0M303.3 532.9h0M314.3 523.6h0M314.1 534.2h0M297.1 519.5h0M324 528h0M304.1 522.4h0M298.6 530.6h0M320.8 533.5h0M316.7 521.2h0M312.9 517.9h0M304.5 531.4h0M322.6 521.6h0M306 522.6h0M323.8 526.1h0M306.1 530.1h0M315.1 525.5h0M306.8 519.4h0M315 515.8h0M314.4 521.9h0M295.3 517.4h0M312.4 528.8h0M302.9 518.6h0M310.1 536.2h0M308.9 523.7h0M298 528.6h0M301.7 523.3h0M311.7 522h0M314.9 531.1h0M320.6 517.2h0M318.3 527.9h0M288.3 533.8h0M330.4 520.4h0M324.2 528.6h0M313.2 527.7h0M302.7 528.7h0M305.6 532.6h0M330 543.1h0M298.3 528.1h0M325.5 529.8h0M298 534.2h0M306.4 527.8h0M318.9 526.9h0M290.8 529h0M310.3 533h0M289.1 538.7h0M298.9 522.4h0M319.2 518.4h0M305.2 526.5h0M319.7 520.3h0M296.2 539.1h0M319.6 535.3h0M303.1 521.9h0M319.1 520.6h0M330.7 521.5h0M306.2 521.4h0M314.6 533.4h0M308.7 517.4h0M305.8 533.1h0M313 531.4h0M318.5 531.6h0M312.8 538.8h0M312.3 531.8h0M326 508.2h0M299.4 521.5h0M313 523.9h0M301.8 514.3h0M299.1 517.5h0M293.4 533.1h0M331.2 539.6h0M328.9 521.4h0M314.2 523.5h0M301.1 529.4h0M329.5 523.1h0M307.3 515.9h0M302.6 537h0M305.9 531.9h0M314.7 525.3h0M308.7 525.8h0M325.8 534.9h0M299.5 522.9h0M329.4 518.4h0M309.7 528.6h0M307.7 535.9h0M309.6 524h0M313.9 513.5h0M313 524.8h0M303 539.6h0M314.1 532.1h0M301.5 524.6h0M322.2 524.5h0M304.2 524h0M293.7 513.4h0M333.4 521.9h0M309.9 527h0M304.4 513.6h0M328.3 522.6h0M330.9 526.5h0M312.6 528.4h0M297.8 528.8h0M328.2 536.8h0M293.6 522.9h0M308 532.5h0M290.8 532.9h0M318.4 530h0M313.6 533.5h0M331.1 522.3h0M303.9 525.1h0M315.4 537.1h0M317.4 532h0M307.7 530.9h0M303.4 533.3h0M317 522.4h0M308.1 521h0M323 523.7h0M312.8 532.7h0M309.8 536.2h0M307.6 527.4h0M330.1 521.3h0M291.6 521.1h0M315.1 535h0M329.6 529.1h0M298.7 521.8h0M320.2 539.3h0M314.6 529.5h0M309.6 516.8h0M306.3 524.6h0M314.5 531h0M325 528.4h0M329.1 528.4h0M315.6 526.9h0M298.9 530h0M319.5 527.1h0M304 513.4h0M303.1 524.6h0M303.6 525h0M321.1 517.5h0M301.9 523.5h0M301.1 525.8h0M303 530.1h0M320 534.5h0M298.3 526.2h0M294 528.6h0M327.4 527.7h0M290.7 516.5h0M331.5 529.2h0M328.3 526.7h0M302 534.7h0M309.3 528.7h0M310.9 530.5h0M309.9 529.5h0M291.9 528.2h0M302.6 523.8h0M304 518h0M304.4 524.4h0M290.8 520.7h0" stroke="#8f86b8" stroke-width="0.80" stroke-linecap="round" fill="none" opacity="0.42"/>
<path d="M284.2 493L284.2 557.6" stroke="#8c8c8c" stroke-width="0.55" fill="none"/>
<path d="M284.2 557.6L336 557.6" stroke="#8c8c8c" stroke-width="0.55" fill="none"/>
<path d="M282.9 554.8L284.2 554.8" stroke="#8c8c8c" stroke-width="0.45" fill="none"/>
<text x="281.9" y="557.1" font-size="6.5" text-anchor="end" fill="#222" stroke="#222" stroke-width="0.08">0</text>
<path d="M282.9 543.2L284.2 543.2" stroke="#8c8c8c" stroke-width="0.45" fill="none"/>
<text x="281.9" y="545.5" font-size="6.5" text-anchor="end" fill="#222" stroke="#222" stroke-width="0.08">1</text>
<path d="M282.9 531.6L284.2 531.6" stroke="#8c8c8c" stroke-width="0.45" fill="none"/>
<text x="281.9" y="533.9" font-size="6.5" text-anchor="end" fill="#222" stroke="#222" stroke-width="0.08">2</text>
<path d="M282.9 520L284.2 520" stroke="#8c8c8c" stroke-width="0.45" fill="none"/>
<text x="281.9" y="522.3" font-size="6.5" text-anchor="end" fill="#222" stroke="#222" stroke-width="0.08">3</text>
<path d="M282.9 508.4L284.2 508.4" stroke="#8c8c8c" stroke-width="0.45" fill="none"/>
<text x="281.9" y="510.7" font-size="6.5" text-anchor="end" fill="#222" stroke="#222" stroke-width="0.08">4</text>
<path d="M282.9 496.8L284.2 496.8" stroke="#8c8c8c" stroke-width="0.45" fill="none"/>
<text x="281.9" y="499.1" font-size="6.5" text-anchor="end" fill="#222" stroke="#222" stroke-width="0.08">5</text>
<path d="M287.7 557.6L287.7 558.9" stroke="#8c8c8c" stroke-width="0.45" fill="none"/>
<text x="287.7" y="565.6" font-size="6.6" text-anchor="middle" fill="#222" stroke="#222" stroke-width="0.08">0</text>
<path d="M305 557.6L305 558.9" stroke="#8c8c8c" stroke-width="0.45" fill="none"/>
<text x="305" y="565.6" font-size="6.6" text-anchor="middle" fill="#222" stroke="#222" stroke-width="0.08">5</text>
<path d="M322.3 557.6L322.3 558.9" stroke="#8c8c8c" stroke-width="0.45" fill="none"/>
<text x="322.3" y="565.6" font-size="6.6" text-anchor="middle" fill="#222" stroke="#222" stroke-width="0.08">10</text>
<text x="310.9" y="486.9" font-size="6.9" text-anchor="middle" fill="#161616" stroke="#161616" stroke-width="0.12" font-style="italic">Ifng</text>
<text x="309.9" y="574.5" font-size="7.1" text-anchor="middle" fill="#161616" stroke="#161616" stroke-width="0.12">Pseudotime</text>
<text x="272.7" y="529.2" font-size="6.85" text-anchor="middle" fill="#161616" stroke="#161616" stroke-width="0.12" transform="rotate(-90 272.7 526.7)">Log (expression + 1)</text>
<path d="M287.7 538.2C288.2 538.7 289.4 540.1 290.5 540.9C291.5 541.6 292.4 542.5 293.9 542.6C295.5 542.7 298 541.7 299.8 541.5C301.7 541.2 303.3 540.8 305 540.9C306.7 540.9 308.2 542 310.2 541.8C312.2 541.7 315.1 540.4 317.1 540C319.1 539.5 320.6 539.2 322.3 539.1C324 539.1 326 539.1 327.5 539.7C328.9 540.3 329.9 541.5 330.9 542.6C332 543.8 333.3 546 333.7 546.7" stroke="#2d2a55" stroke-width="0.95" fill="none" stroke-linecap="round"/>
<path d="M371.8 554.8H421" stroke="#6d6896" stroke-width="0.71" stroke-dasharray="10.7 0.3 5.6 0.3 18.7 0.3 14.4 0.3 15.7 0.3 18.2 0.3 20.8 0.3 7.2 0.3 4.6 0.3 17.2 0.3 3.7 0.3 9.2 0.3 8.0 0.3 17.6 0.3" opacity="0.85" fill="none"/>
<path d="M371.8 532.7H421" stroke="#6d6896" stroke-width="0.59" stroke-dasharray="2.1 0.3 3.0 0.8 3.1 0.4 1.7 1.1 3.4 0.9 3.1 0.5 2.4 0.6 1.2 0.8 0.8 0.6 2.4 1.1 1.5 0.5 2.9 0.9 1.9 1.2 2.4 1.0" opacity="0.85" fill="none"/>
<path d="M371.8 519.7H421" stroke="#6d6896" stroke-width="0.54" stroke-dasharray="0.9 0.5 0.6 2.0 1.1 1.3 1.5 2.4 0.6 2.4 0.6 2.5 1.0 0.6 1.4 0.8 1.2 0.5 1.7 0.3 1.2 1.3 1.1 1.8 0.5 0.7 0.9 2.4" opacity="0.85" fill="none"/>
<path d="M371.8 510.6H421" stroke="#6d6896" stroke-width="0.47" stroke-dasharray="0.6 4.4 0.5 2.7 0.6 3.8 0.7 5.2 0.6 4.6 0.4 0.7 0.6 6.3 0.5 2.2 0.5 3.6 0.5 0.5 0.6 6.6 0.5 6.8 0.6 5.3 0.5 6.1" opacity="0.85" fill="none"/>
<path d="M371.8 503.5H421" stroke="#6d6896" stroke-width="0.45" stroke-dasharray="0.5 6.0 0.5 0.5 0.4 0.4 0.4 9.8 0.5 3.8 0.5 7.8 0.5 5.3 0.5 10.9 0.5 2.4 0.5 10.6 0.5 7.2 0.4 8.5 0.5 4.3 0.4 2.0" opacity="0.85" fill="none"/>
<path d="M371.8 497.6H421" stroke="#6d6896" stroke-width="0.45" stroke-dasharray="0.4 9.5 0.4 11.2 0.5 9.0 0.4 3.8 0.4 9.9 0.5 6.7 0.5 11.0 0.4 6.3 0.4 8.2 0.5 5.4 0.5 2.6 0.5 3.5 0.5 8.5 0.5 11.2" opacity="0.85" fill="none"/>
<path d="M368.3 493L368.3 557.6" stroke="#8c8c8c" stroke-width="0.55" fill="none"/>
<path d="M368.3 557.6L422.5 557.6" stroke="#8c8c8c" stroke-width="0.55" fill="none"/>
<path d="M367 554.8L368.3 554.8" stroke="#8c8c8c" stroke-width="0.45" fill="none"/>
<text x="366" y="557.1" font-size="6.5" text-anchor="end" fill="#222" stroke="#222" stroke-width="0.08">0.0</text>
<path d="M367 538.8L368.3 538.8" stroke="#8c8c8c" stroke-width="0.45" fill="none"/>
<text x="366" y="541.2" font-size="6.5" text-anchor="end" fill="#222" stroke="#222" stroke-width="0.08">0.5</text>
<path d="M367 522.9L368.3 522.9" stroke="#8c8c8c" stroke-width="0.45" fill="none"/>
<text x="366" y="525.2" font-size="6.5" text-anchor="end" fill="#222" stroke="#222" stroke-width="0.08">1.0</text>
<path d="M367 506.9L368.3 506.9" stroke="#8c8c8c" stroke-width="0.45" fill="none"/>
<text x="366" y="509.3" font-size="6.5" text-anchor="end" fill="#222" stroke="#222" stroke-width="0.08">1.5</text>
<path d="M371.8 557.6L371.8 558.9" stroke="#8c8c8c" stroke-width="0.45" fill="none"/>
<text x="371.8" y="565.6" font-size="6.6" text-anchor="middle" fill="#222" stroke="#222" stroke-width="0.08">0</text>
<path d="M389.8 557.6L389.8 558.9" stroke="#8c8c8c" stroke-width="0.45" fill="none"/>
<text x="389.8" y="565.6" font-size="6.6" text-anchor="middle" fill="#222" stroke="#222" stroke-width="0.08">5</text>
<path d="M407.8 557.6L407.8 558.9" stroke="#8c8c8c" stroke-width="0.45" fill="none"/>
<text x="407.8" y="565.6" font-size="6.6" text-anchor="middle" fill="#222" stroke="#222" stroke-width="0.08">10</text>
<text x="396" y="486.9" font-size="6.9" text-anchor="middle" fill="#161616" stroke="#161616" stroke-width="0.12" font-style="italic">Kit</text>
<text x="395.1" y="574.5" font-size="7.1" text-anchor="middle" fill="#161616" stroke="#161616" stroke-width="0.12">Pseudotime</text>
<text x="350.7" y="529.2" font-size="6.85" text-anchor="middle" fill="#161616" stroke="#161616" stroke-width="0.12" transform="rotate(-90 350.7 526.7)">Log (expression + 1)</text>
<path d="M371.8 543.6C372.4 544.3 374.2 546.9 375.4 547.8C376.6 548.7 377.5 549.5 379 549.1C380.5 548.6 382.6 546.4 384.4 545.2C386.2 544.1 388 541.9 389.8 542C391.6 542.1 393.4 544.3 395.2 545.9C397 547.5 398.8 550.5 400.6 551.6C402.4 552.7 404.2 552.7 406 552.6C407.8 552.5 409.6 551.9 411.4 551C413.2 550 415.3 548 416.8 546.8C418.3 545.6 419.8 544.2 420.4 543.6" stroke="#2d2a55" stroke-width="0.95" fill="none" stroke-linecap="round"/>
<path d="M448.9 554.7H498" stroke="#6d6896" stroke-width="0.71" stroke-dasharray="16.7 0.3 21.7 0.3 18.5 0.3 4.6 0.3 14.5 0.3 21.6 0.3 12.7 0.3 5.6 0.3 5.5 0.3 10.5 0.3 10.7 0.3 15.4 0.3 13.7 0.3 5.4 0.3" opacity="0.85" fill="none"/>
<path d="M448.9 539.4H498" stroke="#6d6896" stroke-width="0.71" stroke-dasharray="4.2 0.3 14.5 0.3 5.8 0.3 4.3 0.3 22.7 0.3 1.0 0.3 11.2 0.3 14.7 0.3 4.6 0.3 11.2 0.3 9.4 0.3 19.9 0.3 16.6 0.3 5.0 0.3" opacity="0.85" fill="none"/>
<path d="M448.9 530.4H498" stroke="#6d6896" stroke-width="0.64" stroke-dasharray="1.6 0.7 4.5 0.6 2.7 0.3 1.7 0.4 1.3 0.8 1.8 0.7 4.8 0.3 5.4 0.3 4.2 0.6 2.2 0.5 4.9 0.7 4.4 0.5 5.9 0.4 1.9 0.6" opacity="0.85" fill="none"/>
<path d="M448.9 524.1H498" stroke="#6d6896" stroke-width="0.59" stroke-dasharray="3.5 1.2 0.8 0.7 1.7 0.4 0.4 1.1 3.4 0.5 3.4 1.1 3.0 0.8 3.3 0.6 2.1 0.9 1.1 1.1 1.0 0.4 2.4 0.4 1.4 1.2 0.7 0.9" opacity="0.85" fill="none"/>
<path d="M448.9 519.1H498" stroke="#6d6896" stroke-width="0.53" stroke-dasharray="1.1 1.8 1.0 0.9 1.3 1.0 1.4 2.6 0.9 0.7 1.5 2.7 1.6 0.4 1.4 2.7 0.7 0.5 0.7 1.6 0.9 2.2 1.4 0.7 1.1 1.3 0.8 2.3" opacity="0.85" fill="none"/>
<path d="M448.9 515.1H498" stroke="#6d6896" stroke-width="0.50" stroke-dasharray="0.7 3.2 0.7 3.9 0.8 2.3 0.5 1.7 1.1 0.3 1.1 2.1 1.0 1.6 0.8 2.0 0.9 2.7 0.6 2.0 0.5 1.1 1.1 3.5 0.6 2.1 0.8 2.5" opacity="0.85" fill="none"/>
<path d="M448.9 511.7H498" stroke="#6d6896" stroke-width="0.48" stroke-dasharray="0.7 5.3 0.7 3.4 0.6 2.1 0.8 0.8 0.6 4.8 0.7 5.6 0.6 1.4 0.5 5.7 0.8 4.4 0.6 3.9 0.7 0.4 0.8 4.5 0.7 1.0 0.6 3.6" opacity="0.85" fill="none"/>
<path d="M448.9 508.8H498" stroke="#6d6896" stroke-width="0.46" stroke-dasharray="0.5 6.7 0.5 3.5 0.5 4.5 0.4 2.4 0.5 2.2 0.4 4.8 0.5 7.4 0.4 0.7 0.6 6.6 0.5 4.1 0.6 6.3 0.4 2.7 0.4 2.0 0.6 1.8" opacity="0.85" fill="none"/>
<path d="M465.1 504.4h0M464.5 507.9h0M454.4 497.7h0M450.8 498.8h0M457.1 508.2h0M449.3 508.9h0M452.3 501.9h0M461.8 505.5h0M467.8 496h0M454.6 497.2h0M454.7 506.9h0M458.6 506.8h0M456.9 515.3h0M458.5 509.6h0M462.1 517.7h0M451.3 508.1h0M454.7 504.2h0M459.2 513.1h0M463 508.8h0M454.6 504.4h0M449.6 512.4h0M450.9 508.6h0M460.5 491.1h0M453.9 507.3h0M457.1 505.9h0" stroke="#8f86b8" stroke-width="0.80" stroke-linecap="round" fill="none" opacity="0.42"/>
<path d="M446.2 486.5L446.2 557.5" stroke="#8c8c8c" stroke-width="0.55" fill="none"/>
<path d="M446.2 557.5L499.5 557.5" stroke="#8c8c8c" stroke-width="0.55" fill="none"/>
<path d="M444.9 554.7L446.2 554.7" stroke="#8c8c8c" stroke-width="0.45" fill="none"/>
<text x="443.9" y="557" font-size="6.5" text-anchor="end" fill="#222" stroke="#222" stroke-width="0.08">0</text>
<path d="M444.9 532.6L446.2 532.6" stroke="#8c8c8c" stroke-width="0.45" fill="none"/>
<text x="443.9" y="534.9" font-size="6.5" text-anchor="end" fill="#222" stroke="#222" stroke-width="0.08">1</text>
<path d="M444.9 510.5L446.2 510.5" stroke="#8c8c8c" stroke-width="0.45" fill="none"/>
<text x="443.9" y="512.8" font-size="6.5" text-anchor="end" fill="#222" stroke="#222" stroke-width="0.08">2</text>
<path d="M444.9 488.4L446.2 488.4" stroke="#8c8c8c" stroke-width="0.45" fill="none"/>
<text x="443.9" y="490.7" font-size="6.5" text-anchor="end" fill="#222" stroke="#222" stroke-width="0.08">3</text>
<path d="M448.9 557.5L448.9 558.8" stroke="#8c8c8c" stroke-width="0.45" fill="none"/>
<text x="448.9" y="565.6" font-size="6.6" text-anchor="middle" fill="#222" stroke="#222" stroke-width="0.08">0</text>
<path d="M466.5 557.5L466.5 558.8" stroke="#8c8c8c" stroke-width="0.45" fill="none"/>
<text x="466.5" y="565.6" font-size="6.6" text-anchor="middle" fill="#222" stroke="#222" stroke-width="0.08">5</text>
<path d="M484.2 557.5L484.2 558.8" stroke="#8c8c8c" stroke-width="0.45" fill="none"/>
<text x="484.2" y="565.6" font-size="6.6" text-anchor="middle" fill="#222" stroke="#222" stroke-width="0.08">10</text>
<text x="472.6" y="486.9" font-size="6.9" text-anchor="middle" fill="#161616" stroke="#161616" stroke-width="0.12" font-style="italic">Il7r</text>
<text x="472.6" y="574.5" font-size="7.1" text-anchor="middle" fill="#161616" stroke="#161616" stroke-width="0.12">Pseudotime</text>
<text x="433.6" y="525.9" font-size="6.85" text-anchor="middle" fill="#161616" stroke="#161616" stroke-width="0.12" transform="rotate(-90 433.6 523.4)">Log (expression + 1)</text>
<path d="M448.9 531.5C449.8 532 452.4 534 454.2 534.8C456 535.7 457.7 536 459.5 536.6C461.3 537.1 463 537.1 464.8 538.1C466.5 539.1 468.3 541.3 470.1 542.5C471.8 543.8 473.9 545.2 475.4 545.9C476.8 546.5 477.4 546.5 478.9 546.3C480.4 546.1 482.4 545.6 484.2 544.8C486 543.9 487.6 542.9 489.5 541.4C491.4 540 494.8 536.8 495.8 535.9" stroke="#2d2a55" stroke-width="0.95" fill="none" stroke-linecap="round"/>
</g>
<g>
<text x="1.2" y="594" font-size="10.2" text-anchor="start" fill="#000" stroke="#000" stroke-width="0.12" font-weight="bold">N</text>
<path d="M29.4 592L29.4 698.4" stroke="#333" stroke-width="0.55" fill="none"/>
<path d="M29.4 698.4L170 698.4" stroke="#333" stroke-width="0.55" fill="none"/>
<path d="M28 600.2L29.4 600.2" stroke="#333" stroke-width="0.45" fill="none"/>
<text x="27.2" y="602.6" font-size="6.8" text-anchor="end" fill="#161616" stroke="#161616" stroke-width="0.12">30</text>
<path d="M28 631.3L29.4 631.3" stroke="#333" stroke-width="0.45" fill="none"/>
<text x="27.2" y="633.7" font-size="6.8" text-anchor="end" fill="#161616" stroke="#161616" stroke-width="0.12">20</text>
<path d="M28 662.3L29.4 662.3" stroke="#333" stroke-width="0.45" fill="none"/>
<text x="27.2" y="664.7" font-size="6.8" text-anchor="end" fill="#161616" stroke="#161616" stroke-width="0.12">10</text>
<path d="M28 693.5L29.4 693.5" stroke="#333" stroke-width="0.45" fill="none"/>
<text x="27.2" y="695.9" font-size="6.8" text-anchor="end" fill="#161616" stroke="#161616" stroke-width="0.12">0</text>
<path d="M41 698.4L41 699.8" stroke="#333" stroke-width="0.45" fill="none"/>
<text x="41" y="706.9" font-size="6.8" text-anchor="middle" fill="#161616" stroke="#161616" stroke-width="0.12">−1.0</text>
<path d="M69.9 698.4L69.9 699.8" stroke="#333" stroke-width="0.45" fill="none"/>
<text x="69.9" y="706.9" font-size="6.8" text-anchor="middle" fill="#161616" stroke="#161616" stroke-width="0.12">−0.5</text>
<path d="M98.2 698.4L98.2 699.8" stroke="#333" stroke-width="0.45" fill="none"/>
<text x="98.2" y="706.9" font-size="6.8" text-anchor="middle" fill="#161616" stroke="#161616" stroke-width="0.12">0.0</text>
<path d="M126.6 698.4L126.6 699.8" stroke="#333" stroke-width="0.45" fill="none"/>
<text x="126.6" y="706.9" font-size="6.8" text-anchor="middle" fill="#161616" stroke="#161616" stroke-width="0.12">0.5</text>
<path d="M155.4 698.4L155.4 699.8" stroke="#333" stroke-width="0.45" fill="none"/>
<text x="155.4" y="706.9" font-size="6.8" text-anchor="middle" fill="#161616" stroke="#161616" stroke-width="0.12">1.0</text>
<text x="8.9" y="648" font-size="7" text-anchor="middle" fill="#161616" stroke="#161616" stroke-width="0.12" transform="rotate(-90 8.9 645.5)" textLength="46.3" lengthAdjust="spacing">−Log<tspan font-size="4.2" dy="1.6">10</tspan><tspan dy="-1.6" font-size="4.2">​</tspan> (<tspan font-style="italic">P</tspan>_val)</text>
<text x="98.9" y="717.3" font-size="7" text-anchor="middle" fill="#161616" stroke="#161616" stroke-width="0.12" textLength="83" lengthAdjust="spacing">Log<tspan font-size="4.2" dy="1.6">2</tspan><tspan dy="-1.6" font-size="4.2">​</tspan> <tspan font-style="italic">Il27ra</tspan><tspan font-size="4.2" dy="-2.9">−/−</tspan><tspan dy="2.9" font-size="4.2">​</tspan> vs. <tspan font-style="italic">Il27ra</tspan><tspan font-size="4.2" dy="-2.9">+/−</tspan><tspan dy="2.9" font-size="4.2">​</tspan></text>
<path d="M92.7 690.8h0M85.5 687.2h0M95.3 690.9h0M90 688.9h0M97.5 693.2h0M93.9 688.7h0M85.4 691h0M91.3 690.2h0M93.3 688.7h0M83.7 690.8h0M93.6 689.9h0M83.7 684.1h0M95.6 692.4h0M92.8 689.8h0M88.4 685.3h0M94.2 691.8h0M90.1 687.2h0M95.4 692.4h0M89.6 689.8h0M81 689h0M89.9 687.4h0M85.8 683.7h0M92.3 690.2h0M92.5 691.9h0M93 689.5h0M85.1 686.9h0M83.9 682.8h0M97.1 692.7h0M82.1 686h0M94.1 691.2h0M97.4 691.4h0M89.8 689.7h0M82.8 689.1h0M93.8 688.2h0M91.8 689.1h0M97 690.3h0M86.7 685.1h0M97.6 691.1h0M91 689h0M94.9 690.2h0M91.5 689.2h0M87 688.7h0M94.6 690.7h0M80.8 685.4h0M88.7 687.8h0M97 691.4h0M92.8 688.2h0M76 674.9h0M91.3 691.2h0M81 686.3h0M86.4 688.4h0M81.2 682.6h0M89.6 690.2h0M96.7 690.9h0M95.8 690.9h0M96.6 690.5h0M94.5 689.1h0M90.9 689.3h0M94.1 690.9h0M96.1 691h0M91.4 689.2h0M89.3 690.7h0M89.7 687.5h0M87.9 688.6h0M86.9 689.7h0M92.3 690.4h0M90.5 687.4h0M96.6 692.3h0M92.4 691.5h0M81.7 686.3h0M86.6 689.4h0M96.5 691.5h0M97.5 691.7h0M94.3 690.9h0M83.4 681.6h0M95.8 692.8h0M94.3 690.6h0M94.7 689.5h0M85.3 688.9h0M87.7 684.9h0M95.8 689.4h0M84.8 687.6h0M96.8 691.4h0M81.8 681.6h0M90.3 688.2h0M97.4 691.6h0M92.7 690h0M93.6 690.1h0M85.3 684.2h0M93.4 689.4h0M91.6 688.6h0M90.7 686.4h0M95.9 689.7h0M94.5 691.7h0M95.8 690.7h0M89.1 685.6h0M74.2 684.1h0M96.4 692.7h0M95.7 692.8h0M72.2 674.5h0M93.4 690h0M92.9 691.3h0M92.4 690.1h0M87.3 685.9h0M95.6 692.2h0M87.8 688.9h0M88.4 688.9h0M89.2 688h0M82.8 683.6h0M84.3 687.4h0M85.9 683.7h0M80.2 685.8h0M86.8 690.3h0M93.5 692.5h0M97.1 692.4h0M92.7 691.1h0M93 690.4h0M87.7 690.1h0M93.9 690.3h0M89.1 687.6h0M92.8 691.6h0M96.6 691.7h0M88.7 686.1h0M81.2 681h0M87.1 685.4h0M87.9 686.3h0M91.2 687.8h0M89.7 688.2h0M93.2 688.9h0M93.1 688.1h0M93.6 690.4h0M95 691.9h0M91.6 689.9h0M86.2 689.9h0M95.4 690.7h0M88.1 688.7h0M97.3 691h0M90 691.5h0M83.2 681.7h0M96.6 691.7h0M96.7 692.4h0M90.9 692.2h0M93 688.8h0M90.5 689.3h0M97.5 693h0M96.6 690.6h0M95.8 692h0M91.4 692h0M81.9 686.7h0M84.1 687.7h0M94.3 688.1h0M91.6 689.4h0M97.1 692h0M72.9 681.3h0M92 691.7h0M97.4 692.8h0M93.2 689h0M96.2 691.9h0M78.1 683h0M78.1 685.7h0M87.8 686.7h0M89.4 687.1h0M93.5 688.7h0M97.3 691h0M93.5 690.3h0M94.5 689.7h0M92.7 690.8h0M91.9 690h0M79.4 687.3h0M79.7 687.8h0M79.9 688.1h0M93.5 690.8h0M94.8 690.1h0M89.8 686.1h0M87.2 685.2h0M94.8 690.7h0M96 689.9h0M88.1 691.1h0M95 689.3h0M97 690.8h0M97.1 692.1h0M84.5 688.6h0M95.4 689.2h0M85.8 685h0M86.7 688.7h0M82.2 684.2h0M91.5 689.2h0M95.4 691h0M76.6 676h0M79.7 688.7h0M94.6 690.7h0M91.7 690h0M92.3 691.5h0M89.1 687.6h0M85.5 688.4h0M82 689.5h0M94.1 692.2h0M88.2 688.5h0M80.3 684.8h0M91.4 688.7h0M87.7 684.6h0M88.3 687.5h0M80 679.5h0M86.3 685.3h0M86.3 684.8h0M84.4 681.7h0M92.9 690h0M91.6 691.1h0M95 690.9h0M88.5 684.5h0M93.2 690.2h0M89.6 691.2h0M90.7 690.1h0M86.6 683.5h0M90.6 690.8h0M96 692.2h0M95 692.7h0M83.6 689.9h0M90.6 687.9h0M96.3 691.9h0M88.6 684.9h0M85.4 688.2h0M89.7 689.3h0M82.5 686.8h0M91.3 689.3h0M89.9 687.1h0M87.8 688.5h0M86.4 686.5h0M92.1 687.4h0M83 687.1h0M81.9 686.6h0M87.4 688.1h0M85.1 683h0M85.3 686.5h0M93.1 688.4h0M90.3 687.9h0M92.5 692.5h0M78.9 687.2h0M97.2 691.4h0M86.8 685.5h0M93.9 691.6h0M89.3 688.1h0M90.6 691h0M94.1 689.6h0M96.2 690.5h0M79.9 686h0M91 688.9h0M88.6 689.2h0M85.3 686.2h0M78.1 676.3h0M89.8 688.4h0M93.2 690h0M91.3 689.1h0M84.8 687.9h0M97.5 692.4h0M97.5 690.6h0M91.5 688.2h0M85 688.6h0M90.8 689.6h0M85.1 685.4h0M92.2 689.9h0M96.3 689.8h0M83.8 688.4h0M97.5 692.4h0M94.7 688.7h0M86.1 688.5h0M91.4 691.1h0M95.1 690.1h0M93 690.9h0M87.1 686.2h0M86.8 687.4h0M91.8 690.5h0M80.4 685.9h0M97.3 690.3h0M93.5 689.2h0M91.5 690.9h0M90.4 689.5h0M97.1 691.5h0M87.7 686.9h0M88.3 686.6h0M96.3 690.4h0M91.8 686.3h0M94.5 689.8h0M97.5 692.9h0M88 689h0M94.7 689.5h0M97 692.6h0M90.1 687.3h0M92.1 687.6h0M85.9 690.3h0M83.8 688h0M91.4 688.2h0M84 684.5h0M93.3 689.4h0M95.3 690.1h0M93.8 689.2h0M97.4 692.5h0M92.5 690.4h0M90.7 689.8h0M96.2 691.5h0M81.4 686.9h0M94.3 690.8h0M88.4 688.2h0M91.6 690.6h0M97.1 690.7h0M95.7 690.9h0M87.8 689.8h0M92.6 686.9h0M83.3 681.3h0M87.4 684.2h0M97.3 691.9h0M88.6 688.8h0M90 691.5h0M91.2 685.7h0M89.5 686.9h0M84.4 687.9h0M91.3 687.8h0M86.4 685.3h0M82.1 681.6h0M91.1 687.4h0M86.1 686.3h0M85.5 688.7h0M91.7 690h0M86.8 687h0M88.9 688.5h0M81.5 687.9h0M86.9 688.2h0M94.6 688.4h0M95.1 689.7h0M85.9 685.2h0M86.2 684.9h0M95.9 690.9h0M88.4 687.6h0M97.2 690.3h0M90.7 687.5h0M91.4 687.1h0M84.9 685.4h0M97.2 692.9h0M88 690.2h0M93.2 687.1h0M95.8 691.3h0M95.9 691.2h0M95.1 689.2h0M96.8 691.3h0M78.4 681.4h0M84.2 682.9h0M95.2 690h0M91.6 686.4h0M85 686.8h0M86.9 687.1h0M76.7 678.5h0M94 691.7h0M92.7 689.2h0M97.6 692.1h0M96.1 690h0M86.2 688.5h0M95.9 692.1h0M89.7 688.3h0M88.9 685h0M93.4 691.7h0M83.6 685.5h0M94.9 690h0M90 687.8h0M86.8 685h0M91 688.8h0M93.8 691h0M93.1 690.2h0M90.3 690.8h0M94.5 690.6h0M95.9 689.2h0M84 687.9h0M89.7 689.2h0M91.7 688.1h0M86.9 687.3h0M89.8 689.4h0M83.4 683.8h0M96.5 692.2h0M95.5 692.4h0M97.2 691h0M86.1 688.4h0M87.5 690.6h0M89.7 686.5h0M95.9 690.8h0M92 689.3h0M92.9 691h0M93.3 691.3h0M90.6 688.2h0M87.2 686.5h0M86.8 685.8h0M88.9 688.1h0M94.2 691h0M90.9 690.7h0M97.2 690.4h0M89.4 691.2h0M86.8 688.1h0M83.6 686.1h0M95.9 692.4h0M95.2 690.8h0M75.2 676.8h0M93.2 688.9h0M84.1 683.8h0M95.3 689.9h0M91.8 687.6h0M87.3 689.7h0M96.5 690.6h0M93.8 690.5h0M94.9 691.1h0M82.1 680.2h0M83.6 684.9h0M83.7 683.9h0M94.9 688.9h0M81.3 685.9h0M95.4 691.1h0M90.7 689.9h0M90 689.8h0M96.4 691.2h0M95.1 688.7h0M91 688.6h0M92.7 689.4h0M97.2 692h0M78.4 687.2h0M97.1 691.8h0M95.3 691.9h0M90.4 689.4h0M81.1 687.8h0M92.4 689.2h0M97.5 691.9h0M95.2 691.7h0M91.2 687.5h0M95.6 692h0M94.9 692.4h0M96.8 692.1h0M93.6 690.9h0M95.7 690.1h0M94.9 689.2h0M96.6 691.6h0M81.2 688.9h0M81 684.4h0M93.7 687.9h0M81.1 689.7h0M91 690.7h0M90.9 690.9h0M85.7 688.6h0M94.4 692.8h0M92.4 690.3h0M92.5 690.8h0M84.7 685.4h0M87.9 689.1h0M80.2 686.5h0M94.5 690.2h0M91.4 688.7h0M89.5 687.8h0M91 689.6h0M89.5 687.5h0M93.3 689.6h0M96.1 692.4h0M95 689.7h0M96.7 692.4h0M82.8 682.9h0M87.6 684h0M96.3 691.5h0M95.3 692.2h0M86.7 684.9h0M87 684.3h0M94.2 690.5h0M84 684.9h0M96.7 690.2h0M95.5 689.5h0M86.9 685.2h0M94 690.9h0M93.3 690.9h0M83.1 687.4h0M91.8 690.4h0M89.7 685.2h0M91.7 690.9h0M97.4 692h0M90 686.7h0M87 689.4h0M91.5 688.5h0M96.9 691h0M92.1 689h0M95.6 691.4h0M96.1 691.8h0M85.1 689.2h0M95.9 690h0M92.7 690.3h0M90.7 688.4h0M89.1 689.2h0M94.6 691.2h0M96.1 690.8h0M84.6 682.8h0M91.3 689.4h0M96.1 691.2h0M95.8 690.7h0M87.7 686h0M83.7 686.8h0M95.6 690.3h0M90.5 685.6h0M86.8 686.5h0M89.6 690.5h0M93.5 689.6h0M84.5 689.1h0M82.4 688.4h0M85.1 687.3h0M86.3 686.5h0M96.6 691.7h0M95.1 690.4h0M79.1 688.7h0M89 690h0M86.6 685.8h0M84.6 690.9h0M95.8 690.4h0M89.9 688.3h0M91.9 688.4h0M94.4 690.3h0M83.3 683.4h0M88.4 687.3h0M73.9 676.5h0M83.3 684.2h0M92.2 691.4h0M89.8 689.3h0M93 691.3h0M91.8 691.3h0M90.8 689.9h0M93.7 688.9h0M92.8 689.7h0M93.3 688.1h0M96.8 691.3h0M82.1 686.8h0M96 690.5h0M90.4 687.4h0M95.3 688.6h0M94.1 688.8h0M86.3 686.3h0M83.3 684.1h0M86.3 690.2h0M76.8 679.1h0M97.6 692.5h0M80 679h0M93.4 689h0M89.1 690h0M93.6 688.8h0M74.6 676.3h0M96.8 691.9h0M73.4 683.4h0M81.3 688h0M92.7 689.9h0M91.9 687.8h0M92.9 687h0M96.9 691.9h0M93.5 688.5h0M89.4 687.8h0M91.4 687.3h0M96.1 690.5h0M90.1 688.4h0M87 689.5h0M95.5 691.4h0M95.6 689.7h0M95.4 690.7h0M94.7 689.8h0M85.2 688.9h0M88.7 690h0M91 690.7h0M81.9 683.7h0M82 686h0M87.9 689.1h0M84.9 682.6h0M96 691.7h0M90.2 688.9h0M87.7 685.1h0M78.4 689h0M84.4 682.7h0M97.1 690.2h0M91.5 689.9h0M88.6 689.3h0M93.6 691.3h0M97.5 690.7h0M91.6 687.5h0M93.3 688.9h0M96.7 691.1h0M96.2 691.3h0M93.7 691.8h0M95.6 691.1h0M92.6 690.3h0M86.1 686.4h0M89 689.2h0M82.2 684.1h0M86 688.2h0M88.3 687.5h0M72.1 673.5h0M80.8 681.4h0M90 687h0M88 689.7h0M88.7 687h0M92.1 690.5h0M94 690.9h0M95 691.3h0M76.6 681.1h0M96.2 691.3h0M93.3 688.1h0M87.2 690.1h0M90.5 690.5h0M87.7 688.4h0M90.3 687h0M86.1 686.2h0M92.6 689.9h0M94 690.3h0M93.3 691.5h0M93.9 690.8h0M84.7 685h0M94.4 690.1h0M94.3 690.8h0M88.5 689h0M94.6 692.2h0M95.9 691.4h0M90.1 690.1h0M90.2 686.9h0M90.2 687.7h0M80.6 681.9h0M113 690.3h0M102 690.8h0M102.9 689.3h0M106.6 688.6h0M114.5 689.6h0M99.9 691.1h0M103.2 691.7h0M106.9 690.1h0M98.9 693.1h0M106 689.5h0M108.8 685h0M111.6 685.1h0M104.5 689.1h0M102.9 691.7h0M109.3 689.7h0M103.3 689.5h0M101.3 691.4h0M103.3 691.5h0M99 690.7h0M98.9 691.5h0M104.5 688.3h0M109.1 688.2h0M107.8 690.6h0M107.8 687.5h0M112.7 689.1h0M107.5 688.7h0M107.6 686.3h0M109.2 683.6h0M104.9 690.4h0M109.9 689.5h0M106.4 686.1h0M109.1 689.4h0M99.6 692h0M103.6 689.3h0M101.7 690.6h0M104.9 688.9h0M106.5 690.1h0M100.2 692.7h0M110.8 684.6h0M104.3 689.9h0M100.5 690.9h0M105.6 690.9h0M112.1 686.9h0M100.6 690.1h0M102 691.1h0M110.4 687.6h0M106.4 686.5h0M100.2 689.9h0M106.3 691.5h0M102.5 692.5h0M107.6 686.9h0M99.4 692.4h0M110.8 687.3h0M100.7 691.1h0M119.3 685.5h0M101.6 691h0M99.2 692.2h0M103.7 689.9h0M116.1 683.7h0M109.1 686.2h0M100.7 690.9h0M101.8 689.3h0M114.5 684.9h0M101.2 691.3h0M100.5 692h0M99.7 690.9h0M109.8 689.2h0M109 688.9h0M106.7 688.6h0M101.6 690.8h0M103.2 690.4h0M110.5 688.5h0M113.7 690.5h0M113 686.2h0M105.3 688.2h0M114.4 688.2h0M104.1 687.5h0M108.4 688.5h0M106.8 686.4h0M102.3 691.4h0M104 688.3h0M109 685.4h0M105.1 687.6h0M103.5 689.7h0M103.1 688.7h0M104.7 690.7h0M106.6 687.7h0M108.8 687h0M99.1 690.7h0M107.2 690.1h0M100.6 691.3h0M105.9 687.1h0M102.9 689h0M101.8 690.6h0M107.5 691.3h0M106.8 688.3h0M101 690.4h0M112.5 682.4h0M111.8 689.7h0M99.1 690.6h0M101.6 689.8h0M103.5 690.2h0M103 690.9h0M102.4 690.2h0M108.5 683.3h0M99.4 693.1h0M104 688.9h0M99.7 691.6h0M104 691.7h0M111.2 686.7h0M100.3 690.9h0M100.9 691.3h0M99.1 691.8h0M101 692.3h0M115.2 687.5h0M114.7 681.4h0M102 690.3h0M103.7 687.4h0M105.7 688.5h0M99.5 691.7h0M104.9 691.6h0M107.5 690.2h0M113.2 687.5h0M104.3 687.5h0M111.7 683.2h0M107 690.3h0M112 688.2h0M101.1 691.2h0M102.9 690h0M99.1 692.2h0M108.2 688.4h0M107.5 685.9h0M112 683.2h0M101 692.5h0M105.9 687.3h0M101 689h0M102 691.2h0M107.2 689.7h0M100.1 691.2h0M115 685.8h0M104.6 691.1h0M103.3 689.4h0M103.9 687.4h0M106.3 687.8h0M105.6 688.2h0M102.5 689.2h0M102.1 688.8h0M106.3 688.8h0M111.9 686.4h0M99.4 692.2h0M109.3 684.3h0M101.3 690.1h0M102.2 689.8h0M101.8 692.4h0M110.6 682.9h0M102.3 689.6h0M105.9 688.7h0M101.6 690.8h0M102.4 689h0M110.3 686.8h0M107.1 687.6h0M115 689.1h0M110.8 683.6h0M103.2 690.1h0M108 687.6h0M114.3 685.2h0M103.3 690.1h0M116.6 687.1h0M103.7 691.8h0M102.4 691.3h0M111.7 686.5h0M101.9 691.8h0M107.9 685.2h0M105.4 687.7h0M108.8 689.7h0M101.3 692h0M108.9 690.3h0M102.5 689.9h0M114.1 685.5h0M104 691.4h0M103 689.1h0M98.8 691.7h0M111.9 688.5h0M105.4 690.5h0M102 691.3h0M111.7 685.4h0M112.7 683.2h0M105.8 691.4h0M104.9 689.1h0M108.9 688.5h0M117.6 687.5h0M99 692.4h0M102.7 692.1h0M100.7 691h0M100.8 691.6h0M101.6 690.4h0M101.9 689.9h0M100.6 690.1h0M103.9 691.6h0M115.8 678.5h0M104.2 688.7h0M101.1 691.3h0M101.9 690h0M113 683.8h0M101.9 692.3h0M99.1 691.3h0M106.9 686.1h0M100.9 690.8h0M100.3 690.3h0M98.8 692.8h0M101.8 689.8h0M107.1 686.6h0M114.6 688.5h0M101.7 690.3h0M110.8 686h0M102.3 688.2h0M102.8 691.5h0M104.8 689h0M99.5 692.1h0M101.3 691h0M108 686h0M112.9 683.2h0M105.2 688.7h0M102.2 689.9h0M111.4 685.1h0M99.8 692.8h0M103.7 687.8h0M103.8 691.5h0M99.6 691h0M103.7 689.4h0M105.4 690.3h0M106.4 690.7h0M100.2 690.9h0M111.6 687.6h0M99.8 691.5h0M101 691.2h0M102.8 692.5h0M103.1 690h0M106.8 686.4h0M106.7 690.6h0M102.6 689.7h0M100.3 692.6h0M111.3 690.8h0M103.6 691h0M102.1 691.8h0M108.1 687.7h0M107.1 687.1h0M119.1 681.2h0M104.8 691.2h0M101.2 691h0M100.4 691.1h0M101.1 691.5h0M100.1 692.7h0M102.2 690h0M103.3 689.9h0M112.7 682.9h0M99.4 691.6h0M104.7 690h0M98.8 692.6h0M119.8 676.4h0M102 690.9h0M103.4 689.7h0M98.8 692.1h0M109 685.8h0M116.1 686.9h0M111.6 682.5h0M109.6 689.8h0M103.4 689.5h0M101.8 689.9h0M102.7 688.7h0M100.6 691.7h0M103 692.1h0M107.6 687.2h0M99.6 692.4h0M104 687.8h0M103.1 688.2h0M101.8 691.2h0M104.4 689.7h0M104.7 691.1h0M100.4 691.7h0M110.1 689.7h0M104.4 688.8h0M113.5 684.7h0M107.2 687.3h0M100.3 690.5h0M98.8 690.9h0M106.7 689h0M101.2 690.2h0M111.2 688.5h0M105.9 688.9h0M107.6 687.4h0M100.9 691.9h0M102.3 688.6h0M108.2 685.3h0M106.1 690.2h0M104.2 686.9h0M102.4 690.7h0M107.2 686.2h0M106.2 687.7h0M107 685.2h0M111.3 687.1h0M102.2 692.2h0M100.8 691.3h0M106.1 692.2h0M99.1 692.8h0M108.1 691.2h0M107.5 686.6h0M106.3 687.5h0M101.4 690.6h0M102.5 690.3h0M108 686.1h0M104.4 691.5h0M102 689h0M108.8 689.9h0M115.1 685.1h0M111 685.2h0M102.5 688.7h0M105.2 689.8h0M98.9 691.4h0M102.4 688.7h0M99.3 692.2h0M99.2 692.6h0M104 687h0M100.4 690.7h0M100.3 691.3h0M116.6 684.7h0M100.1 690.3h0M99.3 690.4h0M101.5 692.1h0M100.8 690.4h0M101.8 689.9h0M102.4 689.9h0M113.6 686.7h0M99.2 691h0M106.6 691h0M118.4 688.8h0M106.2 685.9h0M106.3 687.2h0M103.7 688.8h0M107.7 689.5h0M111.3 685.2h0M107.1 689.2h0M105.8 689h0M102 688.4h0M107.1 690h0M108.9 688.8h0M103.6 691.2h0M101.7 691.8h0M102.2 690.4h0M108.3 691.4h0M107.8 688h0M108.1 686.2h0M105.4 691.5h0M113.2 686.2h0M104.5 689.3h0M101.6 691.1h0M102.8 689.4h0M115.8 680.7h0M106.2 691h0M104.5 689.5h0M104.6 690h0M116.6 683.7h0M100.6 690.6h0M99.5 691.8h0M110.4 690h0M112.8 686.7h0M111.1 689.8h0M110.7 687.7h0M105.9 689.5h0M100.3 693.1h0M100 691.7h0M101.8 691.6h0M106.2 690.7h0M102.7 691.1h0M100.5 692.6h0M100.7 692.3h0M103.9 690h0M106.9 685.7h0M105.2 688.8h0M112.7 681.4h0M101.2 690.4h0M105.7 689.6h0M107.2 690.2h0M101.8 689.3h0M101.9 690.5h0M109.4 684.9h0M100.4 691.9h0M104.6 690.7h0M99.5 691.3h0M111.9 685.4h0M108 689.5h0M100.8 691.7h0M99.3 691.6h0M99.6 690.7h0M113.8 683.9h0M103.2 690.2h0M105 688.6h0M104.7 688.7h0M100.5 692h0M100.7 690h0M111.5 688.7h0M102.4 689.9h0M99.9 692.4h0M106.2 689.2h0M104 690.1h0M105.4 687.3h0M104.3 686.5h0M108.9 687.8h0M102 690.4h0M107.4 687.8h0M106.2 689.3h0M104.1 688.8h0M103.2 690.1h0M98.9 692.2h0M104.6 692h0M103.7 692.2h0M105.2 687.4h0M99 693.3h0M101 691.9h0M100.8 691.6h0M103.4 690.2h0M101.9 689.4h0M104.8 686.8h0M101.9 688.9h0M101.2 691.7h0M101.9 688.6h0M104.6 688.6h0M102.6 691.8h0M102.5 689h0M100.6 691.7h0M101.9 690.4h0M108.9 688.3h0M103.2 690.1h0M111.8 682h0M113.8 682h0M110.1 683h0M101.8 690.7h0M109.6 685.8h0M98.8 691.8h0M102 688.6h0M109.6 688.7h0M121 685.8h0M107.7 690.8h0M105.6 689.9h0M105.5 687.5h0M102 691.9h0M100.9 690.9h0M100.3 692h0M105.4 688.8h0M100 692h0M107.1 691h0M116.9 681.7h0M104.5 687.6h0M100.3 691.1h0M101.4 690.9h0M106.3 689h0M100.4 689.3h0M100.7 690.5h0M100.7 691.1h0M103.6 690.3h0M100.9 690.1h0M106.8 689.7h0M104.1 690.5h0M105.6 690.3h0M116.1 686.7h0M110 683.2h0M103.2 688h0M108.7 689.3h0M101.8 690h0M111.8 690.3h0M99.8 690.9h0M101.8 689.7h0M104 691h0M102.3 690.1h0M99.3 689.9h0M109.5 688.5h0M109.5 684.4h0M102.3 691.5h0M107.6 685.4h0M100.1 690.1h0M102.9 690.9h0M106.1 688h0M104.9 689.1h0M99 692.4h0M106.2 690.3h0M105.3 687.8h0M102 692.1h0M103.4 691.1h0M98.9 690.7h0M98.8 691h0M100.9 690.4h0M108.4 685.6h0M104.4 690.5h0M112.4 685.8h0M98.8 691.6h0M107 686.2h0M112.6 682h0M109.7 685.3h0M101.7 691.9h0M104.6 690.9h0M100.1 690.5h0M103.6 692.2h0M115.5 684.5h0M101.5 689.2h0M100.9 691.6h0M104.5 687.3h0M105.3 691.3h0M100.3 691.5h0M99.1 690.3h0M109 683.5h0M105.3 692h0M103.3 692.5h0M111.5 686h0M110.2 685.7h0M106.7 689.3h0M99.1 690.5h0M106.8 686.4h0M117.4 680.8h0M104.7 686.3h0M102.5 690.7h0M105.7 686.2h0M108 687.5h0M99.7 691.6h0M108.9 684.7h0M107.9 689.8h0M100.8 690.5h0M100.7 690.5h0M108.3 687.3h0M108.7 684.2h0M105.3 686.8h0M105.1 689.1h0M100.4 692.2h0M103.2 689.5h0M109.5 686.3h0M104.2 689h0M105.1 689.2h0M100.8 688.8h0M113.5 681.3h0M103.3 687.4h0M114.8 684.5h0M116.2 679.5h0M102.3 690.7h0M107.8 690.3h0M101.2 692.2h0M116.3 679.3h0M107.2 686.5h0M102.9 689h0M100.6 691.9h0M105 688.4h0M101 689.3h0M101.1 691.6h0M100.3 690.8h0M105.6 685.8h0M100.3 691.6h0M110 686.1h0M105.3 685.9h0M99.1 693.1h0M101 690.9h0M104.6 688.8h0M101.5 691.6h0M100.4 691.8h0M104.2 688.4h0M104.4 691.8h0M100.9 691.6h0M100.7 691.9h0M103.5 690.7h0M106.2 688.5h0M109.3 686.3h0M100.9 690.8h0M106.5 687h0M103.3 690.5h0M101.2 692h0M103.8 688.6h0M102.1 688.4h0M114.5 685.8h0M106.3 686.9h0M100.5 692.1h0M100.3 690.7h0M112.1 686.3h0M100.5 690.8h0M104.9 689.4h0M104.6 689.5h0M100.6 692.4h0M112.1 681.2h0M103.7 690.2h0M101.5 690.1h0M103.8 689.8h0M102.7 688.7h0M101 691.8h0M109.6 690.7h0M99.2 691.3h0M99.3 690.8h0M105 691h0M102.6 689.4h0M105.2 690h0M102.5 690.7h0M103.8 688.7h0M102.1 691.1h0M100.2 690.6h0M112.7 690.3h0M101.1 692h0M100.4 691.7h0M104 691.8h0M105 691.7h0M115.6 680.2h0M101.1 688.9h0M109.3 684.2h0M112.2 681.2h0M107.7 685.4h0M100.2 692h0M102.9 688.8h0M109.6 686.1h0M99 692.7h0M110.8 684.5h0M103.4 691.7h0M110.2 683h0M102.2 689.4h0M108.8 689.4h0" stroke="#5e5e5e" stroke-width="1.1" stroke-linecap="round" fill="none" opacity="0.8"/>
<path d="M84.7 683.1h0M85.5 681.1h0M119.8 686.8h0M73.3 672.1h0M70.4 679.1h0M71.3 684.1h0M95.2 687.8h0M116.8 687.1h0M95.3 692h0M102.7 685.1h0M97.1 686.7h0M90.3 682.6h0M49.8 664.1h0M97.7 692.4h0M93.4 687.1h0M110.7 684.3h0M72.5 672.7h0M78.2 677.5h0M102.9 691.6h0M75.4 682.8h0M87.9 687.1h0M130.7 683.2h0M84.3 681.1h0M88.7 688.1h0M110.8 691.5h0M96.1 692h0M134 666.3h0M113 680.2h0M140.9 676.3h0M114.9 685.1h0M78.3 683.8h0M107 685.7h0M113.1 685.1h0M89.4 684.1h0M101.9 686.1h0M78.2 675.1h0M80.7 685.1h0M96.8 686h0M81.4 680.6h0M99.3 689.1h0M87.1 687.4h0M125.6 674.5h0M112 686.4h0M115.2 681.4h0M106.6 684.5h0M75.4 680.1h0M121.2 684.7h0M96 684.8h0M103.7 685.6h0M84.3 682.7h0M125.1 675.5h0M79 676.3h0M105.3 685.1h0M107.8 687.3h0M61.6 677.5h0M114.3 686.8h0M101.3 689.7h0M94.3 689.8h0M92.7 683.5h0M83.2 688.5h0M109.8 685.6h0M111.5 684.2h0M98.1 692.7h0M66.8 677.4h0M99 690.2h0M88 684.7h0M79.8 687h0M90.7 685.3h0M105.7 686.2h0M126.9 687.2h0M82.4 684.5h0M77.6 680.6h0M89.4 682.9h0M95.6 691.5h0M110 686.6h0M107 684.9h0M110.6 684.6h0M87.7 682.5h0M105.2 688.7h0M102.9 688.1h0M114.6 682.2h0M94.4 690.5h0M108.3 686.2h0M56 662.3h0M132.6 671.7h0M73.8 678.9h0M77.4 682.8h0M77.7 680.1h0M92.6 685.3h0M114.7 678.8h0M98.6 690.2h0M108.4 687h0M85.3 685.9h0M79.4 677.4h0M128.7 673.8h0M100.3 690.6h0M129.6 667.8h0M90.3 690.4h0M65.5 673.6h0M85.3 684.3h0M101.7 685.3h0M102.2 684.3h0M96.2 688.3h0M105.2 687.9h0M110.8 683.3h0M91.4 687.9h0M88.2 685.6h0M86.2 687.5h0M92.4 689.5h0M111.8 687.8h0M97 689.2h0M105.1 683h0M97.2 691h0M118.8 686.8h0M65.2 673.9h0M129.3 669.8h0M89.1 681.3h0M102.6 684.8h0M104 688.8h0M96.6 686.8h0M103.6 688.3h0M116.3 687.5h0M91.7 688.7h0M96.4 687.7h0M110.8 682.5h0M108.6 684.8h0M81.8 681.4h0M117.4 684.6h0M104.8 687.4h0M84.8 685.3h0M93.8 690.1h0M110.4 684.8h0M103.6 688.4h0M94.9 689.9h0M118.3 681.7h0M107.5 689.4h0M87.3 682.5h0M67.8 675.5h0M96.4 688.9h0M117.6 686.9h0M86 685.6h0M106.6 690.4h0M98.1 686.8h0M92.7 683.1h0M82.8 678.8h0M91 685.9h0M105.6 685.6h0M67 669.3h0M92 689.9h0M103.7 685.4h0M107.3 682.5h0M91.5 685.3h0M94.1 688.5h0M112.9 681.1h0M116.7 683.1h0M107.5 689.9h0M88.3 687.6h0M105.2 685.1h0M99.3 689.3h0M95.6 688.3h0" stroke="#a8a8a8" stroke-width="0.90" stroke-linecap="round" fill="none" opacity="0.6"/>
<path d="M77.9 617.2h0M125.4 596.6h0M123 644.6h0M144.2 649.5h0M132.4 651.5h0" stroke="#9a8f9a" stroke-width="1.1" stroke-linecap="round" fill="none"/>
<path d="M136.8 626.4h0M129.9 633.2h0M138.1 634.8h0M141.6 635.4h0M140.1 642.2h0M132.4 644.6h0M163.2 667.5h0M127 660h0M134 661h0M116 668h0M113 672h0M118 675h0" stroke="#e0405a" stroke-width="1.4" stroke-linecap="round" fill="none" opacity="0.95"/>
<path d="M49.9 658.9h0M39.1 649.5h0M84.5 655h0M87 664h0M75 667h0M71 670h0M88 671h0M58 668h0" stroke="#34349e" stroke-width="1.4" stroke-linecap="round" fill="none" opacity="0.95"/>
<text x="39.1" y="646.6" font-size="5.45" text-anchor="middle" fill="#1a1a1a" stroke="#1a1a1a" stroke-width="0.12" font-style="italic">Dusp2</text>
<text x="44.6" y="656" font-size="5.45" text-anchor="middle" fill="#1a1a1a" stroke="#1a1a1a" stroke-width="0.12" font-style="italic">Zfp36</text>
<text x="66.1" y="659.7" font-size="5.45" text-anchor="middle" fill="#1a1a1a" stroke="#1a1a1a" stroke-width="0.12" font-style="italic">Klrc1</text>
<text x="51.3" y="667.5" font-size="5.45" text-anchor="middle" fill="#1a1a1a" stroke="#1a1a1a" stroke-width="0.12" font-style="italic">Myc</text>
<text x="77.9" y="667.5" font-size="5.45" text-anchor="middle" fill="#1a1a1a" stroke="#1a1a1a" stroke-width="0.12" font-style="italic">Car2</text>
<text x="62.2" y="676.5" font-size="5.45" text-anchor="middle" fill="#1a1a1a" stroke="#1a1a1a" stroke-width="0.12" font-style="italic">Il18r1</text>
<text x="83.2" y="676.5" font-size="5.45" text-anchor="middle" fill="#1a1a1a" stroke="#1a1a1a" stroke-width="0.12" font-style="italic">H2-T23</text>
<text x="61.3" y="684.2" font-size="5.45" text-anchor="middle" fill="#1a1a1a" stroke="#1a1a1a" stroke-width="0.12" font-style="italic">Atf3</text>
<text x="89" y="684.2" font-size="5.45" text-anchor="middle" fill="#1a1a1a" stroke="#1a1a1a" stroke-width="0.12" font-style="italic">Id2</text>
<text x="54.2" y="692.2" font-size="5.45" text-anchor="middle" fill="#1a1a1a" stroke="#1a1a1a" stroke-width="0.12" font-style="italic">Tcf7</text>
<text x="71.4" y="696.1" font-size="5.45" text-anchor="middle" fill="#1a1a1a" stroke="#1a1a1a" stroke-width="0.12" font-style="italic">Hif1a</text>
<text x="87" y="695" font-size="5.45" text-anchor="middle" fill="#1a1a1a" stroke="#1a1a1a" stroke-width="0.12" font-style="italic">Runx3</text>
<text x="141.6" y="622.5" font-size="5.45" text-anchor="middle" fill="#1a1a1a" stroke="#1a1a1a" stroke-width="0.12" font-style="italic">Ifitm1</text>
<text x="150.5" y="646.6" font-size="5.45" text-anchor="middle" fill="#1a1a1a" stroke="#1a1a1a" stroke-width="0.12" font-style="italic">Dgat1</text>
<text x="118.2" y="651.5" font-size="5.45" text-anchor="middle" fill="#1a1a1a" stroke="#1a1a1a" stroke-width="0.12" font-style="italic">Cxcl2</text>
<text x="124.6" y="658.7" font-size="5.45" text-anchor="middle" fill="#1a1a1a" stroke="#1a1a1a" stroke-width="0.12" font-style="italic">Cd7</text>
<text x="138.7" y="657.3" font-size="5.45" text-anchor="middle" fill="#1a1a1a" stroke="#1a1a1a" stroke-width="0.12" font-style="italic">Ccr5</text>
<text x="157.3" y="664.2" font-size="5.45" text-anchor="middle" fill="#1a1a1a" stroke="#1a1a1a" stroke-width="0.12" font-style="italic">Gzmb</text>
<text x="103.1" y="667.1" font-size="5.45" text-anchor="middle" fill="#1a1a1a" stroke="#1a1a1a" stroke-width="0.12" font-style="italic">Itga1</text>
<text x="120.1" y="668.1" font-size="5.45" text-anchor="middle" fill="#1a1a1a" stroke="#1a1a1a" stroke-width="0.12" font-style="italic">Litaf</text>
<text x="136.4" y="668.5" font-size="5.45" text-anchor="middle" fill="#1a1a1a" stroke="#1a1a1a" stroke-width="0.12" font-style="italic">Orai1</text>
<text x="107.4" y="676.9" font-size="5.45" text-anchor="middle" fill="#1a1a1a" stroke="#1a1a1a" stroke-width="0.12" font-style="italic">Cd160</text>
<text x="125.4" y="677.3" font-size="5.45" text-anchor="middle" fill="#1a1a1a" stroke="#1a1a1a" stroke-width="0.12" font-style="italic">Il21r</text>
<text x="147.1" y="680.4" font-size="5.45" text-anchor="middle" fill="#1a1a1a" stroke="#1a1a1a" stroke-width="0.12" font-style="italic">Serpinb6b</text>
<text x="100.5" y="684.3" font-size="5.45" text-anchor="middle" fill="#1a1a1a" stroke="#1a1a1a" stroke-width="0.12" font-style="italic">Fasl</text>
<text x="118.7" y="684.7" font-size="5.45" text-anchor="middle" fill="#1a1a1a" stroke="#1a1a1a" stroke-width="0.12" font-style="italic">Ccl3</text>
<text x="136.8" y="692.2" font-size="5.45" text-anchor="middle" fill="#1a1a1a" stroke="#1a1a1a" stroke-width="0.12" font-style="italic">Gzma</text>
<text x="160.8" y="689.6" font-size="5.45" text-anchor="middle" fill="#1a1a1a" stroke="#1a1a1a" stroke-width="0.12" font-style="italic">Gzmc</text>
<text x="119.1" y="695.5" font-size="5.45" text-anchor="middle" fill="#1a1a1a" stroke="#1a1a1a" stroke-width="0.12" font-style="italic">Nfil3</text>
<text x="104.5" y="695.5" font-size="5.45" text-anchor="middle" fill="#1a1a1a" stroke="#1a1a1a" stroke-width="0.12" font-style="italic">Irf8</text>
<path d="M61 690L86 688" stroke="#aaa" stroke-width="0.3" fill="none"/>
<path d="M108 680L112 688" stroke="#aaa" stroke-width="0.3" fill="none"/>
<path d="M128 689L112 690" stroke="#aaa" stroke-width="0.3" fill="none"/>
<path d="M131 679L120 684" stroke="#aaa" stroke-width="0.3" fill="none"/>
</g>
<g>
<text x="208.6" y="594" font-size="10.2" text-anchor="start" fill="#000" stroke="#000" stroke-width="0.12" font-weight="bold">O</text>
<text x="307" y="616.1" font-size="7.0" text-anchor="middle" fill="#161616" stroke="#161616" stroke-width="0.12">KEGG pathways</text>
<rect x="271.2" y="623" width="68.5" height="7.5" fill="#e3262c" stroke="#3a0d0f" stroke-width="0.4"/>
<text x="273.6" y="629.3" font-size="6.4" text-anchor="start" fill="#fff" stroke="#fff" stroke-width="0.12">0.00386</text>
<rect x="271.2" y="631.8" width="59.4" height="7.5" fill="#e3262c" stroke="#3a0d0f" stroke-width="0.4"/>
<text x="273.6" y="638.1" font-size="6.4" text-anchor="start" fill="#fff" stroke="#fff" stroke-width="0.12">0.01819</text>
<rect x="271.2" y="640.6" width="41.4" height="7.3" fill="#e3262c" stroke="#3a0d0f" stroke-width="0.4"/>
<text x="273.6" y="646.8" font-size="6.4" text-anchor="start" fill="#fff" stroke="#fff" stroke-width="0.12">0.0084</text>
<text x="268.4" y="628.9" font-size="7.0" text-anchor="end" fill="#161616" stroke="#161616" stroke-width="0.12">TNF signaling pathway</text>
<text x="268.4" y="637" font-size="7.0" text-anchor="end" fill="#161616" stroke="#161616" stroke-width="0.12">NK-cell cytotoxicity</text>
<text x="268.4" y="644.5" font-size="7.0" text-anchor="end" fill="#161616" stroke="#161616" stroke-width="0.12">Cytokine–cytokine</text>
<text x="268.4" y="651" font-size="7.0" text-anchor="end" fill="#161616" stroke="#161616" stroke-width="0.12">receptor interaction</text>
<path d="M271.2 621.5L271.2 650.2" stroke="#222" stroke-width="0.6" fill="none"/>
<path d="M270.9 650.2L344.5 650.2" stroke="#222" stroke-width="0.6" fill="none"/>
<path d="M271.2 650.2L271.2 651.8" stroke="#222" stroke-width="0.5" fill="none"/>
<text x="271.2" y="658.3" font-size="7.0" text-anchor="middle" fill="#161616" stroke="#161616" stroke-width="0.12">0</text>
<path d="M295.4 650.2L295.4 651.8" stroke="#222" stroke-width="0.5" fill="none"/>
<text x="295.4" y="658.3" font-size="7.0" text-anchor="middle" fill="#161616" stroke="#161616" stroke-width="0.12">2</text>
<path d="M319.5 650.2L319.5 651.8" stroke="#222" stroke-width="0.5" fill="none"/>
<text x="319.5" y="658.3" font-size="7.0" text-anchor="middle" fill="#161616" stroke="#161616" stroke-width="0.12">4</text>
<path d="M343.7 650.2L343.7 651.8" stroke="#222" stroke-width="0.5" fill="none"/>
<text x="343.7" y="658.3" font-size="7.0" text-anchor="middle" fill="#161616" stroke="#161616" stroke-width="0.12">6</text>
<text x="307" y="669.5" font-size="7.0" text-anchor="middle" fill="#161616" stroke="#161616" stroke-width="0.12">Fold enrichment</text>
</g>
</svg>
</body></html>
